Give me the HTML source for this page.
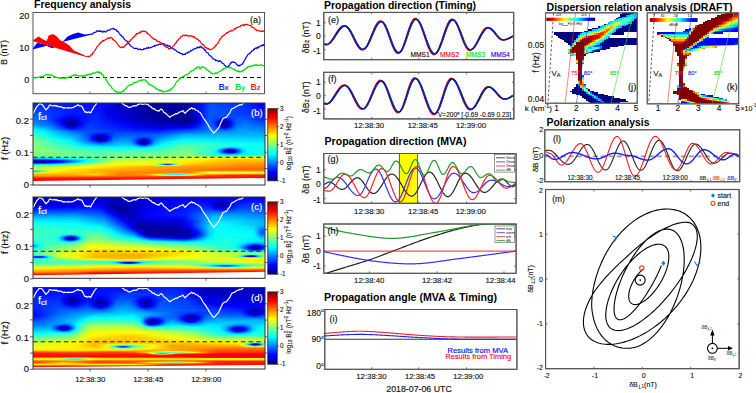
<!DOCTYPE html>
<html><head><meta charset="utf-8"><style>
html,body{margin:0;padding:0;background:#fff;overflow:hidden}
svg{display:block;font-family:"Liberation Sans", sans-serif}
</style></head><body>
<svg width="756" height="393" viewBox="0 0 756 393" font-family='&quot;Liberation Sans&quot;, sans-serif'>
<defs>
<linearGradient id="b0"><stop offset="0.002" stop-color="#0026ff"/><stop offset="0.200" stop-color="#0016ff"/><stop offset="0.289" stop-color="#000cff"/><stop offset="0.373" stop-color="#0000bd"/><stop offset="0.542" stop-color="#000094"/><stop offset="0.669" stop-color="#0000a1"/><stop offset="0.715" stop-color="#0007ff"/><stop offset="0.757" stop-color="#004cff"/><stop offset="0.914" stop-color="#0028ff"/><stop offset="0.964" stop-color="#0000f1"/><stop offset="0.998" stop-color="#0000e7"/></linearGradient>
<linearGradient id="b1"><stop offset="0.002" stop-color="#002aff"/><stop offset="0.192" stop-color="#0017ff"/><stop offset="0.289" stop-color="#000dff"/><stop offset="0.373" stop-color="#0000bf"/><stop offset="0.538" stop-color="#000095"/><stop offset="0.669" stop-color="#0000a1"/><stop offset="0.715" stop-color="#0008ff"/><stop offset="0.757" stop-color="#004eff"/><stop offset="0.918" stop-color="#0026ff"/><stop offset="0.968" stop-color="#0000f1"/><stop offset="0.998" stop-color="#0000eb"/></linearGradient>
<linearGradient id="b2"><stop offset="0.002" stop-color="#002fff"/><stop offset="0.184" stop-color="#0017ff"/><stop offset="0.289" stop-color="#000eff"/><stop offset="0.373" stop-color="#0000c1"/><stop offset="0.538" stop-color="#000095"/><stop offset="0.669" stop-color="#0000a2"/><stop offset="0.715" stop-color="#0009ff"/><stop offset="0.757" stop-color="#004fff"/><stop offset="0.918" stop-color="#0028ff"/><stop offset="0.973" stop-color="#0000f2"/><stop offset="0.998" stop-color="#0000ee"/></linearGradient>
<linearGradient id="b3"><stop offset="0.002" stop-color="#0034ff"/><stop offset="0.179" stop-color="#0018ff"/><stop offset="0.289" stop-color="#000fff"/><stop offset="0.378" stop-color="#0000c2"/><stop offset="0.534" stop-color="#000096"/><stop offset="0.669" stop-color="#0000a3"/><stop offset="0.715" stop-color="#000aff"/><stop offset="0.757" stop-color="#0051ff"/><stop offset="0.918" stop-color="#002bff"/><stop offset="0.977" stop-color="#0000f4"/><stop offset="0.998" stop-color="#0000f2"/></linearGradient>
<linearGradient id="b4"><stop offset="0.002" stop-color="#0038ff"/><stop offset="0.171" stop-color="#0019ff"/><stop offset="0.289" stop-color="#0011ff"/><stop offset="0.357" stop-color="#0000c7"/><stop offset="0.538" stop-color="#000097"/><stop offset="0.669" stop-color="#0000a3"/><stop offset="0.715" stop-color="#000bff"/><stop offset="0.757" stop-color="#0053ff"/><stop offset="0.918" stop-color="#002dff"/><stop offset="0.981" stop-color="#0000f6"/><stop offset="0.998" stop-color="#0000f6"/></linearGradient>
<linearGradient id="b5"><stop offset="0.002" stop-color="#003dff"/><stop offset="0.167" stop-color="#001aff"/><stop offset="0.289" stop-color="#0012ff"/><stop offset="0.335" stop-color="#0000d8"/><stop offset="0.521" stop-color="#000097"/><stop offset="0.669" stop-color="#0000a4"/><stop offset="0.715" stop-color="#000cff"/><stop offset="0.757" stop-color="#0054ff"/><stop offset="0.918" stop-color="#002fff"/><stop offset="0.985" stop-color="#0000f9"/><stop offset="0.998" stop-color="#0000f9"/></linearGradient>
<linearGradient id="b6"><stop offset="0.002" stop-color="#0041ff"/><stop offset="0.167" stop-color="#001cff"/><stop offset="0.289" stop-color="#0013ff"/><stop offset="0.327" stop-color="#0000e4"/><stop offset="0.496" stop-color="#000098"/><stop offset="0.669" stop-color="#0000a4"/><stop offset="0.715" stop-color="#000dff"/><stop offset="0.757" stop-color="#0056ff"/><stop offset="0.918" stop-color="#0031ff"/><stop offset="0.989" stop-color="#0000fd"/><stop offset="0.998" stop-color="#0000fd"/></linearGradient>
<linearGradient id="b7"><stop offset="0.002" stop-color="#0046ff"/><stop offset="0.162" stop-color="#001cff"/><stop offset="0.289" stop-color="#0015ff"/><stop offset="0.331" stop-color="#0000e0"/><stop offset="0.517" stop-color="#000098"/><stop offset="0.669" stop-color="#0000a3"/><stop offset="0.715" stop-color="#000dff"/><stop offset="0.757" stop-color="#0057ff"/><stop offset="0.922" stop-color="#0030ff"/><stop offset="0.998" stop-color="#0001ff"/></linearGradient>
<linearGradient id="b8"><stop offset="0.002" stop-color="#004aff"/><stop offset="0.162" stop-color="#001cff"/><stop offset="0.289" stop-color="#0016ff"/><stop offset="0.331" stop-color="#0000e2"/><stop offset="0.517" stop-color="#000099"/><stop offset="0.669" stop-color="#0000a2"/><stop offset="0.715" stop-color="#000dff"/><stop offset="0.757" stop-color="#0059ff"/><stop offset="0.922" stop-color="#0032ff"/><stop offset="0.998" stop-color="#0005ff"/></linearGradient>
<linearGradient id="b9"><stop offset="0.002" stop-color="#0050ff"/><stop offset="0.167" stop-color="#001bff"/><stop offset="0.285" stop-color="#001bff"/><stop offset="0.327" stop-color="#0000e8"/><stop offset="0.508" stop-color="#00009a"/><stop offset="0.669" stop-color="#0000a0"/><stop offset="0.715" stop-color="#000cff"/><stop offset="0.757" stop-color="#005aff"/><stop offset="0.922" stop-color="#0034ff"/><stop offset="0.998" stop-color="#0009ff"/></linearGradient>
<linearGradient id="b10"><stop offset="0.002" stop-color="#0056ff"/><stop offset="0.171" stop-color="#0018ff"/><stop offset="0.285" stop-color="#001cff"/><stop offset="0.327" stop-color="#0000ea"/><stop offset="0.513" stop-color="#00009a"/><stop offset="0.669" stop-color="#00009d"/><stop offset="0.715" stop-color="#000aff"/><stop offset="0.753" stop-color="#0059ff"/><stop offset="0.922" stop-color="#0036ff"/><stop offset="0.998" stop-color="#000cff"/></linearGradient>
<linearGradient id="b11"><stop offset="0.002" stop-color="#005cff"/><stop offset="0.175" stop-color="#0012ff"/><stop offset="0.281" stop-color="#0021ff"/><stop offset="0.327" stop-color="#0000eb"/><stop offset="0.513" stop-color="#00009b"/><stop offset="0.669" stop-color="#00009a"/><stop offset="0.715" stop-color="#0007ff"/><stop offset="0.753" stop-color="#0059ff"/><stop offset="0.922" stop-color="#0039ff"/><stop offset="0.998" stop-color="#0010ff"/></linearGradient>
<linearGradient id="b12"><stop offset="0.002" stop-color="#0062ff"/><stop offset="0.179" stop-color="#000aff"/><stop offset="0.276" stop-color="#0024ff"/><stop offset="0.327" stop-color="#0000ee"/><stop offset="0.513" stop-color="#00009b"/><stop offset="0.669" stop-color="#000095"/><stop offset="0.715" stop-color="#0004ff"/><stop offset="0.753" stop-color="#005aff"/><stop offset="0.922" stop-color="#003cff"/><stop offset="0.998" stop-color="#0013ff"/></linearGradient>
<linearGradient id="b13"><stop offset="0.002" stop-color="#0069ff"/><stop offset="0.099" stop-color="#002bff"/><stop offset="0.175" stop-color="#0000fa"/><stop offset="0.268" stop-color="#0029ff"/><stop offset="0.331" stop-color="#0000ef"/><stop offset="0.517" stop-color="#00009c"/><stop offset="0.669" stop-color="#000090"/><stop offset="0.707" stop-color="#0000e4"/><stop offset="0.719" stop-color="#000eff"/><stop offset="0.753" stop-color="#005bff"/><stop offset="0.842" stop-color="#004bff"/><stop offset="0.918" stop-color="#0045ff"/><stop offset="0.998" stop-color="#0017ff"/></linearGradient>
<linearGradient id="b14"><stop offset="0.002" stop-color="#006fff"/><stop offset="0.086" stop-color="#0037ff"/><stop offset="0.150" stop-color="#0000f2"/><stop offset="0.188" stop-color="#0000f3"/><stop offset="0.268" stop-color="#002aff"/><stop offset="0.335" stop-color="#0000f0"/><stop offset="0.517" stop-color="#00009d"/><stop offset="0.669" stop-color="#00008c"/><stop offset="0.703" stop-color="#0000d2"/><stop offset="0.719" stop-color="#000cff"/><stop offset="0.753" stop-color="#005cff"/><stop offset="0.829" stop-color="#003aff"/><stop offset="0.897" stop-color="#0057ff"/><stop offset="0.994" stop-color="#001bff"/><stop offset="0.998" stop-color="#001bff"/></linearGradient>
<linearGradient id="b15"><stop offset="0.002" stop-color="#0075ff"/><stop offset="0.078" stop-color="#0043ff"/><stop offset="0.137" stop-color="#0000f7"/><stop offset="0.171" stop-color="#0000d1"/><stop offset="0.213" stop-color="#000eff"/><stop offset="0.272" stop-color="#002aff"/><stop offset="0.344" stop-color="#0000ee"/><stop offset="0.454" stop-color="#0000b2"/><stop offset="0.669" stop-color="#000089"/><stop offset="0.703" stop-color="#0000d0"/><stop offset="0.719" stop-color="#000cff"/><stop offset="0.753" stop-color="#005dff"/><stop offset="0.791" stop-color="#003cff"/><stop offset="0.821" stop-color="#001fff"/><stop offset="0.880" stop-color="#005eff"/><stop offset="0.998" stop-color="#001eff"/></linearGradient>
<linearGradient id="b16"><stop offset="0.002" stop-color="#007cff"/><stop offset="0.074" stop-color="#004aff"/><stop offset="0.133" stop-color="#0000f4"/><stop offset="0.167" stop-color="#0000b9"/><stop offset="0.200" stop-color="#0000ea"/><stop offset="0.226" stop-color="#001bff"/><stop offset="0.285" stop-color="#0026ff"/><stop offset="0.352" stop-color="#0000f0"/><stop offset="0.441" stop-color="#0000bf"/><stop offset="0.521" stop-color="#00009e"/><stop offset="0.618" stop-color="#00008b"/><stop offset="0.673" stop-color="#00008d"/><stop offset="0.711" stop-color="#0000f0"/><stop offset="0.736" stop-color="#0042ff"/><stop offset="0.762" stop-color="#005fff"/><stop offset="0.816" stop-color="#0000fc"/><stop offset="0.876" stop-color="#0061ff"/><stop offset="0.939" stop-color="#003fff"/><stop offset="0.998" stop-color="#0022ff"/></linearGradient>
<linearGradient id="b17"><stop offset="0.002" stop-color="#0082ff"/><stop offset="0.074" stop-color="#0050ff"/><stop offset="0.129" stop-color="#0000f8"/><stop offset="0.167" stop-color="#0000a3"/><stop offset="0.196" stop-color="#0000d3"/><stop offset="0.217" stop-color="#000bff"/><stop offset="0.264" stop-color="#002eff"/><stop offset="0.361" stop-color="#0000f3"/><stop offset="0.454" stop-color="#0000ba"/><stop offset="0.538" stop-color="#0000a5"/><stop offset="0.618" stop-color="#00008e"/><stop offset="0.669" stop-color="#00008a"/><stop offset="0.707" stop-color="#0000e6"/><stop offset="0.724" stop-color="#0021ff"/><stop offset="0.753" stop-color="#005eff"/><stop offset="0.778" stop-color="#003fff"/><stop offset="0.800" stop-color="#0000f4"/><stop offset="0.821" stop-color="#0000da"/><stop offset="0.838" stop-color="#000aff"/><stop offset="0.867" stop-color="#005cff"/><stop offset="0.914" stop-color="#005dff"/><stop offset="0.994" stop-color="#0028ff"/><stop offset="0.998" stop-color="#0028ff"/></linearGradient>
<linearGradient id="b18"><stop offset="0.002" stop-color="#0088ff"/><stop offset="0.074" stop-color="#0059ff"/><stop offset="0.129" stop-color="#0000f7"/><stop offset="0.162" stop-color="#000093"/><stop offset="0.184" stop-color="#0000a3"/><stop offset="0.217" stop-color="#0009ff"/><stop offset="0.259" stop-color="#0031ff"/><stop offset="0.373" stop-color="#0000f8"/><stop offset="0.508" stop-color="#0000ac"/><stop offset="0.605" stop-color="#00009e"/><stop offset="0.660" stop-color="#000088"/><stop offset="0.698" stop-color="#0000d1"/><stop offset="0.715" stop-color="#000bff"/><stop offset="0.749" stop-color="#005dff"/><stop offset="0.774" stop-color="#0043ff"/><stop offset="0.791" stop-color="#0000fe"/><stop offset="0.812" stop-color="#0000b2"/><stop offset="0.829" stop-color="#0000cd"/><stop offset="0.842" stop-color="#0007ff"/><stop offset="0.867" stop-color="#005dff"/><stop offset="0.909" stop-color="#0066ff"/><stop offset="0.998" stop-color="#0032ff"/></linearGradient>
<linearGradient id="b19"><stop offset="0.002" stop-color="#008eff"/><stop offset="0.078" stop-color="#005eff"/><stop offset="0.129" stop-color="#0000f8"/><stop offset="0.162" stop-color="#000087"/><stop offset="0.184" stop-color="#000099"/><stop offset="0.217" stop-color="#0009ff"/><stop offset="0.259" stop-color="#0034ff"/><stop offset="0.390" stop-color="#0000fa"/><stop offset="0.508" stop-color="#0000b4"/><stop offset="0.601" stop-color="#0000ab"/><stop offset="0.660" stop-color="#000091"/><stop offset="0.698" stop-color="#0000db"/><stop offset="0.715" stop-color="#0013ff"/><stop offset="0.749" stop-color="#005fff"/><stop offset="0.770" stop-color="#004bff"/><stop offset="0.787" stop-color="#0005ff"/><stop offset="0.812" stop-color="#000094"/><stop offset="0.829" stop-color="#0000b3"/><stop offset="0.846" stop-color="#0010ff"/><stop offset="0.867" stop-color="#005fff"/><stop offset="0.905" stop-color="#006eff"/><stop offset="0.998" stop-color="#003bff"/></linearGradient>
<linearGradient id="b20"><stop offset="0.002" stop-color="#0095ff"/><stop offset="0.082" stop-color="#0062ff"/><stop offset="0.120" stop-color="#001cff"/><stop offset="0.133" stop-color="#0000ec"/><stop offset="0.162" stop-color="#000084"/><stop offset="0.184" stop-color="#000097"/><stop offset="0.213" stop-color="#0001ff"/><stop offset="0.247" stop-color="#0033ff"/><stop offset="0.319" stop-color="#001cff"/><stop offset="0.420" stop-color="#0000ed"/><stop offset="0.513" stop-color="#0000be"/><stop offset="0.605" stop-color="#0000b3"/><stop offset="0.660" stop-color="#00009f"/><stop offset="0.698" stop-color="#0000e8"/><stop offset="0.715" stop-color="#001cff"/><stop offset="0.749" stop-color="#0062ff"/><stop offset="0.770" stop-color="#004bff"/><stop offset="0.787" stop-color="#0000fd"/><stop offset="0.808" stop-color="#00008d"/><stop offset="0.821" stop-color="#000087"/><stop offset="0.846" stop-color="#000bff"/><stop offset="0.867" stop-color="#0062ff"/><stop offset="0.905" stop-color="#0074ff"/><stop offset="0.998" stop-color="#0045ff"/></linearGradient>
<linearGradient id="b21"><stop offset="0.002" stop-color="#009bff"/><stop offset="0.086" stop-color="#0067ff"/><stop offset="0.124" stop-color="#0018ff"/><stop offset="0.137" stop-color="#0000e4"/><stop offset="0.162" stop-color="#00008d"/><stop offset="0.184" stop-color="#00009f"/><stop offset="0.213" stop-color="#0006ff"/><stop offset="0.247" stop-color="#0037ff"/><stop offset="0.327" stop-color="#001bff"/><stop offset="0.424" stop-color="#0000f1"/><stop offset="0.513" stop-color="#0000c7"/><stop offset="0.610" stop-color="#0000bf"/><stop offset="0.665" stop-color="#0000b4"/><stop offset="0.707" stop-color="#0010ff"/><stop offset="0.749" stop-color="#0066ff"/><stop offset="0.770" stop-color="#004dff"/><stop offset="0.787" stop-color="#0000ff"/><stop offset="0.808" stop-color="#00008f"/><stop offset="0.821" stop-color="#000089"/><stop offset="0.846" stop-color="#000fff"/><stop offset="0.867" stop-color="#0067ff"/><stop offset="0.905" stop-color="#007aff"/><stop offset="0.998" stop-color="#004fff"/></linearGradient>
<linearGradient id="b22"><stop offset="0.002" stop-color="#00a8ff"/><stop offset="0.082" stop-color="#0078ff"/><stop offset="0.124" stop-color="#0026ff"/><stop offset="0.137" stop-color="#0000f4"/><stop offset="0.162" stop-color="#0000a0"/><stop offset="0.184" stop-color="#0000b0"/><stop offset="0.209" stop-color="#0004ff"/><stop offset="0.243" stop-color="#0039ff"/><stop offset="0.323" stop-color="#0024ff"/><stop offset="0.432" stop-color="#0000f2"/><stop offset="0.521" stop-color="#0000d0"/><stop offset="0.618" stop-color="#0000ca"/><stop offset="0.669" stop-color="#0000cd"/><stop offset="0.698" stop-color="#0008ff"/><stop offset="0.745" stop-color="#0067ff"/><stop offset="0.770" stop-color="#0052ff"/><stop offset="0.791" stop-color="#0000f3"/><stop offset="0.812" stop-color="#00009a"/><stop offset="0.825" stop-color="#0000a9"/><stop offset="0.842" stop-color="#0002ff"/><stop offset="0.863" stop-color="#0064ff"/><stop offset="0.897" stop-color="#0083ff"/><stop offset="0.998" stop-color="#0058ff"/></linearGradient>
<linearGradient id="b23"><stop offset="0.002" stop-color="#00bdff"/><stop offset="0.078" stop-color="#008aff"/><stop offset="0.124" stop-color="#0038ff"/><stop offset="0.146" stop-color="#0000ea"/><stop offset="0.167" stop-color="#0000b9"/><stop offset="0.192" stop-color="#0000e1"/><stop offset="0.209" stop-color="#0012ff"/><stop offset="0.247" stop-color="#003eff"/><stop offset="0.445" stop-color="#0000f1"/><stop offset="0.530" stop-color="#0000db"/><stop offset="0.669" stop-color="#0000e2"/><stop offset="0.694" stop-color="#000eff"/><stop offset="0.749" stop-color="#006dff"/><stop offset="0.774" stop-color="#004eff"/><stop offset="0.795" stop-color="#0000f5"/><stop offset="0.812" stop-color="#0000be"/><stop offset="0.829" stop-color="#0000da"/><stop offset="0.838" stop-color="#0003ff"/><stop offset="0.863" stop-color="#006dff"/><stop offset="0.901" stop-color="#0087ff"/><stop offset="0.998" stop-color="#0062ff"/></linearGradient>
<linearGradient id="b24"><stop offset="0.002" stop-color="#00d1ff"/><stop offset="0.070" stop-color="#00a3ff"/><stop offset="0.129" stop-color="#0040ff"/><stop offset="0.154" stop-color="#0000f1"/><stop offset="0.179" stop-color="#0000e3"/><stop offset="0.205" stop-color="#0019ff"/><stop offset="0.247" stop-color="#0042ff"/><stop offset="0.432" stop-color="#0004ff"/><stop offset="0.525" stop-color="#0000e3"/><stop offset="0.673" stop-color="#0000fb"/><stop offset="0.749" stop-color="#0071ff"/><stop offset="0.778" stop-color="#004fff"/><stop offset="0.804" stop-color="#0000f8"/><stop offset="0.821" stop-color="#0000ec"/><stop offset="0.833" stop-color="#0011ff"/><stop offset="0.867" stop-color="#0080ff"/><stop offset="0.918" stop-color="#0087ff"/><stop offset="0.998" stop-color="#006bff"/></linearGradient>
<linearGradient id="b25"><stop offset="0.002" stop-color="#00e5ff"/><stop offset="0.065" stop-color="#00b8ff"/><stop offset="0.137" stop-color="#0042ff"/><stop offset="0.171" stop-color="#0004ff"/><stop offset="0.238" stop-color="#0046ff"/><stop offset="0.428" stop-color="#0012ff"/><stop offset="0.517" stop-color="#0000ee"/><stop offset="0.673" stop-color="#0013ff"/><stop offset="0.753" stop-color="#0076ff"/><stop offset="0.787" stop-color="#004aff"/><stop offset="0.816" stop-color="#0016ff"/><stop offset="0.871" stop-color="#008eff"/><stop offset="0.998" stop-color="#0075ff"/></linearGradient>
<linearGradient id="b26"><stop offset="0.002" stop-color="#00faff"/><stop offset="0.061" stop-color="#00cdff"/><stop offset="0.171" stop-color="#0029ff"/><stop offset="0.251" stop-color="#0049ff"/><stop offset="0.437" stop-color="#0018ff"/><stop offset="0.530" stop-color="#0002ff"/><stop offset="0.686" stop-color="#003aff"/><stop offset="0.757" stop-color="#007aff"/><stop offset="0.821" stop-color="#0041ff"/><stop offset="0.876" stop-color="#0098ff"/><stop offset="0.998" stop-color="#007eff"/></linearGradient>
<linearGradient id="b27"><stop offset="0.002" stop-color="#0bfff4"/><stop offset="0.049" stop-color="#00edff"/><stop offset="0.175" stop-color="#004aff"/><stop offset="0.289" stop-color="#0042ff"/><stop offset="0.441" stop-color="#0022ff"/><stop offset="0.534" stop-color="#0015ff"/><stop offset="0.703" stop-color="#0060ff"/><stop offset="0.766" stop-color="#007fff"/><stop offset="0.821" stop-color="#0063ff"/><stop offset="0.880" stop-color="#00a0ff"/><stop offset="0.998" stop-color="#0088ff"/></linearGradient>
<linearGradient id="b28"><stop offset="0.002" stop-color="#17ffe8"/><stop offset="0.053" stop-color="#00f3ff"/><stop offset="0.179" stop-color="#0065ff"/><stop offset="0.327" stop-color="#0040ff"/><stop offset="0.445" stop-color="#002cff"/><stop offset="0.542" stop-color="#0029ff"/><stop offset="0.770" stop-color="#008bff"/><stop offset="0.829" stop-color="#0085ff"/><stop offset="0.897" stop-color="#00a7ff"/><stop offset="0.998" stop-color="#0091ff"/></linearGradient>
<linearGradient id="b29"><stop offset="0.002" stop-color="#24ffdb"/><stop offset="0.061" stop-color="#00f3ff"/><stop offset="0.167" stop-color="#0085ff"/><stop offset="0.306" stop-color="#0030ff"/><stop offset="0.395" stop-color="#0049ff"/><stop offset="0.530" stop-color="#0034ff"/><stop offset="0.656" stop-color="#0075ff"/><stop offset="0.787" stop-color="#0094ff"/><stop offset="0.922" stop-color="#00a8ff"/><stop offset="0.998" stop-color="#009bff"/></linearGradient>
<linearGradient id="b30"><stop offset="0.002" stop-color="#30ffcf"/><stop offset="0.057" stop-color="#06fff9"/><stop offset="0.133" stop-color="#00b7ff"/><stop offset="0.264" stop-color="#0039ff"/><stop offset="0.302" stop-color="#0018ff"/><stop offset="0.369" stop-color="#0053ff"/><stop offset="0.530" stop-color="#0044ff"/><stop offset="0.652" stop-color="#008eff"/><stop offset="0.926" stop-color="#00aeff"/><stop offset="0.998" stop-color="#00a4ff"/></linearGradient>
<linearGradient id="b31"><stop offset="0.002" stop-color="#3cffc3"/><stop offset="0.057" stop-color="#11ffee"/><stop offset="0.103" stop-color="#00d2ff"/><stop offset="0.213" stop-color="#007cff"/><stop offset="0.268" stop-color="#001eff"/><stop offset="0.289" stop-color="#0000f5"/><stop offset="0.314" stop-color="#000eff"/><stop offset="0.357" stop-color="#0056ff"/><stop offset="0.530" stop-color="#0055ff"/><stop offset="0.648" stop-color="#00a6ff"/><stop offset="0.951" stop-color="#00b1ff"/><stop offset="0.998" stop-color="#00aeff"/></linearGradient>
<linearGradient id="b32"><stop offset="0.002" stop-color="#48ffb7"/><stop offset="0.057" stop-color="#1dffe2"/><stop offset="0.091" stop-color="#00ebff"/><stop offset="0.196" stop-color="#0097ff"/><stop offset="0.251" stop-color="#003eff"/><stop offset="0.272" stop-color="#0000f7"/><stop offset="0.293" stop-color="#0000ca"/><stop offset="0.323" stop-color="#000fff"/><stop offset="0.357" stop-color="#005cff"/><stop offset="0.458" stop-color="#0053ff"/><stop offset="0.542" stop-color="#006dff"/><stop offset="0.648" stop-color="#00baff"/><stop offset="0.998" stop-color="#00b7ff"/></linearGradient>
<linearGradient id="b33"><stop offset="0.002" stop-color="#55ffaa"/><stop offset="0.057" stop-color="#29ffd6"/><stop offset="0.095" stop-color="#00f1ff"/><stop offset="0.184" stop-color="#00b1ff"/><stop offset="0.243" stop-color="#0052ff"/><stop offset="0.264" stop-color="#0003ff"/><stop offset="0.289" stop-color="#0000a6"/><stop offset="0.306" stop-color="#0000b6"/><stop offset="0.323" stop-color="#0000fc"/><stop offset="0.352" stop-color="#005eff"/><stop offset="0.420" stop-color="#006eff"/><stop offset="0.487" stop-color="#004eff"/><stop offset="0.643" stop-color="#00c9ff"/><stop offset="0.998" stop-color="#00bfff"/></linearGradient>
<linearGradient id="b34"><stop offset="0.002" stop-color="#61ff9e"/><stop offset="0.057" stop-color="#35ffca"/><stop offset="0.103" stop-color="#00f5ff"/><stop offset="0.179" stop-color="#00c0ff"/><stop offset="0.243" stop-color="#0052ff"/><stop offset="0.264" stop-color="#0000f6"/><stop offset="0.289" stop-color="#00008b"/><stop offset="0.306" stop-color="#00009d"/><stop offset="0.327" stop-color="#0008ff"/><stop offset="0.352" stop-color="#0065ff"/><stop offset="0.407" stop-color="#007cff"/><stop offset="0.454" stop-color="#004dff"/><stop offset="0.483" stop-color="#003aff"/><stop offset="0.568" stop-color="#00a3ff"/><stop offset="0.652" stop-color="#00d9ff"/><stop offset="0.998" stop-color="#00c7ff"/></linearGradient>
<linearGradient id="b35"><stop offset="0.002" stop-color="#6dff92"/><stop offset="0.053" stop-color="#47ffb8"/><stop offset="0.112" stop-color="#00fbff"/><stop offset="0.175" stop-color="#00cfff"/><stop offset="0.238" stop-color="#0063ff"/><stop offset="0.264" stop-color="#0000f5"/><stop offset="0.289" stop-color="#000084"/><stop offset="0.306" stop-color="#000097"/><stop offset="0.327" stop-color="#0009ff"/><stop offset="0.352" stop-color="#006eff"/><stop offset="0.403" stop-color="#0087ff"/><stop offset="0.437" stop-color="#0067ff"/><stop offset="0.470" stop-color="#0011ff"/><stop offset="0.492" stop-color="#002bff"/><stop offset="0.534" stop-color="#0090ff"/><stop offset="0.643" stop-color="#00e8ff"/><stop offset="0.998" stop-color="#00cfff"/></linearGradient>
<linearGradient id="b36"><stop offset="0.002" stop-color="#79ff86"/><stop offset="0.053" stop-color="#53ffac"/><stop offset="0.116" stop-color="#05fffa"/><stop offset="0.167" stop-color="#00e4ff"/><stop offset="0.238" stop-color="#006aff"/><stop offset="0.264" stop-color="#0001ff"/><stop offset="0.289" stop-color="#000095"/><stop offset="0.306" stop-color="#0000a8"/><stop offset="0.323" stop-color="#0000fe"/><stop offset="0.348" stop-color="#0070ff"/><stop offset="0.386" stop-color="#0093ff"/><stop offset="0.428" stop-color="#007aff"/><stop offset="0.462" stop-color="#0000f3"/><stop offset="0.479" stop-color="#0000de"/><stop offset="0.492" stop-color="#0006ff"/><stop offset="0.525" stop-color="#008cff"/><stop offset="0.631" stop-color="#00f4ff"/><stop offset="0.998" stop-color="#00d7ff"/></linearGradient>
<linearGradient id="b37"><stop offset="0.002" stop-color="#81ff7e"/><stop offset="0.057" stop-color="#55ffaa"/><stop offset="0.120" stop-color="#10ffef"/><stop offset="0.167" stop-color="#00efff"/><stop offset="0.243" stop-color="#006bff"/><stop offset="0.272" stop-color="#0000f2"/><stop offset="0.293" stop-color="#0000b8"/><stop offset="0.310" stop-color="#0000dd"/><stop offset="0.323" stop-color="#001aff"/><stop offset="0.348" stop-color="#007fff"/><stop offset="0.390" stop-color="#009fff"/><stop offset="0.424" stop-color="#0089ff"/><stop offset="0.445" stop-color="#0030ff"/><stop offset="0.454" stop-color="#0000f9"/><stop offset="0.470" stop-color="#0000aa"/><stop offset="0.483" stop-color="#0000b6"/><stop offset="0.496" stop-color="#0000fa"/><stop offset="0.521" stop-color="#0087ff"/><stop offset="0.559" stop-color="#00c8ff"/><stop offset="0.639" stop-color="#06fff9"/><stop offset="0.998" stop-color="#00dfff"/></linearGradient>
<linearGradient id="b38"><stop offset="0.002" stop-color="#83ff7c"/><stop offset="0.061" stop-color="#55ffaa"/><stop offset="0.120" stop-color="#1bffe4"/><stop offset="0.175" stop-color="#00f0ff"/><stop offset="0.247" stop-color="#0075ff"/><stop offset="0.285" stop-color="#0000f8"/><stop offset="0.310" stop-color="#000eff"/><stop offset="0.348" stop-color="#0091ff"/><stop offset="0.403" stop-color="#00a9ff"/><stop offset="0.428" stop-color="#0084ff"/><stop offset="0.449" stop-color="#0008ff"/><stop offset="0.470" stop-color="#000089"/><stop offset="0.483" stop-color="#000097"/><stop offset="0.500" stop-color="#000aff"/><stop offset="0.521" stop-color="#008fff"/><stop offset="0.551" stop-color="#00ceff"/><stop offset="0.618" stop-color="#0dfff2"/><stop offset="0.960" stop-color="#00eaff"/><stop offset="0.998" stop-color="#00e8ff"/></linearGradient>
<linearGradient id="b39"><stop offset="0.002" stop-color="#85ff7a"/><stop offset="0.065" stop-color="#55ffaa"/><stop offset="0.129" stop-color="#26ffd9"/><stop offset="0.184" stop-color="#00f0ff"/><stop offset="0.259" stop-color="#006eff"/><stop offset="0.293" stop-color="#002cff"/><stop offset="0.323" stop-color="#0067ff"/><stop offset="0.357" stop-color="#00acff"/><stop offset="0.416" stop-color="#00acff"/><stop offset="0.437" stop-color="#0067ff"/><stop offset="0.449" stop-color="#000eff"/><stop offset="0.470" stop-color="#00008a"/><stop offset="0.483" stop-color="#000098"/><stop offset="0.500" stop-color="#0011ff"/><stop offset="0.521" stop-color="#009cff"/><stop offset="0.551" stop-color="#00deff"/><stop offset="0.601" stop-color="#10ffef"/><stop offset="0.686" stop-color="#24ffdb"/><stop offset="0.977" stop-color="#00f0ff"/><stop offset="0.998" stop-color="#00f0ff"/></linearGradient>
<linearGradient id="b40"><stop offset="0.002" stop-color="#87ff78"/><stop offset="0.070" stop-color="#57ffa8"/><stop offset="0.192" stop-color="#00f1ff"/><stop offset="0.293" stop-color="#0064ff"/><stop offset="0.365" stop-color="#00beff"/><stop offset="0.420" stop-color="#00b4ff"/><stop offset="0.441" stop-color="#0064ff"/><stop offset="0.454" stop-color="#000bff"/><stop offset="0.470" stop-color="#0000b1"/><stop offset="0.483" stop-color="#0000bf"/><stop offset="0.496" stop-color="#000eff"/><stop offset="0.521" stop-color="#00afff"/><stop offset="0.555" stop-color="#00f2ff"/><stop offset="0.660" stop-color="#35ffca"/><stop offset="0.998" stop-color="#00f8ff"/></linearGradient>
<linearGradient id="b41"><stop offset="0.002" stop-color="#89ff76"/><stop offset="0.078" stop-color="#56ffa9"/><stop offset="0.175" stop-color="#16ffe9"/><stop offset="0.213" stop-color="#00e1ff"/><stop offset="0.297" stop-color="#0093ff"/><stop offset="0.373" stop-color="#00cbff"/><stop offset="0.424" stop-color="#00beff"/><stop offset="0.445" stop-color="#0070ff"/><stop offset="0.466" stop-color="#0002ff"/><stop offset="0.483" stop-color="#0003ff"/><stop offset="0.521" stop-color="#00c7ff"/><stop offset="0.555" stop-color="#02fffd"/><stop offset="0.648" stop-color="#45ffba"/><stop offset="0.825" stop-color="#23ffdc"/><stop offset="0.998" stop-color="#01fffe"/></linearGradient>
<linearGradient id="b42"><stop offset="0.002" stop-color="#8bff74"/><stop offset="0.179" stop-color="#1cffe3"/><stop offset="0.217" stop-color="#00ecff"/><stop offset="0.297" stop-color="#00baff"/><stop offset="0.407" stop-color="#00ddff"/><stop offset="0.437" stop-color="#00baff"/><stop offset="0.470" stop-color="#0049ff"/><stop offset="0.487" stop-color="#005fff"/><stop offset="0.525" stop-color="#00e9ff"/><stop offset="0.559" stop-color="#14ffeb"/><stop offset="0.652" stop-color="#50ffaf"/><stop offset="0.812" stop-color="#2affd5"/><stop offset="0.892" stop-color="#16ffe9"/><stop offset="0.998" stop-color="#06fff9"/></linearGradient>
<linearGradient id="b43"><stop offset="0.002" stop-color="#8dff72"/><stop offset="0.184" stop-color="#24ffdb"/><stop offset="0.234" stop-color="#00f1ff"/><stop offset="0.323" stop-color="#00e4ff"/><stop offset="0.428" stop-color="#00e6ff"/><stop offset="0.475" stop-color="#0095ff"/><stop offset="0.530" stop-color="#03fffc"/><stop offset="0.643" stop-color="#57ffa8"/><stop offset="0.800" stop-color="#27ffd8"/><stop offset="0.846" stop-color="#00faff"/><stop offset="0.947" stop-color="#0efff1"/><stop offset="0.998" stop-color="#08fff7"/></linearGradient>
<linearGradient id="b44"><stop offset="0.002" stop-color="#8fff70"/><stop offset="0.196" stop-color="#25ffda"/><stop offset="0.272" stop-color="#00fbff"/><stop offset="0.441" stop-color="#00f3ff"/><stop offset="0.479" stop-color="#00d4ff"/><stop offset="0.525" stop-color="#10ffef"/><stop offset="0.648" stop-color="#5fffa0"/><stop offset="0.787" stop-color="#25ffda"/><stop offset="0.812" stop-color="#00edff"/><stop offset="0.846" stop-color="#00bfff"/><stop offset="0.897" stop-color="#09fff6"/><stop offset="0.998" stop-color="#0afff5"/></linearGradient>
<linearGradient id="b45"><stop offset="0.002" stop-color="#91ff6e"/><stop offset="0.281" stop-color="#14ffeb"/><stop offset="0.458" stop-color="#05fffa"/><stop offset="0.525" stop-color="#20ffdf"/><stop offset="0.652" stop-color="#66ff99"/><stop offset="0.778" stop-color="#21ffde"/><stop offset="0.795" stop-color="#00f2ff"/><stop offset="0.833" stop-color="#0063ff"/><stop offset="0.854" stop-color="#006fff"/><stop offset="0.901" stop-color="#00ffff"/><stop offset="0.968" stop-color="#0dfff2"/><stop offset="0.998" stop-color="#0cfff3"/></linearGradient>
<linearGradient id="b46"><stop offset="0.002" stop-color="#93ff6c"/><stop offset="0.285" stop-color="#2bffd4"/><stop offset="0.517" stop-color="#2bffd4"/><stop offset="0.656" stop-color="#6dff92"/><stop offset="0.774" stop-color="#1cffe3"/><stop offset="0.787" stop-color="#00f2ff"/><stop offset="0.829" stop-color="#0000fc"/><stop offset="0.846" stop-color="#0000ec"/><stop offset="0.859" stop-color="#001dff"/><stop offset="0.892" stop-color="#00d6ff"/><stop offset="0.914" stop-color="#08fff7"/><stop offset="0.998" stop-color="#0efff1"/></linearGradient>
<linearGradient id="b47"><stop offset="0.002" stop-color="#92ff6d"/><stop offset="0.268" stop-color="#3cffc3"/><stop offset="0.538" stop-color="#41ffbe"/><stop offset="0.660" stop-color="#73ff8c"/><stop offset="0.770" stop-color="#1cffe3"/><stop offset="0.783" stop-color="#00f2ff"/><stop offset="0.804" stop-color="#0069ff"/><stop offset="0.816" stop-color="#0000fe"/><stop offset="0.833" stop-color="#00009a"/><stop offset="0.846" stop-color="#000097"/><stop offset="0.863" stop-color="#0000f3"/><stop offset="0.892" stop-color="#00c4ff"/><stop offset="0.914" stop-color="#05fffa"/><stop offset="0.998" stop-color="#10ffef"/></linearGradient>
<linearGradient id="b48"><stop offset="0.002" stop-color="#8fff70"/><stop offset="0.272" stop-color="#45ffba"/><stop offset="0.551" stop-color="#53ffac"/><stop offset="0.665" stop-color="#79ff86"/><stop offset="0.770" stop-color="#1affe5"/><stop offset="0.783" stop-color="#00efff"/><stop offset="0.804" stop-color="#0064ff"/><stop offset="0.816" stop-color="#0000f7"/><stop offset="0.833" stop-color="#000091"/><stop offset="0.846" stop-color="#00008f"/><stop offset="0.867" stop-color="#000fff"/><stop offset="0.892" stop-color="#00c2ff"/><stop offset="0.914" stop-color="#05fffa"/><stop offset="0.998" stop-color="#12ffed"/></linearGradient>
<linearGradient id="b49"><stop offset="0.002" stop-color="#8bff74"/><stop offset="0.272" stop-color="#4dffb2"/><stop offset="0.559" stop-color="#62ff9d"/><stop offset="0.665" stop-color="#80ff7f"/><stop offset="0.774" stop-color="#14ffeb"/><stop offset="0.787" stop-color="#00e9ff"/><stop offset="0.825" stop-color="#0000fb"/><stop offset="0.842" stop-color="#0000d1"/><stop offset="0.859" stop-color="#000bff"/><stop offset="0.892" stop-color="#00d2ff"/><stop offset="0.914" stop-color="#09fff6"/><stop offset="0.998" stop-color="#14ffeb"/></linearGradient>
<linearGradient id="b50"><stop offset="0.002" stop-color="#88ff77"/><stop offset="0.276" stop-color="#56ffa9"/><stop offset="0.559" stop-color="#6bff94"/><stop offset="0.665" stop-color="#88ff77"/><stop offset="0.783" stop-color="#0cfff3"/><stop offset="0.800" stop-color="#00d2ff"/><stop offset="0.833" stop-color="#004bff"/><stop offset="0.854" stop-color="#005aff"/><stop offset="0.897" stop-color="#00f5ff"/><stop offset="0.977" stop-color="#17ffe8"/><stop offset="0.998" stop-color="#16ffe9"/></linearGradient>
<linearGradient id="b51"><stop offset="0.002" stop-color="#84ff7b"/><stop offset="0.281" stop-color="#5fffa0"/><stop offset="0.563" stop-color="#77ff88"/><stop offset="0.665" stop-color="#90ff6f"/><stop offset="0.770" stop-color="#27ffd8"/><stop offset="0.804" stop-color="#00f0ff"/><stop offset="0.838" stop-color="#00adff"/><stop offset="0.871" stop-color="#00d8ff"/><stop offset="0.901" stop-color="#0bfff4"/><stop offset="0.998" stop-color="#18ffe7"/></linearGradient>
<linearGradient id="b52"><stop offset="0.002" stop-color="#7fff80"/><stop offset="0.281" stop-color="#67ff98"/><stop offset="0.568" stop-color="#82ff7d"/><stop offset="0.669" stop-color="#97ff68"/><stop offset="0.850" stop-color="#16ffe9"/><stop offset="0.930" stop-color="#45ffba"/><stop offset="0.998" stop-color="#46ffb9"/></linearGradient>
<linearGradient id="b53"><stop offset="0.002" stop-color="#5cffa3"/><stop offset="0.272" stop-color="#66ff99"/><stop offset="0.576" stop-color="#8fff70"/><stop offset="0.715" stop-color="#a0ff5f"/><stop offset="0.871" stop-color="#92ff6d"/><stop offset="0.998" stop-color="#9eff61"/></linearGradient>
<linearGradient id="b54"><stop offset="0.002" stop-color="#11ffee"/><stop offset="0.188" stop-color="#3dffc2"/><stop offset="0.390" stop-color="#89ff76"/><stop offset="0.572" stop-color="#9cff63"/><stop offset="0.719" stop-color="#d7ff28"/><stop offset="0.977" stop-color="#f6ff09"/><stop offset="0.998" stop-color="#f6ff09"/></linearGradient>
<linearGradient id="b55"><stop offset="0.002" stop-color="#00bfff"/><stop offset="0.108" stop-color="#00dcff"/><stop offset="0.179" stop-color="#10ffef"/><stop offset="0.323" stop-color="#7eff81"/><stop offset="0.390" stop-color="#9dff62"/><stop offset="0.576" stop-color="#b2ff4d"/><stop offset="0.698" stop-color="#e5ff1a"/><stop offset="0.745" stop-color="#ffef00"/><stop offset="0.998" stop-color="#ffd500"/></linearGradient>
<linearGradient id="b56"><stop offset="0.002" stop-color="#0057ff"/><stop offset="0.070" stop-color="#005cff"/><stop offset="0.217" stop-color="#09fff6"/><stop offset="0.306" stop-color="#65ff9a"/><stop offset="0.365" stop-color="#aeff51"/><stop offset="0.576" stop-color="#c7ff38"/><stop offset="0.703" stop-color="#faff05"/><stop offset="0.804" stop-color="#ffd900"/><stop offset="0.998" stop-color="#ffca00"/></linearGradient>
<linearGradient id="b57"><stop offset="0.002" stop-color="#0000d9"/><stop offset="0.057" stop-color="#0000ce"/><stop offset="0.108" stop-color="#000fff"/><stop offset="0.234" stop-color="#02fffd"/><stop offset="0.310" stop-color="#72ff8d"/><stop offset="0.365" stop-color="#bfff40"/><stop offset="0.580" stop-color="#ddff22"/><stop offset="0.707" stop-color="#fff000"/><stop offset="0.816" stop-color="#ffca00"/><stop offset="0.998" stop-color="#ffbe00"/></linearGradient>
<linearGradient id="b58"><stop offset="0.002" stop-color="#000096"/><stop offset="0.053" stop-color="#000084"/><stop offset="0.108" stop-color="#0000d2"/><stop offset="0.133" stop-color="#000fff"/><stop offset="0.230" stop-color="#00ffff"/><stop offset="0.357" stop-color="#cdff32"/><stop offset="0.589" stop-color="#f4ff0b"/><stop offset="0.707" stop-color="#ffe000"/><stop offset="0.888" stop-color="#ffb300"/><stop offset="0.998" stop-color="#ffb300"/></linearGradient>
<linearGradient id="b59"><stop offset="0.002" stop-color="#0000c7"/><stop offset="0.057" stop-color="#0000bb"/><stop offset="0.112" stop-color="#000cff"/><stop offset="0.217" stop-color="#0afff5"/><stop offset="0.357" stop-color="#e1ff1e"/><stop offset="0.551" stop-color="#e5ff1a"/><stop offset="0.601" stop-color="#f9ff06"/><stop offset="0.795" stop-color="#ffb800"/><stop offset="0.998" stop-color="#ffa700"/></linearGradient>
<linearGradient id="b60"><stop offset="0.002" stop-color="#0051ff"/><stop offset="0.065" stop-color="#0054ff"/><stop offset="0.162" stop-color="#00e1ff"/><stop offset="0.188" stop-color="#15ffea"/><stop offset="0.264" stop-color="#8aff75"/><stop offset="0.365" stop-color="#f8ff07"/><stop offset="0.513" stop-color="#f3ff0c"/><stop offset="0.534" stop-color="#b4ff4b"/><stop offset="0.563" stop-color="#09fff6"/><stop offset="0.580" stop-color="#00efff"/><stop offset="0.593" stop-color="#26ffd9"/><stop offset="0.622" stop-color="#e4ff1b"/><stop offset="0.635" stop-color="#ffee00"/><stop offset="0.715" stop-color="#ffbc00"/><stop offset="0.968" stop-color="#ff9b00"/><stop offset="0.998" stop-color="#ff9b00"/></linearGradient>
<linearGradient id="b61"><stop offset="0.002" stop-color="#00e0ff"/><stop offset="0.078" stop-color="#00f5ff"/><stop offset="0.167" stop-color="#4cffb3"/><stop offset="0.259" stop-color="#bdff42"/><stop offset="0.357" stop-color="#fff500"/><stop offset="0.504" stop-color="#fff300"/><stop offset="0.521" stop-color="#ddff22"/><stop offset="0.538" stop-color="#66ff99"/><stop offset="0.546" stop-color="#0ffff0"/><stop offset="0.568" stop-color="#0043ff"/><stop offset="0.580" stop-color="#0031ff"/><stop offset="0.593" stop-color="#0088ff"/><stop offset="0.601" stop-color="#00e6ff"/><stop offset="0.610" stop-color="#4affb5"/><stop offset="0.627" stop-color="#e3ff1c"/><stop offset="0.635" stop-color="#ffef00"/><stop offset="0.660" stop-color="#ffc200"/><stop offset="0.926" stop-color="#ff9000"/><stop offset="0.998" stop-color="#ff9000"/></linearGradient>
<linearGradient id="b62"><stop offset="0.002" stop-color="#46ffb9"/><stop offset="0.154" stop-color="#88ff77"/><stop offset="0.259" stop-color="#e6ff19"/><stop offset="0.335" stop-color="#ffeb00"/><stop offset="0.513" stop-color="#ffdb00"/><stop offset="0.538" stop-color="#f6ff09"/><stop offset="0.572" stop-color="#98ff67"/><stop offset="0.593" stop-color="#b9ff46"/><stop offset="0.614" stop-color="#fff300"/><stop offset="0.643" stop-color="#ffb700"/><stop offset="0.939" stop-color="#ff8600"/><stop offset="0.998" stop-color="#ff8600"/></linearGradient>
<linearGradient id="b63"><stop offset="0.002" stop-color="#85ff7a"/><stop offset="0.188" stop-color="#d6ff29"/><stop offset="0.268" stop-color="#fffc00"/><stop offset="0.403" stop-color="#ffcc00"/><stop offset="0.719" stop-color="#ff9300"/><stop offset="0.998" stop-color="#ff7d00"/></linearGradient>
<linearGradient id="b64"><stop offset="0.002" stop-color="#acff53"/><stop offset="0.200" stop-color="#fdff02"/><stop offset="0.411" stop-color="#ffbc00"/><stop offset="0.914" stop-color="#ff7500"/><stop offset="0.998" stop-color="#ff7500"/></linearGradient>
<linearGradient id="b65"><stop offset="0.002" stop-color="#c7ff38"/><stop offset="0.192" stop-color="#fff100"/><stop offset="0.382" stop-color="#ffb400"/><stop offset="0.888" stop-color="#ff6d00"/><stop offset="0.998" stop-color="#ff6d00"/></linearGradient>
<linearGradient id="b66"><stop offset="0.002" stop-color="#c0ff3f"/><stop offset="0.141" stop-color="#fffd00"/><stop offset="0.272" stop-color="#ffbc00"/><stop offset="0.850" stop-color="#ff6500"/><stop offset="0.998" stop-color="#ff6500"/></linearGradient>
<linearGradient id="b67"><stop offset="0.002" stop-color="#2affd5"/><stop offset="0.032" stop-color="#46ffb9"/><stop offset="0.091" stop-color="#eaff15"/><stop offset="0.133" stop-color="#fff200"/><stop offset="0.289" stop-color="#ffb200"/><stop offset="0.677" stop-color="#ff7e00"/><stop offset="0.998" stop-color="#ff8300"/></linearGradient>
<linearGradient id="b68"><stop offset="0.002" stop-color="#00c0ff"/><stop offset="0.023" stop-color="#00d0ff"/><stop offset="0.036" stop-color="#00feff"/><stop offset="0.082" stop-color="#d1ff2e"/><stop offset="0.108" stop-color="#fff500"/><stop offset="0.395" stop-color="#ff8f00"/><stop offset="0.673" stop-color="#ff8100"/><stop offset="0.762" stop-color="#ffd600"/><stop offset="0.998" stop-color="#ffc700"/></linearGradient>
<linearGradient id="b69"><stop offset="0.002" stop-color="#9cff63"/><stop offset="0.040" stop-color="#beff41"/><stop offset="0.078" stop-color="#fff600"/><stop offset="0.141" stop-color="#ffd000"/><stop offset="0.297" stop-color="#ffb600"/><stop offset="0.378" stop-color="#ff8700"/><stop offset="0.669" stop-color="#ff7c00"/><stop offset="0.732" stop-color="#faff05"/><stop offset="0.774" stop-color="#daff25"/><stop offset="0.977" stop-color="#f3ff0c"/><stop offset="0.998" stop-color="#f3ff0c"/></linearGradient>
<linearGradient id="b70"><stop offset="0.002" stop-color="#ffd800"/><stop offset="0.167" stop-color="#ffc000"/><stop offset="0.285" stop-color="#ffc600"/><stop offset="0.369" stop-color="#ff8200"/><stop offset="0.508" stop-color="#ff8a00"/><stop offset="0.614" stop-color="#ffc900"/><stop offset="0.681" stop-color="#ffae00"/><stop offset="0.753" stop-color="#f7ff08"/><stop offset="0.998" stop-color="#ffeb00"/></linearGradient>
<linearGradient id="b71"><stop offset="0.002" stop-color="#ffb900"/><stop offset="0.158" stop-color="#ffab00"/><stop offset="0.272" stop-color="#ffd500"/><stop offset="0.369" stop-color="#ff7d00"/><stop offset="0.475" stop-color="#ff8b00"/><stop offset="0.517" stop-color="#ffe000"/><stop offset="0.530" stop-color="#f5ff0a"/><stop offset="0.589" stop-color="#17ffe8"/><stop offset="0.614" stop-color="#00f8ff"/><stop offset="0.639" stop-color="#24ffdb"/><stop offset="0.694" stop-color="#fcff03"/><stop offset="0.741" stop-color="#ff9f00"/><stop offset="0.880" stop-color="#ff6600"/><stop offset="0.998" stop-color="#ff6600"/></linearGradient>
<linearGradient id="b72"><stop offset="0.002" stop-color="#ffa700"/><stop offset="0.158" stop-color="#ff9100"/><stop offset="0.281" stop-color="#ffae00"/><stop offset="0.378" stop-color="#ff7800"/><stop offset="0.487" stop-color="#ff7f00"/><stop offset="0.568" stop-color="#f4ff0b"/><stop offset="0.610" stop-color="#c3ff3c"/><stop offset="0.652" stop-color="#f8ff07"/><stop offset="0.732" stop-color="#ff5500"/><stop offset="0.850" stop-color="#ff2200"/><stop offset="0.998" stop-color="#ff1f00"/></linearGradient>
<linearGradient id="b73"><stop offset="0.002" stop-color="#ff7d00"/><stop offset="0.344" stop-color="#ff5f00"/><stop offset="0.694" stop-color="#ff3300"/><stop offset="0.994" stop-color="#ff1400"/><stop offset="0.998" stop-color="#ff1400"/></linearGradient>
<linearGradient id="b74"><stop offset="0.002" stop-color="#ff3b00"/><stop offset="0.998" stop-color="#ff0a00"/></linearGradient>
<linearGradient id="b75"><stop offset="0.002" stop-color="#ff1400"/><stop offset="0.369" stop-color="#ff1400"/><stop offset="0.998" stop-color="#ff0000"/></linearGradient>
<linearGradient id="b76"><stop offset="0.002" stop-color="#ff0a00"/><stop offset="0.998" stop-color="#fa0000"/></linearGradient>
<linearGradient id="b77"><stop offset="0.002" stop-color="#ff0000"/><stop offset="0.998" stop-color="#fa0000"/></linearGradient>
<linearGradient id="b78"><stop offset="0.002" stop-color="#fa0000"/><stop offset="0.998" stop-color="#fa0000"/></linearGradient>
<linearGradient id="b79"><stop offset="0.002" stop-color="#fa0000"/><stop offset="0.998" stop-color="#fa0000"/></linearGradient>
<linearGradient id="b80"><stop offset="0.002" stop-color="#fa0000"/><stop offset="0.998" stop-color="#fa0000"/></linearGradient>
<linearGradient id="b81"><stop offset="0.002" stop-color="#fa0000"/><stop offset="0.998" stop-color="#fa0000"/></linearGradient>
<linearGradient id="b82"><stop offset="0.002" stop-color="#fa0000"/><stop offset="0.998" stop-color="#fa0000"/></linearGradient>
<linearGradient id="jetv" x1="0" y1="1" x2="0" y2="0"><stop offset="0" stop-color="#000080"/><stop offset="0.125" stop-color="#0000ff"/><stop offset="0.375" stop-color="#00ffff"/><stop offset="0.625" stop-color="#ffff00"/><stop offset="0.875" stop-color="#ff0000"/><stop offset="1" stop-color="#800000"/></linearGradient>
<linearGradient id="c0"><stop offset="0.002" stop-color="#0000ab"/><stop offset="0.200" stop-color="#0000bd"/><stop offset="0.306" stop-color="#0000cf"/><stop offset="0.458" stop-color="#0000d6"/><stop offset="0.665" stop-color="#0000fb"/><stop offset="0.833" stop-color="#0000f0"/><stop offset="0.998" stop-color="#0000fd"/></linearGradient>
<linearGradient id="c1"><stop offset="0.002" stop-color="#0000b0"/><stop offset="0.205" stop-color="#0000c6"/><stop offset="0.302" stop-color="#0000d4"/><stop offset="0.373" stop-color="#0000c9"/><stop offset="0.681" stop-color="#0000ff"/><stop offset="0.774" stop-color="#0000ec"/><stop offset="0.825" stop-color="#0000e9"/><stop offset="0.909" stop-color="#0005ff"/><stop offset="0.998" stop-color="#0004ff"/></linearGradient>
<linearGradient id="c2"><stop offset="0.002" stop-color="#0000b5"/><stop offset="0.209" stop-color="#0000cf"/><stop offset="0.302" stop-color="#0000d7"/><stop offset="0.361" stop-color="#0000c0"/><stop offset="0.656" stop-color="#0000ff"/><stop offset="0.766" stop-color="#0000f1"/><stop offset="0.812" stop-color="#0000d9"/><stop offset="0.871" stop-color="#0009ff"/><stop offset="0.998" stop-color="#000bff"/></linearGradient>
<linearGradient id="c3"><stop offset="0.002" stop-color="#0000ba"/><stop offset="0.217" stop-color="#0000d9"/><stop offset="0.302" stop-color="#0000da"/><stop offset="0.352" stop-color="#0000b7"/><stop offset="0.635" stop-color="#0000ff"/><stop offset="0.762" stop-color="#0000f4"/><stop offset="0.808" stop-color="#0000ca"/><stop offset="0.863" stop-color="#000bff"/><stop offset="0.998" stop-color="#0011ff"/></linearGradient>
<linearGradient id="c4"><stop offset="0.002" stop-color="#0000bf"/><stop offset="0.226" stop-color="#0000e3"/><stop offset="0.302" stop-color="#0000dd"/><stop offset="0.348" stop-color="#0000b0"/><stop offset="0.622" stop-color="#0000ff"/><stop offset="0.749" stop-color="#0004ff"/><stop offset="0.804" stop-color="#0000ba"/><stop offset="0.859" stop-color="#000bff"/><stop offset="0.998" stop-color="#0017ff"/></linearGradient>
<linearGradient id="c5"><stop offset="0.002" stop-color="#0000c4"/><stop offset="0.243" stop-color="#0000ef"/><stop offset="0.302" stop-color="#0000e0"/><stop offset="0.348" stop-color="#0000ab"/><stop offset="0.597" stop-color="#0001ff"/><stop offset="0.745" stop-color="#000bff"/><stop offset="0.774" stop-color="#0000d4"/><stop offset="0.804" stop-color="#0000ac"/><stop offset="0.854" stop-color="#000aff"/><stop offset="0.930" stop-color="#001fff"/><stop offset="0.998" stop-color="#001dff"/></linearGradient>
<linearGradient id="c6"><stop offset="0.002" stop-color="#0000c9"/><stop offset="0.289" stop-color="#0000f1"/><stop offset="0.348" stop-color="#0000a8"/><stop offset="0.580" stop-color="#0000ff"/><stop offset="0.741" stop-color="#0013ff"/><stop offset="0.766" stop-color="#0000e7"/><stop offset="0.800" stop-color="#0000a2"/><stop offset="0.829" stop-color="#0000d1"/><stop offset="0.854" stop-color="#000dff"/><stop offset="0.918" stop-color="#0026ff"/><stop offset="0.998" stop-color="#0024ff"/></linearGradient>
<linearGradient id="c7"><stop offset="0.002" stop-color="#0000cf"/><stop offset="0.289" stop-color="#0000f6"/><stop offset="0.344" stop-color="#0000a7"/><stop offset="0.580" stop-color="#0002ff"/><stop offset="0.741" stop-color="#0018ff"/><stop offset="0.762" stop-color="#0000f3"/><stop offset="0.800" stop-color="#00009e"/><stop offset="0.825" stop-color="#0000c4"/><stop offset="0.850" stop-color="#000aff"/><stop offset="0.897" stop-color="#002dff"/><stop offset="0.998" stop-color="#002aff"/></linearGradient>
<linearGradient id="c8"><stop offset="0.002" stop-color="#0000da"/><stop offset="0.289" stop-color="#0000fc"/><stop offset="0.348" stop-color="#0000a7"/><stop offset="0.420" stop-color="#0000c5"/><stop offset="0.580" stop-color="#0003ff"/><stop offset="0.741" stop-color="#001eff"/><stop offset="0.766" stop-color="#0000ee"/><stop offset="0.800" stop-color="#0000a3"/><stop offset="0.825" stop-color="#0000ca"/><stop offset="0.846" stop-color="#0007ff"/><stop offset="0.888" stop-color="#0033ff"/><stop offset="0.998" stop-color="#0030ff"/></linearGradient>
<linearGradient id="c9"><stop offset="0.002" stop-color="#0000eb"/><stop offset="0.293" stop-color="#0000fd"/><stop offset="0.348" stop-color="#0000a8"/><stop offset="0.403" stop-color="#0000af"/><stop offset="0.500" stop-color="#0000ee"/><stop offset="0.690" stop-color="#001dff"/><stop offset="0.745" stop-color="#0021ff"/><stop offset="0.770" stop-color="#0000ec"/><stop offset="0.800" stop-color="#0000b0"/><stop offset="0.825" stop-color="#0000d5"/><stop offset="0.846" stop-color="#0010ff"/><stop offset="0.888" stop-color="#003aff"/><stop offset="0.998" stop-color="#0037ff"/></linearGradient>
<linearGradient id="c10"><stop offset="0.002" stop-color="#0000fd"/><stop offset="0.289" stop-color="#000cff"/><stop offset="0.319" stop-color="#0000d7"/><stop offset="0.365" stop-color="#0000a0"/><stop offset="0.411" stop-color="#0000b3"/><stop offset="0.500" stop-color="#0000f0"/><stop offset="0.686" stop-color="#001fff"/><stop offset="0.745" stop-color="#0029ff"/><stop offset="0.774" stop-color="#0000f0"/><stop offset="0.804" stop-color="#0000c4"/><stop offset="0.838" stop-color="#0008ff"/><stop offset="0.876" stop-color="#003eff"/><stop offset="0.998" stop-color="#003dff"/></linearGradient>
<linearGradient id="c11"><stop offset="0.002" stop-color="#000fff"/><stop offset="0.276" stop-color="#0020ff"/><stop offset="0.310" stop-color="#0000f6"/><stop offset="0.361" stop-color="#0000a1"/><stop offset="0.403" stop-color="#0000a6"/><stop offset="0.492" stop-color="#0000ef"/><stop offset="0.677" stop-color="#001eff"/><stop offset="0.745" stop-color="#0035ff"/><stop offset="0.783" stop-color="#0000f4"/><stop offset="0.812" stop-color="#0000e6"/><stop offset="0.833" stop-color="#0011ff"/><stop offset="0.876" stop-color="#0048ff"/><stop offset="0.998" stop-color="#0043ff"/></linearGradient>
<linearGradient id="c12"><stop offset="0.002" stop-color="#0021ff"/><stop offset="0.251" stop-color="#002fff"/><stop offset="0.302" stop-color="#0014ff"/><stop offset="0.327" stop-color="#0000db"/><stop offset="0.378" stop-color="#000095"/><stop offset="0.496" stop-color="#0000f1"/><stop offset="0.669" stop-color="#001eff"/><stop offset="0.749" stop-color="#0042ff"/><stop offset="0.804" stop-color="#0001ff"/><stop offset="0.871" stop-color="#0054ff"/><stop offset="0.998" stop-color="#0049ff"/></linearGradient>
<linearGradient id="c13"><stop offset="0.002" stop-color="#0032ff"/><stop offset="0.222" stop-color="#003fff"/><stop offset="0.297" stop-color="#0028ff"/><stop offset="0.323" stop-color="#0000f2"/><stop offset="0.373" stop-color="#000097"/><stop offset="0.504" stop-color="#0000f6"/><stop offset="0.665" stop-color="#001fff"/><stop offset="0.749" stop-color="#0052ff"/><stop offset="0.808" stop-color="#0025ff"/><stop offset="0.876" stop-color="#0062ff"/><stop offset="0.998" stop-color="#0051ff"/></linearGradient>
<linearGradient id="c14"><stop offset="0.002" stop-color="#0044ff"/><stop offset="0.209" stop-color="#0050ff"/><stop offset="0.297" stop-color="#0035ff"/><stop offset="0.327" stop-color="#0000f5"/><stop offset="0.373" stop-color="#00009c"/><stop offset="0.445" stop-color="#0000d2"/><stop offset="0.525" stop-color="#0000fe"/><stop offset="0.665" stop-color="#0023ff"/><stop offset="0.753" stop-color="#0062ff"/><stop offset="0.816" stop-color="#004cff"/><stop offset="0.880" stop-color="#006fff"/><stop offset="0.998" stop-color="#0059ff"/></linearGradient>
<linearGradient id="c15"><stop offset="0.002" stop-color="#0057ff"/><stop offset="0.200" stop-color="#0061ff"/><stop offset="0.297" stop-color="#0042ff"/><stop offset="0.331" stop-color="#0000f9"/><stop offset="0.373" stop-color="#0000a4"/><stop offset="0.437" stop-color="#0000c4"/><stop offset="0.496" stop-color="#0000f9"/><stop offset="0.656" stop-color="#0020ff"/><stop offset="0.757" stop-color="#0074ff"/><stop offset="0.829" stop-color="#0071ff"/><stop offset="0.909" stop-color="#0072ff"/><stop offset="0.998" stop-color="#0062ff"/></linearGradient>
<linearGradient id="c16"><stop offset="0.002" stop-color="#006bff"/><stop offset="0.196" stop-color="#0073ff"/><stop offset="0.302" stop-color="#004aff"/><stop offset="0.340" stop-color="#0000f1"/><stop offset="0.378" stop-color="#0000ad"/><stop offset="0.432" stop-color="#0000bb"/><stop offset="0.487" stop-color="#0000f9"/><stop offset="0.652" stop-color="#0020ff"/><stop offset="0.762" stop-color="#0086ff"/><stop offset="0.905" stop-color="#007eff"/><stop offset="0.998" stop-color="#006aff"/></linearGradient>
<linearGradient id="c17"><stop offset="0.002" stop-color="#0080ff"/><stop offset="0.192" stop-color="#0085ff"/><stop offset="0.302" stop-color="#0058ff"/><stop offset="0.344" stop-color="#0000f7"/><stop offset="0.382" stop-color="#0000b6"/><stop offset="0.432" stop-color="#0000b9"/><stop offset="0.483" stop-color="#0000fa"/><stop offset="0.652" stop-color="#0023ff"/><stop offset="0.766" stop-color="#0099ff"/><stop offset="0.901" stop-color="#008bff"/><stop offset="0.998" stop-color="#0073ff"/></linearGradient>
<linearGradient id="c18"><stop offset="0.002" stop-color="#0094ff"/><stop offset="0.188" stop-color="#0097ff"/><stop offset="0.306" stop-color="#005fff"/><stop offset="0.352" stop-color="#0000f4"/><stop offset="0.403" stop-color="#0000b1"/><stop offset="0.437" stop-color="#0000c0"/><stop offset="0.483" stop-color="#0000fa"/><stop offset="0.648" stop-color="#001dff"/><stop offset="0.770" stop-color="#00a9ff"/><stop offset="0.897" stop-color="#0097ff"/><stop offset="0.998" stop-color="#007bff"/></linearGradient>
<linearGradient id="c19"><stop offset="0.002" stop-color="#00a8ff"/><stop offset="0.188" stop-color="#00a8ff"/><stop offset="0.306" stop-color="#006cff"/><stop offset="0.361" stop-color="#0000f4"/><stop offset="0.416" stop-color="#0000ad"/><stop offset="0.487" stop-color="#0000f8"/><stop offset="0.639" stop-color="#000eff"/><stop offset="0.774" stop-color="#00b5ff"/><stop offset="0.897" stop-color="#009fff"/><stop offset="0.998" stop-color="#0084ff"/></linearGradient>
<linearGradient id="c20"><stop offset="0.002" stop-color="#00bdff"/><stop offset="0.184" stop-color="#00bcff"/><stop offset="0.310" stop-color="#0073ff"/><stop offset="0.369" stop-color="#0000f4"/><stop offset="0.416" stop-color="#0000b2"/><stop offset="0.492" stop-color="#0000f5"/><stop offset="0.648" stop-color="#000eff"/><stop offset="0.770" stop-color="#00bbff"/><stop offset="0.876" stop-color="#00b2ff"/><stop offset="0.998" stop-color="#008cff"/></linearGradient>
<linearGradient id="c21"><stop offset="0.002" stop-color="#00ceff"/><stop offset="0.184" stop-color="#00caff"/><stop offset="0.310" stop-color="#0081ff"/><stop offset="0.378" stop-color="#0000f3"/><stop offset="0.420" stop-color="#0000ba"/><stop offset="0.504" stop-color="#0000f2"/><stop offset="0.635" stop-color="#0000f9"/><stop offset="0.703" stop-color="#005fff"/><stop offset="0.774" stop-color="#00c6ff"/><stop offset="0.884" stop-color="#00b6ff"/><stop offset="0.998" stop-color="#0095ff"/></linearGradient>
<linearGradient id="c22"><stop offset="0.002" stop-color="#00dbff"/><stop offset="0.184" stop-color="#00d6ff"/><stop offset="0.310" stop-color="#008dff"/><stop offset="0.382" stop-color="#0000f8"/><stop offset="0.420" stop-color="#0000c4"/><stop offset="0.538" stop-color="#0000ea"/><stop offset="0.635" stop-color="#0000f0"/><stop offset="0.673" stop-color="#0026ff"/><stop offset="0.766" stop-color="#00c7ff"/><stop offset="0.842" stop-color="#00d0ff"/><stop offset="0.998" stop-color="#009dff"/></linearGradient>
<linearGradient id="c23"><stop offset="0.002" stop-color="#00e9ff"/><stop offset="0.188" stop-color="#00e0ff"/><stop offset="0.310" stop-color="#009aff"/><stop offset="0.390" stop-color="#0000f3"/><stop offset="0.428" stop-color="#0000cc"/><stop offset="0.559" stop-color="#0000dc"/><stop offset="0.635" stop-color="#0000e6"/><stop offset="0.669" stop-color="#0018ff"/><stop offset="0.766" stop-color="#00ceff"/><stop offset="0.838" stop-color="#00d9ff"/><stop offset="0.998" stop-color="#00a5ff"/></linearGradient>
<linearGradient id="c24"><stop offset="0.002" stop-color="#00f7ff"/><stop offset="0.188" stop-color="#00ecff"/><stop offset="0.310" stop-color="#00a6ff"/><stop offset="0.395" stop-color="#0000f7"/><stop offset="0.449" stop-color="#0000c5"/><stop offset="0.555" stop-color="#0000d2"/><stop offset="0.635" stop-color="#0000dc"/><stop offset="0.669" stop-color="#0012ff"/><stop offset="0.762" stop-color="#00d0ff"/><stop offset="0.821" stop-color="#00e5ff"/><stop offset="0.998" stop-color="#00adff"/></linearGradient>
<linearGradient id="c25"><stop offset="0.002" stop-color="#05fffa"/><stop offset="0.200" stop-color="#00f1ff"/><stop offset="0.310" stop-color="#00b3ff"/><stop offset="0.403" stop-color="#0000f4"/><stop offset="0.466" stop-color="#0000b4"/><stop offset="0.538" stop-color="#0000d0"/><stop offset="0.627" stop-color="#0000ce"/><stop offset="0.669" stop-color="#000eff"/><stop offset="0.762" stop-color="#00d7ff"/><stop offset="0.816" stop-color="#00eeff"/><stop offset="0.994" stop-color="#00b2ff"/><stop offset="0.998" stop-color="#00b4ff"/></linearGradient>
<linearGradient id="c26"><stop offset="0.002" stop-color="#13ffec"/><stop offset="0.192" stop-color="#03fffc"/><stop offset="0.306" stop-color="#00c6ff"/><stop offset="0.411" stop-color="#0000f3"/><stop offset="0.462" stop-color="#0000a6"/><stop offset="0.534" stop-color="#0000cb"/><stop offset="0.627" stop-color="#0000cb"/><stop offset="0.669" stop-color="#000cff"/><stop offset="0.762" stop-color="#00deff"/><stop offset="0.816" stop-color="#00f6ff"/><stop offset="0.989" stop-color="#00b4ff"/><stop offset="0.998" stop-color="#00b9ff"/></linearGradient>
<linearGradient id="c27"><stop offset="0.002" stop-color="#1cffe3"/><stop offset="0.196" stop-color="#0afff5"/><stop offset="0.306" stop-color="#00d3ff"/><stop offset="0.416" stop-color="#0000f4"/><stop offset="0.458" stop-color="#00009b"/><stop offset="0.534" stop-color="#0000c3"/><stop offset="0.627" stop-color="#0000c6"/><stop offset="0.669" stop-color="#0009ff"/><stop offset="0.762" stop-color="#00e5ff"/><stop offset="0.816" stop-color="#00ffff"/><stop offset="0.960" stop-color="#00b8ff"/><stop offset="0.989" stop-color="#00b5ff"/><stop offset="0.998" stop-color="#00beff"/></linearGradient>
<linearGradient id="c28"><stop offset="0.002" stop-color="#21ffde"/><stop offset="0.209" stop-color="#0bfff4"/><stop offset="0.302" stop-color="#00e6ff"/><stop offset="0.399" stop-color="#002cff"/><stop offset="0.420" stop-color="#0000f1"/><stop offset="0.454" stop-color="#000098"/><stop offset="0.542" stop-color="#0000b7"/><stop offset="0.627" stop-color="#0000c0"/><stop offset="0.673" stop-color="#000cff"/><stop offset="0.757" stop-color="#00e2ff"/><stop offset="0.800" stop-color="#06fff9"/><stop offset="0.943" stop-color="#00d1ff"/><stop offset="0.977" stop-color="#00a3ff"/><stop offset="0.998" stop-color="#00c2ff"/></linearGradient>
<linearGradient id="c29"><stop offset="0.002" stop-color="#26ffd9"/><stop offset="0.285" stop-color="#02fffd"/><stop offset="0.348" stop-color="#00a7ff"/><stop offset="0.420" stop-color="#0000fa"/><stop offset="0.454" stop-color="#000099"/><stop offset="0.551" stop-color="#0000aa"/><stop offset="0.631" stop-color="#0000bd"/><stop offset="0.677" stop-color="#000cff"/><stop offset="0.757" stop-color="#00e2ff"/><stop offset="0.795" stop-color="#07fff8"/><stop offset="0.935" stop-color="#00deff"/><stop offset="0.977" stop-color="#0097ff"/><stop offset="0.998" stop-color="#00c4ff"/></linearGradient>
<linearGradient id="c30"><stop offset="0.002" stop-color="#2bffd4"/><stop offset="0.297" stop-color="#05fffa"/><stop offset="0.378" stop-color="#007cff"/><stop offset="0.424" stop-color="#0000f9"/><stop offset="0.454" stop-color="#0000a1"/><stop offset="0.618" stop-color="#0000ac"/><stop offset="0.673" stop-color="#0000f5"/><stop offset="0.719" stop-color="#0080ff"/><stop offset="0.770" stop-color="#00f6ff"/><stop offset="0.901" stop-color="#00f1ff"/><stop offset="0.947" stop-color="#00d3ff"/><stop offset="0.973" stop-color="#0086ff"/><stop offset="0.989" stop-color="#00a8ff"/><stop offset="0.998" stop-color="#00c4ff"/></linearGradient>
<linearGradient id="c31"><stop offset="0.002" stop-color="#30ffcf"/><stop offset="0.297" stop-color="#12ffed"/><stop offset="0.331" stop-color="#00e1ff"/><stop offset="0.411" stop-color="#0038ff"/><stop offset="0.432" stop-color="#0000ec"/><stop offset="0.462" stop-color="#0000a8"/><stop offset="0.601" stop-color="#00009e"/><stop offset="0.665" stop-color="#0000d5"/><stop offset="0.686" stop-color="#0007ff"/><stop offset="0.757" stop-color="#00e2ff"/><stop offset="0.791" stop-color="#09fff6"/><stop offset="0.935" stop-color="#00eaff"/><stop offset="0.956" stop-color="#00b5ff"/><stop offset="0.973" stop-color="#0074ff"/><stop offset="0.985" stop-color="#008cff"/><stop offset="0.998" stop-color="#00c5ff"/></linearGradient>
<linearGradient id="c32"><stop offset="0.002" stop-color="#36ffc9"/><stop offset="0.297" stop-color="#1fffe0"/><stop offset="0.331" stop-color="#00efff"/><stop offset="0.411" stop-color="#004cff"/><stop offset="0.437" stop-color="#0000f5"/><stop offset="0.470" stop-color="#0000ae"/><stop offset="0.530" stop-color="#000098"/><stop offset="0.610" stop-color="#00009e"/><stop offset="0.669" stop-color="#0000ce"/><stop offset="0.694" stop-color="#0011ff"/><stop offset="0.753" stop-color="#00d7ff"/><stop offset="0.787" stop-color="#09fff6"/><stop offset="0.939" stop-color="#00ecff"/><stop offset="0.956" stop-color="#00b1ff"/><stop offset="0.973" stop-color="#0061ff"/><stop offset="0.985" stop-color="#0080ff"/><stop offset="0.998" stop-color="#00c5ff"/></linearGradient>
<linearGradient id="c33"><stop offset="0.002" stop-color="#3bffc4"/><stop offset="0.217" stop-color="#34ffcb"/><stop offset="0.297" stop-color="#2cffd3"/><stop offset="0.340" stop-color="#00eeff"/><stop offset="0.420" stop-color="#004bff"/><stop offset="0.445" stop-color="#0000f4"/><stop offset="0.492" stop-color="#000095"/><stop offset="0.601" stop-color="#000098"/><stop offset="0.669" stop-color="#0000be"/><stop offset="0.694" stop-color="#0001ff"/><stop offset="0.753" stop-color="#00d5ff"/><stop offset="0.783" stop-color="#07fff8"/><stop offset="0.939" stop-color="#00f2ff"/><stop offset="0.956" stop-color="#00afff"/><stop offset="0.973" stop-color="#0052ff"/><stop offset="0.985" stop-color="#0076ff"/><stop offset="0.998" stop-color="#00c6ff"/></linearGradient>
<linearGradient id="c34"><stop offset="0.002" stop-color="#40ffbf"/><stop offset="0.196" stop-color="#35ffca"/><stop offset="0.293" stop-color="#3cffc3"/><stop offset="0.344" stop-color="#00f4ff"/><stop offset="0.424" stop-color="#005aff"/><stop offset="0.454" stop-color="#0000f3"/><stop offset="0.492" stop-color="#000092"/><stop offset="0.648" stop-color="#00009f"/><stop offset="0.681" stop-color="#0000ca"/><stop offset="0.698" stop-color="#0003ff"/><stop offset="0.753" stop-color="#00d4ff"/><stop offset="0.783" stop-color="#08fff7"/><stop offset="0.939" stop-color="#00f8ff"/><stop offset="0.956" stop-color="#00afff"/><stop offset="0.973" stop-color="#004bff"/><stop offset="0.981" stop-color="#0059ff"/><stop offset="0.998" stop-color="#00c9ff"/></linearGradient>
<linearGradient id="c35"><stop offset="0.002" stop-color="#42ffbd"/><stop offset="0.188" stop-color="#32ffcd"/><stop offset="0.285" stop-color="#4dffb2"/><stop offset="0.352" stop-color="#00f3ff"/><stop offset="0.428" stop-color="#006aff"/><stop offset="0.458" stop-color="#0000fd"/><stop offset="0.492" stop-color="#000093"/><stop offset="0.669" stop-color="#0000a5"/><stop offset="0.703" stop-color="#000aff"/><stop offset="0.753" stop-color="#00d3ff"/><stop offset="0.783" stop-color="#09fff6"/><stop offset="0.943" stop-color="#00f2ff"/><stop offset="0.960" stop-color="#0092ff"/><stop offset="0.973" stop-color="#004cff"/><stop offset="0.981" stop-color="#005aff"/><stop offset="0.998" stop-color="#00cdff"/></linearGradient>
<linearGradient id="c36"><stop offset="0.002" stop-color="#40ffbf"/><stop offset="0.146" stop-color="#1dffe2"/><stop offset="0.192" stop-color="#2affd5"/><stop offset="0.268" stop-color="#5affa5"/><stop offset="0.327" stop-color="#29ffd6"/><stop offset="0.361" stop-color="#00f1ff"/><stop offset="0.432" stop-color="#007aff"/><stop offset="0.466" stop-color="#0000f1"/><stop offset="0.492" stop-color="#00009b"/><stop offset="0.669" stop-color="#0000a0"/><stop offset="0.703" stop-color="#0005ff"/><stop offset="0.753" stop-color="#00d4ff"/><stop offset="0.778" stop-color="#07fff8"/><stop offset="0.926" stop-color="#08fff7"/><stop offset="0.943" stop-color="#00f3ff"/><stop offset="0.960" stop-color="#0098ff"/><stop offset="0.973" stop-color="#0056ff"/><stop offset="0.985" stop-color="#007bff"/><stop offset="0.998" stop-color="#00d0ff"/></linearGradient>
<linearGradient id="c37"><stop offset="0.002" stop-color="#3effc1"/><stop offset="0.120" stop-color="#26ffd9"/><stop offset="0.158" stop-color="#00ebff"/><stop offset="0.192" stop-color="#0dfff2"/><stop offset="0.238" stop-color="#59ffa6"/><stop offset="0.297" stop-color="#57ffa8"/><stop offset="0.369" stop-color="#00f2ff"/><stop offset="0.432" stop-color="#0097ff"/><stop offset="0.470" stop-color="#0000f7"/><stop offset="0.496" stop-color="#0000a4"/><stop offset="0.669" stop-color="#0000a0"/><stop offset="0.703" stop-color="#0006ff"/><stop offset="0.753" stop-color="#00d5ff"/><stop offset="0.778" stop-color="#08fff7"/><stop offset="0.922" stop-color="#09fff6"/><stop offset="0.943" stop-color="#00f5ff"/><stop offset="0.973" stop-color="#0068ff"/><stop offset="0.985" stop-color="#0089ff"/><stop offset="0.998" stop-color="#00d5ff"/></linearGradient>
<linearGradient id="c38"><stop offset="0.002" stop-color="#3dffc2"/><stop offset="0.108" stop-color="#2cffd3"/><stop offset="0.133" stop-color="#00eeff"/><stop offset="0.162" stop-color="#0091ff"/><stop offset="0.184" stop-color="#00aeff"/><stop offset="0.205" stop-color="#09fff6"/><stop offset="0.234" stop-color="#59ffa6"/><stop offset="0.289" stop-color="#66ff99"/><stop offset="0.378" stop-color="#00f5ff"/><stop offset="0.437" stop-color="#00a6ff"/><stop offset="0.475" stop-color="#0003ff"/><stop offset="0.500" stop-color="#0000b8"/><stop offset="0.665" stop-color="#0000a2"/><stop offset="0.694" stop-color="#0000ea"/><stop offset="0.711" stop-color="#0033ff"/><stop offset="0.753" stop-color="#00d8ff"/><stop offset="0.778" stop-color="#0afff5"/><stop offset="0.922" stop-color="#0afff5"/><stop offset="0.947" stop-color="#00edff"/><stop offset="0.973" stop-color="#0080ff"/><stop offset="0.985" stop-color="#009cff"/><stop offset="0.998" stop-color="#00dcff"/></linearGradient>
<linearGradient id="c39"><stop offset="0.002" stop-color="#3bffc4"/><stop offset="0.103" stop-color="#2bffd4"/><stop offset="0.120" stop-color="#00feff"/><stop offset="0.158" stop-color="#0026ff"/><stop offset="0.171" stop-color="#0017ff"/><stop offset="0.188" stop-color="#0061ff"/><stop offset="0.209" stop-color="#00f6ff"/><stop offset="0.234" stop-color="#5bffa4"/><stop offset="0.281" stop-color="#73ff8c"/><stop offset="0.395" stop-color="#00f5ff"/><stop offset="0.437" stop-color="#00c4ff"/><stop offset="0.487" stop-color="#0000fa"/><stop offset="0.517" stop-color="#0000d2"/><stop offset="0.656" stop-color="#0000aa"/><stop offset="0.690" stop-color="#0000f0"/><stop offset="0.707" stop-color="#0034ff"/><stop offset="0.753" stop-color="#00e0ff"/><stop offset="0.778" stop-color="#0dfff2"/><stop offset="0.930" stop-color="#08fff7"/><stop offset="0.951" stop-color="#00e6ff"/><stop offset="0.973" stop-color="#009aff"/><stop offset="0.989" stop-color="#00c3ff"/><stop offset="0.998" stop-color="#00e4ff"/></linearGradient>
<linearGradient id="c40"><stop offset="0.002" stop-color="#3affc5"/><stop offset="0.099" stop-color="#2fffd0"/><stop offset="0.116" stop-color="#00ffff"/><stop offset="0.137" stop-color="#006bff"/><stop offset="0.150" stop-color="#0000f9"/><stop offset="0.162" stop-color="#0000af"/><stop offset="0.175" stop-color="#0000b5"/><stop offset="0.188" stop-color="#000dff"/><stop offset="0.213" stop-color="#00f7ff"/><stop offset="0.234" stop-color="#5cffa3"/><stop offset="0.272" stop-color="#7dff82"/><stop offset="0.348" stop-color="#3dffc2"/><stop offset="0.424" stop-color="#00f7ff"/><stop offset="0.458" stop-color="#00a5ff"/><stop offset="0.496" stop-color="#0019ff"/><stop offset="0.538" stop-color="#0000fb"/><stop offset="0.652" stop-color="#0000c5"/><stop offset="0.686" stop-color="#0007ff"/><stop offset="0.749" stop-color="#00e2ff"/><stop offset="0.774" stop-color="#0dfff2"/><stop offset="0.892" stop-color="#10ffef"/><stop offset="0.947" stop-color="#00f7ff"/><stop offset="0.973" stop-color="#00b4ff"/><stop offset="0.998" stop-color="#00ecff"/></linearGradient>
<linearGradient id="c41"><stop offset="0.002" stop-color="#38ffc7"/><stop offset="0.099" stop-color="#2fffd0"/><stop offset="0.116" stop-color="#00fbff"/><stop offset="0.133" stop-color="#0082ff"/><stop offset="0.146" stop-color="#0004ff"/><stop offset="0.162" stop-color="#000089"/><stop offset="0.175" stop-color="#000090"/><stop offset="0.188" stop-color="#0000ef"/><stop offset="0.200" stop-color="#0079ff"/><stop offset="0.213" stop-color="#00f2ff"/><stop offset="0.238" stop-color="#6cff93"/><stop offset="0.281" stop-color="#85ff7a"/><stop offset="0.445" stop-color="#00f3ff"/><stop offset="0.504" stop-color="#0046ff"/><stop offset="0.627" stop-color="#0000f0"/><stop offset="0.669" stop-color="#000aff"/><stop offset="0.749" stop-color="#00efff"/><stop offset="0.816" stop-color="#1cffe3"/><stop offset="0.951" stop-color="#00f3ff"/><stop offset="0.977" stop-color="#00caff"/><stop offset="0.998" stop-color="#00f2ff"/></linearGradient>
<linearGradient id="c42"><stop offset="0.002" stop-color="#35ffca"/><stop offset="0.099" stop-color="#33ffcc"/><stop offset="0.120" stop-color="#00f2ff"/><stop offset="0.146" stop-color="#002dff"/><stop offset="0.154" stop-color="#0000ea"/><stop offset="0.167" stop-color="#0000ba"/><stop offset="0.179" stop-color="#0000dd"/><stop offset="0.184" stop-color="#0000fa"/><stop offset="0.213" stop-color="#07fff8"/><stop offset="0.234" stop-color="#6cff93"/><stop offset="0.272" stop-color="#8fff70"/><stop offset="0.445" stop-color="#15ffea"/><stop offset="0.466" stop-color="#00e3ff"/><stop offset="0.508" stop-color="#0081ff"/><stop offset="0.643" stop-color="#0029ff"/><stop offset="0.686" stop-color="#006aff"/><stop offset="0.749" stop-color="#00fdff"/><stop offset="0.816" stop-color="#1effe1"/><stop offset="0.951" stop-color="#00f5ff"/><stop offset="0.981" stop-color="#00ddff"/><stop offset="0.998" stop-color="#00f6ff"/></linearGradient>
<linearGradient id="c43"><stop offset="0.002" stop-color="#30ffcf"/><stop offset="0.103" stop-color="#35ffca"/><stop offset="0.124" stop-color="#00fcff"/><stop offset="0.158" stop-color="#0044ff"/><stop offset="0.171" stop-color="#0036ff"/><stop offset="0.188" stop-color="#0080ff"/><stop offset="0.205" stop-color="#00f8ff"/><stop offset="0.230" stop-color="#73ff8c"/><stop offset="0.268" stop-color="#9cff63"/><stop offset="0.454" stop-color="#28ffd7"/><stop offset="0.483" stop-color="#00ebff"/><stop offset="0.534" stop-color="#00b2ff"/><stop offset="0.643" stop-color="#006eff"/><stop offset="0.694" stop-color="#00b3ff"/><stop offset="0.745" stop-color="#08fff7"/><stop offset="0.829" stop-color="#1fffe0"/><stop offset="0.951" stop-color="#00f0ff"/><stop offset="0.985" stop-color="#00e8ff"/><stop offset="0.998" stop-color="#00f7ff"/></linearGradient>
<linearGradient id="c44"><stop offset="0.002" stop-color="#26ffd9"/><stop offset="0.108" stop-color="#3bffc4"/><stop offset="0.137" stop-color="#00f9ff"/><stop offset="0.162" stop-color="#00b4ff"/><stop offset="0.184" stop-color="#00d5ff"/><stop offset="0.196" stop-color="#0efff1"/><stop offset="0.226" stop-color="#81ff7e"/><stop offset="0.268" stop-color="#adff52"/><stop offset="0.462" stop-color="#3fffc0"/><stop offset="0.517" stop-color="#00faff"/><stop offset="0.652" stop-color="#00bbff"/><stop offset="0.728" stop-color="#0bfff4"/><stop offset="0.838" stop-color="#1fffe0"/><stop offset="0.922" stop-color="#00efff"/><stop offset="0.981" stop-color="#00e1ff"/><stop offset="0.998" stop-color="#00f3ff"/></linearGradient>
<linearGradient id="c45"><stop offset="0.002" stop-color="#11ffee"/><stop offset="0.103" stop-color="#45ffba"/><stop offset="0.167" stop-color="#0ffff0"/><stop offset="0.205" stop-color="#65ff9a"/><stop offset="0.247" stop-color="#b4ff4b"/><stop offset="0.314" stop-color="#b0ff4f"/><stop offset="0.483" stop-color="#4bffb4"/><stop offset="0.635" stop-color="#00f8ff"/><stop offset="0.812" stop-color="#24ffdb"/><stop offset="0.901" stop-color="#00f1ff"/><stop offset="0.956" stop-color="#00bdff"/><stop offset="0.998" stop-color="#00e8ff"/></linearGradient>
<linearGradient id="c46"><stop offset="0.002" stop-color="#00efff"/><stop offset="0.027" stop-color="#0bfff4"/><stop offset="0.065" stop-color="#3dffc2"/><stop offset="0.146" stop-color="#40ffbf"/><stop offset="0.184" stop-color="#57ffa8"/><stop offset="0.251" stop-color="#c8ff37"/><stop offset="0.331" stop-color="#b8ff47"/><stop offset="0.648" stop-color="#24ffdb"/><stop offset="0.859" stop-color="#18ffe7"/><stop offset="0.888" stop-color="#00f2ff"/><stop offset="0.943" stop-color="#0087ff"/><stop offset="0.977" stop-color="#00a7ff"/><stop offset="0.998" stop-color="#00d5ff"/></linearGradient>
<linearGradient id="c47"><stop offset="0.002" stop-color="#00cbff"/><stop offset="0.019" stop-color="#00d6ff"/><stop offset="0.036" stop-color="#11ffee"/><stop offset="0.074" stop-color="#41ffbe"/><stop offset="0.175" stop-color="#62ff9d"/><stop offset="0.255" stop-color="#dcff23"/><stop offset="0.352" stop-color="#beff41"/><stop offset="0.669" stop-color="#45ffba"/><stop offset="0.863" stop-color="#11ffee"/><stop offset="0.884" stop-color="#00eaff"/><stop offset="0.939" stop-color="#0042ff"/><stop offset="0.964" stop-color="#0051ff"/><stop offset="0.998" stop-color="#00bbff"/></linearGradient>
<linearGradient id="c48"><stop offset="0.002" stop-color="#00b3ff"/><stop offset="0.015" stop-color="#00b3ff"/><stop offset="0.036" stop-color="#0bfff4"/><stop offset="0.065" stop-color="#41ffbe"/><stop offset="0.179" stop-color="#78ff87"/><stop offset="0.259" stop-color="#efff10"/><stop offset="0.521" stop-color="#93ff6c"/><stop offset="0.821" stop-color="#28ffd7"/><stop offset="0.876" stop-color="#00f3ff"/><stop offset="0.909" stop-color="#006bff"/><stop offset="0.935" stop-color="#0000fe"/><stop offset="0.956" stop-color="#0000f5"/><stop offset="0.973" stop-color="#002dff"/><stop offset="0.998" stop-color="#009fff"/></linearGradient>
<linearGradient id="c49"><stop offset="0.002" stop-color="#00b5ff"/><stop offset="0.015" stop-color="#00b5ff"/><stop offset="0.036" stop-color="#0ffff0"/><stop offset="0.065" stop-color="#49ffb6"/><stop offset="0.179" stop-color="#88ff77"/><stop offset="0.259" stop-color="#fdff02"/><stop offset="0.517" stop-color="#b1ff4e"/><stop offset="0.694" stop-color="#66ff99"/><stop offset="0.800" stop-color="#2bffd4"/><stop offset="0.863" stop-color="#0afff5"/><stop offset="0.884" stop-color="#00cdff"/><stop offset="0.922" stop-color="#0000fb"/><stop offset="0.943" stop-color="#0000b1"/><stop offset="0.960" stop-color="#0000c5"/><stop offset="0.973" stop-color="#0000fc"/><stop offset="0.998" stop-color="#0089ff"/></linearGradient>
<linearGradient id="c50"><stop offset="0.002" stop-color="#00d0ff"/><stop offset="0.019" stop-color="#00dcff"/><stop offset="0.032" stop-color="#0dfff2"/><stop offset="0.061" stop-color="#4dffb2"/><stop offset="0.184" stop-color="#9dff62"/><stop offset="0.251" stop-color="#fffc00"/><stop offset="0.487" stop-color="#daff25"/><stop offset="0.677" stop-color="#87ff78"/><stop offset="0.787" stop-color="#2effd1"/><stop offset="0.859" stop-color="#10ffef"/><stop offset="0.876" stop-color="#00e8ff"/><stop offset="0.905" stop-color="#0052ff"/><stop offset="0.918" stop-color="#0000ff"/><stop offset="0.939" stop-color="#00009d"/><stop offset="0.956" stop-color="#00009f"/><stop offset="0.977" stop-color="#0002ff"/><stop offset="0.998" stop-color="#007fff"/></linearGradient>
<linearGradient id="c51"><stop offset="0.002" stop-color="#00f8ff"/><stop offset="0.023" stop-color="#0bfff4"/><stop offset="0.065" stop-color="#5affa5"/><stop offset="0.188" stop-color="#b1ff4e"/><stop offset="0.247" stop-color="#fff600"/><stop offset="0.487" stop-color="#f0ff0f"/><stop offset="0.669" stop-color="#a6ff59"/><stop offset="0.783" stop-color="#3effc1"/><stop offset="0.859" stop-color="#21ffde"/><stop offset="0.880" stop-color="#00eaff"/><stop offset="0.909" stop-color="#004aff"/><stop offset="0.922" stop-color="#0000f8"/><stop offset="0.943" stop-color="#0000a9"/><stop offset="0.960" stop-color="#0000bf"/><stop offset="0.973" stop-color="#0000fb"/><stop offset="0.998" stop-color="#0093ff"/></linearGradient>
<linearGradient id="c52"><stop offset="0.002" stop-color="#1dffe2"/><stop offset="0.040" stop-color="#44ffbb"/><stop offset="0.137" stop-color="#9bff64"/><stop offset="0.192" stop-color="#c5ff3a"/><stop offset="0.238" stop-color="#fff300"/><stop offset="0.310" stop-color="#ffe300"/><stop offset="0.534" stop-color="#f0ff0f"/><stop offset="0.665" stop-color="#c4ff3b"/><stop offset="0.783" stop-color="#5bffa4"/><stop offset="0.859" stop-color="#42ffbd"/><stop offset="0.888" stop-color="#00f1ff"/><stop offset="0.935" stop-color="#0000ff"/><stop offset="0.951" stop-color="#0000ee"/><stop offset="0.964" stop-color="#0011ff"/><stop offset="0.998" stop-color="#00c6ff"/></linearGradient>
<linearGradient id="c53"><stop offset="0.002" stop-color="#37ffc8"/><stop offset="0.082" stop-color="#80ff7f"/><stop offset="0.192" stop-color="#d3ff2c"/><stop offset="0.230" stop-color="#fff300"/><stop offset="0.289" stop-color="#ffd700"/><stop offset="0.639" stop-color="#f1ff0e"/><stop offset="0.787" stop-color="#76ff89"/><stop offset="0.863" stop-color="#61ff9e"/><stop offset="0.892" stop-color="#18ffe7"/><stop offset="0.905" stop-color="#00e0ff"/><stop offset="0.935" stop-color="#0065ff"/><stop offset="0.956" stop-color="#005dff"/><stop offset="0.989" stop-color="#00e2ff"/><stop offset="0.998" stop-color="#07fff8"/></linearGradient>
<linearGradient id="c54"><stop offset="0.002" stop-color="#48ffb7"/><stop offset="0.070" stop-color="#7bff84"/><stop offset="0.141" stop-color="#baff45"/><stop offset="0.200" stop-color="#ecff13"/><stop offset="0.238" stop-color="#ffde00"/><stop offset="0.331" stop-color="#ffce00"/><stop offset="0.652" stop-color="#fffc00"/><stop offset="0.787" stop-color="#93ff6c"/><stop offset="0.871" stop-color="#7dff82"/><stop offset="0.914" stop-color="#14ffeb"/><stop offset="0.935" stop-color="#00d9ff"/><stop offset="0.960" stop-color="#00daff"/><stop offset="0.977" stop-color="#09fff6"/><stop offset="0.998" stop-color="#4dffb2"/></linearGradient>
<linearGradient id="c55"><stop offset="0.002" stop-color="#52ffad"/><stop offset="0.065" stop-color="#7fff80"/><stop offset="0.137" stop-color="#c7ff38"/><stop offset="0.196" stop-color="#f2ff0d"/><stop offset="0.276" stop-color="#ffc500"/><stop offset="0.639" stop-color="#ffdc00"/><stop offset="0.703" stop-color="#edff12"/><stop offset="0.795" stop-color="#aeff51"/><stop offset="0.884" stop-color="#9bff64"/><stop offset="0.943" stop-color="#41ffbe"/><stop offset="0.981" stop-color="#6fff90"/><stop offset="0.998" stop-color="#90ff6f"/></linearGradient>
<linearGradient id="c56"><stop offset="0.002" stop-color="#52ffad"/><stop offset="0.061" stop-color="#7eff81"/><stop offset="0.133" stop-color="#d4ff2b"/><stop offset="0.209" stop-color="#fff200"/><stop offset="0.272" stop-color="#ffc200"/><stop offset="0.508" stop-color="#ffc000"/><stop offset="0.665" stop-color="#ffe500"/><stop offset="0.719" stop-color="#e8ff17"/><stop offset="0.808" stop-color="#bfff40"/><stop offset="0.897" stop-color="#afff50"/><stop offset="0.951" stop-color="#8eff71"/><stop offset="0.998" stop-color="#beff41"/></linearGradient>
<linearGradient id="c57"><stop offset="0.002" stop-color="#45ffba"/><stop offset="0.049" stop-color="#61ff9e"/><stop offset="0.124" stop-color="#ddff22"/><stop offset="0.200" stop-color="#fff300"/><stop offset="0.272" stop-color="#ffbe00"/><stop offset="0.462" stop-color="#ffac00"/><stop offset="0.686" stop-color="#fffc00"/><stop offset="0.800" stop-color="#c3ff3c"/><stop offset="0.876" stop-color="#b4ff4b"/><stop offset="0.926" stop-color="#5fffa0"/><stop offset="0.960" stop-color="#8cff73"/><stop offset="0.998" stop-color="#ceff31"/></linearGradient>
<linearGradient id="c58"><stop offset="0.002" stop-color="#0cfff3"/><stop offset="0.036" stop-color="#00f3ff"/><stop offset="0.053" stop-color="#1bffe4"/><stop offset="0.103" stop-color="#c7ff38"/><stop offset="0.146" stop-color="#f3ff0c"/><stop offset="0.200" stop-color="#ffe900"/><stop offset="0.276" stop-color="#ffbb00"/><stop offset="0.458" stop-color="#ffa800"/><stop offset="0.622" stop-color="#ffe700"/><stop offset="0.711" stop-color="#ebff14"/><stop offset="0.821" stop-color="#c8ff37"/><stop offset="0.859" stop-color="#b2ff4d"/><stop offset="0.880" stop-color="#5fffa0"/><stop offset="0.892" stop-color="#04fffb"/><stop offset="0.918" stop-color="#004bff"/><stop offset="0.930" stop-color="#0037ff"/><stop offset="0.943" stop-color="#006bff"/><stop offset="0.960" stop-color="#00f2ff"/><stop offset="0.985" stop-color="#a0ff5f"/><stop offset="0.998" stop-color="#c9ff36"/></linearGradient>
<linearGradient id="c59"><stop offset="0.002" stop-color="#008bff"/><stop offset="0.023" stop-color="#0024ff"/><stop offset="0.040" stop-color="#0022ff"/><stop offset="0.057" stop-color="#007cff"/><stop offset="0.074" stop-color="#02fffd"/><stop offset="0.099" stop-color="#9cff63"/><stop offset="0.129" stop-color="#e1ff1e"/><stop offset="0.196" stop-color="#fff300"/><stop offset="0.272" stop-color="#ffb800"/><stop offset="0.462" stop-color="#ffb000"/><stop offset="0.614" stop-color="#fff200"/><stop offset="0.715" stop-color="#e6ff19"/><stop offset="0.854" stop-color="#baff45"/><stop offset="0.876" stop-color="#64ff9b"/><stop offset="0.888" stop-color="#00fbff"/><stop offset="0.914" stop-color="#0000fd"/><stop offset="0.926" stop-color="#0000c6"/><stop offset="0.939" stop-color="#0000ec"/><stop offset="0.943" stop-color="#000dff"/><stop offset="0.964" stop-color="#00eaff"/><stop offset="0.973" stop-color="#3effc1"/><stop offset="0.989" stop-color="#afff50"/><stop offset="0.998" stop-color="#cdff32"/></linearGradient>
<linearGradient id="c60"><stop offset="0.002" stop-color="#0087ff"/><stop offset="0.023" stop-color="#0022ff"/><stop offset="0.040" stop-color="#0020ff"/><stop offset="0.061" stop-color="#0094ff"/><stop offset="0.074" stop-color="#00f3ff"/><stop offset="0.103" stop-color="#90ff6f"/><stop offset="0.137" stop-color="#c3ff3c"/><stop offset="0.192" stop-color="#efff10"/><stop offset="0.255" stop-color="#ffb900"/><stop offset="0.462" stop-color="#ffb600"/><stop offset="0.610" stop-color="#fffe00"/><stop offset="0.833" stop-color="#d3ff2c"/><stop offset="0.871" stop-color="#bbff44"/><stop offset="0.922" stop-color="#1cffe3"/><stop offset="0.943" stop-color="#38ffc7"/><stop offset="0.985" stop-color="#d8ff27"/><stop offset="0.998" stop-color="#ecff13"/></linearGradient>
<linearGradient id="c61"><stop offset="0.002" stop-color="#00fcff"/><stop offset="0.036" stop-color="#00e1ff"/><stop offset="0.057" stop-color="#0cfff3"/><stop offset="0.108" stop-color="#8aff75"/><stop offset="0.192" stop-color="#ccff33"/><stop offset="0.234" stop-color="#ffef00"/><stop offset="0.378" stop-color="#ffb600"/><stop offset="0.470" stop-color="#ffc300"/><stop offset="0.563" stop-color="#f2ff0d"/><stop offset="0.850" stop-color="#ddff22"/><stop offset="0.956" stop-color="#efff10"/><stop offset="0.998" stop-color="#fffd00"/></linearGradient>
<linearGradient id="c62"><stop offset="0.002" stop-color="#31ffce"/><stop offset="0.070" stop-color="#50ffaf"/><stop offset="0.200" stop-color="#a7ff58"/><stop offset="0.272" stop-color="#e0ff1f"/><stop offset="0.386" stop-color="#ffec00"/><stop offset="0.479" stop-color="#fffc00"/><stop offset="0.610" stop-color="#b9ff46"/><stop offset="0.994" stop-color="#fff200"/><stop offset="0.998" stop-color="#fff200"/></linearGradient>
<linearGradient id="c63"><stop offset="0.002" stop-color="#3bffc4"/><stop offset="0.314" stop-color="#9eff61"/><stop offset="0.538" stop-color="#98ff67"/><stop offset="0.656" stop-color="#9aff65"/><stop offset="0.800" stop-color="#dfff20"/><stop offset="0.973" stop-color="#ffea00"/><stop offset="0.998" stop-color="#ffe900"/></linearGradient>
<linearGradient id="c64"><stop offset="0.002" stop-color="#40ffbf"/><stop offset="0.192" stop-color="#5bffa4"/><stop offset="0.340" stop-color="#3dffc2"/><stop offset="0.378" stop-color="#00f3ff"/><stop offset="0.411" stop-color="#00b9ff"/><stop offset="0.445" stop-color="#00eaff"/><stop offset="0.466" stop-color="#1fffe0"/><stop offset="0.517" stop-color="#56ffa9"/><stop offset="0.660" stop-color="#79ff86"/><stop offset="0.783" stop-color="#e1ff1e"/><stop offset="0.926" stop-color="#ffee00"/><stop offset="0.998" stop-color="#ffe000"/></linearGradient>
<linearGradient id="c65"><stop offset="0.002" stop-color="#45ffba"/><stop offset="0.205" stop-color="#4fffb0"/><stop offset="0.323" stop-color="#31ffce"/><stop offset="0.348" stop-color="#00f6ff"/><stop offset="0.395" stop-color="#0000fd"/><stop offset="0.411" stop-color="#0000d1"/><stop offset="0.432" stop-color="#0002ff"/><stop offset="0.479" stop-color="#00fbff"/><stop offset="0.517" stop-color="#46ffb9"/><stop offset="0.686" stop-color="#84ff7b"/><stop offset="0.795" stop-color="#c3ff3c"/><stop offset="0.998" stop-color="#ffff00"/></linearGradient>
<linearGradient id="c66"><stop offset="0.002" stop-color="#4affb5"/><stop offset="0.213" stop-color="#64ff9b"/><stop offset="0.319" stop-color="#68ff97"/><stop offset="0.352" stop-color="#23ffdc"/><stop offset="0.361" stop-color="#00ffff"/><stop offset="0.399" stop-color="#0043ff"/><stop offset="0.416" stop-color="#002bff"/><stop offset="0.437" stop-color="#006aff"/><stop offset="0.466" stop-color="#05fffa"/><stop offset="0.496" stop-color="#60ff9f"/><stop offset="0.572" stop-color="#84ff7b"/><stop offset="0.859" stop-color="#8aff75"/><stop offset="0.998" stop-color="#b8ff47"/></linearGradient>
<linearGradient id="c67"><stop offset="0.002" stop-color="#62ff9d"/><stop offset="0.188" stop-color="#75ff8a"/><stop offset="0.285" stop-color="#a1ff5e"/><stop offset="0.361" stop-color="#86ff79"/><stop offset="0.416" stop-color="#4effb1"/><stop offset="0.504" stop-color="#a5ff5a"/><stop offset="0.652" stop-color="#9eff61"/><stop offset="0.812" stop-color="#04fffb"/><stop offset="0.880" stop-color="#36ffc9"/><stop offset="0.968" stop-color="#6fff90"/><stop offset="0.998" stop-color="#70ff8f"/></linearGradient>
<linearGradient id="c68"><stop offset="0.002" stop-color="#8eff71"/><stop offset="0.192" stop-color="#a8ff57"/><stop offset="0.289" stop-color="#cfff30"/><stop offset="0.631" stop-color="#cdff32"/><stop offset="0.707" stop-color="#77ff88"/><stop offset="0.753" stop-color="#00fbff"/><stop offset="0.804" stop-color="#0050ff"/><stop offset="0.829" stop-color="#0042ff"/><stop offset="0.863" stop-color="#009eff"/><stop offset="0.892" stop-color="#09fff6"/><stop offset="0.935" stop-color="#5cffa3"/><stop offset="0.998" stop-color="#70ff8f"/></linearGradient>
<linearGradient id="c69"><stop offset="0.002" stop-color="#b9ff46"/><stop offset="0.200" stop-color="#daff25"/><stop offset="0.348" stop-color="#fffc00"/><stop offset="0.652" stop-color="#ebff14"/><stop offset="0.719" stop-color="#9bff64"/><stop offset="0.766" stop-color="#0ffff0"/><stop offset="0.787" stop-color="#00bdff"/><stop offset="0.816" stop-color="#007aff"/><stop offset="0.842" stop-color="#0096ff"/><stop offset="0.871" stop-color="#01fffe"/><stop offset="0.914" stop-color="#85ff7a"/><stop offset="0.968" stop-color="#b5ff4a"/><stop offset="0.998" stop-color="#b7ff48"/></linearGradient>
<linearGradient id="c70"><stop offset="0.002" stop-color="#e4ff1b"/><stop offset="0.226" stop-color="#fff000"/><stop offset="0.483" stop-color="#ffd200"/><stop offset="0.673" stop-color="#fff000"/><stop offset="0.745" stop-color="#d6ff29"/><stop offset="0.821" stop-color="#a1ff5e"/><stop offset="0.960" stop-color="#fcff03"/><stop offset="0.998" stop-color="#ffff00"/></linearGradient>
<linearGradient id="c71"><stop offset="0.002" stop-color="#fff700"/><stop offset="0.475" stop-color="#ffac00"/><stop offset="0.711" stop-color="#ffcb00"/><stop offset="0.854" stop-color="#ffd700"/><stop offset="0.998" stop-color="#ffbb00"/></linearGradient>
<linearGradient id="c72"><stop offset="0.002" stop-color="#ffde00"/><stop offset="0.470" stop-color="#ff8800"/><stop offset="0.918" stop-color="#ff8000"/><stop offset="0.998" stop-color="#ff7a00"/></linearGradient>
<linearGradient id="c73"><stop offset="0.002" stop-color="#ffc400"/><stop offset="0.217" stop-color="#ff9500"/><stop offset="0.462" stop-color="#ff6100"/><stop offset="0.719" stop-color="#ff4c00"/><stop offset="0.998" stop-color="#ff3a00"/></linearGradient>
<linearGradient id="c74"><stop offset="0.002" stop-color="#ffab00"/><stop offset="0.192" stop-color="#ff8200"/><stop offset="0.285" stop-color="#ff5600"/><stop offset="0.496" stop-color="#ff3800"/><stop offset="0.724" stop-color="#ff2100"/><stop offset="0.998" stop-color="#ff1600"/></linearGradient>
<linearGradient id="c75"><stop offset="0.002" stop-color="#ff8300"/><stop offset="0.184" stop-color="#ff5e00"/><stop offset="0.268" stop-color="#ff1a00"/><stop offset="0.998" stop-color="#ff0f00"/></linearGradient>
<linearGradient id="c76"><stop offset="0.002" stop-color="#ff4c00"/><stop offset="0.184" stop-color="#ff3200"/><stop offset="0.264" stop-color="#f80000"/><stop offset="0.998" stop-color="#ff0700"/></linearGradient>
<linearGradient id="c77"><stop offset="0.002" stop-color="#ff1600"/><stop offset="0.508" stop-color="#f40000"/><stop offset="0.998" stop-color="#ff0000"/></linearGradient>
<linearGradient id="c78"><stop offset="0.002" stop-color="#f70000"/><stop offset="0.998" stop-color="#f80000"/></linearGradient>
<linearGradient id="c79"><stop offset="0.002" stop-color="#f00000"/><stop offset="0.998" stop-color="#f00000"/></linearGradient>
<linearGradient id="c80"><stop offset="0.002" stop-color="#e90000"/><stop offset="0.998" stop-color="#e90000"/></linearGradient>
<linearGradient id="c81"><stop offset="0.002" stop-color="#e50000"/><stop offset="0.998" stop-color="#e50000"/></linearGradient>
<linearGradient id="c82"><stop offset="0.002" stop-color="#e50000"/><stop offset="0.998" stop-color="#e50000"/></linearGradient>
<linearGradient id="d0"><stop offset="0.002" stop-color="#0000fa"/><stop offset="0.454" stop-color="#0013ff"/><stop offset="0.639" stop-color="#0019ff"/><stop offset="0.686" stop-color="#0000ec"/><stop offset="0.770" stop-color="#0000bd"/><stop offset="0.998" stop-color="#0000bd"/></linearGradient>
<linearGradient id="d1"><stop offset="0.002" stop-color="#0000fd"/><stop offset="0.352" stop-color="#000fff"/><stop offset="0.635" stop-color="#001eff"/><stop offset="0.681" stop-color="#0000ef"/><stop offset="0.753" stop-color="#0000bf"/><stop offset="0.998" stop-color="#0000bf"/></linearGradient>
<linearGradient id="d2"><stop offset="0.002" stop-color="#0001ff"/><stop offset="0.335" stop-color="#000fff"/><stop offset="0.635" stop-color="#0020ff"/><stop offset="0.681" stop-color="#0000ee"/><stop offset="0.745" stop-color="#0000be"/><stop offset="0.998" stop-color="#0000c2"/></linearGradient>
<linearGradient id="d3"><stop offset="0.002" stop-color="#0005ff"/><stop offset="0.243" stop-color="#0006ff"/><stop offset="0.597" stop-color="#002dff"/><stop offset="0.665" stop-color="#0005ff"/><stop offset="0.736" stop-color="#0000bd"/><stop offset="0.998" stop-color="#0000c5"/></linearGradient>
<linearGradient id="d4"><stop offset="0.002" stop-color="#0008ff"/><stop offset="0.222" stop-color="#000bff"/><stop offset="0.335" stop-color="#0019ff"/><stop offset="0.618" stop-color="#002eff"/><stop offset="0.677" stop-color="#0000f3"/><stop offset="0.736" stop-color="#0000bc"/><stop offset="0.998" stop-color="#0000c7"/></linearGradient>
<linearGradient id="d5"><stop offset="0.002" stop-color="#000bff"/><stop offset="0.154" stop-color="#000fff"/><stop offset="0.319" stop-color="#0013ff"/><stop offset="0.432" stop-color="#002fff"/><stop offset="0.639" stop-color="#0026ff"/><stop offset="0.681" stop-color="#0000ef"/><stop offset="0.736" stop-color="#0000bc"/><stop offset="0.998" stop-color="#0000ca"/></linearGradient>
<linearGradient id="d6"><stop offset="0.002" stop-color="#000eff"/><stop offset="0.141" stop-color="#0015ff"/><stop offset="0.200" stop-color="#0007ff"/><stop offset="0.323" stop-color="#0017ff"/><stop offset="0.420" stop-color="#0036ff"/><stop offset="0.563" stop-color="#0037ff"/><stop offset="0.648" stop-color="#0021ff"/><stop offset="0.686" stop-color="#0000ec"/><stop offset="0.741" stop-color="#0000bf"/><stop offset="0.998" stop-color="#0000cc"/></linearGradient>
<linearGradient id="d7"><stop offset="0.002" stop-color="#0012ff"/><stop offset="0.137" stop-color="#0016ff"/><stop offset="0.188" stop-color="#0000f8"/><stop offset="0.268" stop-color="#0007ff"/><stop offset="0.327" stop-color="#001bff"/><stop offset="0.411" stop-color="#003cff"/><stop offset="0.513" stop-color="#002eff"/><stop offset="0.635" stop-color="#0030ff"/><stop offset="0.686" stop-color="#0000f2"/><stop offset="0.745" stop-color="#0000c3"/><stop offset="0.998" stop-color="#0000cf"/></linearGradient>
<linearGradient id="d8"><stop offset="0.002" stop-color="#0015ff"/><stop offset="0.129" stop-color="#001dff"/><stop offset="0.167" stop-color="#0000ea"/><stop offset="0.259" stop-color="#0009ff"/><stop offset="0.314" stop-color="#000cff"/><stop offset="0.390" stop-color="#0043ff"/><stop offset="0.500" stop-color="#0022ff"/><stop offset="0.589" stop-color="#003eff"/><stop offset="0.660" stop-color="#001cff"/><stop offset="0.698" stop-color="#0000e8"/><stop offset="0.766" stop-color="#0000c8"/><stop offset="0.998" stop-color="#0000d2"/></linearGradient>
<linearGradient id="d9"><stop offset="0.002" stop-color="#0018ff"/><stop offset="0.124" stop-color="#0021ff"/><stop offset="0.154" stop-color="#0000ee"/><stop offset="0.184" stop-color="#0000d6"/><stop offset="0.222" stop-color="#000dff"/><stop offset="0.306" stop-color="#0000f9"/><stop offset="0.382" stop-color="#0048ff"/><stop offset="0.449" stop-color="#0032ff"/><stop offset="0.492" stop-color="#0011ff"/><stop offset="0.563" stop-color="#0041ff"/><stop offset="0.652" stop-color="#002bff"/><stop offset="0.703" stop-color="#0000ec"/><stop offset="0.787" stop-color="#0000cc"/><stop offset="0.998" stop-color="#0000d4"/></linearGradient>
<linearGradient id="d10"><stop offset="0.002" stop-color="#001cff"/><stop offset="0.120" stop-color="#0026ff"/><stop offset="0.146" stop-color="#0000f6"/><stop offset="0.175" stop-color="#0000bf"/><stop offset="0.222" stop-color="#000bff"/><stop offset="0.272" stop-color="#0000f1"/><stop offset="0.306" stop-color="#0000ec"/><stop offset="0.331" stop-color="#001aff"/><stop offset="0.386" stop-color="#004fff"/><stop offset="0.445" stop-color="#0035ff"/><stop offset="0.487" stop-color="#0000fc"/><stop offset="0.559" stop-color="#0044ff"/><stop offset="0.652" stop-color="#0030ff"/><stop offset="0.707" stop-color="#0000f1"/><stop offset="0.804" stop-color="#0000d0"/><stop offset="0.998" stop-color="#0000d7"/></linearGradient>
<linearGradient id="d11"><stop offset="0.002" stop-color="#001fff"/><stop offset="0.120" stop-color="#0028ff"/><stop offset="0.146" stop-color="#0000ee"/><stop offset="0.175" stop-color="#0000ac"/><stop offset="0.209" stop-color="#0000ef"/><stop offset="0.247" stop-color="#000dff"/><stop offset="0.297" stop-color="#0000d3"/><stop offset="0.327" stop-color="#000bff"/><stop offset="0.369" stop-color="#004fff"/><stop offset="0.432" stop-color="#0046ff"/><stop offset="0.470" stop-color="#0000f5"/><stop offset="0.496" stop-color="#0000ec"/><stop offset="0.525" stop-color="#002aff"/><stop offset="0.576" stop-color="#0048ff"/><stop offset="0.660" stop-color="#002dff"/><stop offset="0.715" stop-color="#0000f2"/><stop offset="0.825" stop-color="#0000d3"/><stop offset="0.998" stop-color="#0000da"/></linearGradient>
<linearGradient id="d12"><stop offset="0.002" stop-color="#0022ff"/><stop offset="0.116" stop-color="#002fff"/><stop offset="0.141" stop-color="#0000f7"/><stop offset="0.171" stop-color="#00009f"/><stop offset="0.192" stop-color="#0000b7"/><stop offset="0.222" stop-color="#0009ff"/><stop offset="0.251" stop-color="#0005ff"/><stop offset="0.293" stop-color="#0000be"/><stop offset="0.331" stop-color="#0010ff"/><stop offset="0.369" stop-color="#0054ff"/><stop offset="0.428" stop-color="#004eff"/><stop offset="0.462" stop-color="#0000f8"/><stop offset="0.487" stop-color="#0000cc"/><stop offset="0.517" stop-color="#000fff"/><stop offset="0.551" stop-color="#0047ff"/><stop offset="0.652" stop-color="#0039ff"/><stop offset="0.724" stop-color="#0000f4"/><stop offset="0.838" stop-color="#0000d7"/><stop offset="0.998" stop-color="#0000dc"/></linearGradient>
<linearGradient id="d13"><stop offset="0.002" stop-color="#0024ff"/><stop offset="0.116" stop-color="#0032ff"/><stop offset="0.141" stop-color="#0000f5"/><stop offset="0.171" stop-color="#000097"/><stop offset="0.192" stop-color="#0000b1"/><stop offset="0.217" stop-color="#0002ff"/><stop offset="0.243" stop-color="#0012ff"/><stop offset="0.264" stop-color="#0000e6"/><stop offset="0.293" stop-color="#0000ac"/><stop offset="0.319" stop-color="#0000de"/><stop offset="0.331" stop-color="#000cff"/><stop offset="0.365" stop-color="#0057ff"/><stop offset="0.420" stop-color="#005bff"/><stop offset="0.449" stop-color="#001bff"/><stop offset="0.462" stop-color="#0000e9"/><stop offset="0.483" stop-color="#0000b4"/><stop offset="0.504" stop-color="#0000d8"/><stop offset="0.521" stop-color="#0014ff"/><stop offset="0.555" stop-color="#004cff"/><stop offset="0.656" stop-color="#003aff"/><stop offset="0.736" stop-color="#0000f1"/><stop offset="0.867" stop-color="#0000dc"/><stop offset="0.998" stop-color="#0000df"/></linearGradient>
<linearGradient id="d14"><stop offset="0.002" stop-color="#0024ff"/><stop offset="0.116" stop-color="#0035ff"/><stop offset="0.141" stop-color="#0000f8"/><stop offset="0.171" stop-color="#000098"/><stop offset="0.192" stop-color="#0000b3"/><stop offset="0.217" stop-color="#0008ff"/><stop offset="0.243" stop-color="#0017ff"/><stop offset="0.259" stop-color="#0000f1"/><stop offset="0.289" stop-color="#0000a0"/><stop offset="0.310" stop-color="#0000b9"/><stop offset="0.331" stop-color="#000cff"/><stop offset="0.361" stop-color="#005aff"/><stop offset="0.416" stop-color="#0066ff"/><stop offset="0.445" stop-color="#0028ff"/><stop offset="0.458" stop-color="#0000f1"/><stop offset="0.479" stop-color="#0000a6"/><stop offset="0.496" stop-color="#0000ae"/><stop offset="0.521" stop-color="#000eff"/><stop offset="0.551" stop-color="#004cff"/><stop offset="0.656" stop-color="#003eff"/><stop offset="0.741" stop-color="#0000f4"/><stop offset="0.876" stop-color="#0000e0"/><stop offset="0.998" stop-color="#0000e1"/></linearGradient>
<linearGradient id="d15"><stop offset="0.002" stop-color="#0024ff"/><stop offset="0.116" stop-color="#0039ff"/><stop offset="0.141" stop-color="#0000fe"/><stop offset="0.171" stop-color="#0000a3"/><stop offset="0.192" stop-color="#0000bc"/><stop offset="0.213" stop-color="#0005ff"/><stop offset="0.238" stop-color="#0022ff"/><stop offset="0.259" stop-color="#0000f3"/><stop offset="0.289" stop-color="#000098"/><stop offset="0.310" stop-color="#0000b3"/><stop offset="0.331" stop-color="#000eff"/><stop offset="0.361" stop-color="#0062ff"/><stop offset="0.411" stop-color="#0071ff"/><stop offset="0.441" stop-color="#003aff"/><stop offset="0.454" stop-color="#0003ff"/><stop offset="0.479" stop-color="#00009b"/><stop offset="0.496" stop-color="#0000a5"/><stop offset="0.521" stop-color="#000dff"/><stop offset="0.551" stop-color="#004eff"/><stop offset="0.656" stop-color="#0041ff"/><stop offset="0.749" stop-color="#0000f2"/><stop offset="0.998" stop-color="#0000e4"/></linearGradient>
<linearGradient id="d16"><stop offset="0.002" stop-color="#0023ff"/><stop offset="0.120" stop-color="#0039ff"/><stop offset="0.146" stop-color="#0000fb"/><stop offset="0.171" stop-color="#0000b6"/><stop offset="0.192" stop-color="#0000cd"/><stop offset="0.213" stop-color="#0010ff"/><stop offset="0.238" stop-color="#002bff"/><stop offset="0.259" stop-color="#0000f9"/><stop offset="0.289" stop-color="#000098"/><stop offset="0.306" stop-color="#0000a6"/><stop offset="0.327" stop-color="#0000ff"/><stop offset="0.357" stop-color="#0063ff"/><stop offset="0.407" stop-color="#007bff"/><stop offset="0.437" stop-color="#004eff"/><stop offset="0.458" stop-color="#0000f1"/><stop offset="0.479" stop-color="#00009b"/><stop offset="0.496" stop-color="#0000a5"/><stop offset="0.517" stop-color="#0000fd"/><stop offset="0.546" stop-color="#004eff"/><stop offset="0.656" stop-color="#0044ff"/><stop offset="0.757" stop-color="#0000f4"/><stop offset="0.998" stop-color="#0000ea"/></linearGradient>
<linearGradient id="d17"><stop offset="0.002" stop-color="#0023ff"/><stop offset="0.120" stop-color="#003fff"/><stop offset="0.154" stop-color="#0000f1"/><stop offset="0.179" stop-color="#0000ce"/><stop offset="0.205" stop-color="#0008ff"/><stop offset="0.234" stop-color="#0038ff"/><stop offset="0.264" stop-color="#0000f3"/><stop offset="0.289" stop-color="#0000a3"/><stop offset="0.306" stop-color="#0000b1"/><stop offset="0.327" stop-color="#000bff"/><stop offset="0.357" stop-color="#006cff"/><stop offset="0.407" stop-color="#0083ff"/><stop offset="0.437" stop-color="#0057ff"/><stop offset="0.458" stop-color="#0000fb"/><stop offset="0.479" stop-color="#0000a7"/><stop offset="0.496" stop-color="#0000b1"/><stop offset="0.517" stop-color="#0006ff"/><stop offset="0.546" stop-color="#0052ff"/><stop offset="0.660" stop-color="#0045ff"/><stop offset="0.774" stop-color="#0000f8"/><stop offset="0.998" stop-color="#0000f5"/></linearGradient>
<linearGradient id="d18"><stop offset="0.002" stop-color="#0022ff"/><stop offset="0.124" stop-color="#0041ff"/><stop offset="0.162" stop-color="#0000f5"/><stop offset="0.188" stop-color="#0000f5"/><stop offset="0.234" stop-color="#0043ff"/><stop offset="0.259" stop-color="#0012ff"/><stop offset="0.285" stop-color="#0000be"/><stop offset="0.306" stop-color="#0000c5"/><stop offset="0.323" stop-color="#0007ff"/><stop offset="0.352" stop-color="#006fff"/><stop offset="0.399" stop-color="#008eff"/><stop offset="0.432" stop-color="#006eff"/><stop offset="0.462" stop-color="#0000f9"/><stop offset="0.483" stop-color="#0000b9"/><stop offset="0.504" stop-color="#0000e1"/><stop offset="0.517" stop-color="#0013ff"/><stop offset="0.546" stop-color="#0057ff"/><stop offset="0.669" stop-color="#0044ff"/><stop offset="0.795" stop-color="#0000ff"/><stop offset="0.977" stop-color="#0000f5"/><stop offset="0.998" stop-color="#0000fe"/></linearGradient>
<linearGradient id="d19"><stop offset="0.002" stop-color="#0021ff"/><stop offset="0.124" stop-color="#0049ff"/><stop offset="0.179" stop-color="#0009ff"/><stop offset="0.234" stop-color="#0050ff"/><stop offset="0.264" stop-color="#0017ff"/><stop offset="0.281" stop-color="#0000e2"/><stop offset="0.302" stop-color="#0000d8"/><stop offset="0.319" stop-color="#000cff"/><stop offset="0.352" stop-color="#007aff"/><stop offset="0.403" stop-color="#0096ff"/><stop offset="0.437" stop-color="#0070ff"/><stop offset="0.470" stop-color="#0000f2"/><stop offset="0.492" stop-color="#0000dc"/><stop offset="0.508" stop-color="#0008ff"/><stop offset="0.542" stop-color="#0059ff"/><stop offset="0.669" stop-color="#0048ff"/><stop offset="0.800" stop-color="#000aff"/><stop offset="0.918" stop-color="#0000f3"/><stop offset="0.964" stop-color="#0000eb"/><stop offset="0.998" stop-color="#0007ff"/></linearGradient>
<linearGradient id="d20"><stop offset="0.002" stop-color="#001fff"/><stop offset="0.129" stop-color="#004dff"/><stop offset="0.179" stop-color="#0024ff"/><stop offset="0.234" stop-color="#005dff"/><stop offset="0.268" stop-color="#0022ff"/><stop offset="0.289" stop-color="#0000f6"/><stop offset="0.310" stop-color="#000dff"/><stop offset="0.352" stop-color="#0086ff"/><stop offset="0.407" stop-color="#009eff"/><stop offset="0.441" stop-color="#0074ff"/><stop offset="0.479" stop-color="#0002ff"/><stop offset="0.504" stop-color="#0017ff"/><stop offset="0.542" stop-color="#005fff"/><stop offset="0.681" stop-color="#0044ff"/><stop offset="0.812" stop-color="#0014ff"/><stop offset="0.901" stop-color="#0005ff"/><stop offset="0.951" stop-color="#0000d7"/><stop offset="0.998" stop-color="#000eff"/></linearGradient>
<linearGradient id="d21"><stop offset="0.002" stop-color="#001bff"/><stop offset="0.133" stop-color="#0053ff"/><stop offset="0.184" stop-color="#003dff"/><stop offset="0.238" stop-color="#0068ff"/><stop offset="0.293" stop-color="#001aff"/><stop offset="0.327" stop-color="#005bff"/><stop offset="0.365" stop-color="#009fff"/><stop offset="0.424" stop-color="#009dff"/><stop offset="0.483" stop-color="#0023ff"/><stop offset="0.551" stop-color="#0067ff"/><stop offset="0.719" stop-color="#0035ff"/><stop offset="0.897" stop-color="#000cff"/><stop offset="0.951" stop-color="#0000c5"/><stop offset="0.994" stop-color="#000dff"/><stop offset="0.998" stop-color="#0013ff"/></linearGradient>
<linearGradient id="d22"><stop offset="0.002" stop-color="#0016ff"/><stop offset="0.133" stop-color="#005aff"/><stop offset="0.192" stop-color="#0056ff"/><stop offset="0.247" stop-color="#0071ff"/><stop offset="0.297" stop-color="#003fff"/><stop offset="0.365" stop-color="#00a8ff"/><stop offset="0.428" stop-color="#00a4ff"/><stop offset="0.487" stop-color="#0044ff"/><stop offset="0.555" stop-color="#006bff"/><stop offset="0.829" stop-color="#002aff"/><stop offset="0.892" stop-color="#0016ff"/><stop offset="0.914" stop-color="#0000e9"/><stop offset="0.947" stop-color="#0000ae"/><stop offset="0.994" stop-color="#0010ff"/><stop offset="0.998" stop-color="#0018ff"/></linearGradient>
<linearGradient id="d23"><stop offset="0.002" stop-color="#000fff"/><stop offset="0.137" stop-color="#0060ff"/><stop offset="0.200" stop-color="#006cff"/><stop offset="0.255" stop-color="#007bff"/><stop offset="0.302" stop-color="#0062ff"/><stop offset="0.373" stop-color="#00b6ff"/><stop offset="0.437" stop-color="#00a7ff"/><stop offset="0.492" stop-color="#0061ff"/><stop offset="0.572" stop-color="#006aff"/><stop offset="0.829" stop-color="#0034ff"/><stop offset="0.888" stop-color="#0023ff"/><stop offset="0.909" stop-color="#0000f2"/><stop offset="0.943" stop-color="#00009d"/><stop offset="0.968" stop-color="#0000c3"/><stop offset="0.989" stop-color="#0008ff"/><stop offset="0.998" stop-color="#001dff"/></linearGradient>
<linearGradient id="d24"><stop offset="0.002" stop-color="#0008ff"/><stop offset="0.133" stop-color="#0066ff"/><stop offset="0.209" stop-color="#007dff"/><stop offset="0.264" stop-color="#0086ff"/><stop offset="0.310" stop-color="#0084ff"/><stop offset="0.382" stop-color="#00c1ff"/><stop offset="0.449" stop-color="#00a5ff"/><stop offset="0.504" stop-color="#0078ff"/><stop offset="0.656" stop-color="#004aff"/><stop offset="0.884" stop-color="#0031ff"/><stop offset="0.909" stop-color="#0000f5"/><stop offset="0.943" stop-color="#000095"/><stop offset="0.964" stop-color="#0000b2"/><stop offset="0.989" stop-color="#000dff"/><stop offset="0.998" stop-color="#0025ff"/></linearGradient>
<linearGradient id="d25"><stop offset="0.002" stop-color="#0000ff"/><stop offset="0.044" stop-color="#002aff"/><stop offset="0.137" stop-color="#006bff"/><stop offset="0.222" stop-color="#0092ff"/><stop offset="0.319" stop-color="#00a4ff"/><stop offset="0.403" stop-color="#00cdff"/><stop offset="0.538" stop-color="#007eff"/><stop offset="0.648" stop-color="#0046ff"/><stop offset="0.694" stop-color="#0036ff"/><stop offset="0.791" stop-color="#0047ff"/><stop offset="0.884" stop-color="#003cff"/><stop offset="0.914" stop-color="#0000ef"/><stop offset="0.943" stop-color="#00009b"/><stop offset="0.964" stop-color="#0000b9"/><stop offset="0.985" stop-color="#0009ff"/><stop offset="0.998" stop-color="#0030ff"/></linearGradient>
<linearGradient id="d26"><stop offset="0.002" stop-color="#0000f9"/><stop offset="0.032" stop-color="#0014ff"/><stop offset="0.124" stop-color="#006cff"/><stop offset="0.205" stop-color="#0091ff"/><stop offset="0.272" stop-color="#00afff"/><stop offset="0.416" stop-color="#00d7ff"/><stop offset="0.576" stop-color="#0070ff"/><stop offset="0.639" stop-color="#0044ff"/><stop offset="0.681" stop-color="#001cff"/><stop offset="0.753" stop-color="#0053ff"/><stop offset="0.884" stop-color="#0048ff"/><stop offset="0.918" stop-color="#0000f1"/><stop offset="0.943" stop-color="#0000b1"/><stop offset="0.964" stop-color="#0000cd"/><stop offset="0.981" stop-color="#000aff"/><stop offset="0.998" stop-color="#003eff"/></linearGradient>
<linearGradient id="d27"><stop offset="0.002" stop-color="#0000f5"/><stop offset="0.032" stop-color="#0013ff"/><stop offset="0.120" stop-color="#006eff"/><stop offset="0.200" stop-color="#0097ff"/><stop offset="0.268" stop-color="#00c6ff"/><stop offset="0.424" stop-color="#00e1ff"/><stop offset="0.551" stop-color="#007dff"/><stop offset="0.627" stop-color="#004fff"/><stop offset="0.673" stop-color="#0000fc"/><stop offset="0.707" stop-color="#0029ff"/><stop offset="0.753" stop-color="#005bff"/><stop offset="0.884" stop-color="#0055ff"/><stop offset="0.926" stop-color="#0000f2"/><stop offset="0.951" stop-color="#0000d5"/><stop offset="0.973" stop-color="#0007ff"/><stop offset="0.998" stop-color="#004fff"/></linearGradient>
<linearGradient id="d28"><stop offset="0.002" stop-color="#0000f6"/><stop offset="0.032" stop-color="#0015ff"/><stop offset="0.116" stop-color="#0071ff"/><stop offset="0.196" stop-color="#009eff"/><stop offset="0.268" stop-color="#00daff"/><stop offset="0.428" stop-color="#00ecff"/><stop offset="0.487" stop-color="#00a7ff"/><stop offset="0.534" stop-color="#007dff"/><stop offset="0.618" stop-color="#0057ff"/><stop offset="0.656" stop-color="#0000f3"/><stop offset="0.681" stop-color="#0000dd"/><stop offset="0.703" stop-color="#000dff"/><stop offset="0.741" stop-color="#005dff"/><stop offset="0.888" stop-color="#0061ff"/><stop offset="0.943" stop-color="#0000fe"/><stop offset="0.973" stop-color="#0028ff"/><stop offset="0.998" stop-color="#0063ff"/></linearGradient>
<linearGradient id="d29"><stop offset="0.002" stop-color="#0000fc"/><stop offset="0.027" stop-color="#0014ff"/><stop offset="0.095" stop-color="#006aff"/><stop offset="0.192" stop-color="#00a4ff"/><stop offset="0.264" stop-color="#00edff"/><stop offset="0.432" stop-color="#00f6ff"/><stop offset="0.475" stop-color="#00bdff"/><stop offset="0.513" stop-color="#006aff"/><stop offset="0.601" stop-color="#0069ff"/><stop offset="0.635" stop-color="#0025ff"/><stop offset="0.652" stop-color="#0000e7"/><stop offset="0.673" stop-color="#0000b8"/><stop offset="0.694" stop-color="#0000dc"/><stop offset="0.707" stop-color="#000bff"/><stop offset="0.741" stop-color="#0065ff"/><stop offset="0.884" stop-color="#0075ff"/><stop offset="0.947" stop-color="#002cff"/><stop offset="0.998" stop-color="#0076ff"/></linearGradient>
<linearGradient id="d30"><stop offset="0.002" stop-color="#0008ff"/><stop offset="0.032" stop-color="#0026ff"/><stop offset="0.120" stop-color="#0084ff"/><stop offset="0.188" stop-color="#00aaff"/><stop offset="0.264" stop-color="#00ffff"/><stop offset="0.432" stop-color="#03fffc"/><stop offset="0.466" stop-color="#00d1ff"/><stop offset="0.504" stop-color="#0045ff"/><stop offset="0.534" stop-color="#004bff"/><stop offset="0.584" stop-color="#0072ff"/><stop offset="0.622" stop-color="#0047ff"/><stop offset="0.643" stop-color="#0000f9"/><stop offset="0.669" stop-color="#0000a3"/><stop offset="0.690" stop-color="#0000b9"/><stop offset="0.707" stop-color="#0001ff"/><stop offset="0.736" stop-color="#0066ff"/><stop offset="0.791" stop-color="#0084ff"/><stop offset="0.905" stop-color="#0078ff"/><stop offset="0.956" stop-color="#005aff"/><stop offset="0.998" stop-color="#0089ff"/></linearGradient>
<linearGradient id="d31"><stop offset="0.002" stop-color="#0017ff"/><stop offset="0.036" stop-color="#0039ff"/><stop offset="0.133" stop-color="#0091ff"/><stop offset="0.188" stop-color="#00b5ff"/><stop offset="0.247" stop-color="#09fff6"/><stop offset="0.428" stop-color="#12ffed"/><stop offset="0.458" stop-color="#00ebff"/><stop offset="0.479" stop-color="#008aff"/><stop offset="0.500" stop-color="#0018ff"/><stop offset="0.521" stop-color="#0009ff"/><stop offset="0.572" stop-color="#0074ff"/><stop offset="0.610" stop-color="#0068ff"/><stop offset="0.643" stop-color="#0000f7"/><stop offset="0.669" stop-color="#000099"/><stop offset="0.686" stop-color="#0000a4"/><stop offset="0.707" stop-color="#0000ff"/><stop offset="0.736" stop-color="#0070ff"/><stop offset="0.787" stop-color="#0093ff"/><stop offset="0.914" stop-color="#0088ff"/><stop offset="0.968" stop-color="#0084ff"/><stop offset="0.998" stop-color="#009aff"/></linearGradient>
<linearGradient id="d32"><stop offset="0.002" stop-color="#0028ff"/><stop offset="0.133" stop-color="#0098ff"/><stop offset="0.188" stop-color="#00c0ff"/><stop offset="0.234" stop-color="#0bfff4"/><stop offset="0.293" stop-color="#25ffda"/><stop offset="0.437" stop-color="#18ffe7"/><stop offset="0.458" stop-color="#00f0ff"/><stop offset="0.475" stop-color="#0092ff"/><stop offset="0.492" stop-color="#000dff"/><stop offset="0.513" stop-color="#0000ce"/><stop offset="0.534" stop-color="#0000f2"/><stop offset="0.572" stop-color="#007aff"/><stop offset="0.605" stop-color="#007eff"/><stop offset="0.635" stop-color="#002cff"/><stop offset="0.648" stop-color="#0000ee"/><stop offset="0.669" stop-color="#0000a1"/><stop offset="0.686" stop-color="#0000ac"/><stop offset="0.707" stop-color="#000cff"/><stop offset="0.736" stop-color="#007fff"/><stop offset="0.783" stop-color="#00a1ff"/><stop offset="0.981" stop-color="#00a2ff"/><stop offset="0.998" stop-color="#00a8ff"/></linearGradient>
<linearGradient id="d33"><stop offset="0.002" stop-color="#0039ff"/><stop offset="0.137" stop-color="#00a0ff"/><stop offset="0.188" stop-color="#00caff"/><stop offset="0.226" stop-color="#0ffff0"/><stop offset="0.276" stop-color="#38ffc7"/><stop offset="0.437" stop-color="#28ffd7"/><stop offset="0.458" stop-color="#00f9ff"/><stop offset="0.475" stop-color="#0084ff"/><stop offset="0.487" stop-color="#0009ff"/><stop offset="0.504" stop-color="#0000b5"/><stop offset="0.525" stop-color="#0000ae"/><stop offset="0.546" stop-color="#000fff"/><stop offset="0.572" stop-color="#0081ff"/><stop offset="0.601" stop-color="#0094ff"/><stop offset="0.631" stop-color="#0053ff"/><stop offset="0.652" stop-color="#0000f4"/><stop offset="0.673" stop-color="#0000b9"/><stop offset="0.694" stop-color="#0000e6"/><stop offset="0.707" stop-color="#0023ff"/><stop offset="0.736" stop-color="#0090ff"/><stop offset="0.787" stop-color="#00afff"/><stop offset="0.998" stop-color="#00b5ff"/></linearGradient>
<linearGradient id="d34"><stop offset="0.002" stop-color="#0049ff"/><stop offset="0.141" stop-color="#00a3ff"/><stop offset="0.188" stop-color="#00d5ff"/><stop offset="0.217" stop-color="#11ffee"/><stop offset="0.268" stop-color="#4cffb3"/><stop offset="0.432" stop-color="#40ffbf"/><stop offset="0.462" stop-color="#00f0ff"/><stop offset="0.479" stop-color="#0052ff"/><stop offset="0.487" stop-color="#0000f9"/><stop offset="0.500" stop-color="#0000b0"/><stop offset="0.525" stop-color="#000098"/><stop offset="0.542" stop-color="#0000e5"/><stop offset="0.546" stop-color="#0004ff"/><stop offset="0.568" stop-color="#007dff"/><stop offset="0.593" stop-color="#00a9ff"/><stop offset="0.622" stop-color="#0088ff"/><stop offset="0.660" stop-color="#0000fd"/><stop offset="0.681" stop-color="#0000ec"/><stop offset="0.694" stop-color="#0010ff"/><stop offset="0.732" stop-color="#009aff"/><stop offset="0.778" stop-color="#00bdff"/><stop offset="0.998" stop-color="#00c0ff"/></linearGradient>
<linearGradient id="d35"><stop offset="0.002" stop-color="#0057ff"/><stop offset="0.129" stop-color="#009eff"/><stop offset="0.171" stop-color="#00bbff"/><stop offset="0.209" stop-color="#0efff1"/><stop offset="0.259" stop-color="#5effa1"/><stop offset="0.432" stop-color="#54ffab"/><stop offset="0.458" stop-color="#1bffe4"/><stop offset="0.462" stop-color="#03fffc"/><stop offset="0.475" stop-color="#008fff"/><stop offset="0.487" stop-color="#0001ff"/><stop offset="0.500" stop-color="#0000b3"/><stop offset="0.525" stop-color="#00009e"/><stop offset="0.546" stop-color="#000fff"/><stop offset="0.568" stop-color="#008dff"/><stop offset="0.593" stop-color="#00bbff"/><stop offset="0.627" stop-color="#0098ff"/><stop offset="0.669" stop-color="#0024ff"/><stop offset="0.690" stop-color="#0035ff"/><stop offset="0.736" stop-color="#00b7ff"/><stop offset="0.812" stop-color="#00c9ff"/><stop offset="0.922" stop-color="#00c3ff"/><stop offset="0.998" stop-color="#00cbff"/></linearGradient>
<linearGradient id="d36"><stop offset="0.002" stop-color="#0064ff"/><stop offset="0.112" stop-color="#0094ff"/><stop offset="0.154" stop-color="#0094ff"/><stop offset="0.200" stop-color="#05fffa"/><stop offset="0.255" stop-color="#6fff90"/><stop offset="0.432" stop-color="#69ff96"/><stop offset="0.458" stop-color="#33ffcc"/><stop offset="0.466" stop-color="#00feff"/><stop offset="0.492" stop-color="#0000fb"/><stop offset="0.504" stop-color="#0000c1"/><stop offset="0.525" stop-color="#0000c4"/><stop offset="0.538" stop-color="#0000fc"/><stop offset="0.568" stop-color="#00a6ff"/><stop offset="0.593" stop-color="#00cfff"/><stop offset="0.631" stop-color="#00aeff"/><stop offset="0.673" stop-color="#005dff"/><stop offset="0.707" stop-color="#0093ff"/><stop offset="0.749" stop-color="#00d4ff"/><stop offset="0.838" stop-color="#00c4ff"/><stop offset="0.892" stop-color="#00b3ff"/><stop offset="0.994" stop-color="#00d6ff"/><stop offset="0.998" stop-color="#00d6ff"/></linearGradient>
<linearGradient id="d37"><stop offset="0.002" stop-color="#006eff"/><stop offset="0.099" stop-color="#0091ff"/><stop offset="0.141" stop-color="#0060ff"/><stop offset="0.167" stop-color="#0095ff"/><stop offset="0.196" stop-color="#00ffff"/><stop offset="0.247" stop-color="#7aff85"/><stop offset="0.352" stop-color="#8aff75"/><stop offset="0.441" stop-color="#75ff8a"/><stop offset="0.462" stop-color="#3bffc4"/><stop offset="0.470" stop-color="#02fffd"/><stop offset="0.496" stop-color="#001bff"/><stop offset="0.508" stop-color="#0000f2"/><stop offset="0.525" stop-color="#0008ff"/><stop offset="0.568" stop-color="#00c4ff"/><stop offset="0.601" stop-color="#00e3ff"/><stop offset="0.677" stop-color="#0095ff"/><stop offset="0.753" stop-color="#00e6ff"/><stop offset="0.825" stop-color="#00ceff"/><stop offset="0.880" stop-color="#0091ff"/><stop offset="0.960" stop-color="#00ddff"/><stop offset="0.998" stop-color="#00e0ff"/></linearGradient>
<linearGradient id="d38"><stop offset="0.002" stop-color="#007cff"/><stop offset="0.091" stop-color="#0094ff"/><stop offset="0.137" stop-color="#0021ff"/><stop offset="0.158" stop-color="#004bff"/><stop offset="0.196" stop-color="#05fffa"/><stop offset="0.238" stop-color="#7fff80"/><stop offset="0.281" stop-color="#9eff61"/><stop offset="0.437" stop-color="#8eff71"/><stop offset="0.462" stop-color="#5bffa4"/><stop offset="0.479" stop-color="#00f0ff"/><stop offset="0.496" stop-color="#0070ff"/><stop offset="0.508" stop-color="#004aff"/><stop offset="0.530" stop-color="#006eff"/><stop offset="0.568" stop-color="#00e5ff"/><stop offset="0.618" stop-color="#00f2ff"/><stop offset="0.681" stop-color="#00c5ff"/><stop offset="0.766" stop-color="#00f2ff"/><stop offset="0.816" stop-color="#00d5ff"/><stop offset="0.871" stop-color="#005eff"/><stop offset="0.901" stop-color="#0081ff"/><stop offset="0.947" stop-color="#00deff"/><stop offset="0.998" stop-color="#00eaff"/></linearGradient>
<linearGradient id="d39"><stop offset="0.002" stop-color="#008cff"/><stop offset="0.082" stop-color="#00a1ff"/><stop offset="0.103" stop-color="#0066ff"/><stop offset="0.124" stop-color="#0000fb"/><stop offset="0.141" stop-color="#0000d9"/><stop offset="0.154" stop-color="#0000fd"/><stop offset="0.192" stop-color="#00f2ff"/><stop offset="0.234" stop-color="#8aff75"/><stop offset="0.272" stop-color="#b2ff4d"/><stop offset="0.437" stop-color="#a4ff5b"/><stop offset="0.466" stop-color="#6eff91"/><stop offset="0.487" stop-color="#00fdff"/><stop offset="0.504" stop-color="#00b5ff"/><stop offset="0.525" stop-color="#00beff"/><stop offset="0.563" stop-color="#07fff8"/><stop offset="0.635" stop-color="#05fffa"/><stop offset="0.707" stop-color="#00f4ff"/><stop offset="0.800" stop-color="#00e9ff"/><stop offset="0.833" stop-color="#0096ff"/><stop offset="0.867" stop-color="#001eff"/><stop offset="0.888" stop-color="#0027ff"/><stop offset="0.939" stop-color="#00d3ff"/><stop offset="0.989" stop-color="#00f4ff"/><stop offset="0.998" stop-color="#00f5ff"/></linearGradient>
<linearGradient id="d40"><stop offset="0.002" stop-color="#009bff"/><stop offset="0.082" stop-color="#00a8ff"/><stop offset="0.103" stop-color="#0059ff"/><stop offset="0.116" stop-color="#0005ff"/><stop offset="0.133" stop-color="#0000aa"/><stop offset="0.146" stop-color="#0000aa"/><stop offset="0.162" stop-color="#000bff"/><stop offset="0.192" stop-color="#00f4ff"/><stop offset="0.230" stop-color="#8fff70"/><stop offset="0.268" stop-color="#c2ff3d"/><stop offset="0.437" stop-color="#b9ff46"/><stop offset="0.470" stop-color="#86ff79"/><stop offset="0.504" stop-color="#15ffea"/><stop offset="0.546" stop-color="#26ffd9"/><stop offset="0.643" stop-color="#22ffdd"/><stop offset="0.795" stop-color="#00f0ff"/><stop offset="0.825" stop-color="#00a3ff"/><stop offset="0.859" stop-color="#0000f5"/><stop offset="0.876" stop-color="#0000d0"/><stop offset="0.897" stop-color="#0009ff"/><stop offset="0.935" stop-color="#00c3ff"/><stop offset="0.968" stop-color="#00f9ff"/><stop offset="0.998" stop-color="#00ffff"/></linearGradient>
<linearGradient id="d41"><stop offset="0.002" stop-color="#00abff"/><stop offset="0.078" stop-color="#00baff"/><stop offset="0.099" stop-color="#0075ff"/><stop offset="0.116" stop-color="#0002ff"/><stop offset="0.133" stop-color="#0000a0"/><stop offset="0.146" stop-color="#0000a0"/><stop offset="0.162" stop-color="#0008ff"/><stop offset="0.192" stop-color="#00fcff"/><stop offset="0.222" stop-color="#82ff7d"/><stop offset="0.259" stop-color="#c8ff37"/><stop offset="0.432" stop-color="#ceff31"/><stop offset="0.479" stop-color="#94ff6b"/><stop offset="0.513" stop-color="#56ffa9"/><stop offset="0.669" stop-color="#34ffcb"/><stop offset="0.795" stop-color="#00f3ff"/><stop offset="0.821" stop-color="#00adff"/><stop offset="0.850" stop-color="#0000fb"/><stop offset="0.867" stop-color="#0000ab"/><stop offset="0.884" stop-color="#0000ab"/><stop offset="0.901" stop-color="#0000fb"/><stop offset="0.935" stop-color="#00c0ff"/><stop offset="0.964" stop-color="#00feff"/><stop offset="0.998" stop-color="#08fff7"/></linearGradient>
<linearGradient id="d42"><stop offset="0.002" stop-color="#00baff"/><stop offset="0.082" stop-color="#00c4ff"/><stop offset="0.103" stop-color="#0075ff"/><stop offset="0.120" stop-color="#0008ff"/><stop offset="0.137" stop-color="#0000c4"/><stop offset="0.150" stop-color="#0000da"/><stop offset="0.158" stop-color="#000cff"/><stop offset="0.188" stop-color="#00f3ff"/><stop offset="0.222" stop-color="#8eff71"/><stop offset="0.259" stop-color="#d3ff2c"/><stop offset="0.437" stop-color="#daff25"/><stop offset="0.538" stop-color="#7dff82"/><stop offset="0.686" stop-color="#45ffba"/><stop offset="0.800" stop-color="#00f2ff"/><stop offset="0.825" stop-color="#009aff"/><stop offset="0.850" stop-color="#0000f6"/><stop offset="0.867" stop-color="#0000a2"/><stop offset="0.884" stop-color="#0000a2"/><stop offset="0.901" stop-color="#0000f6"/><stop offset="0.935" stop-color="#00c3ff"/><stop offset="0.960" stop-color="#00ffff"/><stop offset="0.998" stop-color="#0dfff2"/></linearGradient>
<linearGradient id="d43"><stop offset="0.002" stop-color="#00c9ff"/><stop offset="0.082" stop-color="#00d8ff"/><stop offset="0.108" stop-color="#008cff"/><stop offset="0.133" stop-color="#001fff"/><stop offset="0.150" stop-color="#002bff"/><stop offset="0.184" stop-color="#00f6ff"/><stop offset="0.222" stop-color="#9aff65"/><stop offset="0.264" stop-color="#dfff20"/><stop offset="0.437" stop-color="#e8ff17"/><stop offset="0.584" stop-color="#8aff75"/><stop offset="0.677" stop-color="#63ff9c"/><stop offset="0.804" stop-color="#00f2ff"/><stop offset="0.829" stop-color="#0093ff"/><stop offset="0.854" stop-color="#0000fa"/><stop offset="0.871" stop-color="#0000bd"/><stop offset="0.888" stop-color="#0000d3"/><stop offset="0.897" stop-color="#0000fa"/><stop offset="0.935" stop-color="#00ceff"/><stop offset="0.960" stop-color="#07fff8"/><stop offset="0.998" stop-color="#13ffec"/></linearGradient>
<linearGradient id="d44"><stop offset="0.002" stop-color="#00d9ff"/><stop offset="0.091" stop-color="#00e7ff"/><stop offset="0.137" stop-color="#007aff"/><stop offset="0.158" stop-color="#00a2ff"/><stop offset="0.179" stop-color="#08fff7"/><stop offset="0.217" stop-color="#9aff65"/><stop offset="0.259" stop-color="#e7ff18"/><stop offset="0.437" stop-color="#f6ff09"/><stop offset="0.605" stop-color="#a4ff5b"/><stop offset="0.686" stop-color="#71ff8e"/><stop offset="0.808" stop-color="#00f6ff"/><stop offset="0.838" stop-color="#0089ff"/><stop offset="0.867" stop-color="#000bff"/><stop offset="0.884" stop-color="#000bff"/><stop offset="0.939" stop-color="#00edff"/><stop offset="0.968" stop-color="#14ffeb"/><stop offset="0.998" stop-color="#19ffe6"/></linearGradient>
<linearGradient id="d45"><stop offset="0.002" stop-color="#00e8ff"/><stop offset="0.099" stop-color="#00fbff"/><stop offset="0.141" stop-color="#00ceff"/><stop offset="0.171" stop-color="#10ffef"/><stop offset="0.230" stop-color="#c6ff39"/><stop offset="0.272" stop-color="#f5ff0a"/><stop offset="0.470" stop-color="#f4ff0b"/><stop offset="0.614" stop-color="#b8ff47"/><stop offset="0.698" stop-color="#71ff8e"/><stop offset="0.816" stop-color="#00f6ff"/><stop offset="0.867" stop-color="#005dff"/><stop offset="0.888" stop-color="#0065ff"/><stop offset="0.939" stop-color="#00ffff"/><stop offset="0.998" stop-color="#1fffe0"/></linearGradient>
<linearGradient id="d46"><stop offset="0.002" stop-color="#00faff"/><stop offset="0.116" stop-color="#14ffeb"/><stop offset="0.158" stop-color="#1bffe4"/><stop offset="0.247" stop-color="#eeff11"/><stop offset="0.352" stop-color="#ffee00"/><stop offset="0.466" stop-color="#fffb00"/><stop offset="0.665" stop-color="#a4ff5b"/><stop offset="0.783" stop-color="#25ffda"/><stop offset="0.829" stop-color="#00f6ff"/><stop offset="0.871" stop-color="#00a7ff"/><stop offset="0.905" stop-color="#00d0ff"/><stop offset="0.935" stop-color="#0cfff3"/><stop offset="0.998" stop-color="#25ffda"/></linearGradient>
<linearGradient id="d47"><stop offset="0.002" stop-color="#0ffff0"/><stop offset="0.162" stop-color="#45ffba"/><stop offset="0.251" stop-color="#fdff02"/><stop offset="0.428" stop-color="#ffde00"/><stop offset="0.525" stop-color="#edff12"/><stop offset="0.660" stop-color="#b4ff4b"/><stop offset="0.778" stop-color="#2effd1"/><stop offset="0.854" stop-color="#00f1ff"/><stop offset="0.892" stop-color="#00edff"/><stop offset="0.947" stop-color="#25ffda"/><stop offset="0.998" stop-color="#2bffd4"/></linearGradient>
<linearGradient id="d48"><stop offset="0.002" stop-color="#24ffdb"/><stop offset="0.167" stop-color="#62ff9d"/><stop offset="0.247" stop-color="#fffd00"/><stop offset="0.420" stop-color="#ffd000"/><stop offset="0.546" stop-color="#efff10"/><stop offset="0.660" stop-color="#c2ff3d"/><stop offset="0.778" stop-color="#42ffbd"/><stop offset="0.892" stop-color="#1fffe0"/><stop offset="0.998" stop-color="#3effc1"/></linearGradient>
<linearGradient id="d49"><stop offset="0.002" stop-color="#38ffc7"/><stop offset="0.171" stop-color="#7aff85"/><stop offset="0.243" stop-color="#fff900"/><stop offset="0.416" stop-color="#ffc700"/><stop offset="0.572" stop-color="#f1ff0e"/><stop offset="0.665" stop-color="#cfff30"/><stop offset="0.783" stop-color="#61ff9e"/><stop offset="0.918" stop-color="#58ffa7"/><stop offset="0.998" stop-color="#5fffa0"/></linearGradient>
<linearGradient id="d50"><stop offset="0.002" stop-color="#4cffb3"/><stop offset="0.171" stop-color="#8aff75"/><stop offset="0.238" stop-color="#fff600"/><stop offset="0.306" stop-color="#ffd800"/><stop offset="0.441" stop-color="#ffca00"/><stop offset="0.601" stop-color="#f9ff06"/><stop offset="0.690" stop-color="#c9ff36"/><stop offset="0.791" stop-color="#80ff7f"/><stop offset="0.998" stop-color="#7fff80"/></linearGradient>
<linearGradient id="d51"><stop offset="0.002" stop-color="#62ff9d"/><stop offset="0.175" stop-color="#a3ff5c"/><stop offset="0.230" stop-color="#fff800"/><stop offset="0.281" stop-color="#ffd400"/><stop offset="0.449" stop-color="#ffc800"/><stop offset="0.656" stop-color="#f6ff09"/><stop offset="0.791" stop-color="#a0ff5f"/><stop offset="0.998" stop-color="#a0ff5f"/></linearGradient>
<linearGradient id="d52"><stop offset="0.002" stop-color="#79ff86"/><stop offset="0.175" stop-color="#baff45"/><stop offset="0.226" stop-color="#fff200"/><stop offset="0.276" stop-color="#ffcb00"/><stop offset="0.466" stop-color="#ffc800"/><stop offset="0.690" stop-color="#f2ff0d"/><stop offset="0.808" stop-color="#c1ff3e"/><stop offset="0.998" stop-color="#c1ff3e"/></linearGradient>
<linearGradient id="d53"><stop offset="0.002" stop-color="#90ff6f"/><stop offset="0.179" stop-color="#d6ff29"/><stop offset="0.217" stop-color="#fff200"/><stop offset="0.276" stop-color="#ffc500"/><stop offset="0.483" stop-color="#ffc700"/><stop offset="0.724" stop-color="#f3ff0c"/><stop offset="0.888" stop-color="#dcff23"/><stop offset="0.998" stop-color="#dcff23"/></linearGradient>
<linearGradient id="d54"><stop offset="0.002" stop-color="#a7ff58"/><stop offset="0.188" stop-color="#f4ff0b"/><stop offset="0.276" stop-color="#ffc200"/><stop offset="0.500" stop-color="#ffc500"/><stop offset="0.719" stop-color="#fff600"/><stop offset="0.914" stop-color="#e4ff1b"/><stop offset="0.964" stop-color="#d7ff28"/><stop offset="0.998" stop-color="#efff10"/></linearGradient>
<linearGradient id="d55"><stop offset="0.002" stop-color="#b8ff47"/><stop offset="0.200" stop-color="#fff200"/><stop offset="0.272" stop-color="#ffbe00"/><stop offset="0.538" stop-color="#ffc300"/><stop offset="0.892" stop-color="#f6ff09"/><stop offset="0.943" stop-color="#5dffa2"/><stop offset="0.964" stop-color="#7cff83"/><stop offset="0.998" stop-color="#efff10"/></linearGradient>
<linearGradient id="d56"><stop offset="0.002" stop-color="#c4ff3b"/><stop offset="0.196" stop-color="#fff300"/><stop offset="0.272" stop-color="#ffbb00"/><stop offset="0.432" stop-color="#ffdb00"/><stop offset="0.656" stop-color="#ffc000"/><stop offset="0.876" stop-color="#ffe700"/><stop offset="0.892" stop-color="#e9ff16"/><stop offset="0.909" stop-color="#75ff8a"/><stop offset="0.922" stop-color="#00f4ff"/><stop offset="0.939" stop-color="#0066ff"/><stop offset="0.951" stop-color="#0059ff"/><stop offset="0.964" stop-color="#00a9ff"/><stop offset="0.973" stop-color="#00fdff"/><stop offset="0.994" stop-color="#bfff40"/><stop offset="0.998" stop-color="#d8ff27"/></linearGradient>
<linearGradient id="d57"><stop offset="0.002" stop-color="#cfff30"/><stop offset="0.192" stop-color="#fff500"/><stop offset="0.272" stop-color="#ffb800"/><stop offset="0.331" stop-color="#fff400"/><stop offset="0.395" stop-color="#baff45"/><stop offset="0.500" stop-color="#fff300"/><stop offset="0.601" stop-color="#ffb000"/><stop offset="0.871" stop-color="#ffce00"/><stop offset="0.888" stop-color="#fffe00"/><stop offset="0.901" stop-color="#a4ff5b"/><stop offset="0.914" stop-color="#0cfff3"/><stop offset="0.930" stop-color="#001aff"/><stop offset="0.935" stop-color="#0000e9"/><stop offset="0.943" stop-color="#0000af"/><stop offset="0.951" stop-color="#0000b2"/><stop offset="0.960" stop-color="#0000f2"/><stop offset="0.968" stop-color="#005eff"/><stop offset="0.977" stop-color="#00daff"/><stop offset="0.981" stop-color="#18ffe7"/><stop offset="0.994" stop-color="#acff53"/><stop offset="0.998" stop-color="#d0ff2f"/></linearGradient>
<linearGradient id="d58"><stop offset="0.002" stop-color="#dbff24"/><stop offset="0.192" stop-color="#fff200"/><stop offset="0.268" stop-color="#ffb400"/><stop offset="0.306" stop-color="#ffdd00"/><stop offset="0.323" stop-color="#f3ff0c"/><stop offset="0.378" stop-color="#09fff6"/><stop offset="0.403" stop-color="#07fff8"/><stop offset="0.458" stop-color="#9dff62"/><stop offset="0.521" stop-color="#fff600"/><stop offset="0.593" stop-color="#ffa700"/><stop offset="0.876" stop-color="#ffb900"/><stop offset="0.897" stop-color="#fdff02"/><stop offset="0.914" stop-color="#6cff93"/><stop offset="0.922" stop-color="#0efff1"/><stop offset="0.939" stop-color="#0074ff"/><stop offset="0.951" stop-color="#0066ff"/><stop offset="0.964" stop-color="#00bcff"/><stop offset="0.973" stop-color="#18ffe7"/><stop offset="0.994" stop-color="#e7ff18"/><stop offset="0.998" stop-color="#fffc00"/></linearGradient>
<linearGradient id="d59"><stop offset="0.002" stop-color="#e6ff19"/><stop offset="0.192" stop-color="#fff200"/><stop offset="0.272" stop-color="#ffba00"/><stop offset="0.306" stop-color="#ffe800"/><stop offset="0.319" stop-color="#eeff11"/><stop offset="0.340" stop-color="#79ff86"/><stop offset="0.352" stop-color="#10ffef"/><stop offset="0.369" stop-color="#007cff"/><stop offset="0.382" stop-color="#0036ff"/><stop offset="0.395" stop-color="#0031ff"/><stop offset="0.411" stop-color="#0087ff"/><stop offset="0.428" stop-color="#02fffd"/><stop offset="0.454" stop-color="#7bff84"/><stop offset="0.521" stop-color="#fffa00"/><stop offset="0.593" stop-color="#ffa300"/><stop offset="0.880" stop-color="#ff9f00"/><stop offset="0.909" stop-color="#ffe200"/><stop offset="0.922" stop-color="#e3ff1c"/><stop offset="0.943" stop-color="#9eff61"/><stop offset="0.960" stop-color="#b3ff4c"/><stop offset="0.981" stop-color="#fff000"/><stop offset="0.998" stop-color="#ffb700"/></linearGradient>
<linearGradient id="d60"><stop offset="0.002" stop-color="#f2ff0d"/><stop offset="0.196" stop-color="#fff200"/><stop offset="0.276" stop-color="#ffca00"/><stop offset="0.319" stop-color="#f6ff09"/><stop offset="0.344" stop-color="#81ff7e"/><stop offset="0.361" stop-color="#03fffc"/><stop offset="0.382" stop-color="#0084ff"/><stop offset="0.395" stop-color="#007fff"/><stop offset="0.416" stop-color="#00e9ff"/><stop offset="0.424" stop-color="#22ffdd"/><stop offset="0.449" stop-color="#9aff65"/><stop offset="0.513" stop-color="#fff700"/><stop offset="0.593" stop-color="#ffa700"/><stop offset="0.880" stop-color="#ff8700"/><stop offset="0.956" stop-color="#ffaf00"/><stop offset="0.998" stop-color="#ff8c00"/></linearGradient>
<linearGradient id="d61"><stop offset="0.002" stop-color="#fdff02"/><stop offset="0.205" stop-color="#fff200"/><stop offset="0.289" stop-color="#ffde00"/><stop offset="0.331" stop-color="#efff10"/><stop offset="0.386" stop-color="#7aff85"/><stop offset="0.420" stop-color="#a1ff5e"/><stop offset="0.492" stop-color="#fffc00"/><stop offset="0.593" stop-color="#ffaa00"/><stop offset="0.838" stop-color="#ff7400"/><stop offset="0.998" stop-color="#ff7400"/></linearGradient>
<linearGradient id="d62"><stop offset="0.002" stop-color="#fff500"/><stop offset="0.217" stop-color="#fff300"/><stop offset="0.327" stop-color="#fff600"/><stop offset="0.432" stop-color="#fbff04"/><stop offset="0.610" stop-color="#ffac00"/><stop offset="0.812" stop-color="#ff6300"/><stop offset="0.998" stop-color="#ff6300"/></linearGradient>
<linearGradient id="d63"><stop offset="0.002" stop-color="#ffc700"/><stop offset="0.184" stop-color="#ffdc00"/><stop offset="0.386" stop-color="#ffc700"/><stop offset="0.665" stop-color="#ff9d00"/><stop offset="0.795" stop-color="#ff5200"/><stop offset="0.998" stop-color="#ff5200"/></linearGradient>
<linearGradient id="d64"><stop offset="0.002" stop-color="#ff7500"/><stop offset="0.171" stop-color="#ff9a00"/><stop offset="0.306" stop-color="#ff7500"/><stop offset="0.449" stop-color="#ff8800"/><stop offset="0.576" stop-color="#fff600"/><stop offset="0.652" stop-color="#ffdf00"/><stop offset="0.774" stop-color="#ff4700"/><stop offset="0.998" stop-color="#ff4100"/></linearGradient>
<linearGradient id="d65"><stop offset="0.002" stop-color="#ff3d00"/><stop offset="0.184" stop-color="#ff5400"/><stop offset="0.369" stop-color="#ff3d00"/><stop offset="0.432" stop-color="#ff5400"/><stop offset="0.487" stop-color="#ffc400"/><stop offset="0.504" stop-color="#fbff04"/><stop offset="0.542" stop-color="#54ffab"/><stop offset="0.568" stop-color="#43ffbc"/><stop offset="0.660" stop-color="#bcff43"/><stop offset="0.690" stop-color="#fff800"/><stop offset="0.762" stop-color="#ff4800"/><stop offset="0.812" stop-color="#ff2b00"/><stop offset="0.998" stop-color="#ff2b00"/></linearGradient>
<linearGradient id="d66"><stop offset="0.002" stop-color="#ff1f00"/><stop offset="0.200" stop-color="#ff2a00"/><stop offset="0.441" stop-color="#ff2a00"/><stop offset="0.483" stop-color="#ff5800"/><stop offset="0.504" stop-color="#ffb900"/><stop offset="0.513" stop-color="#fdff02"/><stop offset="0.534" stop-color="#1dffe2"/><stop offset="0.538" stop-color="#00f6ff"/><stop offset="0.551" stop-color="#00b8ff"/><stop offset="0.563" stop-color="#00dcff"/><stop offset="0.568" stop-color="#00faff"/><stop offset="0.593" stop-color="#e7ff18"/><stop offset="0.601" stop-color="#ffde00"/><stop offset="0.622" stop-color="#ff9700"/><stop offset="0.783" stop-color="#ff1100"/><stop offset="0.998" stop-color="#ff0f00"/></linearGradient>
<linearGradient id="d67"><stop offset="0.002" stop-color="#ff0f00"/><stop offset="0.188" stop-color="#ff2200"/><stop offset="0.432" stop-color="#ff0f00"/><stop offset="0.496" stop-color="#ff2200"/><stop offset="0.534" stop-color="#ff9500"/><stop offset="0.555" stop-color="#ffb900"/><stop offset="0.584" stop-color="#ff6300"/><stop offset="0.614" stop-color="#ff1b00"/><stop offset="0.791" stop-color="#f30000"/><stop offset="0.998" stop-color="#f30000"/></linearGradient>
<linearGradient id="d68"><stop offset="0.002" stop-color="#ff0f00"/><stop offset="0.226" stop-color="#ff1300"/><stop offset="0.669" stop-color="#ff0700"/><stop offset="0.968" stop-color="#ea0000"/><stop offset="0.998" stop-color="#ea0000"/></linearGradient>
<linearGradient id="d69"><stop offset="0.002" stop-color="#ff0f00"/><stop offset="0.703" stop-color="#ff0100"/><stop offset="0.998" stop-color="#f20000"/></linearGradient>
<linearGradient id="d70"><stop offset="0.002" stop-color="#ff5700"/><stop offset="0.141" stop-color="#ff7400"/><stop offset="0.200" stop-color="#ff8400"/><stop offset="0.289" stop-color="#ff5200"/><stop offset="0.660" stop-color="#ff3e00"/><stop offset="0.791" stop-color="#fa0000"/><stop offset="0.998" stop-color="#fa0000"/></linearGradient>
<linearGradient id="d71"><stop offset="0.002" stop-color="#ffe600"/><stop offset="0.108" stop-color="#f1ff0e"/><stop offset="0.146" stop-color="#8cff73"/><stop offset="0.179" stop-color="#2affd5"/><stop offset="0.200" stop-color="#3cffc3"/><stop offset="0.255" stop-color="#fffd00"/><stop offset="0.302" stop-color="#ffd800"/><stop offset="0.665" stop-color="#ffd200"/><stop offset="0.825" stop-color="#fffd00"/><stop offset="0.998" stop-color="#fffd00"/></linearGradient>
<linearGradient id="d72"><stop offset="0.002" stop-color="#fff500"/><stop offset="0.091" stop-color="#edff12"/><stop offset="0.133" stop-color="#a5ff5a"/><stop offset="0.175" stop-color="#2affd5"/><stop offset="0.196" stop-color="#2dffd2"/><stop offset="0.255" stop-color="#f3ff0c"/><stop offset="0.348" stop-color="#ffe600"/><stop offset="0.652" stop-color="#ffe100"/><stop offset="0.732" stop-color="#ecff13"/><stop offset="0.871" stop-color="#d6ff29"/><stop offset="0.998" stop-color="#d6ff29"/></linearGradient>
<linearGradient id="d73"><stop offset="0.002" stop-color="#ff8500"/><stop offset="0.188" stop-color="#ffc700"/><stop offset="0.276" stop-color="#ff8100"/><stop offset="0.998" stop-color="#ff7a00"/></linearGradient>
<linearGradient id="d74"><stop offset="0.002" stop-color="#ff4700"/><stop offset="0.154" stop-color="#ff8c00"/><stop offset="0.281" stop-color="#ff4700"/><stop offset="0.454" stop-color="#ff5a00"/><stop offset="0.601" stop-color="#ffb200"/><stop offset="0.677" stop-color="#ff8700"/><stop offset="0.783" stop-color="#ff2200"/><stop offset="0.998" stop-color="#ff2000"/></linearGradient>
<linearGradient id="d75"><stop offset="0.002" stop-color="#ff3d00"/><stop offset="0.061" stop-color="#ff6700"/><stop offset="0.137" stop-color="#ffbc00"/><stop offset="0.192" stop-color="#ff9400"/><stop offset="0.264" stop-color="#ff3e00"/><stop offset="0.424" stop-color="#ff4a00"/><stop offset="0.492" stop-color="#ffc500"/><stop offset="0.521" stop-color="#f3ff0c"/><stop offset="0.584" stop-color="#89ff76"/><stop offset="0.631" stop-color="#8cff73"/><stop offset="0.690" stop-color="#fff100"/><stop offset="0.762" stop-color="#ff3800"/><stop offset="0.812" stop-color="#ff1a00"/><stop offset="0.998" stop-color="#ff1a00"/></linearGradient>
<linearGradient id="d76"><stop offset="0.002" stop-color="#ff7c00"/><stop offset="0.065" stop-color="#ffa700"/><stop offset="0.141" stop-color="#ffec00"/><stop offset="0.205" stop-color="#ffb700"/><stop offset="0.268" stop-color="#ff7c00"/><stop offset="0.639" stop-color="#ff8e00"/><stop offset="0.787" stop-color="#ff1400"/><stop offset="0.998" stop-color="#ff1300"/></linearGradient>
<linearGradient id="d77"><stop offset="0.002" stop-color="#faff05"/><stop offset="0.099" stop-color="#ffda00"/><stop offset="0.179" stop-color="#ffd600"/><stop offset="0.272" stop-color="#faff05"/><stop offset="0.437" stop-color="#fff100"/><stop offset="0.580" stop-color="#ff2b00"/><stop offset="0.951" stop-color="#ff0f00"/><stop offset="0.998" stop-color="#ff0f00"/></linearGradient>
<linearGradient id="d78"><stop offset="0.002" stop-color="#ff6f00"/><stop offset="0.205" stop-color="#ff6500"/><stop offset="0.449" stop-color="#ff6300"/><stop offset="0.610" stop-color="#ff1e00"/><stop offset="0.998" stop-color="#ff0f00"/></linearGradient>
<linearGradient id="d79"><stop offset="0.002" stop-color="#ff2000"/><stop offset="0.998" stop-color="#ff0f00"/></linearGradient>
<linearGradient id="d80"><stop offset="0.002" stop-color="#ff1a00"/><stop offset="0.998" stop-color="#ff0f00"/></linearGradient>
<linearGradient id="d81"><stop offset="0.002" stop-color="#ff1300"/><stop offset="0.998" stop-color="#ff0f00"/></linearGradient>
<linearGradient id="d82"><stop offset="0.002" stop-color="#ff0f00"/><stop offset="0.998" stop-color="#ff0f00"/></linearGradient>
<linearGradient id="jeth" x1="0" y1="0" x2="1" y2="0"><stop offset="0" stop-color="#800000"/><stop offset="0.125" stop-color="#ff0000"/><stop offset="0.375" stop-color="#ffff00"/><stop offset="0.625" stop-color="#00ffff"/><stop offset="0.875" stop-color="#0000ff"/><stop offset="1" stop-color="#000080"/></linearGradient>
</defs>
<rect width="756" height="393" fill="#fff"/>
<text x="34" y="7.8" font-size="10.5" text-anchor="start" fill="#000" font-weight="bold" textLength="97" lengthAdjust="spacingAndGlyphs">Frequency analysis</text>
<text x="324" y="8.7" font-size="10.5" text-anchor="start" fill="#000" font-weight="bold" textLength="152" lengthAdjust="spacingAndGlyphs">Propagation direction (Timing)</text>
<text x="324.5" y="144.8" font-size="10.5" text-anchor="start" fill="#000" font-weight="bold" textLength="142" lengthAdjust="spacingAndGlyphs">Propagation direction (MVA)</text>
<text x="324" y="301.3" font-size="10.5" text-anchor="start" fill="#000" font-weight="bold" textLength="173" lengthAdjust="spacingAndGlyphs">Propagation angle (MVA &amp; Timing)</text>
<text x="546.5" y="10.7" font-size="10.5" text-anchor="start" fill="#000" font-weight="bold" textLength="186" lengthAdjust="spacingAndGlyphs">Dispersion relation analysis (DRAFT)</text>
<text x="546.5" y="125.7" font-size="10.5" text-anchor="start" fill="#000" font-weight="bold" textLength="103" lengthAdjust="spacingAndGlyphs">Polarization analysis</text>
<text x="29.3" y="18.8" font-size="9" text-anchor="end" fill="#111" font-weight="normal" stroke="#111" stroke-width="0.15" >20</text>
<text x="29.3" y="50.6" font-size="9" text-anchor="end" fill="#111" font-weight="normal" stroke="#111" stroke-width="0.15" >10</text>
<text x="29.3" y="82.6" font-size="9" text-anchor="end" fill="#111" font-weight="normal" stroke="#111" stroke-width="0.15" >0</text>
<text x="4.2" y="52.5" font-size="9" text-anchor="middle" fill="#111" font-weight="normal" stroke="#111" stroke-width="0.15" transform="rotate(-90 4.2 52.5)" dy="3">B (nT)</text>
<line x1="33" y1="77.5" x2="264.5" y2="77.5" stroke="#000" stroke-width="1" stroke-dasharray="4,3"/>
<rect x="33" y="12.5" width="231.5" height="81.2" fill="none" stroke="#555" stroke-width="1"/>
<text x="250" y="22.7" font-size="9" text-anchor="start" fill="#111" font-weight="normal" stroke="#111" stroke-width="0.15" >(a)</text>
<rect x="323.8" y="12.4" width="189.9" height="47.3" fill="none" stroke="#555" stroke-width="1"/>
<rect x="323.8" y="72.3" width="190.1" height="46.6" fill="none" stroke="#555" stroke-width="1"/>
<rect x="323.8" y="153.5" width="192.3" height="49.8" fill="none" stroke="#555" stroke-width="1"/>
<rect x="323.8" y="224" width="192.3" height="49.3" fill="none" stroke="#555" stroke-width="1"/>
<rect x="324.8" y="309.5" width="192.1" height="59.8" fill="none" stroke="#555" stroke-width="1"/>
<rect x="545.5" y="12.8" width="91.8" height="90.5" fill="none" stroke="#555" stroke-width="1"/>
<rect x="647.3" y="12.8" width="91.3" height="91" fill="none" stroke="#555" stroke-width="1"/>
<rect x="544.8" y="129.8" width="194.9" height="51.9" fill="none" stroke="#555" stroke-width="1"/>
<rect x="545.6" y="189.4" width="193.4" height="179.2" fill="none" stroke="#555" stroke-width="1"/>
<clipPath id="clipA"><rect x="33" y="12.5" width="231.5" height="81.2"/></clipPath>
<g clip-path="url(#clipA)">
<polygon points="33,48.2 37.3,42.8 46.2,44.8 47.6,46.4 52.5,48.3 55.2,46.8 63.2,41 67.6,36.6 73,33.9 78.3,32.6 82.8,33.9 85.4,34.6 92,33.5 92,34.5 33,49.2" fill="#0000ff" />
<polyline points="92,33.42 92.35,34.18 92.79,33.83 93.31,32.87 93.89,32.86 94.52,32.46 95.2,32.38 95.89,32.24 96.6,31.06 97.31,30.74 98,31.64 98.57,31.05 99.16,31.46 99.76,30.51 100.38,31.14 101,31.59 101.64,31.04 102.28,32.07 102.93,32.1 103.59,31.03 104.26,31.05 104.93,31.72 105.6,32.17 106.19,31.33 106.78,30.93 107.39,30.97 108.01,30.18 108.64,30.14 109.27,30.11 109.9,29.88 110.53,29.25 111.16,28.99 111.79,28.77 112.41,28.92 113.02,28.62 113.61,28.28 114.2,29.44 114.86,29.31 115.49,29.75 116.1,29.57 116.69,31.11 117.28,31.49 117.86,31.14 118.46,32.08 119.07,33.29 119.7,34 120.36,35.05 121.06,35.14 121.8,36.43 122.35,36.79 122.93,36.92 123.54,37.95 124.16,39.03 124.79,39.71 125.44,40.01 126.1,40.88 126.77,40.92 127.44,41.94 128.11,43.41 128.78,43.63 129.45,44.01 130.11,45.16 130.75,45.97 131.39,46.5 132,46.61 132.6,47.12 133.27,47.63 133.94,48.33 134.62,48.29 135.3,48.37 135.97,48.7 136.64,48.27 137.3,48.41 137.94,49.37 138.56,49.8 139.16,49.35 139.73,49.13 140.28,48.87 140.79,49.33 141.27,49.99 141.7,49.75 142.69,49.48 143.32,49.75 143.78,48.69 144.27,48.77 145,49.09 145.51,48.48 146.02,48.22 146.56,47.87 147.13,48.12 147.74,48.52 148.4,47.15 149.13,47.99 149.92,47.85 150.8,47.7 151.31,47.37 151.87,47.28 152.46,46.71 153.09,46.55 153.74,46.15 154.42,45.44 155.11,46.25 155.8,45.62 156.51,44.9 157.21,45.07 157.9,44.82 158.59,44.45 159.25,44.26 159.89,44.35 160.5,44.32 161.07,44.21 161.6,43.95 162.43,43.35 163.21,43.66 163.93,43.7 164.61,44.38 165.25,44.94 165.86,45.09 166.44,45.34 167,45.62 167.55,45.15 168.1,46.14 168.78,46.24 169.32,45.79 169.8,46.03 170.28,46.39 170.84,47.77 171.55,47.6 172.5,47.99 172.94,48.93 173.43,48.87 173.95,48.86 174.51,49.36 175.09,50.24 175.7,50.19 176.33,50.75 176.98,51.75 177.63,51.84 178.29,52.08 178.96,52.68 179.62,52.46 180.27,53.27 180.92,53.62 181.55,53.57 182.16,53.67 182.74,54.84 183.3,54.41 183.99,54.02 184.66,54.44 185.32,54.53 185.96,53.24 186.59,52.91 187.21,52.71 187.83,53.05 188.43,51.9 189.03,52.17 189.63,51.7 190.22,51.11 190.81,50.29 191.41,50.92 192,50.39 192.66,49.73 193.33,49.05 194.03,49.3 194.73,48.68 195.42,48.62 196.11,48.01 196.78,48.14 197.43,47.15 198.04,47.23 198.61,47.88 199.13,47.58 199.6,46.68 200,47.27 200.84,46.12 201.5,47.67 201.95,47.79 202.48,47.83 203.09,48.17 203.74,48.46 204.44,50.25 205.17,49.85 205.9,51.57 206.63,52.46 207.33,52.64 208,52.77 208.64,54.33 209.28,55.16 209.92,55.52 210.56,55.99 211.19,56.54 211.83,57.2 212.47,57.68 213.11,58.9 213.75,59.14 214.4,59.3 215.05,59.56 215.71,60.57 216.37,60.3 217.04,60.73 217.7,60.63 218.36,61.46 219.03,61.63 219.69,60.65 220.35,61.11 221,61.58 221.65,62.85 222.31,63.11 222.97,63.13 223.62,63.61 224.27,64.86 224.92,65.68 225.56,66.34 226.19,66.01 226.8,66.99 227.4,66.84 228.03,66.42 228.62,66.64 229.19,65.04 229.75,64.94 230.3,63.32 230.87,62.68 231.47,63 232.11,61.63 232.8,62.14 233.36,61.99 233.95,62.54 234.57,62.3 235.21,62.74 235.87,63.21 236.54,64.51 237.21,64.71 237.87,65.65 238.53,65.95 239.18,65.24 239.8,65.88 240.4,65.19 241.09,64.69 241.76,64.08 242.41,64.26 243.04,63.17 243.67,62.12 244.29,60.34 244.91,59.54 245.53,58.65 246.16,57.11 246.8,56.49 247.45,55.27 248.09,54.34 248.74,53.87 249.39,53.99 250.04,52.91 250.7,52.75 251.35,51.55 252,50.75 252.65,50.87 253.3,50.43 253.96,48.91 254.62,49.35 255.29,48.23 255.96,47.92 256.63,48.61 257.29,47.22 257.95,47.2 258.58,47.9 259.2,46.89 259.8,46.2 260.55,45.89 261.31,45.6 262.07,45.88 262.81,44.68 263.49,45.39 264.1,44.39 264.61,44.91 265,44.63" fill="none" stroke="#0000ff" stroke-width="1.2" stroke-linejoin="round" />
<polyline points="33,78.39 33.37,78.34 33.83,77.15 34.37,77.14 34.97,78.06 35.63,77.88 36.33,77.72 37.06,77.18 37.8,77.48 38.55,77.38 39.28,77.23 40,76.56 40.61,76.78 41.23,76.56 41.88,76.79 42.54,76.93 43.21,76.65 43.89,75.89 44.56,75.54 45.24,75.1 45.9,74.61 46.56,74.44 47.19,74.88 47.81,74.6 48.4,74.64 49.06,75.34 49.68,74.95 50.28,75.14 50.85,74.91 51.41,74.85 51.97,75.48 52.54,75.48 53.11,76.21 53.71,77.08 54.34,76.86 55,76.39 55.55,77.43 56.13,77.42 56.73,77.46 57.35,77.81 57.98,77.74 58.61,77.89 59.26,77.43 59.9,78.34 60.53,78.4 61.16,77.44 61.78,78.27 62.37,78.26 62.95,77.95 63.5,78.04 64.24,77.95 64.94,78.43 65.63,77.75 66.29,78.03 66.94,77.23 67.57,77.73 68.19,77.55 68.8,76.79 69.4,76.75 70,77.05 70.66,76.61 71.31,76.1 71.94,75.55 72.57,75.47 73.18,75.75 73.78,74.88 74.36,75.7 74.94,74.76 75.5,75.53 76.19,74.78 76.84,75.74 77.47,75.6 78.09,75.55 78.71,75.77 79.34,76.11 80,76.11 80.58,75.77 81.15,75.64 81.72,76 82.31,76.5 82.91,76.02 83.56,75.21 84.25,76.06 85,75.79 85.55,75.91 86.13,74.84 86.75,75.4 87.39,74.34 88.04,74.93 88.71,74.25 89.39,74 90.06,74.65 90.72,73.47 91.37,73.83 92,74.1 92.6,73.17 93.3,72.95 93.99,73.63 94.67,72.83 95.34,73.01 96,71.94 96.64,72.21 97.26,71.85 97.87,72.44 98.45,71.68 99,72.89 99.71,71.89 100.31,73.09 100.86,72.55 101.4,73.34 101.97,74.69 102.62,74.61 103.4,75.59 103.92,76.92 104.47,77.3 105.05,77.72 105.66,79.89 106.29,79.79 106.94,80.66 107.6,82.09 108.27,83.45 108.95,84.59 109.64,84.7 110.32,85.84 111,86.19 111.58,87.34 112.16,88.37 112.74,88.95 113.32,89.77 113.9,90.17 114.5,90.87 115.09,91.19 115.7,91.37 116.32,91.46 116.95,92.38 117.59,92.2 118.24,92.11 118.91,92.65 119.6,93.19 120.15,92.11 120.73,92.51 121.32,91.98 121.93,91.79 122.56,90.89 123.19,91.49 123.83,90.07 124.47,89.98 125.12,89.17 125.76,88.07 126.4,88.19 127.03,87.07 127.65,86.39 128.26,85.82 128.85,85.48 129.43,84.93 129.98,85.22 130.5,84.71 131.25,84.88 131.95,84.42 132.63,84.14 133.27,82.82 133.89,82.81 134.49,82.29 135.08,82.5 135.66,82.32 136.24,82.35 136.82,82.04 137.4,81.27 138,81.3 138.67,81.23 139.35,80.36 140.03,80.22 140.72,80.53 141.4,80 142.07,80.67 142.72,79.95 143.34,79.7 143.93,79.79 144.49,79.88 145,79.93 145.75,80.6 146.3,80.95 146.75,81.3 147.23,82.37 147.84,82.5 148.7,84.13 149.17,84.53 149.68,84.58 150.24,84.58 150.83,85.08 151.45,85.59 152.1,85.32 152.76,86.22 153.43,86.79 154.1,86.76 154.77,87.06 155.43,88.37 156.08,88.17 156.7,88.71 157.3,89.55 157.97,89.49 158.62,89.42 159.27,90.67 159.91,90.2 160.54,90.06 161.16,91.22 161.78,90.71 162.4,91.2 163.02,92.07 163.64,91.97 164.27,91.18 164.9,91.74 165.54,91.61 166.18,91.59 166.83,91.05 167.47,91.32 168.12,90.38 168.77,90.34 169.41,90.1 170.05,90.44 170.68,88.9 171.3,89.32 171.91,88.11 172.5,88.09 173.19,87.17 173.84,86.47 174.46,85.98 175.08,84.58 175.69,83.26 176.3,82.29 176.93,81.28 177.58,81.36 178.27,80.24 179,79.9 179.55,79.07 180.11,77.75 180.68,78.15 181.27,77.91 181.87,77.46 182.48,76.81 183.09,76.28 183.72,76.06 184.35,76.16 184.99,75.13 185.64,75.1 186.29,74.67 186.94,74.9 187.6,74.3 188.19,74.07 188.82,73.53 189.47,72.38 190.13,71.83 190.82,71.68 191.5,70.9 192.19,70.63 192.87,70.48 193.55,70.33 194.2,69.45 194.83,69.33 195.43,68 195.99,67.98 196.51,68.51 196.98,67.14 197.4,67.29 198.53,66.61 199.09,67.03 199.45,68.64 200,69.04 200.54,68.37 201.02,67.23 201.59,66.97 202.4,66.63 203.6,67.42 204.02,67.62 204.47,67.58 204.96,68.02 205.47,67.87 206.02,68.86 206.59,69.86 207.18,70.1 207.79,69.75 208.41,70.8 209.05,71.56 209.71,71.44 210.37,72.72 211.04,72.57 211.71,73.25 212.39,73.16 213.06,74.15 213.73,74.02 214.4,73.8 214.97,73.2 215.55,73.47 216.14,72.75 216.74,73.24 217.34,73.31 217.95,72.06 218.57,72.11 219.19,71.66 219.82,71.13 220.45,71.08 221.08,70.92 221.71,70.17 222.35,69.43 222.99,69.64 223.62,68.42 224.26,68.59 224.89,68.15 225.52,68.01 226.15,67.91 226.78,66.93 227.4,67.36 228.02,67.06 228.66,67.45 229.3,67.96 229.94,67.67 230.59,67.06 231.24,67.89 231.9,68.48 232.55,69 233.2,69.01 233.85,69.55 234.5,68.84 235.14,70.38 235.77,70.42 236.39,70.56 237.01,71.24 237.61,71.47 238.2,70.67 238.77,71.78 239.33,71.85 239.88,71.19 240.4,71.92 241.14,71.64 241.84,70.95 242.49,71.48 243.11,70.29 243.71,70.51 244.28,69.85 244.84,69.15 245.39,69.08 245.95,68.48 246.51,67.67 247.09,68.22 247.69,66.66 248.33,66.23 249,66.58 249.55,66.86 250.13,66.46 250.74,66.43 251.36,65.93 252,66.05 252.64,65.48 253.3,65.28 253.96,65.48 254.61,64.77 255.26,64.76 255.9,65.56 256.53,64.75 257.14,65.44 257.73,65.44 258.3,64.92 258.83,65.25 259.34,65.38 259.8,65.47 260.75,64.58 261.62,64.77 262.39,65.28 263.08,65.65 263.68,65.71 264.2,65.6 264.64,66.53 265,67.21" fill="none" stroke="#00e000" stroke-width="1.2" stroke-linejoin="round" />
<polygon points="33,40.3 38.7,36.4 42.7,39.2 46.7,40.9 48.5,35.7 52.5,33.9 56,35.7 60.5,40.6 64,41.9 69.4,45.5 73.9,50.4 87.2,56.6 87.2,57.2 33,41.3" fill="#ff0000" />
<polyline points="87.2,56.06 87.72,56.56 88.48,56.46 89.3,56.64 89.86,56.45 90.41,55.44 91.08,54.81 92,54.84 92.47,53.46 93.02,52.67 93.61,52.78 94.24,51.15 94.9,50.62 95.56,49.15 96.22,48.38 96.86,46.81 97.45,46.6 98,46.18 98.67,44.88 99.26,44.45 99.79,43.74 100.32,42.4 100.88,42.79 101.53,42.06 102.3,41.14 102.82,40.44 103.4,41.14 104.02,40.22 104.67,40.13 105.34,39.93 106.03,39.33 106.72,39.23 107.41,38.23 108.08,38.48 108.72,37.81 109.33,38.31 109.9,38.19 110.67,37.27 111.38,37.58 112.04,38.09 112.67,39.56 113.29,39.45 113.92,40.32 114.59,40.53 115.3,41.41 115.9,41.8 116.49,42.43 117.1,43.5 117.72,44.29 118.34,45.49 118.99,45.93 119.65,46.88 120.34,47.28 121.06,47.76 121.8,47.42 122.36,46.66 122.95,47.35 123.56,47.16 124.19,46.67 124.83,45.75 125.49,45.39 126.15,44.14 126.81,44.33 127.47,43.35 128.11,42.33 128.74,41.41 129.35,41.84 129.94,41.45 130.5,39.77 131.24,40.01 131.96,38.79 132.65,37.73 133.31,37.2 133.96,37.11 134.58,36.56 135.2,34.83 135.81,34.97 136.4,33.68 137,34.08 137.66,33.13 138.3,33.46 138.93,33.27 139.55,32.38 140.15,32.79 140.74,31.71 141.31,31.26 141.86,31.82 142.4,30.99 143.13,31.1 143.77,31.31 144.38,31.59 145,31.13 145.69,31.26 146.5,32.78 147.04,32.43 147.61,33.74 148.21,34.19 148.83,34.11 149.47,34.85 150.13,35.59 150.82,36.42 151.53,37.01 152.25,37.59 153,38.26 153.55,39.07 154.12,38.91 154.7,39.2 155.3,39.97 155.91,39.73 156.53,40.2 157.16,41.47 157.8,41.26 158.44,41.68 159.07,41.36 159.71,42.27 160.35,42.86 160.98,42.5 161.6,43.65 162.22,44.07 162.85,43.78 163.48,45 164.11,45.3 164.74,46.09 165.38,46.17 166.01,47.12 166.64,47.61 167.27,47.08 167.89,47.47 168.51,48.54 169.11,49.08 169.71,48.23 170.3,48.44 170.98,48.39 171.66,47.62 172.33,47.12 173,46.37 173.66,45.68 174.31,45.14 174.94,43.88 175.57,43.11 176.18,42.77 176.77,41.01 177.35,41 177.9,40.61 178.59,39.34 179.23,38.54 179.82,38.65 180.39,37.3 180.95,36.68 181.5,36.5 182.07,36.4 182.66,35.26 183.3,35.27 183.92,35.12 184.57,35.69 185.24,35.16 185.93,35.76 186.62,34.96 187.31,35.3 187.98,35.84 188.63,36.28 189.24,35.84 189.8,35.64 190.61,35.61 191.3,36.21 191.93,35.85 192.55,36.8 193.22,37.07 194,36.59 194.55,37.02 195.16,38.1 195.81,38.33 196.49,39.02 197.17,38.93 197.84,39.16 198.47,39.87 199.06,40.99 199.57,40.74 200,41.2 200.72,42.31 201.5,43.4 201.95,43.78 202.5,44.93 203.12,44.47 203.79,44.85 204.51,46.66 205.24,47.15 205.97,47.83 206.69,47.6 207.37,48.68 208,48.96 208.63,48.32 209.19,49.29 209.73,49.66 210.24,49.63 210.77,49.55 211.33,49.23 211.94,49.13 212.62,48.62 213.4,47.84 213.92,48.03 214.46,47.04 215.03,47.01 215.62,45.22 216.24,45.46 216.88,44.26 217.53,43.6 218.19,42.58 218.86,41.59 219.55,40.19 220.24,38.5 220.93,38.53 221.62,36.94 222.31,36.32 223,36.11 223.57,35.42 224.14,34.79 224.72,35.02 225.3,34.16 225.88,33.4 226.46,32.9 227.05,33.32 227.65,32.47 228.24,32.53 228.85,31.64 229.46,31.13 230.07,31.26 230.69,31.32 231.32,30.18 231.95,30.69 232.59,30.56 233.24,30.11 233.9,29.82 234.47,28.49 235.06,29.01 235.66,29.01 236.26,27.65 236.88,27.63 237.5,27.32 238.13,27.35 238.76,26.91 239.4,26.67 240.04,26.78 240.68,25.5 241.31,25.31 241.95,25.16 242.58,24.93 243.21,24.66 243.83,25.67 244.44,25.37 245.05,24.27 245.65,24.73 246.23,24.46 246.8,24.46 247.46,24.58 248.11,25.1 248.76,25.23 249.41,25.2 250.05,25.29 250.68,25.82 251.31,25.94 251.93,26.91 252.54,27.54 253.15,27.54 253.74,27.58 254.33,28.14 254.9,28.8 255.47,29.49 256.02,30.07 256.56,29.87 257.09,30.68 257.6,30.66 258.36,30.65 259.12,30.75 259.86,31.04 260.59,31.4 261.3,31.09 261.98,31.46 262.61,31.17 263.21,30.88 263.75,31.24 264.23,31.44 264.65,30.63 265,31.1" fill="none" stroke="#ff0000" stroke-width="1.2" stroke-linejoin="round" />
</g>
<text x="218.5" y="90" font-size="9.5" text-anchor="start" fill="#0000ff" font-weight="normal" stroke="#0000ff" stroke-width="0.16" >B<tspan font-size="7.5" dy="0.3">x</tspan></text>
<text x="235" y="90" font-size="9.5" text-anchor="start" fill="#00e000" font-weight="normal" stroke="#00e000" stroke-width="0.16" >B<tspan font-size="7.5" dy="0.3">y</tspan></text>
<text x="250.5" y="90" font-size="9.5" text-anchor="start" fill="#ff0000" font-weight="normal" stroke="#ff0000" stroke-width="0.16" >B<tspan font-size="7.5" dy="0.3">z</tspan></text>
<line x1="90" y1="93.7" x2="90" y2="91.7" stroke="#555" stroke-width="1" />
<line x1="148" y1="93.7" x2="148" y2="91.7" stroke="#555" stroke-width="1" />
<line x1="206" y1="93.7" x2="206" y2="91.7" stroke="#555" stroke-width="1" />
<clipPath id="clb"><rect x="33" y="103" width="232" height="82"/></clipPath>
<g clip-path="url(#clb)"><g shape-rendering="crispEdges">
<rect x="31.0" y="103.0" width="237.0" height="1" fill="url(#b0)"/>
<rect x="31.0" y="104.0" width="237.0" height="1" fill="url(#b1)"/>
<rect x="31.0" y="105.0" width="237.0" height="1" fill="url(#b2)"/>
<rect x="31.0" y="106.0" width="237.0" height="1" fill="url(#b3)"/>
<rect x="31.0" y="107.0" width="237.0" height="1" fill="url(#b4)"/>
<rect x="31.0" y="108.0" width="237.0" height="1" fill="url(#b5)"/>
<rect x="31.0" y="109.0" width="237.0" height="1" fill="url(#b6)"/>
<rect x="31.0" y="110.0" width="237.0" height="1" fill="url(#b7)"/>
<rect x="31.0" y="111.0" width="237.0" height="1" fill="url(#b8)"/>
<rect x="31.0" y="112.0" width="237.0" height="1" fill="url(#b9)"/>
<rect x="31.0" y="113.0" width="237.0" height="1" fill="url(#b10)"/>
<rect x="31.0" y="114.0" width="237.0" height="1" fill="url(#b11)"/>
<rect x="31.0" y="115.0" width="237.0" height="1" fill="url(#b12)"/>
<rect x="31.0" y="116.0" width="237.0" height="1" fill="url(#b13)"/>
<rect x="31.0" y="117.0" width="237.0" height="1" fill="url(#b14)"/>
<rect x="31.0" y="118.0" width="237.0" height="1" fill="url(#b15)"/>
<rect x="31.0" y="119.0" width="237.0" height="1" fill="url(#b16)"/>
<rect x="31.0" y="120.0" width="237.0" height="1" fill="url(#b17)"/>
<rect x="31.0" y="121.0" width="237.0" height="1" fill="url(#b18)"/>
<rect x="31.0" y="122.0" width="237.0" height="1" fill="url(#b19)"/>
<rect x="31.0" y="123.0" width="237.0" height="1" fill="url(#b20)"/>
<rect x="31.0" y="124.0" width="237.0" height="1" fill="url(#b21)"/>
<rect x="31.0" y="125.0" width="237.0" height="1" fill="url(#b22)"/>
<rect x="31.0" y="126.0" width="237.0" height="1" fill="url(#b23)"/>
<rect x="31.0" y="127.0" width="237.0" height="1" fill="url(#b24)"/>
<rect x="31.0" y="128.0" width="237.0" height="1" fill="url(#b25)"/>
<rect x="31.0" y="129.0" width="237.0" height="1" fill="url(#b26)"/>
<rect x="31.0" y="130.0" width="237.0" height="1" fill="url(#b27)"/>
<rect x="31.0" y="131.0" width="237.0" height="1" fill="url(#b28)"/>
<rect x="31.0" y="132.0" width="237.0" height="1" fill="url(#b29)"/>
<rect x="31.0" y="133.0" width="237.0" height="1" fill="url(#b30)"/>
<rect x="31.0" y="134.0" width="237.0" height="1" fill="url(#b31)"/>
<rect x="31.0" y="135.0" width="237.0" height="1" fill="url(#b32)"/>
<rect x="31.0" y="136.0" width="237.0" height="1" fill="url(#b33)"/>
<rect x="31.0" y="137.0" width="237.0" height="1" fill="url(#b34)"/>
<rect x="31.0" y="138.0" width="237.0" height="1" fill="url(#b35)"/>
<rect x="31.0" y="139.0" width="237.0" height="1" fill="url(#b36)"/>
<rect x="31.0" y="140.0" width="237.0" height="1" fill="url(#b37)"/>
<rect x="31.0" y="141.0" width="237.0" height="1" fill="url(#b38)"/>
<rect x="31.0" y="142.0" width="237.0" height="1" fill="url(#b39)"/>
<rect x="31.0" y="143.0" width="237.0" height="1" fill="url(#b40)"/>
<rect x="31.0" y="144.0" width="237.0" height="1" fill="url(#b41)"/>
<rect x="31.0" y="145.0" width="237.0" height="1" fill="url(#b42)"/>
<rect x="31.0" y="146.0" width="237.0" height="1" fill="url(#b43)"/>
<rect x="31.0" y="147.0" width="237.0" height="1" fill="url(#b44)"/>
<rect x="31.0" y="148.0" width="237.0" height="1" fill="url(#b45)"/>
<rect x="31.0" y="149.0" width="237.0" height="1" fill="url(#b46)"/>
<rect x="31.0" y="150.0" width="237.0" height="1" fill="url(#b47)"/>
<rect x="31.0" y="151.0" width="237.0" height="1" fill="url(#b48)"/>
<rect x="31.0" y="152.0" width="237.0" height="1" fill="url(#b49)"/>
<rect x="31.0" y="153.0" width="237.0" height="1" fill="url(#b50)"/>
<rect x="31.0" y="154.0" width="237.0" height="1" fill="url(#b51)"/>
<rect x="31.0" y="155.0" width="237.0" height="1" fill="url(#b52)"/>
<rect x="31.0" y="156.0" width="237.0" height="1" fill="url(#b53)"/>
<rect x="31.0" y="157.0" width="237.0" height="1" fill="url(#b54)"/>
<rect x="31.0" y="158.0" width="237.0" height="1" fill="url(#b55)"/>
<rect x="31.0" y="159.0" width="237.0" height="1" fill="url(#b56)"/>
<rect x="31.0" y="160.0" width="237.0" height="1" fill="url(#b57)"/>
<rect x="31.0" y="161.0" width="237.0" height="1" fill="url(#b58)"/>
<rect x="31.0" y="162.0" width="237.0" height="1" fill="url(#b59)"/>
<rect x="31.0" y="163.0" width="237.0" height="1" fill="url(#b60)"/>
<rect x="31.0" y="164.0" width="237.0" height="1" fill="url(#b61)"/>
<rect x="31.0" y="165.0" width="237.0" height="1" fill="url(#b62)"/>
<rect x="31.0" y="166.0" width="237.0" height="1" fill="url(#b63)"/>
<rect x="31.0" y="167.0" width="237.0" height="1" fill="url(#b64)"/>
<rect x="31.0" y="168.0" width="237.0" height="1" fill="url(#b65)"/>
<rect x="31.0" y="169.0" width="237.0" height="1" fill="url(#b66)"/>
<rect x="31.0" y="170.0" width="237.0" height="1" fill="url(#b67)"/>
<rect x="31.0" y="171.0" width="237.0" height="1" fill="url(#b68)"/>
<rect x="31.0" y="172.0" width="237.0" height="1" fill="url(#b69)"/>
<rect x="31.0" y="173.0" width="237.0" height="1" fill="url(#b70)"/>
<rect x="31.0" y="174.0" width="237.0" height="1" fill="url(#b71)"/>
<rect x="31.0" y="175.0" width="237.0" height="1" fill="url(#b72)"/>
<rect x="31.0" y="176.0" width="237.0" height="1" fill="url(#b73)"/>
<rect x="31.0" y="177.0" width="237.0" height="1" fill="url(#b74)"/>
<rect x="31.0" y="178.0" width="237.0" height="1" fill="url(#b75)"/>
<rect x="31.0" y="179.0" width="237.0" height="1" fill="url(#b76)"/>
<rect x="31.0" y="180.0" width="237.0" height="1" fill="url(#b77)"/>
<rect x="31.0" y="181.0" width="237.0" height="1" fill="url(#b78)"/>
<rect x="31.0" y="182.0" width="237.0" height="1" fill="url(#b79)"/>
<rect x="31.0" y="183.0" width="237.0" height="1" fill="url(#b80)"/>
<rect x="31.0" y="184.0" width="237.0" height="1" fill="url(#b81)"/>
<rect x="31.0" y="185.0" width="237.0" height="1" fill="url(#b82)"/>
</g>
<polygon points="33,181 265,178 265,186 33,186" fill="#fff" />
<polyline points="33.4,113.51 34.7,110.47 36,108.17 37.07,106.23 38.13,105.44 39.2,103.95 40.6,103.81 42,104.51 43,105.44 44,107.33 45,108.38 46,109.85 47.17,108.62 48.33,107.46 49.5,105.09 50.6,105.2 51.7,105.64 52.8,105.99 53.9,105.58 55,105.39 56,106.32 57,105.6 58,106.79 59,106.47 60,106.61 61.08,106.83 62.15,107.29 63.22,108.1 64.3,107.65 65.53,108.02 66.77,108.02 68,107.66 69,108.09 70,107.79 71,108.02 72,107.68 73,107.7 74,106.92 75,106.3 76,106.09 77,105.45 78,104.78 79,105.7 80,105.97 81,105.84 82,106.58 83,108.33 84,110.51 85,112.15 86.14,111.81 87.28,112.71 88.42,111.9 89.56,112.37 90.7,112.88 91.84,110.38 92.98,108.91 94.12,106.57 95.26,105.43 96.4,103.69 97,102.08 98,102.41 99,101.8 100,102.21 101,102.1 102,102.09 103,101.95 104,102.37 105,102.49 106,101.97 107,102.18 108,101.52 109,102.22 110,102.16 111,102.54 112,102.35 113,101.76 114,101.87 115,102.19 116,101.47 117,101.96 118,101.63 119,101.58 120,101.51 121,102.3 121.6,102.99 122.75,103.77 123.9,104.58 125.05,105.76 126.2,105.54 127.35,106.59 128.5,107.35 129.51,107.47 130.52,107.14 131.53,106.93 132.54,106.03 133.56,105.93 134.57,105.61 135.58,105.93 136.59,105.76 137.6,104.62 138.8,104.19 140,103.81 141,103.84 142,104.16 143,104.31 144,103.99 145,103.74 146,104.24 147,104.22 148,104.47 149.02,105.76 150.04,106.33 151.06,107 152.08,107.97 153.1,108.89 154.26,108.65 155.42,110.02 156.58,110.33 157.74,110.87 158.9,111.23 160,109.83 161.1,108.89 162.55,110.26 164,112.55 165.16,112.94 166.32,113.96 167.48,115.14 168.64,116.11 169.8,117.32 170.82,116.41 171.84,115.75 172.86,115.32 173.88,114.66 174.9,114.35 175.9,113.53 176.9,114.01 177.9,113.28 178.9,112.31 179.9,111.98 180.9,111.63 181.9,111.2 182.9,110.49 184,112.23 185.1,113.34 186.2,111.96 187.3,111.18 188.4,109.94 189.5,109.16 190.6,108.63 191.7,107.74 192.7,108.8 193.7,108.51 194.7,108.8 195.7,110.26 196.7,110.23 197.8,110.71 198.9,112.05 200,112.38 201.1,113.83 202.26,116.23 203.42,118 204.58,119.72 205.74,121.14 206.9,123.15 208,124.58 209.1,126.9 210.2,128.29 211.3,130.21 212.4,131.36 213.5,132.9 214.52,132.42 215.54,131.49 216.56,130.23 217.58,129.06 218.6,127.95 219.68,125.69 220.75,122.95 221.82,121.09 222.9,118.74 224.13,117.92 225.37,117.45 226.6,117.26 227.76,115.34 228.92,113.91 230.08,112.3 231.24,109.84 232.4,108.48 233.5,108.16 234.6,107.75 235.7,106.73 236.8,106.19 237.8,105.78 238.8,105.33 239.8,104.91 240.8,104.96 241.8,104.84 242.87,103.64 243.93,102.11 245,101.17" fill="none" stroke="#fff" stroke-width="1.2" stroke-linejoin="round" />
</g>
<line x1="33" y1="157.3" x2="265" y2="157.3" stroke="#222" stroke-width="1.1" stroke-dasharray="4.5,3.2"/>
<text x="38" y="119.6" font-size="11" text-anchor="start" fill="#fff" font-weight="normal" stroke="#fff" stroke-width="0.18" >f<tspan font-size="8" dy="0.6">ci</tspan></text>
<text x="251" y="116.3" font-size="9.5" text-anchor="start" fill="#fff" font-weight="normal" stroke="#fff" stroke-width="0.16" >(b)</text>
<rect x="33" y="103" width="232" height="82" fill="none" stroke="#333" stroke-width="1"/>
<line x1="265" y1="119.3" x2="267" y2="119.3" stroke="#333" stroke-width="0.8" />
<line x1="265" y1="135.6" x2="267" y2="135.6" stroke="#333" stroke-width="0.8" />
<line x1="265" y1="152.2" x2="267" y2="152.2" stroke="#333" stroke-width="0.8" />
<line x1="265" y1="168.5" x2="267" y2="168.5" stroke="#333" stroke-width="0.8" />
<line x1="30" y1="119.2" x2="33" y2="119.2" stroke="#333" stroke-width="0.8" />
<line x1="30" y1="135.4" x2="33" y2="135.4" stroke="#333" stroke-width="0.8" />
<line x1="30" y1="152.3" x2="33" y2="152.3" stroke="#333" stroke-width="0.8" />
<line x1="30" y1="168.6" x2="33" y2="168.6" stroke="#333" stroke-width="0.8" />
<line x1="30" y1="184.9" x2="33" y2="184.9" stroke="#333" stroke-width="0.8" />
<line x1="90" y1="185" x2="90" y2="187.5" stroke="#333" stroke-width="0.8" />
<line x1="148" y1="185" x2="148" y2="187.5" stroke="#333" stroke-width="0.8" />
<line x1="206" y1="185" x2="206" y2="187.5" stroke="#333" stroke-width="0.8" />
<text x="29" y="124" font-size="9.5" text-anchor="end" fill="#111" font-weight="normal" stroke="#111" stroke-width="0.16" >0.2</text>
<text x="29" y="156.1" font-size="9.5" text-anchor="end" fill="#111" font-weight="normal" stroke="#111" stroke-width="0.16" >0.1</text>
<text x="29" y="187.7" font-size="9.5" text-anchor="end" fill="#111" font-weight="normal" stroke="#111" stroke-width="0.16" >0</text>
<text x="4.8" y="148.5" font-size="9.5" text-anchor="middle" fill="#111" font-weight="normal" stroke="#111" stroke-width="0.16" transform="rotate(-90 4.8 148.5)" dy="3.3">f (Hz)</text>
<rect x="267.8" y="108.7" width="9.4" height="72.10000000000001" fill="url(#jetv)" stroke="#222" stroke-width="0.8"/>
<line x1="277.2" y1="108.7" x2="279" y2="108.7" stroke="#222" stroke-width="0.7" />
<text x="280" y="110.9" font-size="6.3" text-anchor="start" fill="#111" font-weight="normal" stroke="#111" stroke-width="0.10" >3</text>
<line x1="277.2" y1="126.73" x2="279" y2="126.73" stroke="#222" stroke-width="0.7" />
<text x="280" y="128.93" font-size="6.3" text-anchor="start" fill="#111" font-weight="normal" stroke="#111" stroke-width="0.10" >2</text>
<line x1="277.2" y1="144.75" x2="279" y2="144.75" stroke="#222" stroke-width="0.7" />
<text x="280" y="146.95" font-size="6.3" text-anchor="start" fill="#111" font-weight="normal" stroke="#111" stroke-width="0.10" >1</text>
<line x1="277.2" y1="162.78" x2="279" y2="162.78" stroke="#222" stroke-width="0.7" />
<text x="280" y="164.97" font-size="6.3" text-anchor="start" fill="#111" font-weight="normal" stroke="#111" stroke-width="0.10" >0</text>
<line x1="277.2" y1="180.8" x2="279" y2="180.8" stroke="#222" stroke-width="0.7" />
<text x="280" y="183" font-size="6.3" text-anchor="start" fill="#111" font-weight="normal" stroke="#111" stroke-width="0.10" >-1</text>
<text x="288.5" y="143.25" font-size="6.6" text-anchor="middle" fill="#111" font-weight="normal" stroke="#111" stroke-width="0.11" transform="rotate(-90 288.5 143.25)" dy="2.3">log<tspan font-size="4.8" dy="1.5">10</tspan><tspan dy="-1.5"> B</tspan><tspan font-size="4.8" dy="-2.5">2</tspan><tspan font-size="4.8" dy="4" dx="-3">x</tspan><tspan dy="-1.5" dx="1"> (nT</tspan><tspan font-size="4.8" dy="-2.5">2</tspan><tspan dy="2.5"> Hz</tspan><tspan font-size="4.8" dy="-2.5">-1</tspan><tspan dy="2.5">)</tspan></text>
<rect x="267.8" y="201.9" width="9.4" height="72.29999999999998" fill="url(#jetv)" stroke="#222" stroke-width="0.8"/>
<line x1="277.2" y1="201.9" x2="279" y2="201.9" stroke="#222" stroke-width="0.7" />
<text x="280" y="204.1" font-size="6.3" text-anchor="start" fill="#111" font-weight="normal" stroke="#111" stroke-width="0.10" >3</text>
<line x1="277.2" y1="219.97" x2="279" y2="219.97" stroke="#222" stroke-width="0.7" />
<text x="280" y="222.17" font-size="6.3" text-anchor="start" fill="#111" font-weight="normal" stroke="#111" stroke-width="0.10" >2</text>
<line x1="277.2" y1="238.05" x2="279" y2="238.05" stroke="#222" stroke-width="0.7" />
<text x="280" y="240.25" font-size="6.3" text-anchor="start" fill="#111" font-weight="normal" stroke="#111" stroke-width="0.10" >1</text>
<line x1="277.2" y1="256.12" x2="279" y2="256.12" stroke="#222" stroke-width="0.7" />
<text x="280" y="258.32" font-size="6.3" text-anchor="start" fill="#111" font-weight="normal" stroke="#111" stroke-width="0.10" >0</text>
<line x1="277.2" y1="274.2" x2="279" y2="274.2" stroke="#222" stroke-width="0.7" />
<text x="280" y="276.4" font-size="6.3" text-anchor="start" fill="#111" font-weight="normal" stroke="#111" stroke-width="0.10" >-1</text>
<text x="288.5" y="236.55" font-size="6.6" text-anchor="middle" fill="#111" font-weight="normal" stroke="#111" stroke-width="0.11" transform="rotate(-90 288.5 236.55)" dy="2.3">log<tspan font-size="4.8" dy="1.5">10</tspan><tspan dy="-1.5"> B</tspan><tspan font-size="4.8" dy="-2.5">2</tspan><tspan font-size="4.8" dy="4" dx="-3">y</tspan><tspan dy="-1.5" dx="1"> (nT</tspan><tspan font-size="4.8" dy="-2.5">2</tspan><tspan dy="2.5"> Hz</tspan><tspan font-size="4.8" dy="-2.5">-1</tspan><tspan dy="2.5">)</tspan></text>
<rect x="267.8" y="291.9" width="9.4" height="72.30000000000001" fill="url(#jetv)" stroke="#222" stroke-width="0.8"/>
<line x1="277.2" y1="291.9" x2="279" y2="291.9" stroke="#222" stroke-width="0.7" />
<text x="280" y="294.1" font-size="6.3" text-anchor="start" fill="#111" font-weight="normal" stroke="#111" stroke-width="0.10" >3</text>
<line x1="277.2" y1="309.97" x2="279" y2="309.97" stroke="#222" stroke-width="0.7" />
<text x="280" y="312.17" font-size="6.3" text-anchor="start" fill="#111" font-weight="normal" stroke="#111" stroke-width="0.10" >2</text>
<line x1="277.2" y1="328.05" x2="279" y2="328.05" stroke="#222" stroke-width="0.7" />
<text x="280" y="330.25" font-size="6.3" text-anchor="start" fill="#111" font-weight="normal" stroke="#111" stroke-width="0.10" >1</text>
<line x1="277.2" y1="346.12" x2="279" y2="346.12" stroke="#222" stroke-width="0.7" />
<text x="280" y="348.32" font-size="6.3" text-anchor="start" fill="#111" font-weight="normal" stroke="#111" stroke-width="0.10" >0</text>
<line x1="277.2" y1="364.2" x2="279" y2="364.2" stroke="#222" stroke-width="0.7" />
<text x="280" y="366.4" font-size="6.3" text-anchor="start" fill="#111" font-weight="normal" stroke="#111" stroke-width="0.10" >-1</text>
<text x="288.5" y="326.55" font-size="6.6" text-anchor="middle" fill="#111" font-weight="normal" stroke="#111" stroke-width="0.11" transform="rotate(-90 288.5 326.54999999999995)" dy="2.3">log<tspan font-size="4.8" dy="1.5">10</tspan><tspan dy="-1.5"> B</tspan><tspan font-size="4.8" dy="-2.5">2</tspan><tspan font-size="4.8" dy="4" dx="-3">z</tspan><tspan dy="-1.5" dx="1"> (nT</tspan><tspan font-size="4.8" dy="-2.5">2</tspan><tspan dy="2.5"> Hz</tspan><tspan font-size="4.8" dy="-2.5">-1</tspan><tspan dy="2.5">)</tspan></text>
<clipPath id="clc"><rect x="33" y="197" width="232" height="81.30000000000001"/></clipPath>
<g clip-path="url(#clc)"><g shape-rendering="crispEdges">
<rect x="31.0" y="197.0" width="237.0" height="1" fill="url(#c0)"/>
<rect x="31.0" y="198.0" width="237.0" height="1" fill="url(#c1)"/>
<rect x="31.0" y="199.0" width="237.0" height="1" fill="url(#c2)"/>
<rect x="31.0" y="200.0" width="237.0" height="1" fill="url(#c3)"/>
<rect x="31.0" y="201.0" width="237.0" height="1" fill="url(#c4)"/>
<rect x="31.0" y="202.0" width="237.0" height="1" fill="url(#c5)"/>
<rect x="31.0" y="203.0" width="237.0" height="1" fill="url(#c6)"/>
<rect x="31.0" y="204.0" width="237.0" height="1" fill="url(#c7)"/>
<rect x="31.0" y="205.0" width="237.0" height="1" fill="url(#c8)"/>
<rect x="31.0" y="206.0" width="237.0" height="1" fill="url(#c9)"/>
<rect x="31.0" y="207.0" width="237.0" height="1" fill="url(#c10)"/>
<rect x="31.0" y="208.0" width="237.0" height="1" fill="url(#c11)"/>
<rect x="31.0" y="209.0" width="237.0" height="1" fill="url(#c12)"/>
<rect x="31.0" y="210.0" width="237.0" height="1" fill="url(#c13)"/>
<rect x="31.0" y="211.0" width="237.0" height="1" fill="url(#c14)"/>
<rect x="31.0" y="212.0" width="237.0" height="1" fill="url(#c15)"/>
<rect x="31.0" y="213.0" width="237.0" height="1" fill="url(#c16)"/>
<rect x="31.0" y="214.0" width="237.0" height="1" fill="url(#c17)"/>
<rect x="31.0" y="215.0" width="237.0" height="1" fill="url(#c18)"/>
<rect x="31.0" y="216.0" width="237.0" height="1" fill="url(#c19)"/>
<rect x="31.0" y="217.0" width="237.0" height="1" fill="url(#c20)"/>
<rect x="31.0" y="218.0" width="237.0" height="1" fill="url(#c21)"/>
<rect x="31.0" y="219.0" width="237.0" height="1" fill="url(#c22)"/>
<rect x="31.0" y="220.0" width="237.0" height="1" fill="url(#c23)"/>
<rect x="31.0" y="221.0" width="237.0" height="1" fill="url(#c24)"/>
<rect x="31.0" y="222.0" width="237.0" height="1" fill="url(#c25)"/>
<rect x="31.0" y="223.0" width="237.0" height="1" fill="url(#c26)"/>
<rect x="31.0" y="224.0" width="237.0" height="1" fill="url(#c27)"/>
<rect x="31.0" y="225.0" width="237.0" height="1" fill="url(#c28)"/>
<rect x="31.0" y="226.0" width="237.0" height="1" fill="url(#c29)"/>
<rect x="31.0" y="227.0" width="237.0" height="1" fill="url(#c30)"/>
<rect x="31.0" y="228.0" width="237.0" height="1" fill="url(#c31)"/>
<rect x="31.0" y="229.0" width="237.0" height="1" fill="url(#c32)"/>
<rect x="31.0" y="230.0" width="237.0" height="1" fill="url(#c33)"/>
<rect x="31.0" y="231.0" width="237.0" height="1" fill="url(#c34)"/>
<rect x="31.0" y="232.0" width="237.0" height="1" fill="url(#c35)"/>
<rect x="31.0" y="233.0" width="237.0" height="1" fill="url(#c36)"/>
<rect x="31.0" y="234.0" width="237.0" height="1" fill="url(#c37)"/>
<rect x="31.0" y="235.0" width="237.0" height="1" fill="url(#c38)"/>
<rect x="31.0" y="236.0" width="237.0" height="1" fill="url(#c39)"/>
<rect x="31.0" y="237.0" width="237.0" height="1" fill="url(#c40)"/>
<rect x="31.0" y="238.0" width="237.0" height="1" fill="url(#c41)"/>
<rect x="31.0" y="239.0" width="237.0" height="1" fill="url(#c42)"/>
<rect x="31.0" y="240.0" width="237.0" height="1" fill="url(#c43)"/>
<rect x="31.0" y="241.0" width="237.0" height="1" fill="url(#c44)"/>
<rect x="31.0" y="242.0" width="237.0" height="1" fill="url(#c45)"/>
<rect x="31.0" y="243.0" width="237.0" height="1" fill="url(#c46)"/>
<rect x="31.0" y="244.0" width="237.0" height="1" fill="url(#c47)"/>
<rect x="31.0" y="245.0" width="237.0" height="1" fill="url(#c48)"/>
<rect x="31.0" y="246.0" width="237.0" height="1" fill="url(#c49)"/>
<rect x="31.0" y="247.0" width="237.0" height="1" fill="url(#c50)"/>
<rect x="31.0" y="248.0" width="237.0" height="1" fill="url(#c51)"/>
<rect x="31.0" y="249.0" width="237.0" height="1" fill="url(#c52)"/>
<rect x="31.0" y="250.0" width="237.0" height="1" fill="url(#c53)"/>
<rect x="31.0" y="251.0" width="237.0" height="1" fill="url(#c54)"/>
<rect x="31.0" y="252.0" width="237.0" height="1" fill="url(#c55)"/>
<rect x="31.0" y="253.0" width="237.0" height="1" fill="url(#c56)"/>
<rect x="31.0" y="254.0" width="237.0" height="1" fill="url(#c57)"/>
<rect x="31.0" y="255.0" width="237.0" height="1" fill="url(#c58)"/>
<rect x="31.0" y="256.0" width="237.0" height="1" fill="url(#c59)"/>
<rect x="31.0" y="257.0" width="237.0" height="1" fill="url(#c60)"/>
<rect x="31.0" y="258.0" width="237.0" height="1" fill="url(#c61)"/>
<rect x="31.0" y="259.0" width="237.0" height="1" fill="url(#c62)"/>
<rect x="31.0" y="260.0" width="237.0" height="1" fill="url(#c63)"/>
<rect x="31.0" y="261.0" width="237.0" height="1" fill="url(#c64)"/>
<rect x="31.0" y="262.0" width="237.0" height="1" fill="url(#c65)"/>
<rect x="31.0" y="263.0" width="237.0" height="1" fill="url(#c66)"/>
<rect x="31.0" y="264.0" width="237.0" height="1" fill="url(#c67)"/>
<rect x="31.0" y="265.0" width="237.0" height="1" fill="url(#c68)"/>
<rect x="31.0" y="266.0" width="237.0" height="1" fill="url(#c69)"/>
<rect x="31.0" y="267.0" width="237.0" height="1" fill="url(#c70)"/>
<rect x="31.0" y="268.0" width="237.0" height="1" fill="url(#c71)"/>
<rect x="31.0" y="269.0" width="237.0" height="1" fill="url(#c72)"/>
<rect x="31.0" y="270.0" width="237.0" height="1" fill="url(#c73)"/>
<rect x="31.0" y="271.0" width="237.0" height="1" fill="url(#c74)"/>
<rect x="31.0" y="272.0" width="237.0" height="1" fill="url(#c75)"/>
<rect x="31.0" y="273.0" width="237.0" height="1" fill="url(#c76)"/>
<rect x="31.0" y="274.0" width="237.0" height="1" fill="url(#c77)"/>
<rect x="31.0" y="275.0" width="237.0" height="1" fill="url(#c78)"/>
<rect x="31.0" y="276.0" width="237.0" height="1" fill="url(#c79)"/>
<rect x="31.0" y="277.0" width="237.0" height="1" fill="url(#c80)"/>
<rect x="31.0" y="278.0" width="237.0" height="1" fill="url(#c81)"/>
<rect x="31.0" y="279.0" width="237.0" height="1" fill="url(#c82)"/>
</g>
<polygon points="33,275.3 265,271.8 265,280 33,280" fill="#fff" />
<polyline points="33.4,207.51 34.7,204.47 36,202.17 37.07,200.23 38.13,199.44 39.2,197.95 40.6,197.81 42,198.51 43,199.44 44,201.33 45,202.38 46,203.85 47.17,202.62 48.33,201.46 49.5,199.09 50.6,199.2 51.7,199.64 52.8,199.99 53.9,199.58 55,199.39 56,200.32 57,199.6 58,200.79 59,200.47 60,200.61 61.08,200.83 62.15,201.29 63.22,202.1 64.3,201.65 65.53,202.02 66.77,202.02 68,201.66 69,202.09 70,201.79 71,202.02 72,201.68 73,201.7 74,200.92 75,200.3 76,200.09 77,199.45 78,198.78 79,199.7 80,199.97 81,199.84 82,200.58 83,202.33 84,204.51 85,206.15 86.14,205.81 87.28,206.71 88.42,205.9 89.56,206.37 90.7,206.88 91.84,204.38 92.98,202.91 94.12,200.57 95.26,199.43 96.4,197.69 97,196.08 98,196.41 99,195.8 100,196.21 101,196.1 102,196.09 103,195.95 104,196.37 105,196.49 106,195.97 107,196.18 108,195.52 109,196.22 110,196.16 111,196.54 112,196.35 113,195.76 114,195.87 115,196.19 116,195.47 117,195.96 118,195.63 119,195.58 120,195.51 121,196.3 121.6,196.99 122.75,197.77 123.9,198.58 125.05,199.76 126.2,199.54 127.35,200.59 128.5,201.35 129.51,201.47 130.52,201.14 131.53,200.93 132.54,200.03 133.56,199.93 134.57,199.61 135.58,199.93 136.59,199.76 137.6,198.62 138.8,198.19 140,197.81 141,197.84 142,198.16 143,198.31 144,197.99 145,197.74 146,198.24 147,198.22 148,198.47 149.02,199.76 150.04,200.33 151.06,201 152.08,201.97 153.1,202.89 154.26,202.65 155.42,204.02 156.58,204.33 157.74,204.87 158.9,205.23 160,203.83 161.1,202.89 162.55,204.26 164,206.55 165.16,206.94 166.32,207.96 167.48,209.14 168.64,210.11 169.8,211.32 170.82,210.41 171.84,209.75 172.86,209.32 173.88,208.66 174.9,208.35 175.9,207.53 176.9,208.01 177.9,207.28 178.9,206.31 179.9,205.98 180.9,205.63 181.9,205.2 182.9,204.49 184,206.23 185.1,207.34 186.2,205.96 187.3,205.18 188.4,203.94 189.5,203.16 190.6,202.63 191.7,201.74 192.7,202.8 193.7,202.51 194.7,202.8 195.7,204.26 196.7,204.23 197.8,204.71 198.9,206.05 200,206.38 201.1,207.83 202.26,210.23 203.42,212 204.58,213.72 205.74,215.14 206.9,217.15 208,218.58 209.1,220.9 210.2,222.29 211.3,224.21 212.4,225.36 213.5,226.9 214.52,226.42 215.54,225.49 216.56,224.23 217.58,223.06 218.6,221.95 219.68,219.69 220.75,216.95 221.82,215.09 222.9,212.74 224.13,211.92 225.37,211.45 226.6,211.26 227.76,209.34 228.92,207.91 230.08,206.3 231.24,203.84 232.4,202.48 233.5,202.16 234.6,201.75 235.7,200.73 236.8,200.19 237.8,199.78 238.8,199.33 239.8,198.91 240.8,198.96 241.8,198.84 242.87,197.64 243.93,196.11 245,195.17" fill="none" stroke="#fff" stroke-width="1.2" stroke-linejoin="round" />
</g>
<line x1="33" y1="251.3" x2="265" y2="251.3" stroke="#222" stroke-width="1.1" stroke-dasharray="4.5,3.2"/>
<text x="38" y="213.6" font-size="11" text-anchor="start" fill="#fff" font-weight="normal" stroke="#fff" stroke-width="0.18" >f<tspan font-size="8" dy="0.6">ci</tspan></text>
<text x="251" y="210.3" font-size="9.5" text-anchor="start" fill="#fff" font-weight="normal" stroke="#fff" stroke-width="0.16" >(c)</text>
<rect x="33" y="197" width="232" height="81.3" fill="none" stroke="#333" stroke-width="1"/>
<line x1="265" y1="213.3" x2="267" y2="213.3" stroke="#333" stroke-width="0.8" />
<line x1="265" y1="229.6" x2="267" y2="229.6" stroke="#333" stroke-width="0.8" />
<line x1="265" y1="246.2" x2="267" y2="246.2" stroke="#333" stroke-width="0.8" />
<line x1="265" y1="262.5" x2="267" y2="262.5" stroke="#333" stroke-width="0.8" />
<line x1="30" y1="213.2" x2="33" y2="213.2" stroke="#333" stroke-width="0.8" />
<line x1="30" y1="229.4" x2="33" y2="229.4" stroke="#333" stroke-width="0.8" />
<line x1="30" y1="246.3" x2="33" y2="246.3" stroke="#333" stroke-width="0.8" />
<line x1="30" y1="262.6" x2="33" y2="262.6" stroke="#333" stroke-width="0.8" />
<line x1="30" y1="278.9" x2="33" y2="278.9" stroke="#333" stroke-width="0.8" />
<line x1="90" y1="278.3" x2="90" y2="280.8" stroke="#333" stroke-width="0.8" />
<line x1="148" y1="278.3" x2="148" y2="280.8" stroke="#333" stroke-width="0.8" />
<line x1="206" y1="278.3" x2="206" y2="280.8" stroke="#333" stroke-width="0.8" />
<text x="29" y="218" font-size="9.5" text-anchor="end" fill="#111" font-weight="normal" stroke="#111" stroke-width="0.16" >0.2</text>
<text x="29" y="250.1" font-size="9.5" text-anchor="end" fill="#111" font-weight="normal" stroke="#111" stroke-width="0.16" >0.1</text>
<text x="29" y="281.7" font-size="9.5" text-anchor="end" fill="#111" font-weight="normal" stroke="#111" stroke-width="0.16" >0</text>
<text x="4.8" y="242.5" font-size="9.5" text-anchor="middle" fill="#111" font-weight="normal" stroke="#111" stroke-width="0.16" transform="rotate(-90 4.8 242.5)" dy="3.3">f (Hz)</text>
<clipPath id="cld"><rect x="33" y="287.5" width="232" height="81.5"/></clipPath>
<g clip-path="url(#cld)"><g shape-rendering="crispEdges">
<rect x="31.0" y="287.0" width="237.0" height="1" fill="url(#d0)"/>
<rect x="31.0" y="288.0" width="237.0" height="1" fill="url(#d1)"/>
<rect x="31.0" y="289.0" width="237.0" height="1" fill="url(#d2)"/>
<rect x="31.0" y="290.0" width="237.0" height="1" fill="url(#d3)"/>
<rect x="31.0" y="291.0" width="237.0" height="1" fill="url(#d4)"/>
<rect x="31.0" y="292.0" width="237.0" height="1" fill="url(#d5)"/>
<rect x="31.0" y="293.0" width="237.0" height="1" fill="url(#d6)"/>
<rect x="31.0" y="294.0" width="237.0" height="1" fill="url(#d7)"/>
<rect x="31.0" y="295.0" width="237.0" height="1" fill="url(#d8)"/>
<rect x="31.0" y="296.0" width="237.0" height="1" fill="url(#d9)"/>
<rect x="31.0" y="297.0" width="237.0" height="1" fill="url(#d10)"/>
<rect x="31.0" y="298.0" width="237.0" height="1" fill="url(#d11)"/>
<rect x="31.0" y="299.0" width="237.0" height="1" fill="url(#d12)"/>
<rect x="31.0" y="300.0" width="237.0" height="1" fill="url(#d13)"/>
<rect x="31.0" y="301.0" width="237.0" height="1" fill="url(#d14)"/>
<rect x="31.0" y="302.0" width="237.0" height="1" fill="url(#d15)"/>
<rect x="31.0" y="303.0" width="237.0" height="1" fill="url(#d16)"/>
<rect x="31.0" y="304.0" width="237.0" height="1" fill="url(#d17)"/>
<rect x="31.0" y="305.0" width="237.0" height="1" fill="url(#d18)"/>
<rect x="31.0" y="306.0" width="237.0" height="1" fill="url(#d19)"/>
<rect x="31.0" y="307.0" width="237.0" height="1" fill="url(#d20)"/>
<rect x="31.0" y="308.0" width="237.0" height="1" fill="url(#d21)"/>
<rect x="31.0" y="309.0" width="237.0" height="1" fill="url(#d22)"/>
<rect x="31.0" y="310.0" width="237.0" height="1" fill="url(#d23)"/>
<rect x="31.0" y="311.0" width="237.0" height="1" fill="url(#d24)"/>
<rect x="31.0" y="312.0" width="237.0" height="1" fill="url(#d25)"/>
<rect x="31.0" y="313.0" width="237.0" height="1" fill="url(#d26)"/>
<rect x="31.0" y="314.0" width="237.0" height="1" fill="url(#d27)"/>
<rect x="31.0" y="315.0" width="237.0" height="1" fill="url(#d28)"/>
<rect x="31.0" y="316.0" width="237.0" height="1" fill="url(#d29)"/>
<rect x="31.0" y="317.0" width="237.0" height="1" fill="url(#d30)"/>
<rect x="31.0" y="318.0" width="237.0" height="1" fill="url(#d31)"/>
<rect x="31.0" y="319.0" width="237.0" height="1" fill="url(#d32)"/>
<rect x="31.0" y="320.0" width="237.0" height="1" fill="url(#d33)"/>
<rect x="31.0" y="321.0" width="237.0" height="1" fill="url(#d34)"/>
<rect x="31.0" y="322.0" width="237.0" height="1" fill="url(#d35)"/>
<rect x="31.0" y="323.0" width="237.0" height="1" fill="url(#d36)"/>
<rect x="31.0" y="324.0" width="237.0" height="1" fill="url(#d37)"/>
<rect x="31.0" y="325.0" width="237.0" height="1" fill="url(#d38)"/>
<rect x="31.0" y="326.0" width="237.0" height="1" fill="url(#d39)"/>
<rect x="31.0" y="327.0" width="237.0" height="1" fill="url(#d40)"/>
<rect x="31.0" y="328.0" width="237.0" height="1" fill="url(#d41)"/>
<rect x="31.0" y="329.0" width="237.0" height="1" fill="url(#d42)"/>
<rect x="31.0" y="330.0" width="237.0" height="1" fill="url(#d43)"/>
<rect x="31.0" y="331.0" width="237.0" height="1" fill="url(#d44)"/>
<rect x="31.0" y="332.0" width="237.0" height="1" fill="url(#d45)"/>
<rect x="31.0" y="333.0" width="237.0" height="1" fill="url(#d46)"/>
<rect x="31.0" y="334.0" width="237.0" height="1" fill="url(#d47)"/>
<rect x="31.0" y="335.0" width="237.0" height="1" fill="url(#d48)"/>
<rect x="31.0" y="336.0" width="237.0" height="1" fill="url(#d49)"/>
<rect x="31.0" y="337.0" width="237.0" height="1" fill="url(#d50)"/>
<rect x="31.0" y="338.0" width="237.0" height="1" fill="url(#d51)"/>
<rect x="31.0" y="339.0" width="237.0" height="1" fill="url(#d52)"/>
<rect x="31.0" y="340.0" width="237.0" height="1" fill="url(#d53)"/>
<rect x="31.0" y="341.0" width="237.0" height="1" fill="url(#d54)"/>
<rect x="31.0" y="342.0" width="237.0" height="1" fill="url(#d55)"/>
<rect x="31.0" y="343.0" width="237.0" height="1" fill="url(#d56)"/>
<rect x="31.0" y="344.0" width="237.0" height="1" fill="url(#d57)"/>
<rect x="31.0" y="345.0" width="237.0" height="1" fill="url(#d58)"/>
<rect x="31.0" y="346.0" width="237.0" height="1" fill="url(#d59)"/>
<rect x="31.0" y="347.0" width="237.0" height="1" fill="url(#d60)"/>
<rect x="31.0" y="348.0" width="237.0" height="1" fill="url(#d61)"/>
<rect x="31.0" y="349.0" width="237.0" height="1" fill="url(#d62)"/>
<rect x="31.0" y="350.0" width="237.0" height="1" fill="url(#d63)"/>
<rect x="31.0" y="351.0" width="237.0" height="1" fill="url(#d64)"/>
<rect x="31.0" y="352.0" width="237.0" height="1" fill="url(#d65)"/>
<rect x="31.0" y="353.0" width="237.0" height="1" fill="url(#d66)"/>
<rect x="31.0" y="354.0" width="237.0" height="1" fill="url(#d67)"/>
<rect x="31.0" y="355.0" width="237.0" height="1" fill="url(#d68)"/>
<rect x="31.0" y="356.0" width="237.0" height="1" fill="url(#d69)"/>
<rect x="31.0" y="357.0" width="237.0" height="1" fill="url(#d70)"/>
<rect x="31.0" y="358.0" width="237.0" height="1" fill="url(#d71)"/>
<rect x="31.0" y="359.0" width="237.0" height="1" fill="url(#d72)"/>
<rect x="31.0" y="360.0" width="237.0" height="1" fill="url(#d73)"/>
<rect x="31.0" y="361.0" width="237.0" height="1" fill="url(#d74)"/>
<rect x="31.0" y="362.0" width="237.0" height="1" fill="url(#d75)"/>
<rect x="31.0" y="363.0" width="237.0" height="1" fill="url(#d76)"/>
<rect x="31.0" y="364.0" width="237.0" height="1" fill="url(#d77)"/>
<rect x="31.0" y="365.0" width="237.0" height="1" fill="url(#d78)"/>
<rect x="31.0" y="366.0" width="237.0" height="1" fill="url(#d79)"/>
<rect x="31.0" y="367.0" width="237.0" height="1" fill="url(#d80)"/>
<rect x="31.0" y="368.0" width="237.0" height="1" fill="url(#d81)"/>
<rect x="31.0" y="369.0" width="237.0" height="1" fill="url(#d82)"/>
</g>
<polygon points="33,367.3 265,365 265,371 33,371" fill="#fff" />
<polyline points="33.4,298.01 34.7,294.97 36,292.67 37.07,290.73 38.13,289.94 39.2,288.45 40.6,288.31 42,289.01 43,289.94 44,291.83 45,292.88 46,294.35 47.17,293.12 48.33,291.96 49.5,289.59 50.6,289.7 51.7,290.14 52.8,290.49 53.9,290.08 55,289.89 56,290.82 57,290.1 58,291.29 59,290.97 60,291.11 61.08,291.33 62.15,291.79 63.22,292.6 64.3,292.15 65.53,292.52 66.77,292.52 68,292.16 69,292.59 70,292.29 71,292.52 72,292.18 73,292.2 74,291.42 75,290.8 76,290.59 77,289.95 78,289.28 79,290.2 80,290.47 81,290.34 82,291.08 83,292.83 84,295.01 85,296.65 86.14,296.31 87.28,297.21 88.42,296.4 89.56,296.87 90.7,297.38 91.84,294.88 92.98,293.41 94.12,291.07 95.26,289.93 96.4,288.19 97,286.58 98,286.91 99,286.3 100,286.71 101,286.6 102,286.59 103,286.45 104,286.87 105,286.99 106,286.47 107,286.68 108,286.02 109,286.72 110,286.66 111,287.04 112,286.85 113,286.26 114,286.37 115,286.69 116,285.97 117,286.46 118,286.13 119,286.08 120,286.01 121,286.8 121.6,287.49 122.75,288.27 123.9,289.08 125.05,290.26 126.2,290.04 127.35,291.09 128.5,291.85 129.51,291.97 130.52,291.64 131.53,291.43 132.54,290.53 133.56,290.43 134.57,290.11 135.58,290.43 136.59,290.26 137.6,289.12 138.8,288.69 140,288.31 141,288.34 142,288.66 143,288.81 144,288.49 145,288.24 146,288.74 147,288.72 148,288.97 149.02,290.26 150.04,290.83 151.06,291.5 152.08,292.47 153.1,293.39 154.26,293.15 155.42,294.52 156.58,294.83 157.74,295.37 158.9,295.73 160,294.33 161.1,293.39 162.55,294.76 164,297.05 165.16,297.44 166.32,298.46 167.48,299.64 168.64,300.61 169.8,301.82 170.82,300.91 171.84,300.25 172.86,299.82 173.88,299.16 174.9,298.85 175.9,298.03 176.9,298.51 177.9,297.78 178.9,296.81 179.9,296.48 180.9,296.13 181.9,295.7 182.9,294.99 184,296.73 185.1,297.84 186.2,296.46 187.3,295.68 188.4,294.44 189.5,293.66 190.6,293.13 191.7,292.24 192.7,293.3 193.7,293.01 194.7,293.3 195.7,294.76 196.7,294.73 197.8,295.21 198.9,296.55 200,296.88 201.1,298.33 202.26,300.73 203.42,302.5 204.58,304.22 205.74,305.64 206.9,307.65 208,309.08 209.1,311.4 210.2,312.79 211.3,314.71 212.4,315.86 213.5,317.4 214.52,316.92 215.54,315.99 216.56,314.73 217.58,313.56 218.6,312.45 219.68,310.19 220.75,307.45 221.82,305.59 222.9,303.24 224.13,302.42 225.37,301.95 226.6,301.76 227.76,299.84 228.92,298.41 230.08,296.8 231.24,294.34 232.4,292.98 233.5,292.66 234.6,292.25 235.7,291.23 236.8,290.69 237.8,290.28 238.8,289.83 239.8,289.41 240.8,289.46 241.8,289.34 242.87,288.14 243.93,286.61 245,285.67" fill="none" stroke="#fff" stroke-width="1.2" stroke-linejoin="round" />
</g>
<line x1="33" y1="341.8" x2="265" y2="341.8" stroke="#222" stroke-width="1.1" stroke-dasharray="4.5,3.2"/>
<text x="38" y="304.1" font-size="11" text-anchor="start" fill="#fff" font-weight="normal" stroke="#fff" stroke-width="0.18" >f<tspan font-size="8" dy="0.6">ci</tspan></text>
<text x="251" y="300.8" font-size="9.5" text-anchor="start" fill="#fff" font-weight="normal" stroke="#fff" stroke-width="0.16" >(d)</text>
<rect x="33" y="287.5" width="232" height="81.5" fill="none" stroke="#333" stroke-width="1"/>
<line x1="265" y1="303.8" x2="267" y2="303.8" stroke="#333" stroke-width="0.8" />
<line x1="265" y1="320.1" x2="267" y2="320.1" stroke="#333" stroke-width="0.8" />
<line x1="265" y1="336.7" x2="267" y2="336.7" stroke="#333" stroke-width="0.8" />
<line x1="265" y1="353" x2="267" y2="353" stroke="#333" stroke-width="0.8" />
<line x1="30" y1="303.7" x2="33" y2="303.7" stroke="#333" stroke-width="0.8" />
<line x1="30" y1="319.9" x2="33" y2="319.9" stroke="#333" stroke-width="0.8" />
<line x1="30" y1="336.8" x2="33" y2="336.8" stroke="#333" stroke-width="0.8" />
<line x1="30" y1="353.1" x2="33" y2="353.1" stroke="#333" stroke-width="0.8" />
<line x1="30" y1="369.4" x2="33" y2="369.4" stroke="#333" stroke-width="0.8" />
<line x1="90" y1="369" x2="90" y2="371.5" stroke="#333" stroke-width="0.8" />
<line x1="148" y1="369" x2="148" y2="371.5" stroke="#333" stroke-width="0.8" />
<line x1="206" y1="369" x2="206" y2="371.5" stroke="#333" stroke-width="0.8" />
<text x="29" y="308.5" font-size="9.5" text-anchor="end" fill="#111" font-weight="normal" stroke="#111" stroke-width="0.16" >0.2</text>
<text x="29" y="340.6" font-size="9.5" text-anchor="end" fill="#111" font-weight="normal" stroke="#111" stroke-width="0.16" >0.1</text>
<text x="29" y="372.2" font-size="9.5" text-anchor="end" fill="#111" font-weight="normal" stroke="#111" stroke-width="0.16" >0</text>
<text x="4.8" y="333" font-size="9.5" text-anchor="middle" fill="#111" font-weight="normal" stroke="#111" stroke-width="0.16" transform="rotate(-90 4.8 333.0)" dy="3.3">f (Hz)</text>
<text x="75.2" y="381.7" font-size="7.7" text-anchor="start" fill="#111" font-weight="normal" stroke="#111" stroke-width="0.13" textLength="30.2" lengthAdjust="spacingAndGlyphs">12:38:30</text>
<text x="133.2" y="381.7" font-size="7.7" text-anchor="start" fill="#111" font-weight="normal" stroke="#111" stroke-width="0.13" textLength="30.2" lengthAdjust="spacingAndGlyphs">12:38:45</text>
<text x="191.2" y="381.7" font-size="7.7" text-anchor="start" fill="#111" font-weight="normal" stroke="#111" stroke-width="0.13" textLength="30.2" lengthAdjust="spacingAndGlyphs">12:39:00</text>
<clipPath id="cle"><rect x="323.8" y="12.4" width="190" height="47.300000000000004"/></clipPath>
<g clip-path="url(#cle)">
<polyline points="323.4,44.08 323.97,44.2 324.55,44.5 325.12,44.79 325.7,44.91 326.2,44.88 326.7,44.78 327.2,44.6 327.7,44.36 328.2,44.06 328.7,43.69 329.2,43.26 329.7,42.77 330.2,42.23 330.7,41.64 331.2,41 331.7,40.32 332.2,39.6 332.7,38.86 333.2,38.08 333.7,37.29 334.2,36.48 334.7,35.66 335.2,34.85 335.7,34.03 336.2,33.22 336.7,32.43 337.2,31.65 337.7,30.91 338.2,30.19 338.7,29.51 339.2,28.87 339.7,28.28 340.2,27.74 340.7,27.25 341.2,26.82 341.7,26.45 342.2,26.15 342.7,25.91 343.2,25.73 343.7,25.63 344.2,25.59 344.7,25.64 345.21,25.78 345.71,26.01 346.21,26.33 346.71,26.74 347.22,27.23 347.72,27.8 348.22,28.44 348.72,29.16 349.23,29.95 349.73,30.79 350.23,31.68 350.74,32.63 351.24,33.61 351.74,34.62 352.24,35.66 352.75,36.71 353.25,37.77 353.75,38.84 354.26,39.89 354.76,40.93 355.26,41.94 355.76,42.92 356.27,43.87 356.77,44.76 357.27,45.6 357.78,46.39 358.28,47.11 358.78,47.75 359.28,48.32 359.79,48.81 360.29,49.22 360.79,49.54 361.29,49.77 361.8,49.91 362.3,49.95 362.81,49.9 363.31,49.73 363.82,49.46 364.32,49.08 364.83,48.59 365.33,48.01 365.84,47.33 366.34,46.55 366.85,45.7 367.36,44.76 367.86,43.75 368.37,42.68 368.87,41.56 369.38,40.39 369.88,39.18 370.39,37.94 370.89,36.68 371.4,35.41 371.91,34.15 372.41,32.89 372.92,31.65 373.42,30.44 373.93,29.27 374.43,28.14 374.94,27.07 375.44,26.06 375.95,25.13 376.46,24.27 376.96,23.5 377.47,22.82 377.97,22.23 378.48,21.75 378.98,21.37 379.49,21.09 379.99,20.93 380.5,20.87 381,20.94 381.5,21.13 382,21.46 382.5,21.91 383,22.48 383.5,23.17 384,23.98 384.5,24.89 385,25.9 385.5,27 386,28.18 386.5,29.43 387,30.75 387.5,32.12 388,33.52 388.5,34.96 389,36.41 389.5,37.88 390,39.33 390.5,40.77 391,42.17 391.5,43.54 392,44.86 392.5,46.11 393,47.29 393.5,48.39 394,49.4 394.5,50.31 395,51.12 395.5,51.81 396,52.38 396.5,52.83 397,53.16 397.5,53.35 398,53.42 398.51,53.35 399.01,53.12 399.52,52.75 400.02,52.24 400.53,51.59 401.04,50.8 401.54,49.89 402.05,48.86 402.55,47.72 403.06,46.47 403.56,45.14 404.07,43.73 404.58,42.25 405.08,40.72 405.59,39.15 406.09,37.55 406.6,35.94 407.11,34.32 407.61,32.73 408.12,31.15 408.62,29.62 409.13,28.14 409.64,26.73 410.14,25.4 410.65,24.16 411.15,23.02 411.66,21.99 412.16,21.07 412.67,20.29 413.18,19.64 413.68,19.12 414.19,18.75 414.69,18.53 415.2,18.45 415.71,18.52 416.21,18.71 416.72,19.04 417.22,19.49 417.73,20.06 418.23,20.75 418.74,21.55 419.24,22.46 419.75,23.48 420.25,24.58 420.76,25.78 421.26,27.05 421.77,28.38 422.28,29.78 422.78,31.23 423.29,32.71 423.79,34.22 424.3,35.75 424.8,37.28 425.31,38.81 425.81,40.32 426.32,41.8 426.82,43.25 427.33,44.65 427.84,45.98 428.34,47.25 428.85,48.45 429.35,49.55 429.86,50.57 430.36,51.48 430.87,52.28 431.37,52.97 431.88,53.54 432.38,53.99 432.89,54.32 433.39,54.51 433.9,54.58 434.4,54.51 434.91,54.31 435.41,53.97 435.91,53.5 436.41,52.91 436.92,52.2 437.42,51.37 437.92,50.42 438.43,49.38 438.93,48.24 439.43,47.01 439.93,45.7 440.44,44.33 440.94,42.9 441.44,41.42 441.94,39.91 442.45,38.38 442.95,36.83 443.45,35.28 443.96,33.75 444.46,32.24 444.96,30.76 445.46,29.33 445.97,27.96 446.47,26.65 446.97,25.42 447.47,24.28 447.98,23.24 448.48,22.29 448.98,21.46 449.49,20.75 449.99,20.16 450.49,19.69 450.99,19.35 451.5,19.15 452,19.08 452.5,19.15 453.01,19.34 453.51,19.65 454.01,20.08 454.51,20.63 455.02,21.3 455.52,22.07 456.02,22.95 456.53,23.92 457.03,24.98 457.53,26.11 458.03,27.32 458.54,28.58 459.04,29.9 459.54,31.25 460.05,32.63 460.55,34.03 461.05,35.43 461.55,36.83 462.06,38.21 462.56,39.56 463.06,40.88 463.57,42.14 464.07,43.35 464.57,44.48 465.07,45.54 465.58,46.51 466.08,47.39 466.58,48.16 467.09,48.83 467.59,49.38 468.09,49.81 468.59,50.12 469.1,50.31 469.6,50.38 470.11,50.33 470.62,50.19 471.13,49.96 471.65,49.65 472.16,49.24 472.67,48.75 473.18,48.19 473.69,47.55 474.2,46.84 474.71,46.07 475.23,45.24 475.74,44.35 476.25,43.43 476.76,42.47 477.27,41.48 477.78,40.47 478.29,39.44 478.81,38.42 479.32,37.39 479.83,36.38 480.34,35.39 480.85,34.43 481.36,33.51 481.87,32.62 482.39,31.79 482.9,31.02 483.41,30.31 483.92,29.67 484.43,29.11 484.94,28.62 485.45,28.21 485.97,27.9 486.48,27.67 486.99,27.53 487.5,27.48 488.01,27.52 488.51,27.62 489.02,27.79 489.53,28.03 490.03,28.32 490.54,28.68 491.05,29.09 491.55,29.55 492.06,30.06 492.57,30.61 493.07,31.19 493.58,31.8 494.09,32.43 494.59,33.08 495.1,33.73 495.61,34.39 496.11,35.03 496.62,35.66 497.13,36.27 497.63,36.86 498.14,37.4 498.65,37.91 499.15,38.38 499.66,38.79 500.17,39.14 500.67,39.44 501.18,39.67 501.69,39.84 502.19,39.95 502.7,39.98 503.2,39.97 503.7,39.92 504.2,39.86 504.7,39.76 505.2,39.64 505.7,39.5 506.2,39.33 506.7,39.15 507.2,38.94 507.7,38.72 508.2,38.48 508.7,38.24 509.2,37.98 509.7,37.72 510.2,37.46 510.7,37.2 511.2,36.94 511.7,36.68 512.2,36.44 512.7,36.2 513.2,35.98 513.7,35.77 514.2,35.59 514.7,35.42 515.2,35.28 515.7,35.16 516.2,35.06 516.7,35 517.2,34.95 517.7,34.94" fill="none" stroke="#ff0000" stroke-width="1.4" stroke-linejoin="round" />
<polyline points="324.3,43.7 324.88,43.82 325.45,44.1 326.03,44.38 326.6,44.5 327.1,44.47 327.6,44.37 328.1,44.2 328.6,43.97 329.1,43.68 329.6,43.33 330.1,42.92 330.6,42.46 331.1,41.94 331.6,41.38 332.1,40.77 332.6,40.12 333.1,39.44 333.6,38.73 334.1,37.99 334.6,37.24 335.1,36.47 335.6,35.69 336.1,34.91 336.6,34.13 337.1,33.36 337.6,32.61 338.1,31.87 338.6,31.16 339.1,30.48 339.6,29.83 340.1,29.22 340.6,28.66 341.1,28.14 341.6,27.68 342.1,27.27 342.6,26.92 343.1,26.63 343.6,26.4 344.1,26.23 344.6,26.13 345.1,26.1 345.6,26.14 346.11,26.28 346.61,26.5 347.11,26.8 347.61,27.19 348.12,27.65 348.62,28.2 349.12,28.81 349.62,29.5 350.13,30.24 350.63,31.05 351.13,31.9 351.64,32.8 352.14,33.73 352.64,34.7 353.14,35.69 353.65,36.69 354.15,37.7 354.65,38.71 355.16,39.71 355.66,40.7 356.16,41.67 356.66,42.6 357.17,43.5 357.67,44.35 358.17,45.16 358.68,45.9 359.18,46.59 359.68,47.2 360.18,47.75 360.69,48.21 361.19,48.6 361.69,48.9 362.19,49.12 362.7,49.26 363.2,49.3 363.71,49.25 364.21,49.09 364.72,48.83 365.22,48.46 365.73,48 366.23,47.44 366.74,46.8 367.24,46.06 367.75,45.24 368.26,44.35 368.76,43.39 369.27,42.38 369.77,41.3 370.28,40.19 370.78,39.03 371.29,37.86 371.79,36.66 372.3,35.45 372.81,34.24 373.31,33.04 373.82,31.87 374.32,30.71 374.83,29.6 375.33,28.53 375.84,27.51 376.34,26.55 376.85,25.66 377.36,24.84 377.86,24.1 378.37,23.46 378.87,22.9 379.38,22.44 379.88,22.07 380.39,21.81 380.89,21.65 381.4,21.6 381.9,21.66 382.4,21.85 382.9,22.16 383.4,22.59 383.9,23.13 384.4,23.79 384.9,24.56 385.4,25.43 385.9,26.39 386.4,27.44 386.9,28.56 387.4,29.76 387.9,31.01 388.4,32.31 388.9,33.65 389.4,35.02 389.9,36.4 390.4,37.8 390.9,39.18 391.4,40.55 391.9,41.89 392.4,43.19 392.9,44.44 393.4,45.64 393.9,46.76 394.4,47.81 394.9,48.77 395.4,49.64 395.9,50.41 396.4,51.07 396.9,51.61 397.4,52.04 397.9,52.35 398.4,52.54 398.9,52.6 399.41,52.53 399.91,52.32 400.42,51.96 400.92,51.48 401.43,50.85 401.94,50.11 402.44,49.24 402.95,48.25 403.45,47.17 403.96,45.98 404.46,44.72 404.97,43.37 405.48,41.96 405.98,40.51 406.49,39.01 406.99,37.49 407.5,35.95 408.01,34.41 408.51,32.89 409.02,31.39 409.52,29.94 410.03,28.53 410.54,27.18 411.04,25.92 411.55,24.73 412.05,23.65 412.56,22.66 413.06,21.79 413.57,21.05 414.08,20.42 414.58,19.94 415.09,19.58 415.59,19.37 416.1,19.3 416.61,19.36 417.11,19.55 417.62,19.85 418.12,20.28 418.63,20.83 419.13,21.48 419.64,22.25 420.14,23.12 420.65,24.08 421.15,25.14 421.66,26.27 422.16,27.48 422.67,28.76 423.18,30.09 423.68,31.46 424.19,32.88 424.69,34.32 425.2,35.77 425.7,37.23 426.21,38.68 426.71,40.12 427.22,41.54 427.72,42.91 428.23,44.24 428.74,45.52 429.24,46.73 429.75,47.86 430.25,48.92 430.76,49.88 431.26,50.75 431.77,51.52 432.27,52.17 432.78,52.72 433.28,53.15 433.79,53.45 434.29,53.64 434.8,53.7 435.3,53.64 435.81,53.44 436.31,53.12 436.81,52.68 437.31,52.12 437.82,51.44 438.32,50.64 438.82,49.75 439.33,48.75 439.83,47.66 440.33,46.49 440.83,45.25 441.34,43.94 441.84,42.58 442.34,41.17 442.84,39.73 443.35,38.27 443.85,36.8 444.35,35.33 444.86,33.87 445.36,32.43 445.86,31.02 446.36,29.66 446.87,28.35 447.37,27.11 447.87,25.94 448.38,24.85 448.88,23.85 449.38,22.96 449.88,22.16 450.39,21.48 450.89,20.92 451.39,20.48 451.89,20.16 452.4,19.96 452.9,19.9 453.4,19.96 453.91,20.14 454.41,20.44 454.91,20.85 455.41,21.38 455.92,22.01 456.42,22.75 456.92,23.58 457.43,24.5 457.93,25.51 458.43,26.59 458.93,27.74 459.44,28.94 459.94,30.2 460.44,31.48 460.95,32.8 461.45,34.13 461.95,35.47 462.45,36.8 462.96,38.12 463.46,39.4 463.96,40.66 464.47,41.86 464.97,43.01 465.47,44.09 465.97,45.1 466.48,46.02 466.98,46.85 467.48,47.59 467.99,48.22 468.49,48.75 468.99,49.16 469.49,49.46 470,49.64 470.5,49.7 471.01,49.66 471.52,49.52 472.03,49.31 472.55,49 473.06,48.62 473.57,48.16 474.08,47.62 474.59,47.01 475.1,46.33 475.61,45.6 476.13,44.8 476.64,43.97 477.15,43.08 477.66,42.17 478.17,41.23 478.68,40.26 479.19,39.29 479.71,38.31 480.22,37.34 480.73,36.37 481.24,35.43 481.75,34.52 482.26,33.63 482.77,32.8 483.29,32 483.8,31.27 484.31,30.59 484.82,29.98 485.33,29.44 485.84,28.98 486.35,28.6 486.87,28.29 487.38,28.08 487.89,27.94 488.4,27.9 488.91,27.93 489.41,28.03 489.92,28.19 490.43,28.41 490.93,28.7 491.44,29.04 491.95,29.43 492.45,29.87 492.96,30.35 493.47,30.87 493.97,31.43 494.48,32.01 494.99,32.61 495.49,33.23 496,33.85 496.51,34.47 497.01,35.09 497.52,35.69 498.03,36.27 498.53,36.82 499.04,37.35 499.55,37.83 500.05,38.27 500.56,38.66 501.07,39 501.57,39.29 502.08,39.51 502.59,39.67 503.09,39.77 503.6,39.8 504.1,39.79 504.6,39.75 505.1,39.68 505.6,39.59 506.1,39.48 506.6,39.34 507.1,39.18 507.6,39.01 508.1,38.81 508.6,38.6 509.1,38.38 509.6,38.14 510.1,37.9 510.6,37.65 511.1,37.4 511.6,37.15 512.1,36.9 512.6,36.66 513.1,36.42 513.6,36.2 514.1,35.99 514.6,35.79 515.1,35.62 515.6,35.46 516.1,35.32 516.6,35.21 517.1,35.12 517.6,35.05 518.1,35.01 518.6,35" fill="none" stroke="#000" stroke-width="1.4" stroke-linejoin="round" />
<polyline points="324,43.7 324.57,43.82 325.15,44.1 325.73,44.38 326.3,44.5 326.8,44.47 327.3,44.37 327.8,44.2 328.3,43.97 328.8,43.68 329.3,43.33 329.8,42.92 330.3,42.46 330.8,41.94 331.3,41.38 331.8,40.77 332.3,40.12 332.8,39.44 333.3,38.73 333.8,37.99 334.3,37.24 334.8,36.47 335.3,35.69 335.8,34.91 336.3,34.13 336.8,33.36 337.3,32.61 337.8,31.87 338.3,31.16 338.8,30.48 339.3,29.83 339.8,29.22 340.3,28.66 340.8,28.14 341.3,27.68 341.8,27.27 342.3,26.92 342.8,26.63 343.3,26.4 343.8,26.23 344.3,26.13 344.8,26.1 345.3,26.14 345.81,26.28 346.31,26.5 346.81,26.8 347.31,27.19 347.82,27.65 348.32,28.2 348.82,28.81 349.32,29.5 349.83,30.24 350.33,31.05 350.83,31.9 351.34,32.8 351.84,33.73 352.34,34.7 352.84,35.69 353.35,36.69 353.85,37.7 354.35,38.71 354.86,39.71 355.36,40.7 355.86,41.67 356.36,42.6 356.87,43.5 357.37,44.35 357.87,45.16 358.38,45.9 358.88,46.59 359.38,47.2 359.88,47.75 360.39,48.21 360.89,48.6 361.39,48.9 361.89,49.12 362.4,49.26 362.9,49.3 363.41,49.25 363.91,49.09 364.42,48.83 364.92,48.46 365.43,48 365.93,47.44 366.44,46.8 366.94,46.06 367.45,45.24 367.96,44.35 368.46,43.39 368.97,42.38 369.47,41.3 369.98,40.19 370.48,39.03 370.99,37.86 371.49,36.66 372,35.45 372.51,34.24 373.01,33.04 373.52,31.87 374.02,30.71 374.53,29.6 375.03,28.53 375.54,27.51 376.04,26.55 376.55,25.66 377.06,24.84 377.56,24.1 378.07,23.46 378.57,22.9 379.08,22.44 379.58,22.07 380.09,21.81 380.59,21.65 381.1,21.6 381.6,21.66 382.1,21.85 382.6,22.16 383.1,22.59 383.6,23.13 384.1,23.79 384.6,24.56 385.1,25.43 385.6,26.39 386.1,27.44 386.6,28.56 387.1,29.76 387.6,31.01 388.1,32.31 388.6,33.65 389.1,35.02 389.6,36.4 390.1,37.8 390.6,39.18 391.1,40.55 391.6,41.89 392.1,43.19 392.6,44.44 393.1,45.64 393.6,46.76 394.1,47.81 394.6,48.77 395.1,49.64 395.6,50.41 396.1,51.07 396.6,51.61 397.1,52.04 397.6,52.35 398.1,52.54 398.6,52.6 399.11,52.53 399.61,52.32 400.12,51.96 400.62,51.48 401.13,50.85 401.64,50.11 402.14,49.24 402.65,48.25 403.15,47.17 403.66,45.98 404.16,44.72 404.67,43.37 405.18,41.96 405.68,40.51 406.19,39.01 406.69,37.49 407.2,35.95 407.71,34.41 408.21,32.89 408.72,31.39 409.22,29.94 409.73,28.53 410.24,27.18 410.74,25.92 411.25,24.73 411.75,23.65 412.26,22.66 412.76,21.79 413.27,21.05 413.78,20.42 414.28,19.94 414.79,19.58 415.29,19.37 415.8,19.3 416.31,19.36 416.81,19.55 417.32,19.85 417.82,20.28 418.33,20.83 418.83,21.48 419.34,22.25 419.84,23.12 420.35,24.08 420.85,25.14 421.36,26.27 421.86,27.48 422.37,28.76 422.88,30.09 423.38,31.46 423.89,32.88 424.39,34.32 424.9,35.77 425.4,37.23 425.91,38.68 426.41,40.12 426.92,41.54 427.42,42.91 427.93,44.24 428.44,45.52 428.94,46.73 429.45,47.86 429.95,48.92 430.46,49.88 430.96,50.75 431.47,51.52 431.97,52.17 432.48,52.72 432.98,53.15 433.49,53.45 433.99,53.64 434.5,53.7 435,53.64 435.51,53.44 436.01,53.12 436.51,52.68 437.01,52.12 437.52,51.44 438.02,50.64 438.52,49.75 439.03,48.75 439.53,47.66 440.03,46.49 440.53,45.25 441.04,43.94 441.54,42.58 442.04,41.17 442.54,39.73 443.05,38.27 443.55,36.8 444.05,35.33 444.56,33.87 445.06,32.43 445.56,31.02 446.06,29.66 446.57,28.35 447.07,27.11 447.57,25.94 448.07,24.85 448.58,23.85 449.08,22.96 449.58,22.16 450.09,21.48 450.59,20.92 451.09,20.48 451.59,20.16 452.1,19.96 452.6,19.9 453.1,19.96 453.61,20.14 454.11,20.44 454.61,20.85 455.11,21.38 455.62,22.01 456.12,22.75 456.62,23.58 457.13,24.5 457.63,25.51 458.13,26.59 458.63,27.74 459.14,28.94 459.64,30.2 460.14,31.48 460.65,32.8 461.15,34.13 461.65,35.47 462.15,36.8 462.66,38.12 463.16,39.4 463.66,40.66 464.17,41.86 464.67,43.01 465.17,44.09 465.67,45.1 466.18,46.02 466.68,46.85 467.18,47.59 467.69,48.22 468.19,48.75 468.69,49.16 469.19,49.46 469.7,49.64 470.2,49.7 470.71,49.66 471.22,49.52 471.73,49.31 472.25,49 472.76,48.62 473.27,48.16 473.78,47.62 474.29,47.01 474.8,46.33 475.31,45.6 475.83,44.8 476.34,43.97 476.85,43.08 477.36,42.17 477.87,41.23 478.38,40.26 478.89,39.29 479.41,38.31 479.92,37.34 480.43,36.37 480.94,35.43 481.45,34.52 481.96,33.63 482.47,32.8 482.99,32 483.5,31.27 484.01,30.59 484.52,29.98 485.03,29.44 485.54,28.98 486.05,28.6 486.57,28.29 487.08,28.08 487.59,27.94 488.1,27.9 488.61,27.93 489.11,28.03 489.62,28.19 490.13,28.41 490.63,28.7 491.14,29.04 491.65,29.43 492.15,29.87 492.66,30.35 493.17,30.87 493.67,31.43 494.18,32.01 494.69,32.61 495.19,33.23 495.7,33.85 496.21,34.47 496.71,35.09 497.22,35.69 497.73,36.27 498.23,36.82 498.74,37.35 499.25,37.83 499.75,38.27 500.26,38.66 500.77,39 501.27,39.29 501.78,39.51 502.29,39.67 502.79,39.77 503.3,39.8 503.8,39.79 504.3,39.75 504.8,39.68 505.3,39.59 505.8,39.48 506.3,39.34 506.8,39.18 507.3,39.01 507.8,38.81 508.3,38.6 508.8,38.38 509.3,38.14 509.8,37.9 510.3,37.65 510.8,37.4 511.3,37.15 511.8,36.9 512.3,36.66 512.8,36.42 513.3,36.2 513.8,35.99 514.3,35.79 514.8,35.62 515.3,35.46 515.8,35.32 516.3,35.21 516.8,35.12 517.3,35.05 517.8,35.01 518.3,35" fill="none" stroke="#00e000" stroke-width="1.0" stroke-linejoin="round" />
<polyline points="323.7,43.7 324.27,43.82 324.85,44.1 325.43,44.38 326,44.5 326.5,44.47 327,44.37 327.5,44.2 328,43.97 328.5,43.68 329,43.33 329.5,42.92 330,42.46 330.5,41.94 331,41.38 331.5,40.77 332,40.12 332.5,39.44 333,38.73 333.5,37.99 334,37.24 334.5,36.47 335,35.69 335.5,34.91 336,34.13 336.5,33.36 337,32.61 337.5,31.87 338,31.16 338.5,30.48 339,29.83 339.5,29.22 340,28.66 340.5,28.14 341,27.68 341.5,27.27 342,26.92 342.5,26.63 343,26.4 343.5,26.23 344,26.13 344.5,26.1 345,26.14 345.51,26.28 346.01,26.5 346.51,26.8 347.01,27.19 347.52,27.65 348.02,28.2 348.52,28.81 349.02,29.5 349.53,30.24 350.03,31.05 350.53,31.9 351.04,32.8 351.54,33.73 352.04,34.7 352.54,35.69 353.05,36.69 353.55,37.7 354.05,38.71 354.56,39.71 355.06,40.7 355.56,41.67 356.06,42.6 356.57,43.5 357.07,44.35 357.57,45.16 358.08,45.9 358.58,46.59 359.08,47.2 359.58,47.75 360.09,48.21 360.59,48.6 361.09,48.9 361.59,49.12 362.1,49.26 362.6,49.3 363.11,49.25 363.61,49.09 364.12,48.83 364.62,48.46 365.13,48 365.63,47.44 366.14,46.8 366.64,46.06 367.15,45.24 367.66,44.35 368.16,43.39 368.67,42.38 369.17,41.3 369.68,40.19 370.18,39.03 370.69,37.86 371.19,36.66 371.7,35.45 372.21,34.24 372.71,33.04 373.22,31.87 373.72,30.71 374.23,29.6 374.73,28.53 375.24,27.51 375.74,26.55 376.25,25.66 376.76,24.84 377.26,24.1 377.77,23.46 378.27,22.9 378.78,22.44 379.28,22.07 379.79,21.81 380.29,21.65 380.8,21.6 381.3,21.66 381.8,21.85 382.3,22.16 382.8,22.59 383.3,23.13 383.8,23.79 384.3,24.56 384.8,25.43 385.3,26.39 385.8,27.44 386.3,28.56 386.8,29.76 387.3,31.01 387.8,32.31 388.3,33.65 388.8,35.02 389.3,36.4 389.8,37.8 390.3,39.18 390.8,40.55 391.3,41.89 391.8,43.19 392.3,44.44 392.8,45.64 393.3,46.76 393.8,47.81 394.3,48.77 394.8,49.64 395.3,50.41 395.8,51.07 396.3,51.61 396.8,52.04 397.3,52.35 397.8,52.54 398.3,52.6 398.81,52.53 399.31,52.32 399.82,51.96 400.32,51.48 400.83,50.85 401.34,50.11 401.84,49.24 402.35,48.25 402.85,47.17 403.36,45.98 403.86,44.72 404.37,43.37 404.88,41.96 405.38,40.51 405.89,39.01 406.39,37.49 406.9,35.95 407.41,34.41 407.91,32.89 408.42,31.39 408.92,29.94 409.43,28.53 409.94,27.18 410.44,25.92 410.95,24.73 411.45,23.65 411.96,22.66 412.46,21.79 412.97,21.05 413.48,20.42 413.98,19.94 414.49,19.58 414.99,19.37 415.5,19.3 416.01,19.36 416.51,19.55 417.02,19.85 417.52,20.28 418.03,20.83 418.53,21.48 419.04,22.25 419.54,23.12 420.05,24.08 420.55,25.14 421.06,26.27 421.56,27.48 422.07,28.76 422.58,30.09 423.08,31.46 423.59,32.88 424.09,34.32 424.6,35.77 425.1,37.23 425.61,38.68 426.11,40.12 426.62,41.54 427.12,42.91 427.63,44.24 428.14,45.52 428.64,46.73 429.15,47.86 429.65,48.92 430.16,49.88 430.66,50.75 431.17,51.52 431.67,52.17 432.18,52.72 432.68,53.15 433.19,53.45 433.69,53.64 434.2,53.7 434.7,53.64 435.21,53.44 435.71,53.12 436.21,52.68 436.71,52.12 437.22,51.44 437.72,50.64 438.22,49.75 438.73,48.75 439.23,47.66 439.73,46.49 440.23,45.25 440.74,43.94 441.24,42.58 441.74,41.17 442.24,39.73 442.75,38.27 443.25,36.8 443.75,35.33 444.26,33.87 444.76,32.43 445.26,31.02 445.76,29.66 446.27,28.35 446.77,27.11 447.27,25.94 447.77,24.85 448.28,23.85 448.78,22.96 449.28,22.16 449.79,21.48 450.29,20.92 450.79,20.48 451.29,20.16 451.8,19.96 452.3,19.9 452.8,19.96 453.31,20.14 453.81,20.44 454.31,20.85 454.81,21.38 455.32,22.01 455.82,22.75 456.32,23.58 456.83,24.5 457.33,25.51 457.83,26.59 458.33,27.74 458.84,28.94 459.34,30.2 459.84,31.48 460.35,32.8 460.85,34.13 461.35,35.47 461.85,36.8 462.36,38.12 462.86,39.4 463.36,40.66 463.87,41.86 464.37,43.01 464.87,44.09 465.37,45.1 465.88,46.02 466.38,46.85 466.88,47.59 467.39,48.22 467.89,48.75 468.39,49.16 468.89,49.46 469.4,49.64 469.9,49.7 470.41,49.66 470.92,49.52 471.43,49.31 471.95,49 472.46,48.62 472.97,48.16 473.48,47.62 473.99,47.01 474.5,46.33 475.01,45.6 475.53,44.8 476.04,43.97 476.55,43.08 477.06,42.17 477.57,41.23 478.08,40.26 478.59,39.29 479.11,38.31 479.62,37.34 480.13,36.37 480.64,35.43 481.15,34.52 481.66,33.63 482.17,32.8 482.69,32 483.2,31.27 483.71,30.59 484.22,29.98 484.73,29.44 485.24,28.98 485.75,28.6 486.27,28.29 486.78,28.08 487.29,27.94 487.8,27.9 488.31,27.93 488.81,28.03 489.32,28.19 489.83,28.41 490.33,28.7 490.84,29.04 491.35,29.43 491.85,29.87 492.36,30.35 492.87,30.87 493.37,31.43 493.88,32.01 494.39,32.61 494.89,33.23 495.4,33.85 495.91,34.47 496.41,35.09 496.92,35.69 497.43,36.27 497.93,36.82 498.44,37.35 498.95,37.83 499.45,38.27 499.96,38.66 500.47,39 500.97,39.29 501.48,39.51 501.99,39.67 502.49,39.77 503,39.8 503.5,39.79 504,39.75 504.5,39.68 505,39.59 505.5,39.48 506,39.34 506.5,39.18 507,39.01 507.5,38.81 508,38.6 508.5,38.38 509,38.14 509.5,37.9 510,37.65 510.5,37.4 511,37.15 511.5,36.9 512,36.66 512.5,36.42 513,36.2 513.5,35.99 514,35.79 514.5,35.62 515,35.46 515.5,35.32 516,35.21 516.5,35.12 517,35.05 517.5,35.01 518,35" fill="none" stroke="#0000ff" stroke-width="1.1" stroke-linejoin="round" />
</g>
<clipPath id="clf"><rect x="323.8" y="72.3" width="190" height="46.60000000000001"/></clipPath>
<g clip-path="url(#clf)">
<polyline points="323.4,103.47 323.97,103.6 324.55,103.89 325.12,104.19 325.7,104.32 326.2,104.28 326.7,104.18 327.2,104 327.7,103.76 328.2,103.46 328.7,103.09 329.2,102.66 329.7,102.17 330.2,101.63 330.7,101.04 331.2,100.4 331.7,99.72 332.2,99 332.7,98.26 333.2,97.48 333.7,96.69 334.2,95.88 334.7,95.06 335.2,94.25 335.7,93.43 336.2,92.62 336.7,91.83 337.2,91.05 337.7,90.31 338.2,89.59 338.7,88.91 339.2,88.27 339.7,87.68 340.2,87.14 340.7,86.65 341.2,86.22 341.7,85.85 342.2,85.55 342.7,85.31 343.2,85.13 343.7,85.03 344.2,85 344.7,85.04 345.21,85.18 345.71,85.41 346.21,85.73 346.71,86.14 347.22,86.63 347.72,87.2 348.22,87.84 348.72,88.56 349.23,89.35 349.73,90.19 350.23,91.08 350.74,92.03 351.24,93.01 351.74,94.02 352.24,95.06 352.75,96.11 353.25,97.17 353.75,98.24 354.26,99.29 354.76,100.33 355.26,101.34 355.76,102.32 356.27,103.27 356.77,104.16 357.27,105 357.78,105.79 358.28,106.51 358.78,107.15 359.28,107.72 359.79,108.21 360.29,108.62 360.79,108.94 361.29,109.17 361.8,109.31 362.3,109.36 362.81,109.3 363.31,109.13 363.82,108.86 364.32,108.48 364.83,107.99 365.33,107.41 365.84,106.73 366.34,105.95 366.85,105.1 367.36,104.16 367.86,103.15 368.37,102.08 368.87,100.96 369.38,99.79 369.88,98.58 370.39,97.34 370.89,96.08 371.4,94.81 371.91,93.55 372.41,92.29 372.92,91.05 373.42,89.84 373.93,88.67 374.43,87.54 374.94,86.47 375.44,85.46 375.95,84.53 376.46,83.67 376.96,82.9 377.47,82.22 377.97,81.63 378.48,81.15 378.98,80.77 379.49,80.49 379.99,80.33 380.5,80.27 381,80.34 381.5,80.53 382,80.86 382.5,81.31 383,81.88 383.5,82.57 384,83.38 384.5,84.29 385,85.3 385.5,86.4 386,87.58 386.5,88.83 387,90.15 387.5,91.52 388,92.92 388.5,94.36 389,95.81 389.5,97.28 390,98.73 390.5,100.17 391,101.57 391.5,102.94 392,104.26 392.5,105.51 393,106.69 393.5,107.79 394,108.8 394.5,109.71 395,110.52 395.5,111.21 396,111.78 396.5,112.23 397,112.56 397.5,112.75 398,112.82 398.51,112.74 399.01,112.5 399.52,112.11 400.02,111.56 400.53,110.87 401.04,110.04 401.54,109.07 402.05,107.98 402.55,106.77 403.06,105.46 403.57,104.05 404.07,102.57 404.58,101.02 405.08,99.42 405.59,97.78 406.1,96.12 406.6,94.45 407.11,92.79 407.62,91.15 408.12,89.55 408.63,88 409.13,86.52 409.64,85.11 410.15,83.8 410.65,82.59 411.16,81.5 411.66,80.53 412.17,79.7 412.68,79.01 413.18,78.46 413.69,78.07 414.19,77.83 414.7,77.75 415.2,77.81 415.71,78 416.21,78.31 416.71,78.75 417.21,79.3 417.72,79.97 418.22,80.75 418.72,81.64 419.22,82.62 419.73,83.7 420.23,84.86 420.73,86.1 421.23,87.41 421.74,88.78 422.24,90.19 422.74,91.65 423.24,93.14 423.75,94.66 424.25,96.18 424.75,97.7 425.26,99.21 425.76,100.7 426.26,102.16 426.76,103.58 427.27,104.95 427.77,106.26 428.27,107.5 428.77,108.66 429.28,109.74 429.78,110.72 430.28,111.6 430.78,112.38 431.29,113.05 431.79,113.61 432.29,114.04 432.79,114.35 433.3,114.54 433.8,114.61 434.3,114.53 434.8,114.31 435.3,113.95 435.8,113.45 436.3,112.81 436.8,112.03 437.3,111.14 437.8,110.12 438.3,108.99 438.8,107.77 439.3,106.45 439.8,105.05 440.3,103.58 440.8,102.05 441.3,100.48 441.8,98.88 442.3,97.25 442.8,95.63 443.3,94 443.8,92.4 444.3,90.83 444.8,89.3 445.3,87.83 445.8,86.43 446.3,85.11 446.8,83.89 447.3,82.76 447.8,81.74 448.3,80.85 448.8,80.07 449.3,79.43 449.8,78.93 450.3,78.57 450.8,78.35 451.3,78.27 451.81,78.33 452.32,78.5 452.82,78.78 453.33,79.18 453.84,79.68 454.35,80.28 454.86,80.98 455.36,81.78 455.87,82.67 456.38,83.64 456.89,84.68 457.4,85.79 457.91,86.96 458.41,88.19 458.92,89.45 459.43,90.75 459.94,92.07 460.45,93.41 460.95,94.75 461.46,96.08 461.97,97.41 462.48,98.7 462.99,99.97 463.49,101.19 464,102.36 464.51,103.47 465.02,104.52 465.53,105.49 466.04,106.37 466.54,107.17 467.05,107.87 467.56,108.48 468.07,108.98 468.58,109.37 469.08,109.65 469.59,109.82 470.1,109.88 470.61,109.83 471.12,109.69 471.63,109.46 472.15,109.14 472.66,108.73 473.17,108.24 473.68,107.66 474.19,107.02 474.7,106.3 475.21,105.51 475.73,104.67 476.24,103.78 476.75,102.84 477.26,101.86 477.77,100.86 478.28,99.83 478.79,98.8 479.31,97.76 479.82,96.72 480.33,95.7 480.84,94.69 481.35,93.72 481.86,92.78 482.37,91.89 482.89,91.04 483.4,90.26 483.91,89.54 484.42,88.89 484.93,88.32 485.44,87.82 485.95,87.41 486.47,87.09 486.98,86.86 487.49,86.72 488,86.67 488.51,86.71 489.01,86.8 489.52,86.94 490.02,87.15 490.53,87.41 491.04,87.73 491.54,88.09 492.05,88.5 492.56,88.96 493.06,89.45 493.57,89.98 494.07,90.53 494.58,91.11 495.09,91.7 495.59,92.31 496.1,92.92 496.61,93.53 497.11,94.14 497.62,94.74 498.12,95.31 498.63,95.87 499.14,96.39 499.64,96.89 500.15,97.34 500.66,97.75 501.16,98.12 501.67,98.43 502.18,98.69 502.68,98.9 503.19,99.05 503.69,99.14 504.2,99.17 504.7,99.15 505.2,99.1 505.7,99.01 506.2,98.89 506.7,98.74 507.2,98.56 507.7,98.35 508.2,98.11 508.7,97.86 509.2,97.58 509.7,97.3 510.2,97 510.7,96.7 511.2,96.39 511.7,96.09 512.2,95.79 512.7,95.51 513.2,95.23 513.7,94.98 514.2,94.74 514.7,94.53 515.2,94.35 515.7,94.2 516.2,94.08 516.7,93.99 517.2,93.94 517.7,93.92" fill="none" stroke="#ff0000" stroke-width="1.4" stroke-linejoin="round" />
<polyline points="324.3,103.1 324.88,103.22 325.45,103.5 326.03,103.78 326.6,103.9 327.1,103.87 327.6,103.77 328.1,103.6 328.6,103.37 329.1,103.08 329.6,102.73 330.1,102.32 330.6,101.86 331.1,101.34 331.6,100.78 332.1,100.17 332.6,99.52 333.1,98.84 333.6,98.13 334.1,97.39 334.6,96.64 335.1,95.87 335.6,95.09 336.1,94.31 336.6,93.53 337.1,92.76 337.6,92.01 338.1,91.27 338.6,90.56 339.1,89.88 339.6,89.23 340.1,88.62 340.6,88.06 341.1,87.54 341.6,87.08 342.1,86.67 342.6,86.32 343.1,86.03 343.6,85.8 344.1,85.63 344.6,85.53 345.1,85.5 345.6,85.54 346.11,85.68 346.61,85.9 347.11,86.2 347.61,86.59 348.12,87.05 348.62,87.6 349.12,88.21 349.62,88.9 350.13,89.64 350.63,90.45 351.13,91.3 351.64,92.2 352.14,93.13 352.64,94.1 353.14,95.09 353.65,96.09 354.15,97.1 354.65,98.11 355.16,99.11 355.66,100.1 356.16,101.07 356.66,102 357.17,102.9 357.67,103.75 358.17,104.56 358.68,105.3 359.18,105.99 359.68,106.6 360.18,107.15 360.69,107.61 361.19,108 361.69,108.3 362.19,108.52 362.7,108.66 363.2,108.7 363.71,108.65 364.21,108.49 364.72,108.23 365.22,107.86 365.73,107.4 366.23,106.84 366.74,106.2 367.24,105.46 367.75,104.64 368.26,103.75 368.76,102.79 369.27,101.78 369.77,100.7 370.28,99.59 370.78,98.43 371.29,97.26 371.79,96.06 372.3,94.85 372.81,93.64 373.31,92.44 373.82,91.27 374.32,90.11 374.83,89 375.33,87.93 375.84,86.91 376.34,85.95 376.85,85.06 377.36,84.24 377.86,83.5 378.37,82.86 378.87,82.3 379.38,81.84 379.88,81.47 380.39,81.21 380.89,81.05 381.4,81 381.9,81.06 382.4,81.25 382.9,81.56 383.4,81.99 383.9,82.53 384.4,83.19 384.9,83.96 385.4,84.83 385.9,85.79 386.4,86.84 386.9,87.96 387.4,89.16 387.9,90.41 388.4,91.71 388.9,93.05 389.4,94.42 389.9,95.8 390.4,97.2 390.9,98.58 391.4,99.95 391.9,101.29 392.4,102.59 392.9,103.84 393.4,105.04 393.9,106.16 394.4,107.21 394.9,108.17 395.4,109.04 395.9,109.81 396.4,110.47 396.9,111.01 397.4,111.44 397.9,111.75 398.4,111.94 398.9,112 399.41,111.92 399.91,111.7 400.42,111.32 400.92,110.8 401.43,110.14 401.94,109.35 402.44,108.43 402.95,107.39 403.45,106.24 403.96,104.99 404.47,103.65 404.97,102.24 405.48,100.76 405.98,99.24 406.49,97.68 407,96.09 407.5,94.51 408.01,92.92 408.52,91.36 409.02,89.84 409.53,88.36 410.03,86.95 410.54,85.61 411.05,84.36 411.55,83.21 412.06,82.17 412.56,81.25 413.07,80.46 413.58,79.8 414.08,79.28 414.59,78.9 415.09,78.68 415.6,78.6 416.1,78.66 416.61,78.84 417.11,79.14 417.61,79.55 418.11,80.08 418.62,80.72 419.12,81.46 419.62,82.3 420.12,83.24 420.63,84.26 421.13,85.37 421.63,86.55 422.13,87.8 422.64,89.1 423.14,90.45 423.64,91.84 424.14,93.26 424.65,94.7 425.15,96.15 425.65,97.6 426.16,99.04 426.66,100.46 427.16,101.85 427.66,103.2 428.17,104.5 428.67,105.75 429.17,106.93 429.67,108.04 430.18,109.06 430.68,110 431.18,110.84 431.68,111.58 432.19,112.22 432.69,112.75 433.19,113.16 433.69,113.46 434.2,113.64 434.7,113.7 435.2,113.63 435.7,113.42 436.2,113.08 436.7,112.6 437.2,111.99 437.7,111.25 438.2,110.4 438.7,109.43 439.2,108.36 439.7,107.19 440.2,105.93 440.7,104.6 441.2,103.2 441.7,101.75 442.2,100.25 442.7,98.72 443.2,97.18 443.7,95.62 444.2,94.08 444.7,92.55 445.2,91.05 445.7,89.6 446.2,88.2 446.7,86.87 447.2,85.61 447.7,84.44 448.2,83.37 448.7,82.4 449.2,81.55 449.7,80.81 450.2,80.2 450.7,79.72 451.2,79.38 451.7,79.17 452.2,79.1 452.71,79.15 453.22,79.32 453.72,79.59 454.23,79.96 454.74,80.44 455.25,81.01 455.76,81.68 456.26,82.44 456.77,83.28 457.28,84.21 457.79,85.2 458.3,86.26 458.81,87.37 459.31,88.54 459.82,89.74 460.33,90.98 460.84,92.24 461.35,93.51 461.85,94.79 462.36,96.06 462.87,97.32 463.38,98.56 463.89,99.76 464.39,100.93 464.9,102.04 465.41,103.1 465.92,104.09 466.43,105.02 466.94,105.86 467.44,106.62 467.95,107.29 468.46,107.86 468.97,108.34 469.48,108.71 469.98,108.98 470.49,109.15 471,109.2 471.51,109.16 472.02,109.02 472.53,108.8 473.05,108.5 473.56,108.11 474.07,107.64 474.58,107.09 475.09,106.47 475.6,105.79 476.11,105.04 476.63,104.24 477.14,103.39 477.65,102.49 478.16,101.56 478.67,100.61 479.18,99.63 479.69,98.65 480.21,97.65 480.72,96.67 481.23,95.69 481.74,94.74 482.25,93.81 482.76,92.91 483.27,92.06 483.79,91.26 484.3,90.51 484.81,89.83 485.32,89.21 485.83,88.66 486.34,88.19 486.85,87.8 487.37,87.5 487.88,87.28 488.39,87.14 488.9,87.1 489.41,87.13 489.91,87.21 490.42,87.36 490.93,87.55 491.43,87.8 491.94,88.1 492.44,88.45 492.95,88.84 493.46,89.28 493.96,89.74 494.47,90.25 494.98,90.77 495.48,91.32 495.99,91.89 496.49,92.47 497,93.05 497.51,93.63 498.01,94.21 498.52,94.78 499.03,95.33 499.53,95.85 500.04,96.36 500.54,96.82 501.05,97.26 501.56,97.65 502.06,98 502.57,98.3 503.08,98.55 503.58,98.74 504.09,98.89 504.59,98.97 505.1,99 505.6,98.98 506.1,98.93 506.6,98.85 507.1,98.73 507.6,98.59 508.1,98.42 508.6,98.22 509.1,97.99 509.6,97.75 510.1,97.49 510.6,97.22 511.1,96.93 511.6,96.65 512.1,96.35 512.6,96.07 513.1,95.78 513.6,95.51 514.1,95.25 514.6,95.01 515.1,94.78 515.6,94.58 516.1,94.41 516.6,94.27 517.1,94.15 517.6,94.07 518.1,94.02 518.6,94" fill="none" stroke="#000" stroke-width="1.4" stroke-linejoin="round" />
<polyline points="324,103.1 324.57,103.22 325.15,103.5 325.73,103.78 326.3,103.9 326.8,103.87 327.3,103.77 327.8,103.6 328.3,103.37 328.8,103.08 329.3,102.73 329.8,102.32 330.3,101.86 330.8,101.34 331.3,100.78 331.8,100.17 332.3,99.52 332.8,98.84 333.3,98.13 333.8,97.39 334.3,96.64 334.8,95.87 335.3,95.09 335.8,94.31 336.3,93.53 336.8,92.76 337.3,92.01 337.8,91.27 338.3,90.56 338.8,89.88 339.3,89.23 339.8,88.62 340.3,88.06 340.8,87.54 341.3,87.08 341.8,86.67 342.3,86.32 342.8,86.03 343.3,85.8 343.8,85.63 344.3,85.53 344.8,85.5 345.3,85.54 345.81,85.68 346.31,85.9 346.81,86.2 347.31,86.59 347.82,87.05 348.32,87.6 348.82,88.21 349.32,88.9 349.83,89.64 350.33,90.45 350.83,91.3 351.34,92.2 351.84,93.13 352.34,94.1 352.84,95.09 353.35,96.09 353.85,97.1 354.35,98.11 354.86,99.11 355.36,100.1 355.86,101.07 356.36,102 356.87,102.9 357.37,103.75 357.87,104.56 358.38,105.3 358.88,105.99 359.38,106.6 359.88,107.15 360.39,107.61 360.89,108 361.39,108.3 361.89,108.52 362.4,108.66 362.9,108.7 363.41,108.65 363.91,108.49 364.42,108.23 364.92,107.86 365.43,107.4 365.93,106.84 366.44,106.2 366.94,105.46 367.45,104.64 367.96,103.75 368.46,102.79 368.97,101.78 369.47,100.7 369.98,99.59 370.48,98.43 370.99,97.26 371.49,96.06 372,94.85 372.51,93.64 373.01,92.44 373.52,91.27 374.02,90.11 374.53,89 375.03,87.93 375.54,86.91 376.04,85.95 376.55,85.06 377.06,84.24 377.56,83.5 378.07,82.86 378.57,82.3 379.08,81.84 379.58,81.47 380.09,81.21 380.59,81.05 381.1,81 381.6,81.06 382.1,81.25 382.6,81.56 383.1,81.99 383.6,82.53 384.1,83.19 384.6,83.96 385.1,84.83 385.6,85.79 386.1,86.84 386.6,87.96 387.1,89.16 387.6,90.41 388.1,91.71 388.6,93.05 389.1,94.42 389.6,95.8 390.1,97.2 390.6,98.58 391.1,99.95 391.6,101.29 392.1,102.59 392.6,103.84 393.1,105.04 393.6,106.16 394.1,107.21 394.6,108.17 395.1,109.04 395.6,109.81 396.1,110.47 396.6,111.01 397.1,111.44 397.6,111.75 398.1,111.94 398.6,112 399.11,111.92 399.61,111.7 400.12,111.32 400.62,110.8 401.13,110.14 401.64,109.35 402.14,108.43 402.65,107.39 403.15,106.24 403.66,104.99 404.17,103.65 404.67,102.24 405.18,100.76 405.68,99.24 406.19,97.68 406.7,96.09 407.2,94.51 407.71,92.92 408.22,91.36 408.72,89.84 409.23,88.36 409.73,86.95 410.24,85.61 410.75,84.36 411.25,83.21 411.76,82.17 412.26,81.25 412.77,80.46 413.28,79.8 413.78,79.28 414.29,78.9 414.79,78.68 415.3,78.6 415.8,78.66 416.31,78.84 416.81,79.14 417.31,79.55 417.81,80.08 418.32,80.72 418.82,81.46 419.32,82.3 419.82,83.24 420.33,84.26 420.83,85.37 421.33,86.55 421.83,87.8 422.34,89.1 422.84,90.45 423.34,91.84 423.84,93.26 424.35,94.7 424.85,96.15 425.35,97.6 425.86,99.04 426.36,100.46 426.86,101.85 427.36,103.2 427.87,104.5 428.37,105.75 428.87,106.93 429.37,108.04 429.88,109.06 430.38,110 430.88,110.84 431.38,111.58 431.89,112.22 432.39,112.75 432.89,113.16 433.39,113.46 433.9,113.64 434.4,113.7 434.9,113.63 435.4,113.42 435.9,113.08 436.4,112.6 436.9,111.99 437.4,111.25 437.9,110.4 438.4,109.43 438.9,108.36 439.4,107.19 439.9,105.93 440.4,104.6 440.9,103.2 441.4,101.75 441.9,100.25 442.4,98.72 442.9,97.18 443.4,95.62 443.9,94.08 444.4,92.55 444.9,91.05 445.4,89.6 445.9,88.2 446.4,86.87 446.9,85.61 447.4,84.44 447.9,83.37 448.4,82.4 448.9,81.55 449.4,80.81 449.9,80.2 450.4,79.72 450.9,79.38 451.4,79.17 451.9,79.1 452.41,79.15 452.92,79.32 453.42,79.59 453.93,79.96 454.44,80.44 454.95,81.01 455.46,81.68 455.96,82.44 456.47,83.28 456.98,84.21 457.49,85.2 458,86.26 458.51,87.37 459.01,88.54 459.52,89.74 460.03,90.98 460.54,92.24 461.05,93.51 461.55,94.79 462.06,96.06 462.57,97.32 463.08,98.56 463.59,99.76 464.09,100.93 464.6,102.04 465.11,103.1 465.62,104.09 466.13,105.02 466.64,105.86 467.14,106.62 467.65,107.29 468.16,107.86 468.67,108.34 469.18,108.71 469.68,108.98 470.19,109.15 470.7,109.2 471.21,109.16 471.72,109.02 472.23,108.8 472.75,108.5 473.26,108.11 473.77,107.64 474.28,107.09 474.79,106.47 475.3,105.79 475.81,105.04 476.33,104.24 476.84,103.39 477.35,102.49 477.86,101.56 478.37,100.61 478.88,99.63 479.39,98.65 479.91,97.65 480.42,96.67 480.93,95.69 481.44,94.74 481.95,93.81 482.46,92.91 482.97,92.06 483.49,91.26 484,90.51 484.51,89.83 485.02,89.21 485.53,88.66 486.04,88.19 486.55,87.8 487.07,87.5 487.58,87.28 488.09,87.14 488.6,87.1 489.11,87.13 489.61,87.21 490.12,87.36 490.62,87.55 491.13,87.8 491.64,88.1 492.14,88.45 492.65,88.84 493.16,89.28 493.66,89.74 494.17,90.25 494.68,90.77 495.18,91.32 495.69,91.89 496.19,92.47 496.7,93.05 497.21,93.63 497.71,94.21 498.22,94.78 498.73,95.33 499.23,95.85 499.74,96.36 500.24,96.82 500.75,97.26 501.26,97.65 501.76,98 502.27,98.3 502.78,98.55 503.28,98.74 503.79,98.89 504.29,98.97 504.8,99 505.3,98.98 505.8,98.93 506.3,98.85 506.8,98.73 507.3,98.59 507.8,98.42 508.3,98.22 508.8,97.99 509.3,97.75 509.8,97.49 510.3,97.22 510.8,96.93 511.3,96.65 511.8,96.35 512.3,96.07 512.8,95.78 513.3,95.51 513.8,95.25 514.3,95.01 514.8,94.78 515.3,94.58 515.8,94.41 516.3,94.27 516.8,94.15 517.3,94.07 517.8,94.02 518.3,94" fill="none" stroke="#00e000" stroke-width="1.0" stroke-linejoin="round" />
<polyline points="323.7,103.1 324.27,103.22 324.85,103.5 325.43,103.78 326,103.9 326.5,103.87 327,103.77 327.5,103.6 328,103.37 328.5,103.08 329,102.73 329.5,102.32 330,101.86 330.5,101.34 331,100.78 331.5,100.17 332,99.52 332.5,98.84 333,98.13 333.5,97.39 334,96.64 334.5,95.87 335,95.09 335.5,94.31 336,93.53 336.5,92.76 337,92.01 337.5,91.27 338,90.56 338.5,89.88 339,89.23 339.5,88.62 340,88.06 340.5,87.54 341,87.08 341.5,86.67 342,86.32 342.5,86.03 343,85.8 343.5,85.63 344,85.53 344.5,85.5 345,85.54 345.51,85.68 346.01,85.9 346.51,86.2 347.01,86.59 347.52,87.05 348.02,87.6 348.52,88.21 349.02,88.9 349.53,89.64 350.03,90.45 350.53,91.3 351.04,92.2 351.54,93.13 352.04,94.1 352.54,95.09 353.05,96.09 353.55,97.1 354.05,98.11 354.56,99.11 355.06,100.1 355.56,101.07 356.06,102 356.57,102.9 357.07,103.75 357.57,104.56 358.08,105.3 358.58,105.99 359.08,106.6 359.58,107.15 360.09,107.61 360.59,108 361.09,108.3 361.59,108.52 362.1,108.66 362.6,108.7 363.11,108.65 363.61,108.49 364.12,108.23 364.62,107.86 365.13,107.4 365.63,106.84 366.14,106.2 366.64,105.46 367.15,104.64 367.66,103.75 368.16,102.79 368.67,101.78 369.17,100.7 369.68,99.59 370.18,98.43 370.69,97.26 371.19,96.06 371.7,94.85 372.21,93.64 372.71,92.44 373.22,91.27 373.72,90.11 374.23,89 374.73,87.93 375.24,86.91 375.74,85.95 376.25,85.06 376.76,84.24 377.26,83.5 377.77,82.86 378.27,82.3 378.78,81.84 379.28,81.47 379.79,81.21 380.29,81.05 380.8,81 381.3,81.06 381.8,81.25 382.3,81.56 382.8,81.99 383.3,82.53 383.8,83.19 384.3,83.96 384.8,84.83 385.3,85.79 385.8,86.84 386.3,87.96 386.8,89.16 387.3,90.41 387.8,91.71 388.3,93.05 388.8,94.42 389.3,95.8 389.8,97.2 390.3,98.58 390.8,99.95 391.3,101.29 391.8,102.59 392.3,103.84 392.8,105.04 393.3,106.16 393.8,107.21 394.3,108.17 394.8,109.04 395.3,109.81 395.8,110.47 396.3,111.01 396.8,111.44 397.3,111.75 397.8,111.94 398.3,112 398.81,111.92 399.31,111.7 399.82,111.32 400.32,110.8 400.83,110.14 401.34,109.35 401.84,108.43 402.35,107.39 402.85,106.24 403.36,104.99 403.87,103.65 404.37,102.24 404.88,100.76 405.38,99.24 405.89,97.68 406.4,96.09 406.9,94.51 407.41,92.92 407.92,91.36 408.42,89.84 408.93,88.36 409.43,86.95 409.94,85.61 410.45,84.36 410.95,83.21 411.46,82.17 411.96,81.25 412.47,80.46 412.98,79.8 413.48,79.28 413.99,78.9 414.49,78.68 415,78.6 415.5,78.66 416.01,78.84 416.51,79.14 417.01,79.55 417.51,80.08 418.02,80.72 418.52,81.46 419.02,82.3 419.52,83.24 420.03,84.26 420.53,85.37 421.03,86.55 421.53,87.8 422.04,89.1 422.54,90.45 423.04,91.84 423.54,93.26 424.05,94.7 424.55,96.15 425.05,97.6 425.56,99.04 426.06,100.46 426.56,101.85 427.06,103.2 427.57,104.5 428.07,105.75 428.57,106.93 429.07,108.04 429.58,109.06 430.08,110 430.58,110.84 431.08,111.58 431.59,112.22 432.09,112.75 432.59,113.16 433.09,113.46 433.6,113.64 434.1,113.7 434.6,113.63 435.1,113.42 435.6,113.08 436.1,112.6 436.6,111.99 437.1,111.25 437.6,110.4 438.1,109.43 438.6,108.36 439.1,107.19 439.6,105.93 440.1,104.6 440.6,103.2 441.1,101.75 441.6,100.25 442.1,98.72 442.6,97.18 443.1,95.62 443.6,94.08 444.1,92.55 444.6,91.05 445.1,89.6 445.6,88.2 446.1,86.87 446.6,85.61 447.1,84.44 447.6,83.37 448.1,82.4 448.6,81.55 449.1,80.81 449.6,80.2 450.1,79.72 450.6,79.38 451.1,79.17 451.6,79.1 452.11,79.15 452.62,79.32 453.12,79.59 453.63,79.96 454.14,80.44 454.65,81.01 455.16,81.68 455.66,82.44 456.17,83.28 456.68,84.21 457.19,85.2 457.7,86.26 458.21,87.37 458.71,88.54 459.22,89.74 459.73,90.98 460.24,92.24 460.75,93.51 461.25,94.79 461.76,96.06 462.27,97.32 462.78,98.56 463.29,99.76 463.79,100.93 464.3,102.04 464.81,103.1 465.32,104.09 465.83,105.02 466.34,105.86 466.84,106.62 467.35,107.29 467.86,107.86 468.37,108.34 468.88,108.71 469.38,108.98 469.89,109.15 470.4,109.2 470.91,109.16 471.42,109.02 471.93,108.8 472.45,108.5 472.96,108.11 473.47,107.64 473.98,107.09 474.49,106.47 475,105.79 475.51,105.04 476.03,104.24 476.54,103.39 477.05,102.49 477.56,101.56 478.07,100.61 478.58,99.63 479.09,98.65 479.61,97.65 480.12,96.67 480.63,95.69 481.14,94.74 481.65,93.81 482.16,92.91 482.67,92.06 483.19,91.26 483.7,90.51 484.21,89.83 484.72,89.21 485.23,88.66 485.74,88.19 486.25,87.8 486.77,87.5 487.28,87.28 487.79,87.14 488.3,87.1 488.81,87.13 489.31,87.21 489.82,87.36 490.32,87.55 490.83,87.8 491.34,88.1 491.84,88.45 492.35,88.84 492.86,89.28 493.36,89.74 493.87,90.25 494.38,90.77 494.88,91.32 495.39,91.89 495.89,92.47 496.4,93.05 496.91,93.63 497.41,94.21 497.92,94.78 498.43,95.33 498.93,95.85 499.44,96.36 499.94,96.82 500.45,97.26 500.96,97.65 501.46,98 501.97,98.3 502.48,98.55 502.98,98.74 503.49,98.89 503.99,98.97 504.5,99 505,98.98 505.5,98.93 506,98.85 506.5,98.73 507,98.59 507.5,98.42 508,98.22 508.5,97.99 509,97.75 509.5,97.49 510,97.22 510.5,96.93 511,96.65 511.5,96.35 512,96.07 512.5,95.78 513,95.51 513.5,95.25 514,95.01 514.5,94.78 515,94.58 515.5,94.41 516,94.27 516.5,94.15 517,94.07 517.5,94.02 518,94" fill="none" stroke="#0000ff" stroke-width="1.1" stroke-linejoin="round" />
</g>
<rect x="323.8" y="12.4" width="189.9" height="47.3" fill="none" stroke="#555" stroke-width="1"/>
<rect x="323.8" y="72.3" width="190.1" height="46.6" fill="none" stroke="#555" stroke-width="1"/>
<text x="320.8" y="25.9" font-size="8.5" text-anchor="end" fill="#111" font-weight="normal" stroke="#111" stroke-width="0.14" >1</text>
<text x="320.8" y="39.3" font-size="8.5" text-anchor="end" fill="#111" font-weight="normal" stroke="#111" stroke-width="0.14" >0</text>
<text x="320.8" y="54.2" font-size="8.5" text-anchor="end" fill="#111" font-weight="normal" stroke="#111" stroke-width="0.14" >-1</text>
<line x1="323.8" y1="49.6" x2="325.8" y2="49.6" stroke="#555" stroke-width="0.8" />
<line x1="511.9" y1="49.6" x2="513.8" y2="49.6" stroke="#555" stroke-width="0.8" />
<line x1="323.8" y1="36.2" x2="325.8" y2="36.2" stroke="#555" stroke-width="0.8" />
<line x1="511.9" y1="36.2" x2="513.8" y2="36.2" stroke="#555" stroke-width="0.8" />
<line x1="323.8" y1="22.8" x2="325.8" y2="22.8" stroke="#555" stroke-width="0.8" />
<line x1="511.9" y1="22.8" x2="513.8" y2="22.8" stroke="#555" stroke-width="0.8" />
<line x1="371.6" y1="59.7" x2="371.6" y2="57.7" stroke="#555" stroke-width="0.8" />
<line x1="371.6" y1="12.4" x2="371.6" y2="14.4" stroke="#555" stroke-width="0.8" />
<line x1="418.8" y1="59.7" x2="418.8" y2="57.7" stroke="#555" stroke-width="0.8" />
<line x1="418.8" y1="12.4" x2="418.8" y2="14.4" stroke="#555" stroke-width="0.8" />
<line x1="466.6" y1="59.7" x2="466.6" y2="57.7" stroke="#555" stroke-width="0.8" />
<line x1="466.6" y1="12.4" x2="466.6" y2="14.4" stroke="#555" stroke-width="0.8" />
<text x="305.7" y="37.55" font-size="8.5" text-anchor="middle" fill="#111" font-weight="normal" stroke="#111" stroke-width="0.14" transform="rotate(-90 305.7 37.550000000000004)" dy="3">δB<tspan font-size="6.5" dy="0.8">z</tspan><tspan dy="-0.8"> (nT)</tspan></text>
<text x="320.8" y="85.3" font-size="8.5" text-anchor="end" fill="#111" font-weight="normal" stroke="#111" stroke-width="0.14" >1</text>
<text x="320.8" y="98.7" font-size="8.5" text-anchor="end" fill="#111" font-weight="normal" stroke="#111" stroke-width="0.14" >0</text>
<text x="320.8" y="113.6" font-size="8.5" text-anchor="end" fill="#111" font-weight="normal" stroke="#111" stroke-width="0.14" >-1</text>
<line x1="323.8" y1="109" x2="325.8" y2="109" stroke="#555" stroke-width="0.8" />
<line x1="511.9" y1="109" x2="513.8" y2="109" stroke="#555" stroke-width="0.8" />
<line x1="323.8" y1="95.6" x2="325.8" y2="95.6" stroke="#555" stroke-width="0.8" />
<line x1="511.9" y1="95.6" x2="513.8" y2="95.6" stroke="#555" stroke-width="0.8" />
<line x1="323.8" y1="82.2" x2="325.8" y2="82.2" stroke="#555" stroke-width="0.8" />
<line x1="511.9" y1="82.2" x2="513.8" y2="82.2" stroke="#555" stroke-width="0.8" />
<line x1="371.6" y1="118.9" x2="371.6" y2="116.9" stroke="#555" stroke-width="0.8" />
<line x1="371.6" y1="72.3" x2="371.6" y2="74.3" stroke="#555" stroke-width="0.8" />
<line x1="418.8" y1="118.9" x2="418.8" y2="116.9" stroke="#555" stroke-width="0.8" />
<line x1="418.8" y1="72.3" x2="418.8" y2="74.3" stroke="#555" stroke-width="0.8" />
<line x1="466.6" y1="118.9" x2="466.6" y2="116.9" stroke="#555" stroke-width="0.8" />
<line x1="466.6" y1="72.3" x2="466.6" y2="74.3" stroke="#555" stroke-width="0.8" />
<text x="305.7" y="97.1" font-size="8.5" text-anchor="middle" fill="#111" font-weight="normal" stroke="#111" stroke-width="0.14" transform="rotate(-90 305.7 97.1)" dy="3">δB<tspan font-size="6.5" dy="0.8">z</tspan><tspan dy="-0.8"> (nT)</tspan></text>
<text x="328" y="22.5" font-size="9" text-anchor="start" fill="#111" font-weight="normal" stroke="#111" stroke-width="0.15" >(e)</text>
<text x="328" y="82.3" font-size="9" text-anchor="start" fill="#111" font-weight="normal" stroke="#111" stroke-width="0.15" >(f)</text>
<text x="410.5" y="57" font-size="6.6" text-anchor="start" fill="#000" font-weight="normal" stroke="#000" stroke-width="0.11" >MMS1</text>
<text x="440" y="57" font-size="6.6" text-anchor="start" fill="#ff0000" font-weight="normal" stroke="#ff0000" stroke-width="0.11" >MMS2</text>
<text x="466" y="57" font-size="6.6" text-anchor="start" fill="#00e000" font-weight="normal" stroke="#00e000" stroke-width="0.11" >MMS3</text>
<text x="490.7" y="57" font-size="6.6" text-anchor="start" fill="#0000ff" font-weight="normal" stroke="#0000ff" stroke-width="0.11" >MMS4</text>
<text x="438" y="116.6" font-size="6.8" text-anchor="start" fill="#111" font-weight="normal" stroke="#111" stroke-width="0.11" textLength="73" lengthAdjust="spacingAndGlyphs">V=200* [-0.69 -0.69 0.23]</text>
<text x="369" y="128.2" font-size="7.7" text-anchor="middle" fill="#111" font-weight="normal" stroke="#111" stroke-width="0.13" textLength="30.2" lengthAdjust="spacingAndGlyphs">12:38:30</text>
<text x="422.8" y="128.2" font-size="7.7" text-anchor="middle" fill="#111" font-weight="normal" stroke="#111" stroke-width="0.13" textLength="30.2" lengthAdjust="spacingAndGlyphs">12:38:45</text>
<text x="471" y="128.2" font-size="7.7" text-anchor="middle" fill="#111" font-weight="normal" stroke="#111" stroke-width="0.13" textLength="30.2" lengthAdjust="spacingAndGlyphs">12:39:00</text>
<clipPath id="clg"><rect x="323.8" y="153.5" width="192.3" height="49.8"/></clipPath>
<polygon points="399.4,153.5 417.6,153.5 417.6,203.3 399.4,203.3" fill="#ffff00" stroke="#333" stroke-width="0.8"/>
<g clip-path="url(#clg)">
<polyline points="318,186 318.53,185.97 319.05,185.87 319.58,185.71 320.11,185.5 320.64,185.27 321.16,185.03 321.69,184.8 322.22,184.59 322.75,184.43 323.27,184.33 323.8,184.3 324.34,184.24 324.88,184.08 325.42,183.83 325.96,183.51 326.5,183.15 327.04,182.79 327.58,182.47 328.12,182.22 328.66,182.06 329.2,182 329.72,182.03 330.23,182.12 330.75,182.26 331.26,182.46 331.78,182.71 332.3,183 332.81,183.34 333.33,183.72 333.84,184.12 334.36,184.56 334.88,185.01 335.39,185.47 335.91,185.93 336.42,186.39 336.94,186.84 337.46,187.28 337.97,187.68 338.49,188.06 339,188.4 339.52,188.69 340.04,188.94 340.55,189.14 341.07,189.28 341.58,189.37 342.1,189.4 342.61,189.37 343.12,189.27 343.63,189.12 344.14,188.9 344.65,188.62 345.16,188.29 345.67,187.91 346.18,187.48 346.69,187.01 347.2,186.5 347.71,185.96 348.22,185.39 348.73,184.81 349.24,184.21 349.75,183.6 350.26,182.99 350.77,182.39 351.28,181.81 351.79,181.24 352.3,180.7 352.81,180.19 353.32,179.72 353.83,179.29 354.34,178.91 354.85,178.58 355.36,178.3 355.87,178.08 356.38,177.93 356.89,177.83 357.4,177.8 357.9,177.84 358.4,177.95 358.9,178.14 359.4,178.4 359.9,178.73 360.4,179.12 360.9,179.58 361.4,180.1 361.9,180.67 362.4,181.29 362.9,181.95 363.4,182.65 363.9,183.37 364.4,184.12 364.9,184.88 365.4,185.65 365.9,186.42 366.4,187.18 366.9,187.93 367.4,188.65 367.9,189.35 368.4,190.01 368.9,190.63 369.4,191.2 369.9,191.72 370.4,192.18 370.9,192.57 371.4,192.9 371.9,193.16 372.4,193.35 372.9,193.46 373.4,193.5 373.91,193.46 374.42,193.35 374.93,193.17 375.44,192.92 375.96,192.59 376.47,192.2 376.98,191.75 377.49,191.23 378,190.66 378.51,190.04 379.02,189.36 379.53,188.65 380.04,187.9 380.56,187.12 381.07,186.31 381.58,185.48 382.09,184.65 382.6,183.8 383.11,182.95 383.62,182.12 384.13,181.29 384.64,180.48 385.16,179.7 385.67,178.95 386.18,178.24 386.69,177.56 387.2,176.94 387.71,176.37 388.22,175.85 388.73,175.4 389.24,175.01 389.76,174.68 390.27,174.43 390.78,174.25 391.29,174.14 391.8,174.1 392.31,174.14 392.82,174.24 393.32,174.42 393.83,174.67 394.34,174.98 394.85,175.36 395.35,175.8 395.86,176.31 396.37,176.87 396.88,177.48 397.38,178.14 397.89,178.85 398.4,179.6 398.91,180.38 399.42,181.2 399.92,182.04 400.43,182.9 400.94,183.77 401.45,184.66 401.95,185.54 402.46,186.43 402.97,187.3 403.48,188.16 403.98,189 404.49,189.82 405,190.6 405.51,191.35 406.02,192.06 406.52,192.72 407.03,193.33 407.54,193.89 408.05,194.4 408.55,194.84 409.06,195.22 409.57,195.53 410.08,195.78 410.58,195.96 411.09,196.06 411.6,196.1 412.11,196.05 412.62,195.91 413.13,195.67 413.65,195.33 414.16,194.91 414.67,194.4 415.18,193.81 415.69,193.14 416.2,192.39 416.71,191.58 417.23,190.71 417.74,189.79 418.25,188.82 418.76,187.81 419.27,186.77 419.78,185.71 420.29,184.64 420.81,183.56 421.32,182.49 421.83,181.43 422.34,180.39 422.85,179.38 423.36,178.41 423.87,177.49 424.39,176.62 424.9,175.81 425.41,175.06 425.92,174.39 426.43,173.8 426.94,173.29 427.45,172.87 427.97,172.53 428.48,172.29 428.99,172.15 429.5,172.1 430.01,172.15 430.52,172.29 431.02,172.52 431.53,172.84 432.04,173.25 432.55,173.74 433.06,174.32 433.57,174.97 434.07,175.69 434.58,176.48 435.09,177.32 435.6,178.22 436.11,179.17 436.62,180.16 437.12,181.18 437.63,182.22 438.14,183.28 438.65,184.35 439.16,185.42 439.67,186.48 440.18,187.52 440.68,188.54 441.19,189.53 441.7,190.47 442.21,191.38 442.72,192.22 443.23,193.01 443.73,193.73 444.24,194.38 444.75,194.96 445.26,195.45 445.77,195.86 446.28,196.18 446.78,196.41 447.29,196.55 447.8,196.6 448.3,196.55 448.81,196.41 449.31,196.18 449.81,195.85 450.31,195.44 450.82,194.94 451.32,194.37 451.82,193.71 452.33,192.99 452.83,192.19 453.33,191.35 453.83,190.44 454.34,189.5 454.84,188.52 455.34,187.5 455.85,186.47 456.35,185.42 456.85,184.38 457.35,183.33 457.86,182.3 458.36,181.28 458.86,180.3 459.37,179.36 459.87,178.45 460.37,177.61 460.87,176.81 461.38,176.09 461.88,175.43 462.38,174.86 462.89,174.36 463.39,173.95 463.89,173.62 464.39,173.39 464.9,173.25 465.4,173.2 465.9,173.23 466.4,173.33 466.9,173.49 467.4,173.72 467.9,174.01 468.4,174.36 468.9,174.76 469.4,175.22 469.9,175.74 470.4,176.3 470.9,176.9 471.4,177.55 471.9,178.23 472.4,178.94 472.9,179.68 473.4,180.44 473.9,181.22 474.4,182.01 474.9,182.8 475.4,183.59 475.9,184.38 476.4,185.16 476.9,185.92 477.4,186.66 477.9,187.37 478.4,188.05 478.9,188.7 479.4,189.3 479.9,189.86 480.4,190.38 480.9,190.84 481.4,191.24 481.9,191.59 482.4,191.88 482.9,192.11 483.4,192.27 483.9,192.37 484.4,192.4 484.9,192.37 485.41,192.29 485.91,192.16 486.41,191.97 486.91,191.74 487.42,191.45 487.92,191.12 488.42,190.75 488.93,190.33 489.43,189.88 489.93,189.39 490.43,188.87 490.94,188.33 491.44,187.77 491.94,187.19 492.45,186.6 492.95,186 493.45,185.4 493.95,184.8 494.46,184.21 494.96,183.63 495.46,183.07 495.97,182.53 496.47,182.01 496.97,181.52 497.47,181.07 497.98,180.65 498.48,180.28 498.98,179.95 499.49,179.66 499.99,179.43 500.49,179.24 500.99,179.11 501.5,179.03 502,179 502.51,179.04 503.02,179.17 503.53,179.38 504.04,179.66 504.55,180.01 505.06,180.43 505.57,180.9 506.08,181.41 506.59,181.95 507.1,182.52 507.6,183.08 508.11,183.65 508.62,184.19 509.13,184.7 509.64,185.17 510.15,185.59 510.66,185.94 511.17,186.22 511.68,186.43 512.19,186.56 512.7,186.6 513.23,186.54 513.76,186.35 514.29,186.06 514.82,185.7 515.35,185.3 515.88,184.9 516.41,184.54 516.94,184.25 517.47,184.06 518,184" fill="none" stroke="#222" stroke-width="1.2" stroke-linejoin="round" />
<polyline points="318,190 318.53,189.97 319.05,189.88 319.58,189.74 320.11,189.56 320.64,189.36 321.16,189.14 321.69,188.94 322.22,188.76 322.75,188.62 323.27,188.53 323.8,188.5 324.31,188.46 324.82,188.35 325.33,188.16 325.84,187.9 326.36,187.57 326.87,187.18 327.38,186.73 327.89,186.22 328.4,185.68 328.91,185.09 329.42,184.47 329.93,183.83 330.44,183.18 330.96,182.52 331.47,181.87 331.98,181.23 332.49,180.61 333,180.03 333.51,179.48 334.02,178.97 334.53,178.52 335.04,178.13 335.56,177.8 336.07,177.54 336.58,177.35 337.09,177.24 337.6,177.2 338.1,177.23 338.6,177.31 339.11,177.44 339.61,177.63 340.11,177.86 340.61,178.15 341.12,178.48 341.62,178.87 342.12,179.29 342.62,179.76 343.13,180.26 343.63,180.8 344.13,181.38 344.63,181.98 345.14,182.61 345.64,183.26 346.14,183.93 346.64,184.61 347.15,185.3 347.65,186 348.15,186.7 348.65,187.4 349.16,188.09 349.66,188.77 350.16,189.44 350.66,190.09 351.17,190.72 351.67,191.32 352.17,191.9 352.67,192.44 353.18,192.94 353.68,193.41 354.18,193.83 354.68,194.22 355.19,194.55 355.69,194.84 356.19,195.07 356.69,195.26 357.2,195.39 357.7,195.47 358.2,195.5 358.7,195.45 359.2,195.29 359.7,195.02 360.2,194.66 360.7,194.19 361.2,193.63 361.7,192.98 362.2,192.24 362.7,191.42 363.2,190.53 363.7,189.57 364.2,188.56 364.7,187.49 365.2,186.38 365.7,185.24 366.2,184.07 366.7,182.89 367.2,181.71 367.7,180.53 368.2,179.36 368.7,178.22 369.2,177.11 369.7,176.04 370.2,175.03 370.7,174.07 371.2,173.18 371.7,172.36 372.2,171.62 372.7,170.97 373.2,170.41 373.7,169.94 374.2,169.58 374.7,169.31 375.2,169.15 375.7,169.1 376.21,169.15 376.72,169.31 377.23,169.58 377.74,169.94 378.25,170.41 378.76,170.98 379.27,171.64 379.78,172.39 380.29,173.22 380.8,174.14 381.31,175.13 381.82,176.18 382.33,177.3 382.84,178.47 383.35,179.68 383.86,180.94 384.37,182.22 384.88,183.52 385.39,184.84 385.91,186.16 386.42,187.48 386.93,188.78 387.44,190.06 387.95,191.32 388.46,192.53 388.97,193.7 389.48,194.82 389.99,195.87 390.5,196.86 391.01,197.78 391.52,198.61 392.03,199.36 392.54,200.02 393.05,200.59 393.56,201.06 394.07,201.42 394.58,201.69 395.09,201.85 395.6,201.9 396.11,201.85 396.62,201.68 397.12,201.41 397.63,201.03 398.14,200.54 398.65,199.96 399.15,199.28 399.66,198.5 400.17,197.64 400.68,196.69 401.18,195.67 401.69,194.58 402.2,193.43 402.71,192.22 403.22,190.96 403.72,189.67 404.23,188.34 404.74,186.99 405.25,185.63 405.75,184.27 406.26,182.91 406.77,181.56 407.28,180.23 407.78,178.94 408.29,177.68 408.8,176.47 409.31,175.32 409.82,174.23 410.32,173.21 410.83,172.26 411.34,171.4 411.85,170.62 412.35,169.94 412.86,169.36 413.37,168.87 413.88,168.49 414.38,168.22 414.89,168.05 415.4,168 415.91,168.06 416.41,168.22 416.92,168.5 417.42,168.88 417.93,169.37 418.43,169.96 418.94,170.64 419.44,171.42 419.95,172.28 420.45,173.23 420.96,174.24 421.46,175.33 421.97,176.47 422.48,177.66 422.98,178.89 423.49,180.16 423.99,181.44 424.5,182.75 425,184.05 425.51,185.36 426.01,186.64 426.52,187.91 427.02,189.14 427.53,190.33 428.04,191.47 428.54,192.56 429.05,193.57 429.55,194.52 430.06,195.38 430.56,196.16 431.07,196.84 431.57,197.43 432.08,197.92 432.58,198.3 433.09,198.58 433.59,198.74 434.1,198.8 434.61,198.76 435.12,198.63 435.62,198.43 436.13,198.14 436.64,197.78 437.15,197.33 437.65,196.82 438.16,196.23 438.67,195.58 439.18,194.87 439.68,194.1 440.19,193.27 440.7,192.4 441.21,191.49 441.72,190.54 442.22,189.56 442.73,188.56 443.24,187.54 443.75,186.52 444.25,185.48 444.76,184.46 445.27,183.44 445.78,182.44 446.28,181.46 446.79,180.51 447.3,179.6 447.81,178.73 448.32,177.9 448.82,177.13 449.33,176.42 449.84,175.77 450.35,175.18 450.85,174.67 451.36,174.22 451.87,173.86 452.38,173.57 452.88,173.37 453.39,173.24 453.9,173.2 454.41,173.23 454.92,173.33 455.43,173.48 455.94,173.7 456.45,173.98 456.96,174.32 457.47,174.71 457.98,175.16 458.49,175.65 459,176.2 459.51,176.78 460.02,177.41 460.53,178.07 461.04,178.77 461.55,179.49 462.06,180.24 462.57,181 463.08,181.77 463.59,182.56 464.11,183.34 464.62,184.13 465.13,184.9 465.64,185.66 466.15,186.41 466.66,187.13 467.17,187.82 467.68,188.49 468.19,189.12 468.7,189.7 469.21,190.25 469.72,190.74 470.23,191.19 470.74,191.58 471.25,191.92 471.76,192.2 472.27,192.42 472.78,192.57 473.29,192.67 473.8,192.7 474.3,192.67 474.8,192.6 475.3,192.47 475.8,192.3 476.3,192.08 476.8,191.82 477.3,191.51 477.8,191.16 478.3,190.77 478.8,190.35 479.3,189.89 479.8,189.41 480.3,188.91 480.8,188.38 481.3,187.84 481.8,187.29 482.3,186.73 482.8,186.17 483.3,185.61 483.8,185.06 484.3,184.52 484.8,183.99 485.3,183.49 485.8,183.01 486.3,182.55 486.8,182.13 487.3,181.74 487.8,181.39 488.3,181.08 488.8,180.82 489.3,180.6 489.8,180.43 490.3,180.3 490.8,180.23 491.3,180.2 491.8,180.21 492.31,180.25 492.81,180.32 493.31,180.4 493.81,180.52 494.32,180.65 494.82,180.81 495.32,180.99 495.83,181.19 496.33,181.4 496.83,181.64 497.33,181.88 497.84,182.14 498.34,182.41 498.84,182.69 499.35,182.97 499.85,183.26 500.35,183.54 500.85,183.83 501.36,184.11 501.86,184.39 502.36,184.66 502.87,184.92 503.37,185.16 503.87,185.4 504.37,185.61 504.88,185.81 505.38,185.99 505.88,186.15 506.39,186.28 506.89,186.4 507.39,186.48 507.89,186.55 508.4,186.59 508.9,186.6 509.41,186.58 509.91,186.52 510.42,186.43 510.92,186.3 511.43,186.14 511.93,185.95 512.44,185.74 512.94,185.53 513.45,185.3 513.96,185.07 514.46,184.86 514.97,184.65 515.47,184.46 515.98,184.3 516.48,184.17 516.99,184.08 517.49,184.02 518,184" fill="none" stroke="#3030ff" stroke-width="1.2" stroke-linejoin="round" />
<polyline points="318,190.5 318.53,190.5 319.05,190.5 319.58,190.5 320.11,190.5 320.64,190.5 321.16,190.5 321.69,190.5 322.22,190.5 322.75,190.5 323.27,190.5 323.8,190.5 324.34,190.52 324.88,190.57 325.42,190.64 325.96,190.74 326.5,190.85 327.04,190.96 327.58,191.06 328.12,191.13 328.66,191.18 329.2,191.2 329.7,191.16 330.2,191.04 330.7,190.83 331.2,190.55 331.7,190.19 332.2,189.76 332.7,189.26 333.2,188.7 333.7,188.07 334.2,187.4 334.7,186.68 335.2,185.92 335.7,185.13 336.2,184.32 336.7,183.49 337.2,182.65 337.7,181.81 338.2,180.98 338.7,180.17 339.2,179.38 339.7,178.62 340.2,177.9 340.7,177.23 341.2,176.6 341.7,176.04 342.2,175.54 342.7,175.11 343.2,174.75 343.7,174.47 344.2,174.26 344.7,174.14 345.2,174.1 345.7,174.14 346.21,174.26 346.71,174.46 347.21,174.74 347.71,175.09 348.22,175.52 348.72,176.01 349.22,176.58 349.72,177.21 350.23,177.89 350.73,178.63 351.23,179.42 351.73,180.26 352.24,181.13 352.74,182.03 353.24,182.97 353.74,183.92 354.25,184.88 354.75,185.85 355.25,186.82 355.76,187.78 356.26,188.73 356.76,189.67 357.26,190.57 357.77,191.44 358.27,192.28 358.77,193.07 359.27,193.81 359.78,194.49 360.28,195.12 360.78,195.69 361.28,196.18 361.79,196.61 362.29,196.96 362.79,197.24 363.29,197.44 363.8,197.56 364.3,197.6 364.8,197.54 365.3,197.37 365.8,197.08 366.3,196.68 366.8,196.16 367.3,195.55 367.8,194.83 368.3,194.02 368.8,193.12 369.3,192.14 369.8,191.09 370.3,189.97 370.8,188.8 371.3,187.58 371.8,186.33 372.3,185.05 372.8,183.75 373.3,182.45 373.8,181.15 374.3,179.87 374.8,178.62 375.3,177.4 375.8,176.23 376.3,175.11 376.8,174.06 377.3,173.08 377.8,172.18 378.3,171.37 378.8,170.65 379.3,170.04 379.8,169.52 380.3,169.12 380.8,168.83 381.3,168.66 381.8,168.6 382.31,168.66 382.82,168.85 383.33,169.17 383.84,169.6 384.36,170.16 384.87,170.83 385.38,171.61 385.89,172.5 386.4,173.48 386.91,174.55 387.42,175.7 387.93,176.92 388.44,178.21 388.96,179.56 389.47,180.94 389.98,182.36 390.49,183.8 391,185.25 391.51,186.7 392.02,188.14 392.53,189.56 393.04,190.94 393.56,192.29 394.07,193.57 394.58,194.8 395.09,195.95 395.6,197.02 396.11,198 396.62,198.89 397.13,199.67 397.64,200.34 398.16,200.9 398.67,201.33 399.18,201.65 399.69,201.84 400.2,201.9 400.71,201.82 401.21,201.58 401.72,201.18 402.22,200.63 402.73,199.93 403.24,199.09 403.74,198.11 404.25,197.01 404.75,195.79 405.26,194.47 405.77,193.05 406.27,191.55 406.78,189.99 407.28,188.37 407.79,186.72 408.3,185.04 408.8,183.36 409.31,181.68 409.82,180.03 410.32,178.41 410.83,176.85 411.33,175.35 411.84,173.93 412.35,172.61 412.85,171.39 413.36,170.29 413.86,169.31 414.37,168.47 414.88,167.77 415.38,167.22 415.89,166.82 416.39,166.58 416.9,166.5 417.41,166.57 417.91,166.77 418.42,167.1 418.92,167.55 419.43,168.14 419.93,168.84 420.44,169.66 420.94,170.6 421.45,171.63 421.95,172.76 422.46,173.98 422.96,175.28 423.47,176.64 423.98,178.07 424.48,179.55 424.99,181.06 425.49,182.61 426,184.17 426.5,185.73 427.01,187.29 427.51,188.84 428.02,190.35 428.52,191.83 429.03,193.26 429.54,194.62 430.04,195.92 430.55,197.14 431.05,198.27 431.56,199.3 432.06,200.24 432.57,201.06 433.07,201.76 433.58,202.35 434.08,202.8 434.59,203.13 435.09,203.33 435.6,203.4 436.1,203.33 436.61,203.1 437.11,202.74 437.61,202.22 438.11,201.57 438.62,200.79 439.12,199.88 439.62,198.84 440.13,197.7 440.63,196.45 441.13,195.11 441.63,193.69 442.14,192.2 442.64,190.65 443.14,189.06 443.65,187.43 444.15,185.78 444.65,184.12 445.15,182.47 445.66,180.84 446.16,179.25 446.66,177.7 447.17,176.21 447.67,174.79 448.17,173.45 448.67,172.2 449.18,171.06 449.68,170.02 450.18,169.11 450.69,168.33 451.19,167.68 451.69,167.16 452.19,166.8 452.7,166.57 453.2,166.5 453.7,166.56 454.2,166.73 454.7,167.01 455.2,167.4 455.7,167.89 456.2,168.49 456.7,169.19 457.2,169.99 457.7,170.87 458.2,171.84 458.7,172.88 459.2,174 459.7,175.17 460.2,176.4 460.7,177.68 461.2,178.99 461.7,180.33 462.2,181.68 462.7,183.05 463.2,184.42 463.7,185.77 464.2,187.11 464.7,188.42 465.2,189.7 465.7,190.93 466.2,192.1 466.7,193.22 467.2,194.26 467.7,195.23 468.2,196.11 468.7,196.91 469.2,197.61 469.7,198.21 470.2,198.7 470.7,199.09 471.2,199.37 471.7,199.54 472.2,199.6 472.7,199.55 473.21,199.4 473.71,199.16 474.21,198.82 474.71,198.39 475.22,197.87 475.72,197.27 476.22,196.59 476.73,195.83 477.23,195.01 477.73,194.12 478.23,193.18 478.74,192.19 479.24,191.17 479.74,190.11 480.25,189.04 480.75,187.95 481.25,186.85 481.75,185.76 482.26,184.69 482.76,183.63 483.26,182.61 483.77,181.62 484.27,180.68 484.77,179.79 485.27,178.97 485.78,178.21 486.28,177.53 486.78,176.93 487.29,176.41 487.79,175.98 488.29,175.64 488.79,175.4 489.3,175.25 489.8,175.2 490.31,175.23 490.82,175.32 491.33,175.46 491.84,175.67 492.35,175.92 492.85,176.23 493.36,176.59 493.87,177 494.38,177.44 494.89,177.93 495.4,178.45 495.91,179 496.42,179.57 496.93,180.17 497.44,180.77 497.95,181.39 498.45,182.01 498.96,182.63 499.47,183.23 499.98,183.83 500.49,184.4 501,184.95 501.51,185.47 502.02,185.96 502.53,186.4 503.04,186.81 503.55,187.17 504.05,187.48 504.56,187.73 505.07,187.94 505.58,188.08 506.09,188.17 506.6,188.2 507.12,188.17 507.64,188.09 508.15,187.97 508.67,187.79 509.19,187.56 509.71,187.3 510.23,187.01 510.75,186.68 511.26,186.33 511.78,185.97 512.3,185.6 512.82,185.23 513.34,184.87 513.85,184.52 514.37,184.19 514.89,183.9 515.41,183.64 515.93,183.41 516.45,183.23 516.96,183.11 517.48,183.03 518,183" fill="none" stroke="#ff2020" stroke-width="1.2" stroke-linejoin="round" />
<polyline points="322,177 322.6,177.05 323.2,177.15 323.8,177.2 324.32,177.22 324.85,177.28 325.38,177.38 325.9,177.51 326.43,177.67 326.95,177.85 327.48,178.05 328,178.25 328.52,178.45 329.05,178.65 329.57,178.83 330.1,178.99 330.62,179.12 331.15,179.22 331.68,179.28 332.2,179.3 332.72,179.26 333.24,179.13 333.76,178.93 334.28,178.66 334.81,178.32 335.33,177.92 335.85,177.48 336.37,177 336.89,176.5 337.41,176 337.93,175.5 338.45,175.02 338.97,174.58 339.49,174.18 340.02,173.84 340.54,173.57 341.06,173.37 341.58,173.24 342.1,173.2 342.62,173.23 343.15,173.31 343.68,173.44 344.2,173.61 344.73,173.82 345.25,174.06 345.78,174.33 346.3,174.6 346.82,174.87 347.35,175.14 347.88,175.38 348.4,175.59 348.93,175.76 349.45,175.89 349.98,175.97 350.5,176 351,175.96 351.5,175.84 352,175.65 352.5,175.38 353,175.05 353.5,174.66 354,174.23 354.5,173.75 355,173.26 355.5,172.75 356,172.24 356.5,171.75 357,171.27 357.5,170.84 358,170.45 358.5,170.12 359,169.85 359.5,169.66 360,169.54 360.5,169.5 361.02,169.53 361.55,169.63 362.07,169.79 362.6,170 363.12,170.26 363.65,170.55 364.18,170.87 364.7,171.2 365.22,171.53 365.75,171.85 366.27,172.14 366.8,172.4 367.32,172.61 367.85,172.77 368.38,172.87 368.9,172.9 369.42,172.85 369.94,172.69 370.46,172.42 370.98,172.07 371.51,171.63 372.03,171.11 372.55,170.54 373.07,169.92 373.59,169.28 374.11,168.62 374.63,167.98 375.15,167.36 375.67,166.79 376.19,166.27 376.72,165.83 377.24,165.48 377.76,165.21 378.28,165.05 378.8,165 379.32,165.06 379.85,165.24 380.38,165.54 380.9,165.94 381.43,166.42 381.95,166.98 382.48,167.58 383,168.2 383.52,168.82 384.05,169.42 384.57,169.98 385.1,170.46 385.62,170.86 386.15,171.16 386.68,171.34 387.2,171.4 387.71,171.32 388.21,171.09 388.72,170.7 389.22,170.18 389.73,169.54 390.23,168.8 390.74,167.98 391.24,167.1 391.75,166.2 392.26,165.3 392.76,164.42 393.27,163.6 393.77,162.86 394.28,162.22 394.78,161.7 395.29,161.31 395.79,161.08 396.3,161 396.8,161.08 397.3,161.31 397.8,161.69 398.3,162.21 398.8,162.86 399.3,163.62 399.8,164.47 400.3,165.39 400.8,166.36 401.3,167.35 401.8,168.34 402.3,169.31 402.8,170.23 403.3,171.08 403.8,171.84 404.3,172.49 404.8,173.01 405.3,173.39 405.8,173.62 406.3,173.7 406.81,173.59 407.31,173.27 407.82,172.75 408.32,172.04 408.83,171.16 409.33,170.15 409.84,169.03 410.34,167.83 410.85,166.6 411.36,165.37 411.86,164.17 412.37,163.05 412.87,162.04 413.38,161.16 413.88,160.45 414.39,159.93 414.89,159.61 415.4,159.5 415.92,159.63 416.44,160.03 416.95,160.68 417.47,161.55 417.99,162.62 418.51,163.85 419.02,165.2 419.54,166.63 420.06,168.07 420.58,169.5 421.09,170.85 421.61,172.08 422.13,173.15 422.65,174.02 423.16,174.67 423.68,175.07 424.2,175.2 424.72,175.1 425.24,174.8 425.76,174.31 426.28,173.64 426.81,172.81 427.33,171.85 427.85,170.77 428.37,169.62 428.89,168.41 429.41,167.19 429.93,165.98 430.45,164.83 430.97,163.75 431.49,162.79 432.02,161.96 432.54,161.29 433.06,160.8 433.58,160.5 434.1,160.4 434.61,160.51 435.11,160.82 435.62,161.34 436.12,162.04 436.63,162.9 437.13,163.9 437.64,165.01 438.14,166.18 438.65,167.4 439.16,168.62 439.66,169.79 440.17,170.9 440.67,171.9 441.18,172.76 441.68,173.46 442.19,173.98 442.69,174.29 443.2,174.4 443.71,174.31 444.22,174.04 444.73,173.6 445.24,173.01 445.76,172.27 446.27,171.43 446.78,170.49 447.29,169.48 447.8,168.45 448.31,167.42 448.82,166.41 449.33,165.47 449.84,164.63 450.36,163.89 450.87,163.3 451.38,162.86 451.89,162.59 452.4,162.5 452.91,162.59 453.42,162.84 453.93,163.25 454.44,163.81 454.96,164.5 455.47,165.3 455.98,166.18 456.49,167.13 457,168.1 457.51,169.07 458.02,170.02 458.53,170.9 459.04,171.7 459.56,172.39 460.07,172.95 460.58,173.36 461.09,173.61 461.6,173.7 462.11,173.65 462.61,173.48 463.12,173.22 463.62,172.86 464.13,172.41 464.63,171.9 465.14,171.33 465.64,170.73 466.15,170.1 466.66,169.47 467.16,168.87 467.67,168.3 468.17,167.79 468.68,167.34 469.18,166.98 469.69,166.72 470.19,166.55 470.7,166.5 471.22,166.58 471.74,166.8 472.26,167.16 472.78,167.66 473.31,168.27 473.83,168.99 474.35,169.79 474.87,170.65 475.39,171.55 475.91,172.45 476.43,173.35 476.95,174.21 477.47,175.01 477.99,175.73 478.52,176.34 479.04,176.84 479.56,177.2 480.08,177.42 480.6,177.5 481.12,177.46 481.65,177.36 482.18,177.18 482.7,176.94 483.23,176.66 483.75,176.33 484.28,175.97 484.8,175.6 485.32,175.23 485.85,174.87 486.38,174.54 486.9,174.26 487.43,174.02 487.95,173.84 488.48,173.74 489,173.7 489.51,173.76 490.02,173.95 490.53,174.26 491.04,174.67 491.56,175.18 492.07,175.77 492.58,176.43 493.09,177.13 493.6,177.85 494.11,178.57 494.62,179.27 495.13,179.92 495.64,180.52 496.16,181.03 496.67,181.44 497.18,181.75 497.69,181.94 498.2,182 498.71,181.92 499.22,181.68 499.73,181.33 500.24,180.88 500.76,180.42 501.27,179.98 501.78,179.62 502.29,179.38 502.8,179.3 503.31,179.33 503.81,179.42 504.32,179.56 504.83,179.75 505.33,179.97 505.84,180.23 506.35,180.51 506.85,180.79 507.36,181.07 507.87,181.32 508.37,181.55 508.88,181.74 509.39,181.88 509.89,181.97 510.4,182 510.91,182.01 511.41,182.04 511.92,182.1 512.43,182.17 512.93,182.25 513.44,182.35 513.95,182.45 514.45,182.55 514.96,182.65 515.47,182.75 515.97,182.83 516.48,182.9 516.99,182.96 517.49,182.99 518,183" fill="none" stroke="#229922" stroke-width="1.2" stroke-linejoin="round" />
</g>
<rect x="323.8" y="153.5" width="192.3" height="49.8" fill="none" stroke="#555" stroke-width="1"/>
<rect x="494.4" y="154.6" width="20.1" height="17.5" fill="#fff" stroke="#555" stroke-width="0.6"/>
<line x1="496" y1="157.8" x2="505" y2="157.8" stroke="#222" stroke-width="0.8" />
<text x="506" y="159" font-size="3.4" text-anchor="start" fill="#333" font-weight="normal" stroke="#333" stroke-width="0.06" >Xmva</text>
<line x1="496" y1="161.9" x2="505" y2="161.9" stroke="#3030ff" stroke-width="0.8" />
<text x="506" y="163.1" font-size="3.4" text-anchor="start" fill="#333" font-weight="normal" stroke="#333" stroke-width="0.06" >Ymva</text>
<line x1="496" y1="166" x2="505" y2="166" stroke="#ff2020" stroke-width="0.8" />
<text x="506" y="167.2" font-size="3.4" text-anchor="start" fill="#333" font-weight="normal" stroke="#333" stroke-width="0.06" >Zmva</text>
<line x1="496" y1="170.1" x2="505" y2="170.1" stroke="#229922" stroke-width="0.8" />
<text x="506" y="171.3" font-size="3.4" text-anchor="start" fill="#333" font-weight="normal" stroke="#333" stroke-width="0.06" >dBt</text>
<text x="327.5" y="162" font-size="9" text-anchor="start" fill="#111" font-weight="normal" stroke="#111" stroke-width="0.15" >(g)</text>
<text x="320.8" y="172.9" font-size="8.5" text-anchor="end" fill="#111" font-weight="normal" stroke="#111" stroke-width="0.14" >1</text>
<text x="320.8" y="187" font-size="8.5" text-anchor="end" fill="#111" font-weight="normal" stroke="#111" stroke-width="0.14" >0</text>
<text x="320.8" y="202.6" font-size="8.5" text-anchor="end" fill="#111" font-weight="normal" stroke="#111" stroke-width="0.14" >-1</text>
<line x1="323.8" y1="169.8" x2="325.8" y2="169.8" stroke="#555" stroke-width="0.8" />
<line x1="514.1" y1="169.8" x2="516.1" y2="169.8" stroke="#555" stroke-width="0.8" />
<line x1="323.8" y1="183.9" x2="325.8" y2="183.9" stroke="#555" stroke-width="0.8" />
<line x1="514.1" y1="183.9" x2="516.1" y2="183.9" stroke="#555" stroke-width="0.8" />
<line x1="323.8" y1="198.5" x2="325.8" y2="198.5" stroke="#555" stroke-width="0.8" />
<line x1="514.1" y1="198.5" x2="516.1" y2="198.5" stroke="#555" stroke-width="0.8" />
<text x="305.7" y="179.5" font-size="8.5" text-anchor="middle" fill="#111" font-weight="normal" stroke="#111" stroke-width="0.14" transform="rotate(-90 305.7 179.5)" dy="3">δB (nT)</text>
<line x1="371.6" y1="203.3" x2="371.6" y2="201.3" stroke="#555" stroke-width="0.8" />
<line x1="418.8" y1="203.3" x2="418.8" y2="201.3" stroke="#555" stroke-width="0.8" />
<line x1="466.6" y1="203.3" x2="466.6" y2="201.3" stroke="#555" stroke-width="0.8" />
<text x="369.2" y="214" font-size="7.7" text-anchor="middle" fill="#111" font-weight="normal" stroke="#111" stroke-width="0.13" textLength="30.2" lengthAdjust="spacingAndGlyphs">12:38:30</text>
<text x="423.2" y="214" font-size="7.7" text-anchor="middle" fill="#111" font-weight="normal" stroke="#111" stroke-width="0.13" textLength="30.2" lengthAdjust="spacingAndGlyphs">12:38:45</text>
<text x="470.8" y="214" font-size="7.7" text-anchor="middle" fill="#111" font-weight="normal" stroke="#111" stroke-width="0.13" textLength="30.2" lengthAdjust="spacingAndGlyphs">12:39:00</text>
<clipPath id="clh"><rect x="323.8" y="224" width="192.3" height="49.3"/></clipPath>
<g clip-path="url(#clh)">
<polyline points="323.8,274 324.18,273.88 324.59,273.75 325.05,273.61 325.55,273.46 326.08,273.29 326.64,273.12 327.24,272.93 327.86,272.74 328.51,272.54 329.19,272.33 329.89,272.11 330.62,271.88 331.36,271.65 332.13,271.41 332.9,271.17 333.7,270.93 334.5,270.68 335.32,270.42 336.14,270.17 336.97,269.91 337.8,269.65 338.64,269.39 339.48,269.13 340.31,268.87 341.14,268.61 341.97,268.36 342.79,268.1 343.6,267.85 344.4,267.6 345.04,267.4 345.69,267.2 346.35,267 347.01,266.8 347.68,266.59 348.36,266.39 349.04,266.18 349.72,265.98 350.41,265.77 351.11,265.56 351.81,265.35 352.51,265.14 353.22,264.92 353.93,264.71 354.64,264.5 355.36,264.28 356.08,264.06 356.8,263.84 357.52,263.62 358.25,263.4 358.97,263.18 359.7,262.96 360.43,262.73 361.16,262.51 361.88,262.28 362.61,262.05 363.34,261.82 364.06,261.59 364.79,261.36 365.51,261.13 366.23,260.89 366.95,260.66 367.67,260.42 368.38,260.18 369.09,259.94 369.8,259.7 370.5,259.46 371.2,259.22 371.9,258.97 372.59,258.73 373.27,258.48 373.96,258.24 374.64,257.99 375.32,257.74 376,257.49 376.68,257.24 377.35,256.99 378.03,256.74 378.71,256.48 379.38,256.23 380.06,255.97 380.74,255.71 381.42,255.45 382.1,255.19 382.78,254.93 383.47,254.67 384.16,254.4 384.86,254.14 385.56,253.87 386.26,253.6 386.97,253.32 387.68,253.05 388.4,252.77 389.13,252.5 389.86,252.22 390.6,251.93 391.34,251.65 392.1,251.37 392.86,251.08 393.63,250.79 394.41,250.49 395.2,250.2 395.84,249.96 396.48,249.72 397.13,249.48 397.79,249.23 398.45,248.98 399.12,248.72 399.79,248.47 400.47,248.21 401.15,247.95 401.84,247.69 402.53,247.42 403.22,247.16 403.92,246.89 404.62,246.62 405.33,246.35 406.04,246.08 406.75,245.81 407.46,245.54 408.18,245.26 408.9,244.99 409.62,244.71 410.34,244.44 411.07,244.16 411.79,243.89 412.52,243.61 413.25,243.34 413.98,243.06 414.71,242.79 415.44,242.52 416.17,242.25 416.9,241.98 417.63,241.71 418.36,241.44 419.09,241.18 419.82,240.91 420.54,240.65 421.27,240.39 421.99,240.13 422.72,239.88 423.44,239.62 424.15,239.37 424.87,239.12 425.58,238.88 426.29,238.64 427,238.4 427.71,238.16 428.41,237.93 429.12,237.69 429.83,237.45 430.54,237.22 431.26,236.98 431.97,236.75 432.68,236.52 433.4,236.28 434.11,236.05 434.83,235.82 435.54,235.59 436.26,235.36 436.97,235.13 437.69,234.9 438.4,234.67 439.12,234.45 439.84,234.22 440.55,234 441.27,233.78 441.98,233.56 442.69,233.34 443.41,233.12 444.12,232.91 444.83,232.69 445.54,232.48 446.25,232.27 446.96,232.06 447.66,231.86 448.37,231.66 449.07,231.45 449.77,231.25 450.47,231.06 451.17,230.86 451.87,230.67 452.56,230.48 453.25,230.29 453.94,230.11 454.63,229.93 455.31,229.75 456,229.57 456.68,229.4 457.35,229.23 458.03,229.06 458.7,228.9 459.45,228.72 460.2,228.54 460.94,228.36 461.69,228.19 462.42,228.02 463.16,227.85 463.89,227.68 464.62,227.52 465.34,227.36 466.07,227.2 466.79,227.04 467.51,226.89 468.22,226.73 468.94,226.59 469.65,226.44 470.36,226.3 471.07,226.16 471.78,226.02 472.49,225.89 473.19,225.76 473.9,225.63 474.6,225.5 475.31,225.38 476.01,225.26 476.71,225.15 477.41,225.03 478.12,224.92 478.82,224.82 479.52,224.71 480.22,224.61 480.93,224.52 481.63,224.42 482.33,224.33 483.04,224.25 483.75,224.16 484.45,224.08 485.16,224.01 485.87,223.93 486.59,223.87 487.3,223.8 488.02,223.74 488.76,223.68 489.52,223.64 490.29,223.59 491.07,223.56 491.86,223.52 492.67,223.5 493.48,223.47 494.3,223.46 495.12,223.44 495.95,223.43 496.78,223.43 497.61,223.42 498.45,223.42 499.28,223.43 500.11,223.43 500.94,223.44 501.76,223.45 502.58,223.47 503.39,223.48 504.19,223.5 504.98,223.52 505.75,223.54 506.52,223.56 507.27,223.58 508,223.6 508.72,223.62 509.42,223.64 510.1,223.66 510.76,223.68 511.4,223.7 512.01,223.72 512.6,223.74 513.16,223.75 513.69,223.77 514.2,223.78 514.67,223.79 515.12,223.79 515.52,223.8 515.9,223.8" fill="none" stroke="#222" stroke-width="1.2" stroke-linejoin="round" />
<polyline points="323.8,251.7 324.16,251.77 324.55,251.85 324.96,251.93 325.39,252.02 325.84,252.11 326.3,252.21 326.79,252.31 327.29,252.41 327.82,252.52 328.36,252.64 328.92,252.75 329.49,252.88 330.08,253 330.69,253.13 331.31,253.26 331.94,253.4 332.59,253.54 333.25,253.68 333.92,253.82 334.61,253.97 335.31,254.12 336.02,254.27 336.74,254.42 337.47,254.58 338.21,254.73 338.96,254.89 339.72,255.05 340.48,255.21 341.26,255.38 342.04,255.54 342.83,255.7 343.62,255.87 344.42,256.03 345.22,256.2 346.03,256.36 346.84,256.53 347.66,256.69 348.48,256.86 349.3,257.02 350.12,257.19 350.95,257.35 351.77,257.51 352.6,257.67 353.42,257.83 354.25,257.99 355.07,258.15 355.89,258.3 356.71,258.45 357.53,258.6 358.34,258.75 359.15,258.9 359.96,259.04 360.76,259.18 361.56,259.32 362.35,259.46 363.13,259.59 363.9,259.72 364.67,259.84 365.43,259.96 366.19,260.08 366.93,260.19 367.66,260.3 368.39,260.4 369.1,260.5 369.8,260.6 370.52,260.7 371.24,260.79 371.95,260.88 372.67,260.98 373.38,261.07 374.1,261.16 374.81,261.25 375.52,261.34 376.24,261.43 376.95,261.52 377.66,261.6 378.37,261.69 379.08,261.77 379.79,261.85 380.5,261.94 381.21,262.02 381.92,262.09 382.63,262.17 383.33,262.25 384.04,262.32 384.75,262.4 385.45,262.47 386.16,262.54 386.87,262.61 387.57,262.68 388.28,262.74 388.98,262.81 389.69,262.87 390.39,262.93 391.09,262.99 391.8,263.05 392.5,263.1 393.21,263.16 393.91,263.21 394.61,263.26 395.31,263.31 396.02,263.36 396.72,263.4 397.42,263.44 398.12,263.48 398.83,263.52 399.53,263.56 400.23,263.59 400.93,263.63 401.64,263.66 402.34,263.69 403.04,263.71 403.74,263.73 404.45,263.76 405.15,263.78 405.85,263.79 406.55,263.81 407.26,263.82 407.96,263.83 408.66,263.84 409.37,263.84 410.07,263.84 410.78,263.84 411.48,263.84 412.18,263.83 412.89,263.82 413.59,263.81 414.3,263.8 415,263.78 415.7,263.76 416.4,263.74 417.1,263.71 417.79,263.68 418.48,263.65 419.17,263.61 419.85,263.57 420.54,263.53 421.22,263.48 421.9,263.43 422.58,263.38 423.25,263.33 423.93,263.27 424.6,263.21 425.28,263.15 425.95,263.09 426.62,263.02 427.29,262.95 427.96,262.88 428.63,262.81 429.3,262.73 429.98,262.65 430.65,262.58 431.32,262.49 431.99,262.41 432.66,262.33 433.34,262.24 434.01,262.15 434.69,262.06 435.37,261.97 436.05,261.88 436.73,261.78 437.41,261.69 438.09,261.59 438.78,261.5 439.47,261.4 440.16,261.3 440.86,261.2 441.55,261.1 442.25,261 442.96,260.89 443.66,260.79 444.37,260.69 445.08,260.58 445.8,260.48 446.52,260.37 447.25,260.27 447.97,260.16 448.71,260.06 449.45,259.95 450.19,259.84 450.93,259.74 451.69,259.63 452.44,259.53 453.21,259.42 453.97,259.32 454.75,259.21 455.52,259.11 456.31,259.01 457.1,258.9 457.9,258.8 458.7,258.7 459.33,258.62 459.98,258.54 460.64,258.46 461.31,258.37 461.99,258.29 462.68,258.2 463.38,258.11 464.09,258.02 464.81,257.92 465.54,257.83 466.27,257.73 467.02,257.64 467.77,257.54 468.54,257.44 469.3,257.34 470.08,257.24 470.86,257.14 471.65,257.03 472.44,256.93 473.24,256.82 474.04,256.72 474.85,256.61 475.66,256.5 476.48,256.4 477.29,256.29 478.11,256.18 478.94,256.07 479.76,255.96 480.59,255.85 481.42,255.74 482.24,255.63 483.07,255.52 483.9,255.41 484.73,255.3 485.56,255.19 486.38,255.08 487.21,254.97 488.03,254.86 488.85,254.75 489.67,254.64 490.48,254.53 491.29,254.42 492.1,254.31 492.9,254.2 493.7,254.09 494.49,253.99 495.28,253.88 496.06,253.78 496.83,253.67 497.6,253.57 498.36,253.46 499.11,253.36 499.86,253.26 500.6,253.16 501.32,253.06 502.04,252.97 502.75,252.87 503.45,252.78 504.14,252.68 504.82,252.59 505.49,252.5 506.14,252.41 506.79,252.33 507.42,252.24 508.04,252.16 508.64,252.08 509.24,252 509.82,251.92 510.38,251.84 510.93,251.77 511.47,251.69 511.99,251.62 512.49,251.56 512.98,251.49 513.45,251.43 513.9,251.37 514.34,251.31 514.76,251.25 515.16,251.2 515.54,251.15 515.9,251.1" fill="none" stroke="#3030ff" stroke-width="1.2" stroke-linejoin="round" />
<line x1="323.8" y1="251.1" x2="516" y2="251.1" stroke="#ff2020" stroke-width="1.0" />
<polyline points="323.8,227 324.16,227.09 324.55,227.19 324.95,227.29 325.38,227.41 325.84,227.53 326.31,227.66 326.81,227.8 327.33,227.95 327.87,228.1 328.43,228.26 329.01,228.42 329.61,228.59 330.23,228.76 330.88,228.94 331.54,229.12 332.22,229.31 332.93,229.49 333.65,229.68 334.39,229.88 335.15,230.07 335.92,230.26 336.72,230.46 337.53,230.65 338.36,230.85 339.21,231.04 340.08,231.24 340.96,231.43 341.86,231.62 342.78,231.81 343.71,231.99 344.66,232.18 345.62,232.36 346.6,232.53 347.6,232.7 348.15,232.79 348.7,232.89 349.27,232.98 349.85,233.08 350.44,233.19 351.04,233.29 351.65,233.4 352.26,233.5 352.89,233.61 353.52,233.73 354.17,233.84 354.82,233.95 355.48,234.07 356.14,234.19 356.81,234.3 357.49,234.42 358.18,234.54 358.87,234.66 359.57,234.78 360.28,234.9 360.99,235.02 361.7,235.14 362.42,235.26 363.15,235.38 363.88,235.5 364.61,235.62 365.35,235.74 366.09,235.86 366.83,235.98 367.58,236.09 368.33,236.21 369.08,236.32 369.84,236.43 370.59,236.54 371.35,236.65 372.11,236.75 372.87,236.86 373.63,236.96 374.39,237.06 375.15,237.16 375.91,237.25 376.67,237.34 377.43,237.43 378.18,237.52 378.94,237.6 379.69,237.68 380.45,237.76 381.2,237.83 381.95,237.9 382.69,237.96 383.43,238.03 384.17,238.08 384.91,238.14 385.64,238.18 386.37,238.23 387.09,238.27 387.81,238.3 388.52,238.33 389.23,238.36 389.93,238.37 390.63,238.39 391.32,238.4 392,238.4 392.73,238.4 393.45,238.39 394.17,238.37 394.9,238.35 395.62,238.33 396.34,238.29 397.06,238.26 397.78,238.21 398.5,238.17 399.22,238.12 399.94,238.06 400.65,238 401.37,237.93 402.08,237.86 402.8,237.79 403.51,237.71 404.22,237.63 404.93,237.54 405.64,237.45 406.35,237.36 407.06,237.27 407.77,237.17 408.47,237.07 409.18,236.96 409.88,236.85 410.59,236.74 411.29,236.63 411.99,236.52 412.69,236.4 413.39,236.28 414.09,236.16 414.79,236.04 415.49,235.92 416.19,235.8 416.88,235.67 417.58,235.54 418.27,235.42 418.96,235.29 419.65,235.16 420.35,235.03 421.04,234.9 421.73,234.77 422.41,234.64 423.1,234.52 423.79,234.39 424.47,234.26 425.16,234.13 425.84,234 426.52,233.88 427.21,233.75 427.89,233.63 428.57,233.51 429.25,233.39 429.92,233.27 430.6,233.15 431.28,233.03 431.95,232.92 432.63,232.81 433.3,232.7 434.04,232.58 434.78,232.46 435.52,232.34 436.27,232.21 437.02,232.08 437.78,231.95 438.53,231.82 439.29,231.69 440.06,231.55 440.82,231.41 441.58,231.27 442.35,231.13 443.11,230.99 443.88,230.85 444.64,230.71 445.41,230.56 446.18,230.42 446.94,230.27 447.7,230.13 448.47,229.98 449.23,229.84 449.99,229.69 450.74,229.54 451.5,229.4 452.25,229.25 452.99,229.11 453.74,228.96 454.48,228.82 455.21,228.68 455.95,228.53 456.67,228.39 457.39,228.25 458.11,228.11 458.82,227.97 459.53,227.84 460.23,227.7 460.92,227.57 461.6,227.44 462.28,227.31 462.95,227.18 463.62,227.06 464.27,226.94 464.92,226.82 465.56,226.7 466.19,226.59 466.81,226.48 467.42,226.37 468.02,226.26 468.61,226.16 469.19,226.06 469.76,225.96 470.32,225.87 470.86,225.78 471.4,225.7 472.43,225.54 473.4,225.39 474.32,225.25 475.19,225.12 476.02,224.99 476.8,224.88 477.55,224.77 478.26,224.67 478.94,224.58 479.6,224.5 480.23,224.42 480.85,224.35 481.45,224.28 482.04,224.22 482.62,224.17 483.2,224.12 483.78,224.07 484.37,224.03 484.97,223.99 485.57,223.96 486.2,223.93 486.84,223.9 487.51,223.88 488.21,223.86 488.93,223.84 489.7,223.82 490.5,223.8 491.13,223.79 491.79,223.79 492.48,223.78 493.19,223.79 493.91,223.8 494.66,223.81 495.43,223.83 496.21,223.85 497,223.87 497.81,223.9 498.62,223.92 499.44,223.96 500.27,223.99 501.09,224.02 501.92,224.06 502.75,224.1 503.57,224.14 504.39,224.18 505.21,224.22 506.01,224.27 506.8,224.31 507.58,224.35 508.34,224.39 509.08,224.43 509.81,224.47 510.51,224.51 511.19,224.55 511.84,224.59 512.47,224.62 513.06,224.66 513.63,224.69 514.16,224.72 514.65,224.74 515.11,224.76 515.53,224.78 515.9,224.8" fill="none" stroke="#229922" stroke-width="1.2" stroke-linejoin="round" />
</g>
<rect x="323.8" y="224" width="192.3" height="49.3" fill="none" stroke="#555" stroke-width="1"/>
<rect x="495" y="226" width="19.5" height="16.5" fill="#fff" stroke="#555" stroke-width="0.6"/>
<line x1="496.5" y1="228.8" x2="505" y2="228.8" stroke="#222" stroke-width="0.8" />
<text x="506" y="229.9" font-size="3.2" text-anchor="start" fill="#333" font-weight="normal" stroke="#333" stroke-width="0.05" >max</text>
<line x1="496.5" y1="232.7" x2="505" y2="232.7" stroke="#3030ff" stroke-width="0.8" />
<text x="506" y="233.8" font-size="3.2" text-anchor="start" fill="#333" font-weight="normal" stroke="#333" stroke-width="0.05" >interm</text>
<line x1="496.5" y1="236.6" x2="505" y2="236.6" stroke="#ff2020" stroke-width="0.8" />
<text x="506" y="237.7" font-size="3.2" text-anchor="start" fill="#333" font-weight="normal" stroke="#333" stroke-width="0.05" >min</text>
<line x1="496.5" y1="240.5" x2="505" y2="240.5" stroke="#229922" stroke-width="0.8" />
<text x="506" y="241.6" font-size="3.2" text-anchor="start" fill="#333" font-weight="normal" stroke="#333" stroke-width="0.05" >dBt</text>
<text x="327.5" y="234" font-size="9" text-anchor="start" fill="#111" font-weight="normal" stroke="#111" stroke-width="0.15" >(h)</text>
<text x="320.8" y="239" font-size="8.5" text-anchor="end" fill="#111" font-weight="normal" stroke="#111" stroke-width="0.14" >1</text>
<text x="320.8" y="253.7" font-size="8.5" text-anchor="end" fill="#111" font-weight="normal" stroke="#111" stroke-width="0.14" >0</text>
<text x="320.8" y="269.4" font-size="8.5" text-anchor="end" fill="#111" font-weight="normal" stroke="#111" stroke-width="0.14" >-1</text>
<line x1="323.8" y1="236.2" x2="325.8" y2="236.2" stroke="#555" stroke-width="0.8" />
<line x1="514.1" y1="236.2" x2="516.1" y2="236.2" stroke="#555" stroke-width="0.8" />
<line x1="323.8" y1="251.1" x2="325.8" y2="251.1" stroke="#555" stroke-width="0.8" />
<line x1="514.1" y1="251.1" x2="516.1" y2="251.1" stroke="#555" stroke-width="0.8" />
<line x1="323.8" y1="266" x2="325.8" y2="266" stroke="#555" stroke-width="0.8" />
<line x1="514.1" y1="266" x2="516.1" y2="266" stroke="#555" stroke-width="0.8" />
<text x="305.7" y="249" font-size="8.5" text-anchor="middle" fill="#111" font-weight="normal" stroke="#111" stroke-width="0.14" transform="rotate(-90 305.7 249)" dy="3">δB (nT)</text>
<text x="369.2" y="282.5" font-size="7.7" text-anchor="middle" fill="#111" font-weight="normal" stroke="#111" stroke-width="0.13" textLength="30.2" lengthAdjust="spacingAndGlyphs">12:38:40</text>
<text x="437.1" y="282.5" font-size="7.7" text-anchor="middle" fill="#111" font-weight="normal" stroke="#111" stroke-width="0.13" textLength="30.2" lengthAdjust="spacingAndGlyphs">12:38:42</text>
<text x="500.6" y="282.5" font-size="7.7" text-anchor="middle" fill="#111" font-weight="normal" stroke="#111" stroke-width="0.13" textLength="30.2" lengthAdjust="spacingAndGlyphs">12:38:44</text>
<line x1="369.5" y1="273.3" x2="369.5" y2="271.3" stroke="#555" stroke-width="0.8" />
<line x1="437" y1="273.3" x2="437" y2="271.3" stroke="#555" stroke-width="0.8" />
<line x1="504" y1="273.3" x2="504" y2="271.3" stroke="#555" stroke-width="0.8" />
<line x1="324.8" y1="339.2" x2="516.9" y2="339.2" stroke="#333" stroke-width="1.1" />
<polyline points="323.8,333.5 324.16,333.48 324.55,333.45 324.95,333.43 325.37,333.4 325.81,333.36 326.27,333.33 326.74,333.29 327.24,333.25 327.74,333.2 328.27,333.16 328.81,333.11 329.37,333.06 329.94,333.01 330.53,332.96 331.13,332.9 331.74,332.85 332.37,332.79 333.01,332.73 333.67,332.68 334.34,332.62 335.02,332.56 335.71,332.5 336.41,332.44 337.12,332.38 337.85,332.32 338.58,332.26 339.33,332.2 340.08,332.14 340.84,332.09 341.62,332.03 342.4,331.97 343.18,331.92 343.98,331.86 344.78,331.81 345.59,331.76 346.41,331.71 347.23,331.66 348.06,331.62 348.89,331.57 349.73,331.53 350.57,331.49 351.42,331.46 352.27,331.43 353.13,331.39 353.98,331.37 354.84,331.34 355.7,331.32 356.57,331.3 357.43,331.29 358.3,331.28 359.17,331.27 360.03,331.27 360.9,331.27 361.77,331.28 362.63,331.29 363.5,331.3 364.1,331.31 364.71,331.33 365.33,331.35 365.95,331.36 366.59,331.39 367.23,331.41 367.87,331.44 368.53,331.46 369.18,331.49 369.85,331.52 370.52,331.56 371.2,331.59 371.89,331.63 372.58,331.67 373.27,331.71 373.97,331.75 374.67,331.79 375.38,331.84 376.1,331.88 376.82,331.93 377.54,331.98 378.27,332.03 379,332.08 379.73,332.13 380.47,332.18 381.21,332.24 381.95,332.29 382.69,332.35 383.44,332.41 384.19,332.46 384.94,332.52 385.7,332.58 386.45,332.64 387.21,332.7 387.97,332.77 388.73,332.83 389.49,332.89 390.25,332.95 391.01,333.02 391.77,333.08 392.53,333.14 393.29,333.21 394.05,333.27 394.81,333.34 395.57,333.4 396.33,333.47 397.09,333.53 397.84,333.6 398.59,333.66 399.35,333.73 400.1,333.79 400.84,333.86 401.59,333.92 402.33,333.99 403.07,334.05 403.81,334.11 404.54,334.17 405.27,334.24 405.99,334.3 406.71,334.36 407.43,334.42 408.15,334.48 408.85,334.54 409.56,334.59 410.26,334.65 410.95,334.71 411.64,334.76 412.32,334.82 413,334.87 413.67,334.92 414.34,334.97 414.99,335.02 415.65,335.07 416.29,335.11 416.93,335.16 417.56,335.2 418.18,335.25 418.8,335.29 419.41,335.33 420.01,335.36 420.6,335.4 421.47,335.45 422.32,335.5 423.16,335.55 423.98,335.6 424.78,335.65 425.56,335.7 426.33,335.74 427.09,335.79 427.83,335.83 428.56,335.87 429.27,335.91 429.98,335.95 430.67,335.99 431.35,336.03 432.02,336.07 432.69,336.11 433.35,336.14 434,336.18 434.64,336.21 435.28,336.25 435.91,336.28 436.54,336.31 437.16,336.34 437.78,336.37 438.4,336.4 439.02,336.43 439.64,336.46 440.25,336.48 440.87,336.51 441.49,336.54 442.11,336.56 442.74,336.59 443.37,336.61 444,336.63 444.64,336.66 445.28,336.68 445.93,336.7 446.59,336.72 447.26,336.74 447.93,336.76 448.61,336.78 449.31,336.8 450.01,336.82 450.73,336.84 451.46,336.85 452.2,336.87 452.96,336.89 453.73,336.91 454.51,336.92 455.32,336.94 456.14,336.95 456.97,336.97 457.83,336.99 458.7,337 459.3,337.01 459.91,337.02 460.53,337.03 461.17,337.04 461.82,337.04 462.48,337.05 463.15,337.06 463.84,337.06 464.54,337.07 465.25,337.08 465.96,337.08 466.69,337.09 467.43,337.09 468.18,337.09 468.93,337.1 469.69,337.1 470.47,337.1 471.24,337.11 472.03,337.11 472.82,337.11 473.62,337.11 474.42,337.12 475.23,337.12 476.04,337.12 476.86,337.12 477.68,337.12 478.5,337.12 479.33,337.12 480.16,337.12 480.99,337.12 481.82,337.12 482.65,337.12 483.49,337.11 484.32,337.11 485.16,337.11 485.99,337.11 486.83,337.11 487.66,337.11 488.49,337.1 489.32,337.1 490.14,337.1 490.97,337.1 491.78,337.09 492.6,337.09 493.41,337.09 494.22,337.08 495.02,337.08 495.81,337.08 496.6,337.08 497.38,337.07 498.16,337.07 498.92,337.07 499.68,337.06 500.43,337.06 501.18,337.06 501.91,337.05 502.63,337.05 503.35,337.05 504.05,337.04 504.74,337.04 505.42,337.04 506.09,337.03 506.75,337.03 507.39,337.03 508.03,337.03 508.64,337.02 509.25,337.02 509.84,337.02 510.41,337.01 510.97,337.01 511.52,337.01 512.04,337.01 512.55,337.01 513.05,337.01 513.53,337 513.99,337 514.43,337 514.85,337 515.25,337 515.64,337 516,337" fill="none" stroke="#ff2020" stroke-width="1.1" stroke-linejoin="round" />
<polyline points="323.8,336 324.16,335.98 324.55,335.97 324.95,335.95 325.37,335.92 325.81,335.9 326.27,335.87 326.74,335.84 327.24,335.81 327.74,335.78 328.27,335.75 328.81,335.71 329.37,335.68 329.94,335.64 330.53,335.6 331.13,335.56 331.74,335.52 332.37,335.48 333.01,335.44 333.67,335.39 334.34,335.35 335.02,335.31 335.71,335.26 336.41,335.22 337.12,335.17 337.85,335.13 338.58,335.09 339.33,335.04 340.08,335 340.84,334.96 341.62,334.92 342.4,334.87 343.18,334.83 343.98,334.79 344.78,334.76 345.59,334.72 346.41,334.68 347.23,334.65 348.06,334.62 348.89,334.58 349.73,334.55 350.57,334.53 351.42,334.5 352.27,334.48 353.13,334.45 353.98,334.43 354.84,334.42 355.7,334.4 356.57,334.39 357.43,334.38 358.3,334.37 359.17,334.37 360.03,334.37 360.9,334.37 361.77,334.38 362.63,334.39 363.5,334.4 364.1,334.41 364.71,334.42 365.33,334.44 365.95,334.45 366.59,334.47 367.23,334.49 367.87,334.51 368.53,334.53 369.18,334.55 369.85,334.58 370.52,334.6 371.2,334.63 371.89,334.66 372.58,334.69 373.27,334.72 373.97,334.75 374.67,334.78 375.38,334.82 376.1,334.85 376.82,334.89 377.54,334.93 378.27,334.97 379,335.01 379.73,335.05 380.47,335.09 381.21,335.13 381.95,335.17 382.69,335.21 383.44,335.26 384.19,335.3 384.94,335.35 385.7,335.39 386.45,335.44 387.21,335.49 387.97,335.53 388.73,335.58 389.49,335.63 390.25,335.68 391.01,335.73 391.77,335.78 392.53,335.82 393.29,335.87 394.05,335.92 394.81,335.97 395.57,336.02 396.33,336.07 397.09,336.12 397.84,336.17 398.59,336.22 399.35,336.27 400.1,336.32 400.84,336.37 401.59,336.42 402.33,336.47 403.07,336.52 403.81,336.57 404.54,336.62 405.27,336.67 405.99,336.72 406.71,336.76 407.43,336.81 408.15,336.86 408.85,336.9 409.56,336.95 410.26,336.99 410.95,337.04 411.64,337.08 412.32,337.13 413,337.17 413.67,337.21 414.34,337.25 414.99,337.29 415.65,337.33 416.29,337.36 416.93,337.4 417.56,337.44 418.18,337.47 418.8,337.51 419.41,337.54 420.01,337.57 420.6,337.6 421.47,337.64 422.32,337.69 423.16,337.73 423.98,337.77 424.78,337.82 425.56,337.86 426.33,337.9 427.09,337.94 427.83,337.98 428.56,338.02 429.27,338.06 429.98,338.09 430.67,338.13 431.35,338.17 432.02,338.2 432.69,338.24 433.35,338.28 434,338.31 434.64,338.35 435.28,338.38 435.91,338.41 436.54,338.44 437.16,338.48 437.78,338.51 438.4,338.54 439.02,338.57 439.64,338.6 440.25,338.63 440.87,338.66 441.49,338.69 442.11,338.71 442.74,338.74 443.37,338.77 444,338.79 444.64,338.82 445.28,338.84 445.93,338.87 446.59,338.89 447.26,338.92 447.93,338.94 448.61,338.96 449.31,338.98 450.01,339 450.73,339.02 451.46,339.04 452.2,339.06 452.96,339.08 453.73,339.1 454.51,339.12 455.32,339.14 456.14,339.15 456.97,339.17 457.83,339.18 458.7,339.2 459.3,339.21 459.91,339.22 460.53,339.23 461.17,339.24 461.82,339.24 462.48,339.25 463.15,339.26 463.84,339.26 464.54,339.27 465.25,339.28 465.96,339.28 466.69,339.29 467.43,339.29 468.18,339.29 468.93,339.3 469.69,339.3 470.47,339.3 471.24,339.31 472.03,339.31 472.82,339.31 473.62,339.31 474.42,339.32 475.23,339.32 476.04,339.32 476.86,339.32 477.68,339.32 478.5,339.32 479.33,339.32 480.16,339.32 480.99,339.32 481.82,339.32 482.65,339.32 483.49,339.31 484.32,339.31 485.16,339.31 485.99,339.31 486.83,339.31 487.66,339.31 488.49,339.3 489.32,339.3 490.14,339.3 490.97,339.3 491.78,339.29 492.6,339.29 493.41,339.29 494.22,339.28 495.02,339.28 495.81,339.28 496.6,339.28 497.38,339.27 498.16,339.27 498.92,339.27 499.68,339.26 500.43,339.26 501.18,339.26 501.91,339.25 502.63,339.25 503.35,339.25 504.05,339.24 504.74,339.24 505.42,339.24 506.09,339.23 506.75,339.23 507.39,339.23 508.03,339.23 508.64,339.22 509.25,339.22 509.84,339.22 510.41,339.21 510.97,339.21 511.52,339.21 512.04,339.21 512.55,339.21 513.05,339.21 513.53,339.2 513.99,339.2 514.43,339.2 514.85,339.2 515.25,339.2 515.64,339.2 516,339.2" fill="none" stroke="#2020ff" stroke-width="1.1" stroke-linejoin="round" />
<rect x="324.8" y="309.5" width="192.1" height="59.8" fill="none" stroke="#555" stroke-width="1"/>
<text x="329.5" y="322" font-size="9" text-anchor="start" fill="#111" font-weight="normal" stroke="#111" stroke-width="0.15" >(i)</text>
<text x="447.6" y="352.6" font-size="6.5" text-anchor="start" fill="#0000ff" font-weight="normal" stroke="#0000ff" stroke-width="0.11" textLength="60.4" lengthAdjust="spacingAndGlyphs">Results from MVA</text>
<text x="445.4" y="359" font-size="6.5" text-anchor="start" fill="#ff0000" font-weight="normal" stroke="#ff0000" stroke-width="0.11" textLength="65.7" lengthAdjust="spacingAndGlyphs">Results from Timing</text>
<text x="321" y="315.9" font-size="8.5" text-anchor="end" fill="#111" font-weight="normal" stroke="#111" stroke-width="0.14" >180</text>
<text x="321.2" y="312.4" font-size="4.5" text-anchor="start" fill="#111" font-weight="normal" stroke="#111" stroke-width="0.07" >o</text>
<text x="321" y="342.2" font-size="8.5" text-anchor="end" fill="#111" font-weight="normal" stroke="#111" stroke-width="0.14" >90</text>
<text x="321.2" y="338.7" font-size="4.5" text-anchor="start" fill="#111" font-weight="normal" stroke="#111" stroke-width="0.07" >o</text>
<text x="321" y="369.2" font-size="8.5" text-anchor="end" fill="#111" font-weight="normal" stroke="#111" stroke-width="0.14" >0</text>
<text x="321.2" y="365.7" font-size="4.5" text-anchor="start" fill="#111" font-weight="normal" stroke="#111" stroke-width="0.07" >o</text>
<text x="371.4" y="378.9" font-size="7.7" text-anchor="middle" fill="#111" font-weight="normal" stroke="#111" stroke-width="0.13" textLength="30.2" lengthAdjust="spacingAndGlyphs">12:38:30</text>
<text x="420" y="378.9" font-size="7.7" text-anchor="middle" fill="#111" font-weight="normal" stroke="#111" stroke-width="0.13" textLength="30.2" lengthAdjust="spacingAndGlyphs">12:38:45</text>
<text x="468.3" y="378.9" font-size="7.7" text-anchor="middle" fill="#111" font-weight="normal" stroke="#111" stroke-width="0.13" textLength="30.2" lengthAdjust="spacingAndGlyphs">12:39:00</text>
<line x1="371.6" y1="369.3" x2="371.6" y2="367.3" stroke="#555" stroke-width="0.8" />
<line x1="418.8" y1="369.3" x2="418.8" y2="367.3" stroke="#555" stroke-width="0.8" />
<line x1="466.6" y1="369.3" x2="466.6" y2="367.3" stroke="#555" stroke-width="0.8" />
<text x="419" y="392" font-size="8.8" text-anchor="middle" fill="#111" font-weight="normal" stroke="#111" stroke-width="0.15" >2018-07-06 UTC</text>
<line x1="544.8" y1="156.3" x2="739.7" y2="156.3" stroke="#999" stroke-width="1.8" stroke-dasharray="5,3"/>
<clipPath id="cll"><rect x="544.8" y="129.8" width="194.9" height="51.9"/></clipPath><g clip-path="url(#cll)">
<polyline points="545.3,150.6 545.82,150.57 546.33,150.5 546.85,150.4 547.37,150.3 547.88,150.23 548.4,150.2 548.91,150.22 549.42,150.29 549.92,150.41 550.43,150.57 550.94,150.77 551.45,151.01 551.95,151.3 552.46,151.62 552.97,151.99 553.48,152.38 553.98,152.81 554.49,153.27 555,153.75 555.51,154.26 556.02,154.78 556.52,155.32 557.03,155.88 557.54,156.44 558.05,157.01 558.55,157.59 559.06,158.16 559.57,158.72 560.08,159.28 560.58,159.82 561.09,160.34 561.6,160.85 562.11,161.33 562.62,161.79 563.12,162.22 563.63,162.61 564.14,162.98 564.65,163.3 565.15,163.59 565.66,163.83 566.17,164.03 566.68,164.19 567.18,164.31 567.69,164.38 568.2,164.4 568.7,164.37 569.21,164.26 569.71,164.1 570.21,163.86 570.71,163.56 571.22,163.2 571.72,162.78 572.22,162.3 572.72,161.77 573.23,161.19 573.73,160.56 574.23,159.89 574.73,159.19 575.24,158.45 575.74,157.68 576.24,156.89 576.74,156.09 577.25,155.27 577.75,154.45 578.25,153.63 578.76,152.81 579.26,152.01 579.76,151.22 580.26,150.45 580.77,149.71 581.27,149.01 581.77,148.34 582.27,147.71 582.78,147.13 583.28,146.6 583.78,146.12 584.28,145.7 584.79,145.34 585.29,145.04 585.79,144.8 586.29,144.64 586.8,144.53 587.3,144.5 587.81,144.55 588.32,144.69 588.82,144.93 589.33,145.27 589.84,145.69 590.35,146.21 590.86,146.81 591.37,147.48 591.88,148.23 592.38,149.05 592.89,149.94 593.4,150.88 593.91,151.86 594.42,152.89 594.92,153.95 595.43,155.04 595.94,156.14 596.45,157.25 596.96,158.36 597.47,159.46 597.98,160.55 598.48,161.61 598.99,162.64 599.5,163.62 600.01,164.56 600.52,165.45 601.02,166.27 601.53,167.02 602.04,167.69 602.55,168.29 603.06,168.81 603.57,169.23 604.08,169.57 604.58,169.81 605.09,169.95 605.6,170 606.1,169.94 606.61,169.77 607.11,169.48 607.61,169.08 608.11,168.56 608.62,167.95 609.12,167.23 609.62,166.42 610.13,165.52 610.63,164.54 611.13,163.49 611.63,162.37 612.14,161.2 612.64,159.98 613.14,158.73 613.65,157.45 614.15,156.15 614.65,154.85 615.15,153.55 615.66,152.27 616.16,151.02 616.66,149.8 617.17,148.63 617.67,147.51 618.17,146.46 618.67,145.48 619.18,144.58 619.68,143.77 620.18,143.05 620.69,142.44 621.19,141.92 621.69,141.52 622.19,141.23 622.7,141.06 623.2,141 623.7,141.06 624.21,141.24 624.71,141.53 625.21,141.93 625.71,142.45 626.22,143.07 626.72,143.8 627.22,144.62 627.73,145.53 628.23,146.52 628.73,147.58 629.23,148.71 629.74,149.89 630.24,151.12 630.74,152.39 631.25,153.68 631.75,154.99 632.25,156.31 632.75,157.62 633.26,158.91 633.76,160.18 634.26,161.41 634.77,162.59 635.27,163.72 635.77,164.78 636.27,165.77 636.78,166.68 637.28,167.5 637.78,168.23 638.29,168.85 638.79,169.37 639.29,169.77 639.79,170.06 640.3,170.24 640.8,170.3 641.31,170.24 641.82,170.07 642.32,169.79 642.83,169.4 643.34,168.89 643.85,168.29 644.36,167.59 644.87,166.79 645.38,165.91 645.88,164.94 646.39,163.9 646.9,162.8 647.41,161.64 647.92,160.43 648.42,159.18 648.93,157.9 649.44,156.61 649.95,155.3 650.46,153.99 650.97,152.7 651.48,151.42 651.98,150.17 652.49,148.96 653,147.8 653.51,146.7 654.02,145.66 654.52,144.69 655.03,143.81 655.54,143.01 656.05,142.31 656.56,141.71 657.07,141.2 657.58,140.81 658.08,140.53 658.59,140.36 659.1,140.3 659.61,140.36 660.12,140.53 660.62,140.82 661.13,141.22 661.64,141.73 662.15,142.34 662.66,143.06 663.17,143.87 663.67,144.77 664.18,145.75 664.69,146.8 665.2,147.93 665.71,149.11 666.22,150.33 666.73,151.6 667.23,152.9 667.74,154.22 668.25,155.55 668.76,156.88 669.27,158.2 669.77,159.5 670.28,160.77 670.79,161.99 671.3,163.18 671.81,164.3 672.32,165.35 672.83,166.33 673.33,167.23 673.84,168.04 674.35,168.76 674.86,169.37 675.37,169.88 675.88,170.28 676.38,170.57 676.89,170.74 677.4,170.8 677.91,170.75 678.42,170.6 678.92,170.35 679.43,169.99 679.94,169.55 680.45,169.01 680.96,168.39 681.47,167.68 681.98,166.89 682.48,166.03 682.99,165.11 683.5,164.12 684.01,163.09 684.52,162.02 685.02,160.91 685.53,159.77 686.04,158.61 686.55,157.45 687.06,156.29 687.57,155.13 688.08,153.99 688.58,152.88 689.09,151.81 689.6,150.78 690.11,149.79 690.62,148.87 691.12,148.01 691.63,147.22 692.14,146.51 692.65,145.89 693.16,145.35 693.67,144.91 694.18,144.55 694.68,144.3 695.19,144.15 695.7,144.1 696.21,144.14 696.72,144.25 697.23,144.43 697.73,144.68 698.24,144.99 698.75,145.38 699.26,145.83 699.77,146.33 700.28,146.9 700.78,147.51 701.29,148.17 701.8,148.88 702.31,149.61 702.82,150.38 703.33,151.18 703.83,151.99 704.34,152.82 704.85,153.65 705.36,154.48 705.87,155.31 706.38,156.12 706.88,156.92 707.39,157.69 707.9,158.42 708.41,159.13 708.92,159.79 709.42,160.4 709.93,160.97 710.44,161.47 710.95,161.92 711.46,162.31 711.97,162.62 712.48,162.87 712.98,163.05 713.49,163.16 714,163.2 714.5,163.18 715,163.1 715.5,162.98 716,162.82 716.5,162.61 717,162.36 717.5,162.07 718,161.74 718.5,161.37 719,160.98 719.5,160.56 720,160.11 720.5,159.65 721,159.18 721.5,158.69 722,158.2 722.5,157.71 723,157.22 723.5,156.75 724,156.29 724.5,155.84 725,155.42 725.5,155.03 726,154.66 726.5,154.33 727,154.04 727.5,153.79 728,153.58 728.5,153.42 729,153.3 729.5,153.22 730,153.2 730.5,153.22 731,153.28 731.5,153.39 732,153.53 732.5,153.7 733,153.9 733.5,154.13 734,154.37 734.5,154.62 735,154.88 735.5,155.13 736,155.37 736.5,155.6 737,155.8 737.5,155.97 738,156.11 738.5,156.22 739,156.28 739.5,156.3" fill="none" stroke="#222" stroke-width="1.1" stroke-linejoin="round" />
<polyline points="545.3,151.7 545.86,151.77 546.41,151.98 546.97,152.28 547.53,152.62 548.09,152.92 548.64,153.13 549.2,153.2 549.71,153.25 550.22,153.4 550.73,153.65 551.23,153.99 551.74,154.42 552.25,154.93 552.76,155.51 553.27,156.15 553.77,156.84 554.28,157.57 554.79,158.33 555.3,159.1 555.81,159.87 556.32,160.63 556.83,161.36 557.33,162.05 557.84,162.69 558.35,163.27 558.86,163.78 559.37,164.21 559.88,164.55 560.38,164.8 560.89,164.95 561.4,165 561.9,164.96 562.41,164.85 562.91,164.67 563.41,164.42 563.91,164.1 564.42,163.71 564.92,163.26 565.42,162.74 565.92,162.17 566.43,161.55 566.93,160.87 567.43,160.15 567.93,159.39 568.44,158.6 568.94,157.77 569.44,156.93 569.94,156.06 570.45,155.18 570.95,154.3 571.45,153.42 571.96,152.54 572.46,151.67 572.96,150.83 573.46,150 573.97,149.21 574.47,148.45 574.97,147.73 575.47,147.05 575.98,146.43 576.48,145.86 576.98,145.34 577.48,144.89 577.99,144.5 578.49,144.18 578.99,143.93 579.49,143.75 580,143.64 580.5,143.6 581,143.66 581.5,143.83 582,144.12 582.5,144.52 583,145.02 583.5,145.63 584,146.34 584.5,147.14 585,148.03 585.5,149 586,150.04 586.5,151.15 587,152.31 587.5,153.52 588,154.76 588.5,156.02 589,157.31 589.5,158.59 590,159.88 590.5,161.14 591,162.38 591.5,163.59 592,164.75 592.5,165.86 593,166.9 593.5,167.87 594,168.76 594.5,169.56 595,170.27 595.5,170.88 596,171.38 596.5,171.78 597,172.07 597.5,172.24 598,172.3 598.5,172.24 599.01,172.06 599.51,171.75 600.01,171.33 600.51,170.79 601.02,170.14 601.52,169.39 602.02,168.53 602.52,167.57 603.03,166.52 603.53,165.39 604.03,164.19 604.53,162.92 605.04,161.59 605.54,160.21 606.04,158.79 606.54,157.35 607.05,155.88 607.55,154.4 608.05,152.92 608.56,151.45 609.06,150.01 609.56,148.59 610.06,147.21 610.57,145.88 611.07,144.61 611.57,143.41 612.07,142.28 612.58,141.23 613.08,140.27 613.58,139.41 614.08,138.66 614.59,138.01 615.09,137.47 615.59,137.05 616.09,136.74 616.6,136.56 617.1,136.5 617.6,136.58 618.11,136.82 618.61,137.21 619.11,137.76 619.61,138.46 620.12,139.3 620.62,140.28 621.12,141.39 621.63,142.62 622.13,143.95 622.63,145.39 623.13,146.92 623.64,148.52 624.14,150.18 624.64,151.89 625.15,153.64 625.65,155.41 626.15,157.19 626.65,158.96 627.16,160.71 627.66,162.42 628.16,164.08 628.67,165.68 629.17,167.21 629.67,168.65 630.17,169.98 630.68,171.21 631.18,172.32 631.68,173.3 632.19,174.14 632.69,174.84 633.19,175.39 633.69,175.78 634.2,176.02 634.7,176.1 635.2,176.04 635.7,175.87 636.21,175.58 636.71,175.17 637.21,174.66 637.71,174.04 638.22,173.31 638.72,172.49 639.22,171.56 639.72,170.55 640.23,169.46 640.73,168.28 641.23,167.04 641.73,165.73 642.24,164.37 642.74,162.96 643.24,161.51 643.74,160.03 644.25,158.53 644.75,157.01 645.25,155.49 645.75,153.97 646.26,152.47 646.76,150.99 647.26,149.54 647.76,148.13 648.27,146.77 648.77,145.46 649.27,144.22 649.77,143.04 650.28,141.95 650.78,140.94 651.28,140.01 651.78,139.19 652.29,138.46 652.79,137.84 653.29,137.33 653.79,136.92 654.3,136.63 654.8,136.46 655.3,136.4 655.8,136.45 656.3,136.6 656.81,136.84 657.31,137.18 657.81,137.62 658.31,138.14 658.82,138.76 659.32,139.46 659.82,140.24 660.32,141.1 660.83,142.02 661.33,143.02 661.83,144.07 662.33,145.17 662.84,146.33 663.34,147.52 663.84,148.75 664.34,150 664.85,151.27 665.35,152.56 665.85,153.84 666.35,155.13 666.86,156.4 667.36,157.65 667.86,158.88 668.36,160.07 668.87,161.23 669.37,162.33 669.87,163.38 670.37,164.38 670.88,165.3 671.38,166.16 671.88,166.94 672.38,167.64 672.89,168.26 673.39,168.78 673.89,169.22 674.39,169.56 674.9,169.8 675.4,169.95 675.9,170 676.41,169.94 676.92,169.76 677.43,169.46 677.94,169.04 678.45,168.52 678.95,167.88 679.46,167.14 679.97,166.31 680.48,165.39 680.99,164.39 681.5,163.33 682.01,162.2 682.52,161.02 683.03,159.8 683.54,158.55 684.05,157.29 684.55,156.01 685.06,154.75 685.57,153.5 686.08,152.28 686.59,151.1 687.1,149.98 687.61,148.91 688.12,147.91 688.63,146.99 689.14,146.16 689.65,145.42 690.15,144.78 690.66,144.26 691.17,143.84 691.68,143.54 692.19,143.36 692.7,143.3 693.21,143.34 693.72,143.46 694.23,143.65 694.73,143.92 695.24,144.27 695.75,144.68 696.26,145.16 696.77,145.71 697.28,146.32 697.78,146.98 698.29,147.69 698.8,148.45 699.31,149.25 699.82,150.08 700.33,150.93 700.83,151.81 701.34,152.7 701.85,153.6 702.36,154.5 702.87,155.39 703.38,156.27 703.88,157.12 704.39,157.95 704.9,158.75 705.41,159.51 705.92,160.22 706.42,160.88 706.93,161.49 707.44,162.04 707.95,162.52 708.46,162.93 708.97,163.28 709.48,163.55 709.98,163.74 710.49,163.86 711,163.9 711.51,163.87 712.01,163.78 712.52,163.62 713.03,163.41 713.53,163.14 714.04,162.81 714.55,162.44 715.05,162.01 715.56,161.55 716.07,161.05 716.57,160.52 717.08,159.96 717.59,159.39 718.09,158.8 718.6,158.2 719.11,157.6 719.61,157.01 720.12,156.44 720.63,155.88 721.13,155.35 721.64,154.85 722.15,154.39 722.65,153.96 723.16,153.59 723.67,153.26 724.17,152.99 724.68,152.78 725.19,152.62 725.69,152.53 726.2,152.5 726.74,152.52 727.28,152.57 727.82,152.64 728.36,152.74 728.9,152.85 729.44,152.96 729.98,153.06 730.52,153.13 731.06,153.18 731.6,153.2 732.13,153.24 732.65,153.36 733.18,153.56 733.71,153.83 734.23,154.15 734.76,154.51 735.29,154.9 735.81,155.3 736.34,155.69 736.87,156.05 737.39,156.37 737.92,156.64 738.45,156.84 738.97,156.96 739.5,157" fill="none" stroke="#ff1a1a" stroke-width="1.1" stroke-linejoin="round" />
<polyline points="545.3,154.8 545.81,154.83 546.32,154.94 546.83,155.11 547.34,155.34 547.86,155.62 548.37,155.95 548.88,156.31 549.39,156.7 549.9,157.1 550.41,157.5 550.92,157.89 551.43,158.25 551.94,158.58 552.46,158.86 552.97,159.09 553.48,159.26 553.99,159.37 554.5,159.4 555,159.39 555.5,159.34 556,159.28 556.5,159.18 557,159.06 557.5,158.91 558,158.74 558.5,158.55 559,158.33 559.5,158.1 560,157.85 560.5,157.58 561,157.31 561.5,157.02 562,156.72 562.5,156.41 563,156.1 563.5,155.8 564,155.49 564.5,155.18 565,154.88 565.5,154.59 566,154.32 566.5,154.05 567,153.8 567.5,153.57 568,153.35 568.5,153.16 569,152.99 569.5,152.84 570,152.72 570.5,152.62 571,152.56 571.5,152.51 572,152.5 572.5,152.51 573,152.53 573.5,152.56 574,152.6 574.5,152.66 575,152.73 575.5,152.82 576,152.91 576.5,153.02 577,153.14 577.5,153.26 578,153.4 578.5,153.55 579,153.7 579.5,153.87 580,154.04 580.5,154.22 581,154.4 581.5,154.59 582,154.79 582.5,154.99 583,155.19 583.5,155.39 584,155.6 584.5,155.8 585,156.01 585.5,156.21 586,156.41 586.5,156.61 587,156.81 587.5,157 588,157.18 588.5,157.36 589,157.53 589.5,157.7 590,157.85 590.5,158 591,158.14 591.5,158.26 592,158.38 592.5,158.49 593,158.58 593.5,158.67 594,158.74 594.5,158.8 595,158.84 595.5,158.87 596,158.89 596.5,158.9 597.01,158.89 597.52,158.86 598.02,158.8 598.53,158.73 599.04,158.63 599.55,158.52 600.06,158.38 600.57,158.23 601.08,158.07 601.58,157.88 602.09,157.68 602.6,157.47 603.11,157.25 603.62,157.02 604.12,156.79 604.63,156.54 605.14,156.3 605.65,156.05 606.16,155.8 606.67,155.56 607.17,155.31 607.68,155.08 608.19,154.85 608.7,154.62 609.21,154.42 609.72,154.22 610.22,154.03 610.73,153.87 611.24,153.72 611.75,153.58 612.26,153.47 612.77,153.37 613.27,153.3 613.78,153.24 614.29,153.21 614.8,153.2 615.31,153.21 615.81,153.23 616.32,153.27 616.83,153.32 617.34,153.39 617.84,153.47 618.35,153.56 618.86,153.66 619.37,153.77 619.87,153.89 620.38,154.02 620.89,154.15 621.4,154.28 621.9,154.42 622.41,154.55 622.92,154.68 623.43,154.81 623.93,154.92 624.44,155.04 624.95,155.14 625.46,155.23 625.96,155.31 626.47,155.38 626.98,155.43 627.49,155.47 627.99,155.49 628.5,155.5 629,155.51 629.51,155.53 630.01,155.57 630.51,155.62 631.01,155.69 631.52,155.78 632.02,155.87 632.52,155.98 633.02,156.11 633.53,156.24 634.03,156.39 634.53,156.54 635.03,156.71 635.54,156.88 636.04,157.05 636.54,157.24 637.04,157.42 637.55,157.61 638.05,157.8 638.55,157.99 639.06,158.18 639.56,158.36 640.06,158.55 640.56,158.72 641.07,158.89 641.57,159.06 642.07,159.21 642.57,159.36 643.08,159.49 643.58,159.62 644.08,159.73 644.58,159.82 645.09,159.91 645.59,159.98 646.09,160.03 646.59,160.07 647.1,160.09 647.6,160.1 648.1,160.08 648.6,160.03 649.11,159.95 649.61,159.83 650.11,159.69 650.61,159.51 651.12,159.3 651.62,159.06 652.12,158.8 652.62,158.51 653.13,158.19 653.63,157.86 654.13,157.5 654.63,157.12 655.14,156.73 655.64,156.33 656.14,155.91 656.64,155.49 657.15,155.05 657.65,154.62 658.15,154.18 658.65,153.75 659.16,153.31 659.66,152.89 660.16,152.47 660.66,152.07 661.17,151.68 661.67,151.3 662.17,150.94 662.67,150.61 663.18,150.29 663.68,150 664.18,149.74 664.68,149.5 665.19,149.29 665.69,149.11 666.19,148.97 666.69,148.85 667.2,148.77 667.7,148.72 668.2,148.7 668.71,148.73 669.22,148.82 669.73,148.96 670.24,149.16 670.76,149.41 671.27,149.72 671.78,150.07 672.29,150.48 672.8,150.93 673.31,151.41 673.82,151.94 674.33,152.5 674.84,153.09 675.36,153.7 675.87,154.33 676.38,154.98 676.89,155.64 677.4,156.3 677.91,156.96 678.42,157.62 678.93,158.27 679.44,158.9 679.96,159.51 680.47,160.1 680.98,160.66 681.49,161.19 682,161.67 682.51,162.12 683.02,162.53 683.53,162.88 684.04,163.19 684.56,163.44 685.07,163.64 685.58,163.78 686.09,163.87 686.6,163.9 687.1,163.87 687.6,163.79 688.1,163.64 688.6,163.45 689.1,163.2 689.6,162.89 690.1,162.54 690.6,162.15 691.1,161.71 691.6,161.23 692.1,160.71 692.6,160.16 693.1,159.59 693.6,158.99 694.1,158.38 694.6,157.75 695.1,157.12 695.6,156.48 696.1,155.85 696.6,155.22 697.1,154.61 697.6,154.01 698.1,153.44 698.6,152.89 699.1,152.37 699.6,151.89 700.1,151.45 700.6,151.06 701.1,150.71 701.6,150.4 702.1,150.15 702.6,149.96 703.1,149.81 703.6,149.73 704.1,149.7 704.6,149.72 705.11,149.77 705.61,149.85 706.11,149.97 706.61,150.13 707.12,150.31 707.62,150.52 708.12,150.76 708.62,151.03 709.13,151.33 709.63,151.65 710.13,151.99 710.63,152.35 711.14,152.72 711.64,153.11 712.14,153.51 712.64,153.92 713.15,154.33 713.65,154.75 714.15,155.17 714.66,155.58 715.16,155.99 715.66,156.39 716.16,156.78 716.67,157.15 717.17,157.51 717.67,157.85 718.17,158.17 718.68,158.47 719.18,158.74 719.68,158.98 720.18,159.19 720.69,159.37 721.19,159.53 721.69,159.65 722.19,159.73 722.7,159.78 723.2,159.8 723.71,159.78 724.22,159.7 724.73,159.58 725.23,159.41 725.74,159.2 726.25,158.95 726.76,158.67 727.27,158.35 727.77,158.01 728.28,157.65 728.79,157.28 729.3,156.9 729.81,156.52 730.32,156.15 730.83,155.79 731.33,155.45 731.84,155.13 732.35,154.85 732.86,154.6 733.37,154.39 733.88,154.22 734.38,154.1 734.89,154.02 735.4,154 735.91,154.06 736.42,154.22 736.94,154.46 737.45,154.75 737.96,155.04 738.48,155.28 738.99,155.44 739.5,155.5" fill="none" stroke="#1a1aff" stroke-width="1.4" stroke-linejoin="round" />
</g>
<rect x="544.8" y="129.8" width="194.9" height="52" fill="none" stroke="#555" stroke-width="1"/>
<text x="553" y="141.8" font-size="9" text-anchor="start" fill="#111" font-weight="normal" stroke="#111" stroke-width="0.15" >(l)</text>
<text x="543.4" y="131.6" font-size="7.6" text-anchor="end" fill="#111" font-weight="normal" stroke="#111" stroke-width="0.13" >2</text>
<text x="543.4" y="157.9" font-size="7.6" text-anchor="end" fill="#111" font-weight="normal" stroke="#111" stroke-width="0.13" >0</text>
<text x="543.4" y="183.4" font-size="7.6" text-anchor="end" fill="#111" font-weight="normal" stroke="#111" stroke-width="0.13" >-2</text>
<text x="535" y="159.3" font-size="7.6" text-anchor="middle" fill="#111" font-weight="normal" stroke="#111" stroke-width="0.13" transform="rotate(-90 535 159.3)" dy="3">δB (nT)</text>
<text x="580.1" y="180" font-size="6.5" text-anchor="middle" fill="#111" font-weight="normal" stroke="#111" stroke-width="0.11" textLength="25.2" lengthAdjust="spacingAndGlyphs">12:38:30</text>
<line x1="593.4" y1="181.8" x2="593.4" y2="180" stroke="#555" stroke-width="0.8" />
<text x="627.5" y="180" font-size="6.5" text-anchor="middle" fill="#111" font-weight="normal" stroke="#111" stroke-width="0.11" textLength="25.2" lengthAdjust="spacingAndGlyphs">12:38:45</text>
<line x1="640.9" y1="181.8" x2="640.9" y2="180" stroke="#555" stroke-width="0.8" />
<text x="675.2" y="180" font-size="6.5" text-anchor="middle" fill="#111" font-weight="normal" stroke="#111" stroke-width="0.11" textLength="25.2" lengthAdjust="spacingAndGlyphs">12:39:00</text>
<line x1="691.1" y1="181.8" x2="691.1" y2="180" stroke="#555" stroke-width="0.8" />
<g><text x="699.50" y="180.00" font-size="5.6" fill="#222" stroke="#222" stroke-width="0.09">δB</text><path d="M706.50,181.20 h2.60 M707.80,181.20 v-2.86" stroke="#222" stroke-width="0.45" fill="none"/><text x="709.26" y="181.20" font-size="4.2" fill="#222">1</text></g>
<g><text x="713.00" y="180.00" font-size="5.6" fill="#ff1a1a" stroke="#ff1a1a" stroke-width="0.09">δB</text><path d="M720.00,181.20 h2.60 M721.30,181.20 v-2.86" stroke="#ff1a1a" stroke-width="0.45" fill="none"/><text x="722.76" y="181.20" font-size="4.2" fill="#ff1a1a">2</text></g>
<text x="727.3" y="180" font-size="5.6" text-anchor="start" fill="#1a1aff" font-weight="normal" stroke="#1a1aff" stroke-width="0.09" >δB<tspan font-size="4.2" dy="1.2">//</tspan></text>
<polyline points="661.38,265.43 660.9,266.67 660.37,267.97 659.8,269.31 659.19,270.71 658.54,272.15 657.85,273.63 657.12,275.15 656.36,276.7 655.56,278.29 654.72,279.9 653.85,281.54 652.95,283.19 652.02,284.86 651.07,286.54 650.08,288.22 649.07,289.91 648.04,291.59 646.99,293.27 645.91,294.93 644.83,296.57 643.72,298.2 642.61,299.79 641.48,301.36 640.35,302.89 639.21,304.37 638.07,305.82 636.92,307.21 635.78,308.56 634.64,309.84 633.51,311.06 632.39,312.22 631.28,313.31 630.19,314.32 629.11,315.26 628.05,316.11 627.01,316.89 626,317.58 625.01,318.17 624.05,318.68 623.12,319.09 622.23,319.41 621.37,319.63 620.55,319.75 619.77,319.77 619.03,319.69 618.33,319.51 617.68,319.22 617.08,318.83 616.53,318.33 616.03,317.73 615.58,317.03 615.19,316.23 614.85,315.33 614.57,314.32 614.35,313.22 614.18,312.03 614.08,310.74 614.03,309.36 614.05,307.89 614.13,306.34 614.27,304.7 614.47,302.99 614.74,301.21 615.07,299.35 615.46,297.43 615.92,295.44 616.43,293.4 617.01,291.31 617.65,289.17 618.34,286.99 619.1,284.8 619.92,282.58 620.79,280.34 621.71,278.07 622.7,275.79 623.73,273.51 624.81,271.22 625.95,268.94 627.12,266.67 628.35,264.41 629.62,262.18 630.92,259.97 632.27,257.8 633.65,255.67 635.06,253.58 636.51,251.55 637.98,249.57 639.47,247.65 640.99,245.81 642.52,244.03 644.08,242.34 645.64,240.73 647.21,239.21 648.79,237.78 650.37,236.45 651.95,235.22 653.53,234.1 655.1,233.09 656.67,232.16 658.22,231.35 659.76,230.66 661.28,230.09 662.78,229.65 664.26,229.34 665.7,229.15 667.11,229.09 668.49,229.17 669.82,229.38 671.12,229.72 672.37,230.2 673.57,230.81 674.72,231.56 675.82,232.44 676.86,233.45 677.85,234.59 678.77,235.86 679.62,237.26 680.41,238.78 681.13,240.42 681.78,242.18 682.36,244.06 682.86,246.04 683.29,248.13 683.64,250.33 683.91,252.62 684.1,255 684.2,257.47 684.23,260.02 684.17,262.65 684.03,265.34 683.8,268.1 683.49,270.92 683.1,273.78 682.62,276.69 682.06,279.63 681.41,282.6 680.69,285.59 679.88,288.59 678.99,291.6 678.01,294.6 676.97,297.6 675.84,300.58 674.64,303.53 673.37,306.45 672.03,309.33 670.62,312.16 669.14,314.93 667.6,317.64 666,320.27 664.34,322.83 662.62,325.3 660.85,327.68 659.04,329.96 657.18,332.13 655.28,334.19 653.34,336.13 651.37,337.94 649.36,339.63 647.33,341.17 645.28,342.58 643.21,343.84 641.12,344.95 639.03,345.91 636.93,346.71 634.83,347.34 632.73,347.82 630.64,348.12 628.56,348.27 626.5,348.3 624.46,348.21 622.44,348 620.45,347.66 618.5,347.2 616.58,346.61 614.71,345.9 612.88,345.07 611.11,344.12 609.38,343.04 607.72,341.84 606.12,340.53 604.59,339.09 603.12,337.54 601.73,335.88 600.41,334.11 599.18,332.22 598.03,330.23 596.96,328.14 595.98,325.95 595.1,323.66 594.3,321.27 593.61,318.8 593.01,316.24 592.51,313.6 592.11,310.88 591.82,308.09 591.67,305.21 591.74,302.22 591.91,299.2 592.19,296.14 592.57,293.05 593.05,289.94 593.64,286.8 594.33,283.65 595.12,280.5 596.01,277.34 597,274.18 598.08,271.03 599.26,267.9 600.52,264.79 601.86,261.71 603.26,258.7 604.74,255.73 606.31,252.82 607.95,249.96 609.68,247.17 611.48,244.44 613.35,241.79 615.28,239.21 617.29,236.72 619.35,234.31 621.46,231.99 623.63,229.76 625.85,227.63 628.11,225.6 630.41,223.68 632.74,221.86 635.1,220.16 637.49,218.56 639.9,217.08 642.32,215.73 644.76,214.49 647.19,213.37 649.63,212.38 652.07,211.51 654.49,210.77 656.9,210.15 659.3,209.67 661.66,209.31 664,209.09 666.31,208.99 668.57,209.02 670.8,209.18 672.97,209.46 675.09,209.88 677.16,210.42 679.16,211.08 681.1,211.87 682.97,212.78 684.76,213.81 686.48,214.96 688.11,216.22 689.66,217.6 691.12,219.08 692.49,220.67 693.77,222.36 694.95,224.16 696.03,226.05 697,228.03 697.87,230.11 698.63,232.27 699.29,234.51 699.83,236.82 700.26,239.21 700.58,241.67 700.79,244.19 700.88,246.77 700.85,249.41 700.71,252.09 700.45,254.82 700.08,257.58 699.59,260.38 698.99,263.21 698.27,266.07 697.44,268.94 696.51,271.82 695.46,274.72 694.3,277.62 693.04,280.51 691.67,283.4 690.2,286.25 688.64,289.07 686.98,291.86 685.22,294.62 683.38,297.36 681.45,300.05 679.45,302.71 677.36,305.32 675.2,307.88 672.97,310.39 670.67,312.83 668.31,315.22 665.9,317.54 663.43,319.79 660.91,321.95 658.35,324 655.75,325.98 653.12,327.86 650.47,329.65 647.81,331.35 645.14,332.95 642.46,334.46 639.78,335.87 637.11,337.17 634.45,338.37 631.81,339.46 629.19,340.45 626.59,341.33 624.03,342.1 621.51,342.76 619.03,343.31 616.59,343.74 614.22,344.07 611.89,344.29 609.63,344.39 607.44,344.39 605.32,344.27 603.28,344.05 601.32,343.71 599.44,343.27 597.65,342.73 595.95,342.07 594.34,341.32 592.84,340.47 591.44,339.51 590.14,338.46 588.95,337.32 587.87,336.08 586.9,334.75 586.05,333.34 585.31,331.84 584.69,330.27 584.19,328.61 583.81,326.88 583.55,325.08 583.42,323.22 583.4,321.29 583.51,319.29 583.74,317.25 584.09,315.15 584.56,313 585.15,310.81 585.86,308.58 586.69,306.31 587.64,304.01 588.7,301.68 589.87,299.32 591.15,296.95 592.54,294.57 594.03,292.17 595.68,289.78 597.46,287.38 599.33,284.98 601.29,282.56 603.32,280.15 605.43,277.73 607.61,275.31 609.86,272.91 612.17,270.51 614.53,268.14 616.95,265.78 619.41,263.45 621.91,261.15 624.45,258.88 627.01,256.5 629.61,254.07 632.22,251.69 634.85,249.37 637.49,247.12 640.13,244.94 642.77,242.83 645.4,240.81 648.02,238.87 650.62,237.03 653.2,235.27 655.75,233.61 658.27,232.06 660.75,230.61 663.19,229.26 665.58,228.03 667.92,226.91 670.21,225.91 672.43,225.02 674.58,224.25 676.67,223.61 678.68,223.09 680.62,222.69 682.47,222.42 684.24,222.28 685.92,222.26 687.51,222.36 689.01,222.6 690.34,223.04 691.52,223.67 692.59,224.42 693.56,225.29 694.41,226.27 695.15,227.37 695.79,228.58 696.31,229.89 696.72,231.32 697.02,232.84 697.2,234.46 697.28,236.17 697.25,237.97 697.1,239.86 696.85,241.82 696.5,243.87 696.03,245.98 695.47,248.16 694.81,250.39 694.04,252.69 693.18,255.03 692.23,257.42 691.19,259.85 690.06,262.31 688.84,264.8 687.55,267.31 686.18,269.84 684.73,272.38 683.21,274.92 681.62,277.47 679.98,280.01 678.27,282.54 676.51,285.05 674.69,287.54 672.84,290 670.93,292.44 669,294.83 667.02,297.18 665.02,299.48 663,301.73 660.95,303.92 658.89,306.05 656.81,308.11 654.73,310.11 652.65,312.02 650.57,313.87 648.5,315.62 646.43,317.3 644.38,318.88 642.35,320.38 640.34,321.78 638.36,323.08 636.41,324.29 634.49,325.39 632.62,326.39 630.78,327.28 628.99,328.07 627.24,328.76 625.55,329.33 623.91,329.8 622.33,330.16 620.81,330.41 619.36,330.55 617.97,330.58 616.64,330.5 615.39,330.32 614.2,330.03 613.09,329.63 612.05,329.13 611.09,328.54 610.21,327.84 609.41,327.04 608.68,326.15 608.04,325.17 607.47,324.1 606.99,322.94 606.58,321.7 606.26,320.37 606.02,318.98 605.86,317.5 605.78,315.96 605.78,314.36 605.85,312.69 606.01,310.96 606.24,309.19 606.54,307.37 606.91,305.5 607.36,303.59 607.88,301.64 608.46,299.67 609.11,297.67 609.83,295.64 610.61,293.6 611.44,291.55 612.34,289.49 613.29,287.43 614.29,285.36 615.34,283.31 616.43,281.31 617.56,279.34 618.74,277.4 619.95,275.48 621.2,273.59 622.48,271.74 623.79,269.92 625.13,268.15 626.49,266.41 627.87,264.73 629.27,263.1 630.69,261.52 632.11,259.99 633.55,258.53 634.99,257.12 636.43,255.78 637.87,254.51 639.3,253.3 640.73,252.16 642.15,251.1 643.55,250.11 644.94,249.19 646.31,248.34 647.66,247.58 648.98,246.89 650.28,246.28 651.55,245.75 652.79,245.29 653.99,244.92 655.16,244.62 656.29,244.41 657.38,244.27 658.43,244.21 659.43,244.22 660.39,244.31 661.3,244.48 662.17,244.72 662.98,245.03 663.75,245.42 664.46,245.87 665.12,246.39 665.73,246.98 666.29,247.63 666.79,248.34 667.23,249.12 667.63,249.94 667.96,250.83 668.24,251.76 668.47,252.75 668.64,253.78 668.76,254.85 668.82,255.97 668.83,257.13 668.79,258.32 668.69,259.54 668.55,260.79 668.37,262.05 668.15,263.33 667.89,264.64 667.57,265.96 667.21,267.3 666.81,268.66 666.36,270.02 665.87,271.39 665.34,272.77 664.78,274.14 664.17,275.52 663.54,276.89 662.87,278.25 662.17,279.6 661.43,280.94 660.68,282.26 659.9,283.56 659.09,284.84 658.26,286.1 657.42,287.33 656.55,288.53 655.68,289.71 654.79,290.85 653.89,291.95 652.98,293.02 652.06,294.04 651.14,295.03 650.22,295.98 649.29,296.88 648.37,297.73 647.46,298.54 646.54,299.31 645.64,300.02 644.74,300.68 643.86,301.3 642.99,301.86 642.14,302.37 641.3,302.83 640.48,303.23 639.67,303.59 638.89,303.89 638.14,304.14 637.4,304.33 636.69,304.47 636.01,304.57 635.36,304.61 634.73,304.6 634.13,304.54 633.57,304.43 633.03,304.27 632.53,304.07 632.06,303.82 631.62,303.52 631.21,303.19 630.84,302.81 630.51,302.39 630.18,301.96 629.88,301.51 629.62,301.01 629.39,300.49 629.2,299.92 629.03,299.33 628.9,298.7 628.81,298.04 628.74,297.36 628.71,296.65 628.71,295.92 628.74,295.17 628.81,294.4 628.9,293.61 629.03,292.8 629.18,291.98 629.36,291.15 629.57,290.31 629.81,289.46 630.07,288.6 630.36,287.74 630.67,286.88 631.01,286.02 631.36,285.16 631.74,284.3 632.14,283.45 632.55,282.61 632.99,281.77 633.44,280.95 633.9,280.14 634.38,279.34 634.87,278.56 635.37,277.8 635.88,277.05 636.39,276.32 636.92,275.62 637.45,274.94 637.99,274.28 638.52,273.65 639.07,273.04 639.61,272.46 640.15,271.91 640.69,271.38 641.22,270.89 641.75,270.42 642.28,269.99 642.8,269.59 643.31,269.22 643.82,268.88" fill="none" stroke="#000" stroke-width="1.1" stroke-linejoin="round" />
<rect x="545.6" y="189.6" width="193.7" height="179.2" fill="none" stroke="#555" stroke-width="1"/>
<text x="552.2" y="201.5" font-size="8.5" text-anchor="start" fill="#111" font-weight="normal" stroke="#111" stroke-width="0.14" >(m)</text>
<text x="543" y="193.4" font-size="7" text-anchor="end" fill="#111" font-weight="normal" stroke="#111" stroke-width="0.12" >2</text>
<text x="543" y="236.7" font-size="7" text-anchor="end" fill="#111" font-weight="normal" stroke="#111" stroke-width="0.12" >1</text>
<line x1="545.6" y1="234.2" x2="547.6" y2="234.2" stroke="#555" stroke-width="0.8" />
<line x1="737.3" y1="234.2" x2="739.3" y2="234.2" stroke="#555" stroke-width="0.8" />
<text x="543" y="281.5" font-size="7" text-anchor="end" fill="#111" font-weight="normal" stroke="#111" stroke-width="0.12" >0</text>
<line x1="545.6" y1="279" x2="547.6" y2="279" stroke="#555" stroke-width="0.8" />
<line x1="737.3" y1="279" x2="739.3" y2="279" stroke="#555" stroke-width="0.8" />
<text x="543" y="326.3" font-size="7" text-anchor="end" fill="#111" font-weight="normal" stroke="#111" stroke-width="0.12" >-1</text>
<line x1="545.6" y1="323.8" x2="547.6" y2="323.8" stroke="#555" stroke-width="0.8" />
<line x1="737.3" y1="323.8" x2="739.3" y2="323.8" stroke="#555" stroke-width="0.8" />
<text x="543" y="370.1" font-size="7" text-anchor="end" fill="#111" font-weight="normal" stroke="#111" stroke-width="0.12" >-2</text>
<text x="546.6" y="378.2" font-size="7" text-anchor="middle" fill="#111" font-weight="normal" stroke="#111" stroke-width="0.12" >-2</text>
<text x="594.95" y="378.2" font-size="7" text-anchor="middle" fill="#111" font-weight="normal" stroke="#111" stroke-width="0.12" >-1</text>
<line x1="593.95" y1="368.8" x2="593.95" y2="366.8" stroke="#555" stroke-width="0.8" />
<line x1="593.95" y1="189.6" x2="593.95" y2="191.6" stroke="#555" stroke-width="0.8" />
<text x="643.8" y="378.2" font-size="7" text-anchor="middle" fill="#111" font-weight="normal" stroke="#111" stroke-width="0.12" >0</text>
<line x1="642.3" y1="368.8" x2="642.3" y2="366.8" stroke="#555" stroke-width="0.8" />
<line x1="642.3" y1="189.6" x2="642.3" y2="191.6" stroke="#555" stroke-width="0.8" />
<text x="692.15" y="378.2" font-size="7" text-anchor="middle" fill="#111" font-weight="normal" stroke="#111" stroke-width="0.12" >1</text>
<line x1="690.65" y1="368.8" x2="690.65" y2="366.8" stroke="#555" stroke-width="0.8" />
<line x1="690.65" y1="189.6" x2="690.65" y2="191.6" stroke="#555" stroke-width="0.8" />
<text x="740.5" y="378.2" font-size="7" text-anchor="middle" fill="#111" font-weight="normal" stroke="#111" stroke-width="0.12" >2</text>
<g><text x="629.21" y="386.80" font-size="7" fill="#111" stroke="#111" stroke-width="0.12">δB</text><path d="M637.93,388.30 h3.10 M639.48,388.30 v-3.40" stroke="#111" stroke-width="0.50" fill="none"/><text x="641.18" y="388.30" font-size="5" fill="#111">1</text><text x="644.11" y="386.80" font-size="7" fill="#111" stroke="#111" stroke-width="0.12">(nT)</text></g>
<g transform="rotate(-90 533 279)"><text x="519.21" y="279.00" font-size="7" fill="#111" stroke="#111" stroke-width="0.12">δB</text><path d="M527.93,280.50 h3.10 M529.48,280.50 v-3.40" stroke="#111" stroke-width="0.50" fill="none"/><text x="531.18" y="280.50" font-size="5" fill="#111">2</text><text x="534.11" y="279.00" font-size="7" fill="#111" stroke="#111" stroke-width="0.12">(nT)</text></g>
<circle cx="640.2" cy="280.1" r="5" fill="none" stroke="#000" stroke-width="1.1"/><circle cx="640.2" cy="280.1" r="0.9" fill="#000"/>
<path d="M663.4,260.8 L665.4,263.3 L663.4,265.8 L661.4,263.3 Z" fill="#1f77d0"/>
<circle cx="641.8" cy="268" r="2.2" fill="none" stroke="#e05a1a" stroke-width="1.2"/>
<path d="M612.5,236 L617,237.6 L614.5,241.5" fill="none" stroke="#1f77d0" stroke-width="1.1"/>
<path d="M694.5,261.5 L697,265.5 L700.5,262.5" fill="none" stroke="#1f77d0" stroke-width="1.1"/>
<path d="M713,193.2 L715,195.5 L713,197.8 L711,195.5 Z" fill="#1f77d0"/>
<text x="717.5" y="198" font-size="7" text-anchor="start" fill="#111" font-weight="normal" stroke="#111" stroke-width="0.12" >start</text>
<circle cx="713" cy="203.3" r="2" fill="none" stroke="#e05a1a" stroke-width="1.2"/>
<text x="717.5" y="206" font-size="7" text-anchor="start" fill="#111" font-weight="normal" stroke="#111" stroke-width="0.12" >end</text>
<circle cx="712.4" cy="348.3" r="4.9" fill="none" stroke="#000" stroke-width="1.1"/><circle cx="712.4" cy="348.3" r="0.9" fill="#000"/>
<line x1="712.4" y1="343.4" x2="712.4" y2="334" stroke="#000" stroke-width="1" />
<path d="M710.2,335.5 L712.4,329.5 L714.6,335.5 Z" fill="#000"/>
<line x1="717.3" y1="348.3" x2="729" y2="348.3" stroke="#000" stroke-width="1" />
<path d="M728,346.1 L733,348.3 L728,350.5 Z" fill="#000"/>
<g><text x="701.50" y="329.00" font-size="4.8" fill="#333" stroke="#333" stroke-width="0.08">δB</text><path d="M707.52,330.00 h2.17 M708.61,330.00 v-2.38" stroke="#333" stroke-width="0.45" fill="none"/><text x="709.84" y="330.00" font-size="3.5" fill="#333">2</text></g>
<g><text x="726.50" y="355.00" font-size="4.8" fill="#333" stroke="#333" stroke-width="0.08">δB</text><path d="M732.52,356.00 h2.17 M733.61,356.00 v-2.38" stroke="#333" stroke-width="0.45" fill="none"/><text x="734.84" y="356.00" font-size="3.5" fill="#333">1</text></g>
<text x="708" y="360" font-size="4.8" text-anchor="start" fill="#333" font-weight="normal" stroke="#333" stroke-width="0.08" >δB<tspan font-size="3.5" dy="1">//</tspan></text>
<clipPath id="clj"><rect x="545.5" y="12.8" width="91.8" height="90.5"/></clipPath><g clip-path="url(#clj)" shape-rendering="crispEdges">
<path fill="#000080" d="M621.5 12.3h12.1v1.5h-12.1zM619.5 13.7h10.1v1.5h-10.1zM619.5 15.1h6.1v1.5h-6.1zM617.5 16.5h4.1v1.5h-4.1zM615.5 17.9h2.1v1.5h-2.1zM635.5 17.9h2.1v1.5h-2.1zM633.5 19.3h4.1v1.5h-4.1zM631.5 20.7h6.1v1.5h-6.1zM631.5 22.1h6.1v1.5h-6.1zM603.5 23.5h2.1v1.5h-2.1zM627.5 23.5h10.1v1.5h-10.1zM625.5 24.9h12.1v1.5h-12.1zM597.5 26.3h2.1v1.5h-2.1zM621.5 26.3h16.1v1.5h-16.1zM591.5 27.7h6.1v1.5h-6.1zM617.5 27.7h20.1v1.5h-20.1zM587.5 29.1h4.1v1.5h-4.1zM615.5 29.1h22.1v1.5h-22.1zM583.5 30.5h4.1v1.5h-4.1zM615.5 30.5h22.1v1.5h-22.1zM553.5 31.9h28.1v1.5h-28.1zM613.5 31.9h10.1v1.5h-10.1zM553.5 33.3h26.1v1.5h-26.1zM611.5 33.3h12.1v1.5h-12.1zM555.5 34.7h22.1v1.5h-22.1zM557.5 36.1h20.1v1.5h-20.1zM559.5 37.5h16.1v1.5h-16.1zM607.5 37.5h30.1v1.5h-30.1zM561.5 38.9h14.1v1.5h-14.1zM605.5 38.9h32.1v1.5h-32.1zM563.5 40.3h10.1v1.5h-10.1zM603.5 40.3h34.1v1.5h-34.1zM565.5 41.7h8.1v1.5h-8.1zM601.5 41.7h36.1v1.5h-36.1zM567.5 43.1h4.1v1.5h-4.1zM599.5 43.1h38.1v1.5h-38.1zM569.5 44.5h2.1v1.5h-2.1zM595.5 44.5h2.1v1.5h-2.1zM601.5 44.5h22.1v1.5h-22.1zM603.5 45.9h14.1v1.5h-14.1zM603.5 47.3h6.1v1.5h-6.1zM599.5 48.7h6.1v1.5h-6.1zM595.5 50.1h4.1v1.5h-4.1zM591.5 51.5h2.1v1.5h-2.1zM575.5 83.7h2.1v1.5h-2.1zM575.5 85.1h2.1v1.5h-2.1zM573.5 86.5h6.1v1.5h-6.1zM573.5 87.9h8.1v1.5h-8.1zM571.5 89.3h10.1v1.5h-10.1zM587.5 89.3h2.1v1.5h-2.1zM569.5 90.7h14.1v1.5h-14.1zM589.5 90.7h4.1v1.5h-4.1zM571.5 92.1h14.1v1.5h-14.1zM591.5 92.1h6.1v1.5h-6.1zM575.5 93.5h12.1v1.5h-12.1zM593.5 93.5h10.1v1.5h-10.1zM579.5 94.9h10.1v1.5h-10.1zM595.5 94.9h12.1v1.5h-12.1zM581.5 96.3h10.1v1.5h-10.1zM597.5 96.3h16.1v1.5h-16.1zM583.5 97.7h10.1v1.5h-10.1zM599.5 97.7h20.1v1.5h-20.1zM585.5 99.1h10.1v1.5h-10.1zM601.5 99.1h24.1v1.5h-24.1zM587.5 100.5h12.1v1.5h-12.1zM603.5 100.5h24.1v1.5h-24.1zM589.5 101.9h12.1v1.5h-12.1zM603.5 101.9h16.1v1.5h-16.1z"/>
<path fill="#00b2ff" d="M633.5 12.3h6.1v1.5h-6.1zM629.5 13.7h2.1v1.5h-2.1zM635.5 13.7h4.1v1.5h-4.1zM625.5 15.1h2.1v1.5h-2.1zM635.5 15.1h4.1v1.5h-4.1zM621.5 16.5h2.1v1.5h-2.1zM635.5 16.5h2.1v1.5h-2.1zM617.5 17.9h2.1v1.5h-2.1zM633.5 17.9h2.1v1.5h-2.1zM609.5 20.7h2.1v1.5h-2.1zM607.5 22.1h2.1v1.5h-2.1zM629.5 22.1h2.1v1.5h-2.1zM601.5 24.9h2.1v1.5h-2.1zM623.5 24.9h2.1v1.5h-2.1zM599.5 26.3h2.1v1.5h-2.1zM619.5 26.3h2.1v1.5h-2.1zM591.5 29.1h2.1v1.5h-2.1zM613.5 30.5h2.1v1.5h-2.1zM581.5 31.9h2.1v1.5h-2.1zM577.5 34.7h2.1v1.5h-2.1zM607.5 36.1h2.1v1.5h-2.1zM575.5 37.5h2.1v1.5h-2.1zM573.5 40.3h2.1v1.5h-2.1zM597.5 43.1h2.1v1.5h-2.1zM567.5 52.9h2.1v1.5h-2.1zM583.5 85.1h2.1v1.5h-2.1zM597.5 99.1h2.1v1.5h-2.1z"/>
<path fill="#00ccff" d="M631.5 13.7h4.1v1.5h-4.1zM627.5 15.1h2.1v1.5h-2.1zM633.5 15.1h2.1v1.5h-2.1zM623.5 16.5h2.1v1.5h-2.1zM633.5 16.5h2.1v1.5h-2.1zM619.5 17.9h2.1v1.5h-2.1zM613.5 19.3h2.1v1.5h-2.1zM631.5 19.3h2.1v1.5h-2.1zM611.5 20.7h2.1v1.5h-2.1zM629.5 20.7h2.1v1.5h-2.1zM627.5 22.1h2.1v1.5h-2.1zM605.5 23.5h2.1v1.5h-2.1zM625.5 23.5h2.1v1.5h-2.1zM621.5 24.9h2.1v1.5h-2.1zM597.5 27.7h2.1v1.5h-2.1zM615.5 27.7h2.1v1.5h-2.1zM593.5 29.1h2.1v1.5h-2.1zM587.5 30.5h2.1v1.5h-2.1zM583.5 31.9h2.1v1.5h-2.1zM611.5 31.9h2.1v1.5h-2.1zM579.5 33.3h2.1v1.5h-2.1zM609.5 33.3h2.1v1.5h-2.1zM605.5 37.5h2.1v1.5h-2.1zM603.5 38.9h2.1v1.5h-2.1zM601.5 40.3h2.1v1.5h-2.1zM599.5 41.7h2.1v1.5h-2.1zM571.5 43.1h2.1v1.5h-2.1zM593.5 44.5h2.1v1.5h-2.1zM591.5 45.9h2.1v1.5h-2.1zM587.5 47.3h4.1v1.5h-4.1zM569.5 54.3h2.1v1.5h-2.1zM581.5 76.7h2.1v1.5h-2.1zM587.5 90.7h2.1v1.5h-2.1z"/>
<path fill="#00e5ff" d="M629.5 15.1h4.1v1.5h-4.1zM625.5 16.5h2.1v1.5h-2.1zM621.5 17.9h2.1v1.5h-2.1zM631.5 17.9h2.1v1.5h-2.1zM615.5 19.3h2.1v1.5h-2.1zM609.5 22.1h2.1v1.5h-2.1zM623.5 23.5h2.1v1.5h-2.1zM603.5 24.9h2.1v1.5h-2.1zM601.5 26.3h2.1v1.5h-2.1zM617.5 26.3h2.1v1.5h-2.1zM595.5 29.1h2.1v1.5h-2.1zM613.5 29.1h2.1v1.5h-2.1zM589.5 30.5h2.1v1.5h-2.1zM585.5 31.9h2.1v1.5h-2.1zM577.5 36.1h2.1v1.5h-2.1zM595.5 43.1h2.1v1.5h-2.1zM569.5 45.9h2.1v1.5h-2.1zM597.5 47.3h2.1v1.5h-2.1zM593.5 48.7h2.1v1.5h-2.1zM583.5 52.9h2.1v1.5h-2.1zM571.5 54.3h2.1v1.5h-2.1zM595.5 97.7h2.1v1.5h-2.1z"/>
<path fill="#00ffff" d="M627.5 16.5h2.1v1.5h-2.1zM631.5 16.5h2.1v1.5h-2.1zM617.5 19.3h2.1v1.5h-2.1zM629.5 19.3h2.1v1.5h-2.1zM613.5 20.7h2.1v1.5h-2.1zM627.5 20.7h2.1v1.5h-2.1zM625.5 22.1h2.1v1.5h-2.1zM607.5 23.5h2.1v1.5h-2.1zM619.5 24.9h2.1v1.5h-2.1zM599.5 27.7h2.1v1.5h-2.1zM591.5 30.5h2.1v1.5h-2.1zM611.5 30.5h2.1v1.5h-2.1zM581.5 33.3h2.1v1.5h-2.1zM605.5 36.1h2.1v1.5h-2.1zM575.5 38.9h2.1v1.5h-2.1zM599.5 40.3h2.1v1.5h-2.1zM597.5 41.7h2.1v1.5h-2.1zM589.5 45.9h2.1v1.5h-2.1zM567.5 48.7h2.1v1.5h-2.1zM583.5 48.7h2.1v1.5h-2.1zM589.5 50.1h2.1v1.5h-2.1zM577.5 83.7h2.1v1.5h-2.1zM579.5 86.5h2.1v1.5h-2.1z"/>
<path fill="#1affe5" d="M629.5 16.5h2.1v1.5h-2.1zM623.5 17.9h2.1v1.5h-2.1zM619.5 19.3h2.1v1.5h-2.1zM621.5 23.5h2.1v1.5h-2.1zM605.5 24.9h2.1v1.5h-2.1zM615.5 26.3h2.1v1.5h-2.1zM597.5 29.1h2.1v1.5h-2.1zM587.5 31.9h2.1v1.5h-2.1zM609.5 31.9h2.1v1.5h-2.1zM579.5 34.7h2.1v1.5h-2.1zM603.5 37.5h2.1v1.5h-2.1zM601.5 38.9h2.1v1.5h-2.1zM573.5 41.7h2.1v1.5h-2.1zM591.5 44.5h2.1v1.5h-2.1zM585.5 47.3h2.1v1.5h-2.1zM591.5 47.3h2.1v1.5h-2.1zM573.5 54.3h2.1v1.5h-2.1zM593.5 96.3h2.1v1.5h-2.1z"/>
<path fill="#33ffcc" d="M625.5 17.9h2.1v1.5h-2.1zM629.5 17.9h2.1v1.5h-2.1zM615.5 20.7h2.1v1.5h-2.1zM625.5 20.7h2.1v1.5h-2.1zM611.5 22.1h2.1v1.5h-2.1zM623.5 22.1h2.1v1.5h-2.1zM617.5 24.9h2.1v1.5h-2.1zM603.5 26.3h2.1v1.5h-2.1zM613.5 27.7h2.1v1.5h-2.1zM593.5 30.5h2.1v1.5h-2.1zM583.5 33.3h2.1v1.5h-2.1zM607.5 33.3h2.1v1.5h-2.1zM577.5 37.5h2.1v1.5h-2.1zM593.5 43.1h2.1v1.5h-2.1zM567.5 51.5h2.1v1.5h-2.1zM585.5 89.3h2.1v1.5h-2.1zM589.5 93.5h2.1v1.5h-2.1zM591.5 94.9h2.1v1.5h-2.1z"/>
<path fill="#4dffb2" d="M627.5 17.9h2.1v1.5h-2.1zM621.5 19.3h2.1v1.5h-2.1zM627.5 19.3h2.1v1.5h-2.1zM609.5 23.5h2.1v1.5h-2.1zM619.5 23.5h2.1v1.5h-2.1zM601.5 27.7h2.1v1.5h-2.1zM611.5 29.1h2.1v1.5h-2.1zM595.5 30.5h2.1v1.5h-2.1zM589.5 31.9h2.1v1.5h-2.1zM605.5 34.7h2.1v1.5h-2.1zM595.5 41.7h2.1v1.5h-2.1zM571.5 44.5h2.1v1.5h-2.1zM587.5 45.9h2.1v1.5h-2.1zM593.5 47.3h2.1v1.5h-2.1zM567.5 50.1h2.1v1.5h-2.1zM585.5 51.5h2.1v1.5h-2.1zM581.5 78.1h2.1v1.5h-2.1zM583.5 86.5h2.1v1.5h-2.1z"/>
<path fill="#66ff99" d="M623.5 19.3h2.1v1.5h-2.1zM617.5 20.7h2.1v1.5h-2.1zM621.5 22.1h2.1v1.5h-2.1zM607.5 24.9h2.1v1.5h-2.1zM599.5 29.1h2.1v1.5h-2.1zM609.5 30.5h2.1v1.5h-2.1zM585.5 33.3h2.1v1.5h-2.1zM603.5 36.1h2.1v1.5h-2.1zM575.5 40.3h2.1v1.5h-2.1zM597.5 40.3h2.1v1.5h-2.1zM589.5 44.5h2.1v1.5h-2.1zM595.5 47.3h2.1v1.5h-2.1zM585.5 48.7h2.1v1.5h-2.1z"/>
<path fill="#99ff66" d="M625.5 19.3h2.1v1.5h-2.1zM619.5 20.7h2.1v1.5h-2.1zM611.5 23.5h2.1v1.5h-2.1zM617.5 23.5h2.1v1.5h-2.1zM587.5 33.3h2.1v1.5h-2.1zM593.5 41.7h2.1v1.5h-2.1zM583.5 47.3h2.1v1.5h-2.1zM583.5 87.9h2.1v1.5h-2.1zM585.5 90.7h2.1v1.5h-2.1z"/>
<path fill="#b3ff4c" d="M621.5 20.7h2.1v1.5h-2.1zM615.5 22.1h2.1v1.5h-2.1zM619.5 22.1h2.1v1.5h-2.1zM603.5 27.7h2.1v1.5h-2.1zM611.5 27.7h2.1v1.5h-2.1zM593.5 31.9h2.1v1.5h-2.1zM605.5 33.3h2.1v1.5h-2.1zM577.5 38.9h2.1v1.5h-2.1zM585.5 45.9h2.1v1.5h-2.1zM569.5 47.3h2.1v1.5h-2.1zM587.5 48.7h2.1v1.5h-2.1zM587.5 50.1h2.1v1.5h-2.1zM583.5 89.3h2.1v1.5h-2.1z"/>
<path fill="#80ff80" d="M623.5 20.7h2.1v1.5h-2.1zM613.5 22.1h2.1v1.5h-2.1zM615.5 24.9h2.1v1.5h-2.1zM605.5 26.3h2.1v1.5h-2.1zM613.5 26.3h2.1v1.5h-2.1zM597.5 30.5h2.1v1.5h-2.1zM591.5 31.9h2.1v1.5h-2.1zM607.5 31.9h2.1v1.5h-2.1zM581.5 34.7h2.1v1.5h-2.1zM579.5 36.1h2.1v1.5h-2.1zM601.5 37.5h2.1v1.5h-2.1zM599.5 38.9h2.1v1.5h-2.1zM591.5 43.1h2.1v1.5h-2.1zM591.5 48.7h2.1v1.5h-2.1zM575.5 61.3h2.1v1.5h-2.1zM581.5 61.3h2.1v1.5h-2.1zM577.5 82.3h2.1v1.5h-2.1zM581.5 87.9h2.1v1.5h-2.1zM587.5 92.1h2.1v1.5h-2.1z"/>
<path fill="#e5ff1a" d="M617.5 22.1h2.1v1.5h-2.1zM607.5 26.3h2.1v1.5h-2.1zM599.5 30.5h2.1v1.5h-2.1zM595.5 31.9h2.1v1.5h-2.1zM589.5 33.3h2.1v1.5h-2.1zM597.5 38.9h2.1v1.5h-2.1zM587.5 44.5h2.1v1.5h-2.1zM569.5 52.9h2.1v1.5h-2.1zM573.5 52.9h2.1v1.5h-2.1z"/>
<path fill="#ffff00" d="M613.5 23.5h4.1v1.5h-4.1zM613.5 24.9h2.1v1.5h-2.1zM607.5 30.5h2.1v1.5h-2.1zM585.5 34.7h2.1v1.5h-2.1zM601.5 36.1h2.1v1.5h-2.1zM579.5 37.5h2.1v1.5h-2.1zM599.5 37.5h2.1v1.5h-2.1zM589.5 43.1h2.1v1.5h-2.1zM589.5 48.7h2.1v1.5h-2.1z"/>
<path fill="#ccff33" d="M609.5 24.9h2.1v1.5h-2.1zM601.5 29.1h2.1v1.5h-2.1zM609.5 29.1h2.1v1.5h-2.1zM583.5 34.7h2.1v1.5h-2.1zM603.5 34.7h2.1v1.5h-2.1zM595.5 40.3h2.1v1.5h-2.1zM573.5 43.1h2.1v1.5h-2.1zM581.5 79.5h2.1v1.5h-2.1z"/>
<path fill="#ffcc00" d="M611.5 24.9h2.1v1.5h-2.1zM611.5 26.3h2.1v1.5h-2.1zM603.5 29.1h2.1v1.5h-2.1zM605.5 31.9h2.1v1.5h-2.1zM581.5 36.1h2.1v1.5h-2.1zM571.5 45.9h2.1v1.5h-2.1zM583.5 51.5h2.1v1.5h-2.1zM577.5 80.9h2.1v1.5h-2.1zM579.5 85.1h2.1v1.5h-2.1z"/>
<path fill="#ff9900" d="M609.5 26.3h2.1v1.5h-2.1zM601.5 30.5h2.1v1.5h-2.1zM593.5 33.3h2.1v1.5h-2.1zM595.5 38.9h2.1v1.5h-2.1zM577.5 40.3h2.1v1.5h-2.1zM585.5 44.5h2.1v1.5h-2.1zM571.5 52.9h2.1v1.5h-2.1zM581.5 82.3h2.1v1.5h-2.1z"/>
<path fill="#ffe500" d="M605.5 27.7h2.1v1.5h-2.1zM597.5 31.9h2.1v1.5h-2.1zM591.5 33.3h2.1v1.5h-2.1zM591.5 41.7h2.1v1.5h-2.1zM583.5 50.1h2.1v1.5h-2.1zM581.5 80.9h2.1v1.5h-2.1z"/>
<path fill="#ff8000" d="M607.5 27.7h2.1v1.5h-2.1zM607.5 29.1h2.1v1.5h-2.1zM601.5 34.7h2.1v1.5h-2.1zM583.5 36.1h2.1v1.5h-2.1zM597.5 37.5h2.1v1.5h-2.1zM585.5 50.1h2.1v1.5h-2.1zM581.5 85.1h2.1v1.5h-2.1z"/>
<path fill="#ffb300" d="M609.5 27.7h2.1v1.5h-2.1zM603.5 33.3h2.1v1.5h-2.1zM587.5 34.7h2.1v1.5h-2.1zM593.5 40.3h2.1v1.5h-2.1zM583.5 45.9h2.1v1.5h-2.1zM575.5 59.9h2.1v1.5h-2.1zM581.5 59.9h2.1v1.5h-2.1zM581.5 86.5h2.1v1.5h-2.1z"/>
<path fill="#ff6600" d="M605.5 29.1h2.1v1.5h-2.1zM605.5 30.5h2.1v1.5h-2.1zM599.5 31.9h2.1v1.5h-2.1zM595.5 33.3h2.1v1.5h-2.1zM589.5 34.7h2.1v1.5h-2.1zM599.5 36.1h2.1v1.5h-2.1zM579.5 38.9h2.1v1.5h-2.1zM587.5 43.1h2.1v1.5h-2.1z"/>
<path fill="#ff4c00" d="M603.5 30.5h2.1v1.5h-2.1zM603.5 31.9h2.1v1.5h-2.1zM589.5 41.7h2.1v1.5h-2.1zM581.5 83.7h2.1v1.5h-2.1z"/>
<path fill="#ff3300" d="M601.5 31.9h2.1v1.5h-2.1zM601.5 33.3h2.1v1.5h-2.1zM585.5 36.1h2.1v1.5h-2.1zM581.5 37.5h2.1v1.5h-2.1zM591.5 40.3h2.1v1.5h-2.1z"/>
<path fill="#ff1a00" d="M597.5 33.3h4.1v1.5h-4.1zM591.5 34.7h2.1v1.5h-2.1zM599.5 34.7h2.1v1.5h-2.1zM573.5 51.5h2.1v1.5h-2.1zM579.5 83.7h2.1v1.5h-2.1z"/>
<path fill="#e50000" d="M593.5 34.7h4.1v1.5h-4.1zM587.5 36.1h2.1v1.5h-2.1zM593.5 36.1h4.1v1.5h-4.1zM595.5 37.5h2.1v1.5h-2.1z"/>
<path fill="#ff0000" d="M597.5 34.7h2.1v1.5h-2.1zM597.5 36.1h2.1v1.5h-2.1zM593.5 38.9h2.1v1.5h-2.1zM575.5 58.5h2.1v1.5h-2.1zM581.5 58.5h2.1v1.5h-2.1zM577.5 79.5h2.1v1.5h-2.1zM579.5 82.3h2.1v1.5h-2.1z"/>
<path fill="#b30000" d="M589.5 36.1h2.1v1.5h-2.1zM589.5 37.5h2.1v1.5h-2.1zM589.5 38.9h2.1v1.5h-2.1zM589.5 40.3h2.1v1.5h-2.1zM573.5 44.5h2.1v1.5h-2.1z"/>
<path fill="#cc0000" d="M591.5 36.1h2.1v1.5h-2.1zM591.5 37.5h4.1v1.5h-4.1zM591.5 38.9h2.1v1.5h-2.1zM585.5 43.1h2.1v1.5h-2.1zM583.5 44.5h2.1v1.5h-2.1zM569.5 48.7h2.1v1.5h-2.1zM579.5 80.9h2.1v1.5h-2.1z"/>
<path fill="#990000" d="M583.5 37.5h6.1v1.5h-6.1zM585.5 38.9h4.1v1.5h-4.1zM579.5 40.3h2.1v1.5h-2.1zM587.5 40.3h2.1v1.5h-2.1zM587.5 41.7h2.1v1.5h-2.1zM579.5 79.5h2.1v1.5h-2.1z"/>
<path fill="#800000" d="M581.5 38.9h4.1v1.5h-4.1zM581.5 40.3h6.1v1.5h-6.1zM575.5 41.7h12.1v1.5h-12.1zM575.5 43.1h10.1v1.5h-10.1zM575.5 44.5h8.1v1.5h-8.1zM573.5 45.9h10.1v1.5h-10.1zM571.5 47.3h12.1v1.5h-12.1zM571.5 48.7h12.1v1.5h-12.1zM569.5 50.1h14.1v1.5h-14.1zM569.5 51.5h4.1v1.5h-4.1zM575.5 51.5h8.1v1.5h-8.1zM575.5 52.9h8.1v1.5h-8.1zM575.5 54.3h8.1v1.5h-8.1zM575.5 55.7h8.1v1.5h-8.1zM575.5 57.1h8.1v1.5h-8.1zM577.5 58.5h4.1v1.5h-4.1zM577.5 59.9h4.1v1.5h-4.1zM577.5 61.3h4.1v1.5h-4.1zM577.5 62.7h4.1v1.5h-4.1zM577.5 64.1h4.1v1.5h-4.1zM577.5 65.5h4.1v1.5h-4.1zM577.5 66.9h4.1v1.5h-4.1zM577.5 68.3h4.1v1.5h-4.1zM577.5 69.7h4.1v1.5h-4.1zM577.5 71.1h4.1v1.5h-4.1zM577.5 72.5h4.1v1.5h-4.1zM577.5 73.9h4.1v1.5h-4.1zM577.5 75.3h4.1v1.5h-4.1zM577.5 76.7h4.1v1.5h-4.1zM577.5 78.1h4.1v1.5h-4.1z"/>
<path fill="#000099" d="M597.5 44.5h2.1v1.5h-2.1z"/>
<path fill="#0000b2" d="M599.5 44.5h2.1v1.5h-2.1zM583.5 54.3h2.1v1.5h-2.1z"/>
<path fill="#0033ff" d="M593.5 45.9h2.1v1.5h-2.1zM577.5 85.1h2.1v1.5h-2.1zM595.5 99.1h2.1v1.5h-2.1z"/>
<path fill="#0066ff" d="M595.5 45.9h2.1v1.5h-2.1zM599.5 47.3h2.1v1.5h-2.1zM595.5 48.7h2.1v1.5h-2.1zM591.5 50.1h2.1v1.5h-2.1zM593.5 94.9h2.1v1.5h-2.1zM591.5 96.3h2.1v1.5h-2.1zM595.5 96.3h2.1v1.5h-2.1z"/>
<path fill="#0080ff" d="M597.5 45.9h2.1v1.5h-2.1zM587.5 51.5h2.1v1.5h-2.1zM575.5 62.7h2.1v1.5h-2.1zM581.5 62.7h2.1v1.5h-2.1zM581.5 89.3h2.1v1.5h-2.1zM589.5 92.1h2.1v1.5h-2.1zM591.5 93.5h2.1v1.5h-2.1zM589.5 94.9h2.1v1.5h-2.1zM597.5 97.7h2.1v1.5h-2.1zM599.5 99.1h2.1v1.5h-2.1zM599.5 100.5h4.1v1.5h-4.1z"/>
<path fill="#0099ff" d="M599.5 45.9h2.1v1.5h-2.1zM583.5 90.7h2.1v1.5h-2.1zM585.5 92.1h2.1v1.5h-2.1zM587.5 93.5h2.1v1.5h-2.1z"/>
<path fill="#0000e6" d="M601.5 45.9h2.1v1.5h-2.1zM597.5 48.7h2.1v1.5h-2.1zM593.5 50.1h2.1v1.5h-2.1zM589.5 51.5h2.1v1.5h-2.1z"/>
<path fill="#0000cc" d="M601.5 47.3h2.1v1.5h-2.1z"/>
<path fill="#0019ff" d="M585.5 52.9h2.1v1.5h-2.1zM583.5 83.7h2.1v1.5h-2.1z"/>
<path fill="#004dff" d="M581.5 75.3h2.1v1.5h-2.1zM585.5 87.9h2.1v1.5h-2.1zM593.5 97.7h2.1v1.5h-2.1zM601.5 101.9h2.1v1.5h-2.1z"/>
</g>
<clipPath id="clk"><rect x="647.3" y="12.8" width="91.3" height="91"/></clipPath><g clip-path="url(#clk)" shape-rendering="crispEdges">
<path fill="#990000" d="M725.3 12.6h2.1v1.5h-2.1zM737.3 12.6h2.1v1.5h-2.1zM733.3 14.0h2.1v1.5h-2.1zM731.3 15.4h2.1v1.5h-2.1zM729.3 16.8h2.1v1.5h-2.1zM715.3 25.2h2.1v1.5h-2.1zM709.3 29.4h2.1v1.5h-2.1zM697.3 39.2h2.1v1.5h-2.1zM671.3 40.6h2.1v1.5h-2.1zM673.3 42.0h2.1v1.5h-2.1zM681.3 53.2h2.1v1.5h-2.1zM683.3 84.0h2.1v1.5h-2.1zM695.3 93.8h2.1v1.5h-2.1zM681.3 98.0h4.1v1.5h-4.1zM715.3 100.8h2.1v1.5h-2.1z"/>
<path fill="#800000" d="M727.3 12.6h10.1v1.5h-10.1zM721.3 14.0h12.1v1.5h-12.1zM717.3 15.4h14.1v1.5h-14.1zM715.3 16.8h14.1v1.5h-14.1zM711.3 18.2h16.1v1.5h-16.1zM707.3 19.6h18.1v1.5h-18.1zM705.3 21.0h18.1v1.5h-18.1zM703.3 22.4h18.1v1.5h-18.1zM701.3 23.8h18.1v1.5h-18.1zM697.3 25.2h18.1v1.5h-18.1zM695.3 26.6h18.1v1.5h-18.1zM695.3 28.0h16.1v1.5h-16.1zM693.3 29.4h16.1v1.5h-16.1zM693.3 30.8h16.1v1.5h-16.1zM691.3 32.2h16.1v1.5h-16.1zM691.3 33.6h14.1v1.5h-14.1zM689.3 35.0h14.1v1.5h-14.1zM689.3 36.4h12.1v1.5h-12.1zM667.3 37.8h2.1v1.5h-2.1zM687.3 37.8h12.1v1.5h-12.1zM669.3 39.2h2.1v1.5h-2.1zM687.3 39.2h10.1v1.5h-10.1zM685.3 40.6h12.1v1.5h-12.1zM683.3 42.0h12.1v1.5h-12.1zM673.3 43.4h20.1v1.5h-20.1zM673.3 44.8h18.1v1.5h-18.1zM675.3 46.2h14.1v1.5h-14.1zM675.3 47.6h12.1v1.5h-12.1zM675.3 49.0h8.1v1.5h-8.1zM675.3 50.4h6.1v1.5h-6.1zM677.3 51.8h4.1v1.5h-4.1zM677.3 53.2h4.1v1.5h-4.1zM677.3 54.6h6.1v1.5h-6.1zM679.3 56.0h6.1v1.5h-6.1zM679.3 57.4h6.1v1.5h-6.1zM679.3 58.8h6.1v1.5h-6.1zM679.3 60.2h6.1v1.5h-6.1zM679.3 61.6h6.1v1.5h-6.1zM677.3 63.0h8.1v1.5h-8.1zM679.3 64.4h4.1v1.5h-4.1zM679.3 65.8h4.1v1.5h-4.1zM679.3 67.2h4.1v1.5h-4.1zM679.3 68.6h4.1v1.5h-4.1zM679.3 70.0h4.1v1.5h-4.1zM679.3 71.4h4.1v1.5h-4.1zM679.3 72.8h4.1v1.5h-4.1zM679.3 74.2h4.1v1.5h-4.1zM679.3 75.6h4.1v1.5h-4.1zM679.3 77.0h4.1v1.5h-4.1zM679.3 78.4h4.1v1.5h-4.1zM679.3 79.8h4.1v1.5h-4.1zM679.3 81.2h4.1v1.5h-4.1zM679.3 82.6h4.1v1.5h-4.1zM679.3 84.0h4.1v1.5h-4.1zM679.3 85.4h4.1v1.5h-4.1zM685.3 86.8h2.1v1.5h-2.1zM677.3 88.2h12.1v1.5h-12.1zM677.3 89.6h14.1v1.5h-14.1zM673.3 91.0h20.1v1.5h-20.1zM673.3 92.4h22.1v1.5h-22.1zM677.3 93.8h18.1v1.5h-18.1zM679.3 95.2h18.1v1.5h-18.1zM679.3 96.6h20.1v1.5h-20.1zM679.3 98.0h2.1v1.5h-2.1zM685.3 98.0h16.1v1.5h-16.1zM689.3 99.4h20.1v1.5h-20.1zM693.3 100.8h22.1v1.5h-22.1zM697.3 102.2h26.1v1.5h-26.1zM705.3 103.6h24.1v1.5h-24.1z"/>
<path fill="#cc0000" d="M735.3 14.0h2.1v1.5h-2.1zM723.3 21.0h2.1v1.5h-2.1zM657.3 33.6h2.1v1.5h-2.1zM699.3 37.8h2.1v1.5h-2.1zM697.3 95.2h2.1v1.5h-2.1zM709.3 99.4h2.1v1.5h-2.1zM723.3 102.2h2.1v1.5h-2.1z"/>
<path fill="#e50000" d="M737.3 14.0h2.1v1.5h-2.1zM733.3 15.4h2.1v1.5h-2.1zM731.3 16.8h2.1v1.5h-2.1zM721.3 22.4h2.1v1.5h-2.1zM701.3 36.4h2.1v1.5h-2.1zM675.3 42.0h8.1v1.5h-8.1zM683.3 82.6h2.1v1.5h-2.1zM717.3 100.8h2.1v1.5h-2.1zM701.3 103.6h2.1v1.5h-2.1z"/>
<path fill="#ff1a00" d="M735.3 15.4h2.1v1.5h-2.1zM725.3 21.0h2.1v1.5h-2.1zM717.3 25.2h2.1v1.5h-2.1zM705.3 33.6h2.1v1.5h-2.1zM683.3 40.6h2.1v1.5h-2.1zM711.3 99.4h2.1v1.5h-2.1zM725.3 102.2h2.1v1.5h-2.1zM699.3 103.6h2.1v1.5h-2.1z"/>
<path fill="#ff3300" d="M737.3 15.4h2.1v1.5h-2.1zM733.3 16.8h2.1v1.5h-2.1zM731.3 18.2h2.1v1.5h-2.1zM723.3 22.4h2.1v1.5h-2.1zM715.3 26.6h2.1v1.5h-2.1zM693.3 28.0h2.1v1.5h-2.1zM707.3 32.2h2.1v1.5h-2.1zM689.3 53.2h2.1v1.5h-2.1zM685.3 57.4h2.1v1.5h-2.1zM677.3 64.4h2.1v1.5h-2.1zM679.3 86.8h2.1v1.5h-2.1zM691.3 89.6h2.1v1.5h-2.1zM719.3 100.8h2.1v1.5h-2.1z"/>
<path fill="#ff6600" d="M735.3 16.8h2.1v1.5h-2.1zM727.3 21.0h2.1v1.5h-2.1zM713.3 28.0h2.1v1.5h-2.1zM709.3 30.8h2.1v1.5h-2.1zM689.3 33.6h2.1v1.5h-2.1zM687.3 36.4h2.1v1.5h-2.1zM691.3 44.8h2.1v1.5h-2.1zM703.3 47.6h2.1v1.5h-2.1zM687.3 53.2h2.1v1.5h-2.1zM683.3 85.4h2.1v1.5h-2.1zM693.3 91.0h2.1v1.5h-2.1zM713.3 99.4h2.1v1.5h-2.1zM727.3 102.2h2.1v1.5h-2.1z"/>
<path fill="#ff8000" d="M737.3 16.8h2.1v1.5h-2.1zM733.3 18.2h2.1v1.5h-2.1zM725.3 22.4h2.1v1.5h-2.1zM719.3 25.2h2.1v1.5h-2.1zM711.3 29.4h2.1v1.5h-2.1zM659.3 33.6h2.1v1.5h-2.1zM685.3 53.2h2.1v1.5h-2.1zM677.3 86.8h2.1v1.5h-2.1zM693.3 102.2h2.1v1.5h-2.1zM697.3 103.6h2.1v1.5h-2.1z"/>
<path fill="#b30000" d="M727.3 18.2h2.1v1.5h-2.1zM725.3 19.6h2.1v1.5h-2.1zM699.3 23.8h2.1v1.5h-2.1zM713.3 26.6h2.1v1.5h-2.1zM711.3 28.0h2.1v1.5h-2.1zM661.3 35.0h2.1v1.5h-2.1zM683.3 49.0h2.1v1.5h-2.1zM683.3 54.6h6.1v1.5h-6.1zM685.3 56.0h2.1v1.5h-2.1zM681.3 86.8h4.1v1.5h-4.1zM701.3 98.0h2.1v1.5h-2.1zM703.3 103.6h2.1v1.5h-2.1z"/>
<path fill="#ff0000" d="M729.3 18.2h2.1v1.5h-2.1zM727.3 19.6h2.1v1.5h-2.1zM719.3 23.8h2.1v1.5h-2.1zM703.3 35.0h2.1v1.5h-2.1zM665.3 36.4h2.1v1.5h-2.1zM685.3 39.2h2.1v1.5h-2.1zM681.3 50.4h2.1v1.5h-2.1zM681.3 51.8h2.1v1.5h-2.1zM683.3 64.4h2.1v1.5h-2.1zM699.3 96.6h2.1v1.5h-2.1zM703.3 98.0h2.1v1.5h-2.1zM687.3 99.4h2.1v1.5h-2.1zM691.3 100.8h2.1v1.5h-2.1zM695.3 102.2h2.1v1.5h-2.1z"/>
<path fill="#ffb300" d="M735.3 18.2h2.1v1.5h-2.1zM729.3 21.0h2.1v1.5h-2.1zM695.3 42.0h2.1v1.5h-2.1zM697.3 93.8h2.1v1.5h-2.1zM685.3 99.4h2.1v1.5h-2.1zM715.3 99.4h2.1v1.5h-2.1z"/>
<path fill="#ffcc00" d="M737.3 18.2h2.1v1.5h-2.1zM733.3 19.6h2.1v1.5h-2.1zM727.3 22.4h2.1v1.5h-2.1zM721.3 25.2h2.1v1.5h-2.1zM667.3 36.4h2.1v1.5h-2.1zM697.3 40.6h2.1v1.5h-2.1zM713.3 46.2h2.1v1.5h-2.1zM701.3 47.6h2.1v1.5h-2.1zM701.3 96.6h2.1v1.5h-2.1z"/>
<path fill="#ff4c00" d="M729.3 19.6h2.1v1.5h-2.1zM721.3 23.8h2.1v1.5h-2.1zM695.3 25.2h2.1v1.5h-2.1zM691.3 30.8h2.1v1.5h-2.1zM673.3 40.6h10.1v1.5h-10.1zM705.3 98.0h2.1v1.5h-2.1z"/>
<path fill="#ff9900" d="M731.3 19.6h2.1v1.5h-2.1zM723.3 23.8h2.1v1.5h-2.1zM717.3 26.6h2.1v1.5h-2.1zM663.3 35.0h2.1v1.5h-2.1zM669.3 37.8h2.1v1.5h-2.1zM671.3 39.2h14.1v1.5h-14.1zM693.3 43.4h2.1v1.5h-2.1zM689.3 46.2h2.1v1.5h-2.1zM715.3 46.2h2.1v1.5h-2.1zM683.3 53.2h2.1v1.5h-2.1zM683.3 65.8h2.1v1.5h-2.1zM695.3 92.4h2.1v1.5h-2.1zM707.3 98.0h2.1v1.5h-2.1zM689.3 100.8h2.1v1.5h-2.1zM721.3 100.8h2.1v1.5h-2.1z"/>
<path fill="#ffff00" d="M735.3 19.6h2.1v1.5h-2.1zM729.3 22.4h2.1v1.5h-2.1zM719.3 26.6h2.1v1.5h-2.1zM691.3 29.4h2.1v1.5h-2.1zM705.3 35.0h2.1v1.5h-2.1zM703.3 36.4h2.1v1.5h-2.1zM671.3 37.8h16.1v1.5h-16.1zM685.3 58.8h2.1v1.5h-2.1zM685.3 60.2h2.1v1.5h-2.1zM717.3 99.4h2.1v1.5h-2.1z"/>
<path fill="#ccff33" d="M737.3 19.6h2.1v1.5h-2.1zM731.3 22.4h2.1v1.5h-2.1zM727.3 23.8h2.1v1.5h-2.1zM713.3 29.4h2.1v1.5h-2.1zM711.3 30.8h2.1v1.5h-2.1zM689.3 32.2h2.1v1.5h-2.1zM711.3 98.0h2.1v1.5h-2.1zM687.3 100.8h2.1v1.5h-2.1zM725.3 100.8h2.1v1.5h-2.1z"/>
<path fill="#ffe500" d="M731.3 21.0h2.1v1.5h-2.1zM725.3 23.8h2.1v1.5h-2.1zM693.3 26.6h2.1v1.5h-2.1zM715.3 28.0h2.1v1.5h-2.1zM701.3 37.8h2.1v1.5h-2.1zM699.3 39.2h2.1v1.5h-2.1zM711.3 46.2h2.1v1.5h-2.1zM687.3 47.6h2.1v1.5h-2.1zM697.3 49.0h2.1v1.5h-2.1zM689.3 51.8h2.1v1.5h-2.1zM699.3 95.2h2.1v1.5h-2.1zM709.3 98.0h2.1v1.5h-2.1zM723.3 100.8h2.1v1.5h-2.1z"/>
<path fill="#e5ff1a" d="M733.3 21.0h2.1v1.5h-2.1zM723.3 25.2h2.1v1.5h-2.1zM709.3 32.2h2.1v1.5h-2.1zM731.3 44.8h2.1v1.5h-2.1zM709.3 46.2h2.1v1.5h-2.1zM685.3 49.0h2.1v1.5h-2.1zM687.3 51.8h2.1v1.5h-2.1zM703.3 96.6h2.1v1.5h-2.1zM681.3 99.4h4.1v1.5h-4.1zM691.3 102.2h2.1v1.5h-2.1zM695.3 103.6h2.1v1.5h-2.1z"/>
<path fill="#b3ff4c" d="M735.3 21.0h2.1v1.5h-2.1zM725.3 25.2h2.1v1.5h-2.1zM721.3 26.6h2.1v1.5h-2.1zM717.3 28.0h2.1v1.5h-2.1zM729.3 44.8h2.1v1.5h-2.1zM707.3 46.2h2.1v1.5h-2.1zM699.3 47.6h2.1v1.5h-2.1zM695.3 49.0h2.1v1.5h-2.1zM683.3 50.4h2.1v1.5h-2.1zM691.3 50.4h2.1v1.5h-2.1zM685.3 51.8h2.1v1.5h-2.1zM685.3 61.6h2.1v1.5h-2.1zM677.3 65.8h2.1v1.5h-2.1zM683.3 67.2h2.1v1.5h-2.1zM719.3 99.4h2.1v1.5h-2.1z"/>
<path fill="#80ff80" d="M737.3 21.0h2.1v1.5h-2.1zM665.3 35.0h2.1v1.5h-2.1zM703.3 46.2h2.1v1.5h-2.1zM713.3 98.0h2.1v1.5h-2.1zM727.3 100.8h2.1v1.5h-2.1z"/>
<path fill="#99ff66" d="M733.3 22.4h2.1v1.5h-2.1zM729.3 23.8h2.1v1.5h-2.1zM661.3 33.6h2.1v1.5h-2.1zM687.3 35.0h2.1v1.5h-2.1zM669.3 36.4h18.1v1.5h-18.1zM705.3 46.2h2.1v1.5h-2.1zM683.3 51.8h2.1v1.5h-2.1zM705.3 96.6h2.1v1.5h-2.1z"/>
<path fill="#66ff99" d="M735.3 22.4h2.1v1.5h-2.1zM731.3 23.8h2.1v1.5h-2.1zM727.3 25.2h2.1v1.5h-2.1zM723.3 26.6h2.1v1.5h-2.1zM719.3 28.0h2.1v1.5h-2.1zM715.3 29.4h2.1v1.5h-2.1zM727.3 44.8h2.1v1.5h-2.1zM689.3 50.4h2.1v1.5h-2.1zM693.3 103.6h2.1v1.5h-2.1z"/>
<path fill="#33ffcc" d="M737.3 22.4h2.1v1.5h-2.1zM733.3 23.8h2.1v1.5h-2.1zM729.3 25.2h2.1v1.5h-2.1zM725.3 26.6h2.1v1.5h-2.1zM721.3 28.0h2.1v1.5h-2.1zM705.3 36.4h2.1v1.5h-2.1zM725.3 44.8h2.1v1.5h-2.1zM701.3 46.2h2.1v1.5h-2.1zM697.3 47.6h2.1v1.5h-2.1zM699.3 93.8h2.1v1.5h-2.1zM715.3 98.0h2.1v1.5h-2.1zM689.3 102.2h2.1v1.5h-2.1z"/>
<path fill="#00ffff" d="M735.3 23.8h2.1v1.5h-2.1zM731.3 25.2h2.1v1.5h-2.1zM727.3 26.6h2.1v1.5h-2.1zM713.3 30.8h2.1v1.5h-2.1zM711.3 32.2h2.1v1.5h-2.1zM703.3 37.8h2.1v1.5h-2.1zM701.3 39.2h2.1v1.5h-2.1zM699.3 40.6h2.1v1.5h-2.1zM697.3 42.0h2.1v1.5h-2.1zM723.3 44.8h2.1v1.5h-2.1zM691.3 46.2h2.1v1.5h-2.1zM709.3 96.6h2.1v1.5h-2.1zM723.3 99.4h2.1v1.5h-2.1z"/>
<path fill="#00e5ff" d="M737.3 23.8h2.1v1.5h-2.1zM733.3 25.2h2.1v1.5h-2.1zM723.3 28.0h2.1v1.5h-2.1zM663.3 33.6h26.1v1.5h-26.1zM695.3 43.4h2.1v1.5h-2.1zM693.3 44.8h2.1v1.5h-2.1zM721.3 44.8h2.1v1.5h-2.1zM691.3 49.0h2.1v1.5h-2.1zM685.3 50.4h2.1v1.5h-2.1zM677.3 85.4h2.1v1.5h-2.1zM717.3 98.0h2.1v1.5h-2.1z"/>
<path fill="#00b2ff" d="M735.3 25.2h2.1v1.5h-2.1zM731.3 26.6h2.1v1.5h-2.1zM725.3 28.0h2.1v1.5h-2.1zM715.3 44.8h4.1v1.5h-4.1zM699.3 46.2h2.1v1.5h-2.1zM711.3 96.6h2.1v1.5h-2.1zM725.3 99.4h2.1v1.5h-2.1zM691.3 103.6h2.1v1.5h-2.1z"/>
<path fill="#0099ff" d="M737.3 25.2h2.1v1.5h-2.1zM727.3 28.0h2.1v1.5h-2.1zM721.3 29.4h2.1v1.5h-2.1zM715.3 30.8h2.1v1.5h-2.1zM711.3 44.8h4.1v1.5h-4.1zM689.3 49.0h2.1v1.5h-2.1zM685.3 64.4h2.1v1.5h-2.1zM719.3 98.0h2.1v1.5h-2.1zM687.3 102.2h2.1v1.5h-2.1z"/>
<path fill="#00ccff" d="M729.3 26.6h2.1v1.5h-2.1zM719.3 29.4h2.1v1.5h-2.1zM719.3 44.8h2.1v1.5h-2.1zM689.3 47.6h2.1v1.5h-2.1zM695.3 47.6h2.1v1.5h-2.1zM703.3 95.2h2.1v1.5h-2.1z"/>
<path fill="#0080ff" d="M733.3 26.6h2.1v1.5h-2.1zM675.3 32.2h14.1v1.5h-14.1zM737.3 43.4h2.1v1.5h-2.1zM709.3 44.8h2.1v1.5h-2.1zM693.3 47.6h2.1v1.5h-2.1zM687.3 49.0h2.1v1.5h-2.1zM705.3 95.2h2.1v1.5h-2.1z"/>
<path fill="#0066ff" d="M735.3 26.6h2.1v1.5h-2.1zM729.3 28.0h2.1v1.5h-2.1zM723.3 29.4h2.1v1.5h-2.1zM717.3 30.8h2.1v1.5h-2.1zM703.3 44.8h6.1v1.5h-6.1zM713.3 96.6h2.1v1.5h-2.1zM681.3 100.8h4.1v1.5h-4.1z"/>
<path fill="#0033ff" d="M737.3 26.6h2.1v1.5h-2.1zM725.3 29.4h4.1v1.5h-4.1zM683.3 30.8h6.1v1.5h-6.1zM719.3 30.8h2.1v1.5h-2.1zM713.3 32.2h2.1v1.5h-2.1zM707.3 36.4h2.1v1.5h-2.1zM701.3 44.8h2.1v1.5h-2.1zM707.3 95.2h2.1v1.5h-2.1zM721.3 98.0h2.1v1.5h-2.1z"/>
<path fill="#0000ff" d="M689.3 28.0h2.1v1.5h-2.1zM735.3 28.0h4.1v1.5h-4.1zM685.3 29.4h4.1v1.5h-4.1zM729.3 29.4h10.1v1.5h-10.1zM721.3 30.8h18.1v1.5h-18.1zM715.3 32.2h8.1v1.5h-8.1zM707.3 37.8h32.1v1.5h-32.1zM703.3 39.2h36.1v1.5h-36.1zM701.3 40.6h38.1v1.5h-38.1zM699.3 42.0h40.1v1.5h-40.1zM697.3 43.4h38.1v1.5h-38.1zM695.3 44.8h6.1v1.5h-6.1zM693.3 46.2h4.1v1.5h-4.1zM701.3 93.8h4.1v1.5h-4.1zM709.3 95.2h4.1v1.5h-4.1zM717.3 96.6h2.1v1.5h-2.1zM681.3 102.2h6.1v1.5h-6.1zM683.3 103.6h6.1v1.5h-6.1z"/>
<path fill="#4dffb2" d="M691.3 28.0h2.1v1.5h-2.1zM667.3 35.0h20.1v1.5h-20.1zM693.3 49.0h2.1v1.5h-2.1zM685.3 63.0h2.1v1.5h-2.1zM697.3 92.4h2.1v1.5h-2.1zM707.3 96.6h2.1v1.5h-2.1zM721.3 99.4h2.1v1.5h-2.1z"/>
<path fill="#004dff" d="M731.3 28.0h2.1v1.5h-2.1zM689.3 29.4h2.1v1.5h-2.1zM735.3 43.4h2.1v1.5h-2.1zM697.3 46.2h2.1v1.5h-2.1z"/>
<path fill="#0019ff" d="M733.3 28.0h2.1v1.5h-2.1zM705.3 37.8h2.1v1.5h-2.1zM691.3 47.6h2.1v1.5h-2.1zM715.3 96.6h2.1v1.5h-2.1zM689.3 103.6h2.1v1.5h-2.1z"/>
<path fill="#1affe5" d="M717.3 29.4h2.1v1.5h-2.1zM689.3 30.8h2.1v1.5h-2.1zM707.3 35.0h2.1v1.5h-2.1zM687.3 50.4h2.1v1.5h-2.1zM701.3 95.2h2.1v1.5h-2.1zM685.3 100.8h2.1v1.5h-2.1z"/>
<path fill="#0000e6" d="M657.3 32.2h18.1v1.5h-18.1z"/>
</g>
<line x1="553.5" y1="13" x2="548" y2="103" stroke="#333" stroke-width="0.8" stroke-dasharray="2.5,2"/>
<line x1="575.5" y1="13" x2="565.2" y2="103" stroke="#ff3030" stroke-width="0.6" />
<line x1="589.8" y1="13" x2="576.5" y2="103" stroke="#3030ff" stroke-width="0.6" />
<line x1="633.3" y1="13" x2="611" y2="103" stroke="#30e030" stroke-width="0.6" />
<rect x="546.3" y="17.7" width="48.9" height="3.2" fill="url(#jeth)"/>
<rect x="545.5" y="12.8" width="91.8" height="90.5" fill="none" stroke="#666" stroke-width="1.2"/>
<text x="551.4" y="76.3" font-size="8" text-anchor="start" fill="#111" font-weight="normal" stroke="#111" stroke-width="0.13" >V<tspan font-size="5.5" dy="1">A</tspan></text>
<text x="571" y="75.2" font-size="5.8" text-anchor="start" fill="#ff2020" font-weight="normal" stroke="#ff2020" stroke-width="0.10" >75°</text>
<text x="583.8" y="75.2" font-size="5.8" text-anchor="start" fill="#2020ff" font-weight="normal" stroke="#2020ff" stroke-width="0.10" >80°</text>
<text x="610.1" y="75.2" font-size="5.8" text-anchor="start" fill="#20d020" font-weight="normal" stroke="#20d020" stroke-width="0.10" >85°</text>
<text x="627.9" y="89.8" font-size="9.5" text-anchor="start" fill="#111" font-weight="normal" stroke="#111" stroke-width="0.16" >(j)</text>
<text x="556.5" y="110.8" font-size="8.3" text-anchor="middle" fill="#111" font-weight="normal" stroke="#111" stroke-width="0.14" >1</text>
<line x1="556.5" y1="103.3" x2="556.5" y2="101.8" stroke="#666" stroke-width="0.6" />
<text x="576.3" y="110.8" font-size="8.3" text-anchor="middle" fill="#111" font-weight="normal" stroke="#111" stroke-width="0.14" >2</text>
<line x1="576.3" y1="103.3" x2="576.3" y2="101.8" stroke="#666" stroke-width="0.6" />
<text x="596.9" y="110.8" font-size="8.3" text-anchor="middle" fill="#111" font-weight="normal" stroke="#111" stroke-width="0.14" >3</text>
<line x1="596.9" y1="103.3" x2="596.9" y2="101.8" stroke="#666" stroke-width="0.6" />
<text x="617.5" y="110.8" font-size="8.3" text-anchor="middle" fill="#111" font-weight="normal" stroke="#111" stroke-width="0.14" >4</text>
<line x1="617.5" y1="103.3" x2="617.5" y2="101.8" stroke="#666" stroke-width="0.6" />
<text x="636.1" y="110.8" font-size="8.3" text-anchor="middle" fill="#111" font-weight="normal" stroke="#111" stroke-width="0.14" >5</text>
<line x1="636.1" y1="103.3" x2="636.1" y2="101.8" stroke="#666" stroke-width="0.6" />
<line x1="654.5" y1="13" x2="648.8" y2="103" stroke="#333" stroke-width="0.8" stroke-dasharray="2.5,2"/>
<line x1="677.4" y1="13" x2="667.6" y2="103" stroke="#ff3030" stroke-width="0.6" />
<line x1="692" y1="13" x2="678" y2="103" stroke="#3030ff" stroke-width="0.6" />
<line x1="734" y1="13" x2="712.3" y2="103" stroke="#30e030" stroke-width="0.6" />
<rect x="649.8" y="18.1" width="47.8" height="3.8" fill="url(#jeth)"/>
<rect x="647.3" y="12.8" width="91.3" height="91" fill="none" stroke="#666" stroke-width="1.2"/>
<text x="653.2" y="76.3" font-size="8" text-anchor="start" fill="#111" font-weight="normal" stroke="#111" stroke-width="0.13" >V<tspan font-size="5.5" dy="1">A</tspan></text>
<text x="674.8" y="75.2" font-size="5.8" text-anchor="start" fill="#ff2020" font-weight="normal" stroke="#ff2020" stroke-width="0.10" >75°</text>
<text x="688.1" y="75.2" font-size="5.8" text-anchor="start" fill="#2020ff" font-weight="normal" stroke="#2020ff" stroke-width="0.10" >80°</text>
<text x="713.9" y="75.2" font-size="5.8" text-anchor="start" fill="#20d020" font-weight="normal" stroke="#20d020" stroke-width="0.10" >85°</text>
<text x="726.7" y="89.8" font-size="9.5" text-anchor="start" fill="#111" font-weight="normal" stroke="#111" stroke-width="0.16" >(k)</text>
<text x="658" y="110.8" font-size="8.3" text-anchor="middle" fill="#111" font-weight="normal" stroke="#111" stroke-width="0.14" >1</text>
<line x1="659.8" y1="103.8" x2="659.8" y2="102.3" stroke="#666" stroke-width="0.6" />
<text x="677.8" y="110.8" font-size="8.3" text-anchor="middle" fill="#111" font-weight="normal" stroke="#111" stroke-width="0.14" >2</text>
<line x1="679.6" y1="103.8" x2="679.6" y2="102.3" stroke="#666" stroke-width="0.6" />
<text x="698.4" y="110.8" font-size="8.3" text-anchor="middle" fill="#111" font-weight="normal" stroke="#111" stroke-width="0.14" >3</text>
<line x1="700.2" y1="103.8" x2="700.2" y2="102.3" stroke="#666" stroke-width="0.6" />
<text x="719" y="110.8" font-size="8.3" text-anchor="middle" fill="#111" font-weight="normal" stroke="#111" stroke-width="0.14" >4</text>
<line x1="720.8" y1="103.8" x2="720.8" y2="102.3" stroke="#666" stroke-width="0.6" />
<text x="737.6" y="110.8" font-size="8.3" text-anchor="middle" fill="#111" font-weight="normal" stroke="#111" stroke-width="0.14" >5</text>
<line x1="739.4" y1="103.8" x2="739.4" y2="102.3" stroke="#666" stroke-width="0.6" />
<text x="558.4" y="16.2" font-size="3.2" text-anchor="middle" fill="#333" font-weight="normal" stroke="#333" stroke-width="0.05" >-0.8</text>
<text x="583.8" y="16.2" font-size="3.2" text-anchor="middle" fill="#333" font-weight="normal" stroke="#333" stroke-width="0.05" >-0.6</text>
<text x="570.4" y="25.2" font-size="3.4" text-anchor="middle" fill="#333" font-weight="normal" stroke="#333" stroke-width="0.06" >log<tspan font-size="2.5" dy="0.5">10</tspan><tspan dy="-0.5">_F(nT²/Hz)</tspan></text>
<text x="654" y="16.6" font-size="3.4" text-anchor="middle" fill="#333" font-weight="normal" stroke="#333" stroke-width="0.06" >1</text>
<text x="662.5" y="16.6" font-size="3.4" text-anchor="middle" fill="#333" font-weight="normal" stroke="#333" stroke-width="0.06" >30</text>
<text x="675.5" y="16.6" font-size="3.4" text-anchor="middle" fill="#333" font-weight="normal" stroke="#333" stroke-width="0.06" >20</text>
<text x="689.5" y="16.6" font-size="3.4" text-anchor="middle" fill="#333" font-weight="normal" stroke="#333" stroke-width="0.06" >10</text>
<text x="673.5" y="25.6" font-size="3.4" text-anchor="middle" fill="#333" font-weight="normal" stroke="#333" stroke-width="0.06" >dB/dB</text>
<text x="740.5" y="110.8" font-size="7" text-anchor="start" fill="#111" font-weight="normal" stroke="#111" stroke-width="0.12" >×10<tspan font-size="5" dy="-3.5">-3</tspan></text>
<text x="524.8" y="111.2" font-size="8" text-anchor="start" fill="#111" font-weight="normal" stroke="#111" stroke-width="0.13" >k (km<tspan font-size="5.5" dy="-2.8">-1</tspan><tspan dy="2.8">)</tspan></text>
<text x="544" y="47.5" font-size="8.3" text-anchor="end" fill="#111" font-weight="normal" stroke="#111" stroke-width="0.14" >0.05</text>
<text x="544" y="101.6" font-size="8.3" text-anchor="end" fill="#111" font-weight="normal" stroke="#111" stroke-width="0.14" >0.04</text>
<text x="535.8" y="62.4" font-size="8.3" text-anchor="middle" fill="#111" font-weight="normal" stroke="#111" stroke-width="0.14" transform="rotate(-90 535.8 62.4)" dy="3">f (Hz)</text>
</svg>
</body></html>
